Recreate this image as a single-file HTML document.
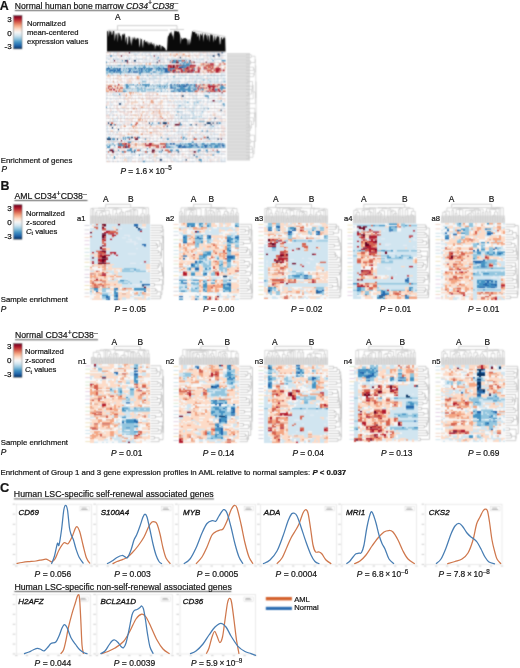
<!DOCTYPE html>
<html><head><meta charset="utf-8"><title>Figure</title>
<style>
html,body{margin:0;padding:0;background:#fff;}
body{width:520px;height:668px;overflow:hidden;}
svg{display:block;font-family:'Liberation Sans', Arial, Helvetica, sans-serif;}
text{fill:#141414;stroke:#141414;stroke-width:0.2px;}
</style></head><body><div>
<svg width="520" height="668" viewBox="0 0 520 668">
<defs><filter id="soft" x="0" y="0" width="520" height="668" filterUnits="userSpaceOnUse" color-interpolation-filters="sRGB"><feConvolveMatrix order="3" kernelMatrix="1 2 1 2 8 2 1 2 1" divisor="20" edgeMode="duplicate"/></filter></defs>
<g filter="url(#soft)"><rect width="520" height="668" fill="#fff"/>
<defs><linearGradient id="rdbu" x1="0" y1="0" x2="0" y2="1">
<stop offset="0" stop-color="#67001f"/><stop offset="0.1" stop-color="#b2182b"/><stop offset="0.2" stop-color="#d6604d"/>
<stop offset="0.3" stop-color="#f4a582"/><stop offset="0.4" stop-color="#fddbc7"/><stop offset="0.5" stop-color="#f7f7f7"/>
<stop offset="0.6" stop-color="#d1e5f0"/><stop offset="0.7" stop-color="#92c5de"/><stop offset="0.8" stop-color="#4393c3"/>
<stop offset="0.9" stop-color="#2166ac"/><stop offset="1" stop-color="#053061"/></linearGradient></defs>
<rect x="14.8" y="10.20" width="163.20" height="0.8" fill="#2a2a2a"/>
<rect x="13.7" y="15.6" width="8.30" height="33.30" fill="url(#rdbu)" stroke="#5a5a5a" stroke-width="0.45"/>
<rect x="106" y="52" width="119.60" height="110.30" fill="#ffffff"/>
<path fill="#fddbc7" d="M107.0 52.0h1.0v1.6h-1.0zM178.8 52.0h2.0v1.6h-2.0zM159.8 53.6h1.0v1.6h-1.0zM172.8 53.6h2.0v1.6h-2.0zM178.8 53.6h1.0v1.6h-1.0zM198.7 53.6h1.0v1.6h-1.0zM169.8 55.2h1.0v1.6h-1.0zM172.8 55.2h2.0v1.6h-2.0zM178.8 55.2h1.0v1.6h-1.0zM181.7 55.2h2.0v1.6h-2.0zM196.7 55.2h1.0v1.6h-1.0zM189.7 56.8h1.0v1.6h-1.0zM106.0 63.2h1.0v1.6h-1.0zM121.0 63.2h1.0v1.6h-1.0zM125.9 63.2h2.0v1.6h-2.0zM132.9 63.2h1.0v1.6h-1.0zM139.9 63.2h2.0v1.6h-2.0zM162.8 63.2h1.0v1.6h-1.0zM175.8 63.2h2.0v1.6h-2.0zM199.7 63.2h1.0v1.6h-1.0zM205.7 63.2h2.0v1.6h-2.0zM208.7 63.2h1.0v1.6h-1.0zM213.6 63.2h2.0v1.6h-2.0zM218.6 63.2h1.0v1.6h-1.0zM220.6 63.2h3.0v1.6h-3.0zM174.8 64.8h1.0v1.6h-1.0zM203.7 64.8h2.0v1.6h-2.0zM214.6 64.8h1.0v1.6h-1.0zM217.6 64.8h1.0v1.6h-1.0zM177.8 66.4h1.0v1.6h-1.0zM195.7 66.4h1.0v1.6h-1.0zM223.6 66.4h1.0v1.6h-1.0zM181.7 68.0h1.0v1.6h-1.0zM189.7 68.0h2.0v1.6h-2.0zM195.7 68.0h1.0v1.6h-1.0zM209.7 68.0h1.0v1.6h-1.0zM220.6 68.0h1.0v1.6h-1.0zM223.6 68.0h2.0v1.6h-2.0zM175.8 69.6h5.0v1.6h-5.0zM203.7 69.6h2.0v1.6h-2.0zM170.8 71.2h1.0v1.6h-1.0zM179.8 71.2h1.0v1.6h-1.0zM193.7 71.2h1.0v1.6h-1.0zM208.7 71.2h1.0v1.6h-1.0zM213.6 71.2h2.0v1.6h-2.0zM203.7 72.8h2.0v1.6h-2.0zM210.6 72.8h1.0v1.6h-1.0zM117.0 74.4h1.0v1.6h-1.0zM107.0 76.0h3.0v1.6h-3.0zM119.0 76.0h2.0v1.6h-2.0zM137.9 76.0h2.0v1.6h-2.0zM113.0 77.6h1.0v1.6h-1.0zM117.0 77.6h1.0v1.6h-1.0zM138.9 77.6h1.0v1.6h-1.0zM119.0 79.2h2.0v1.6h-2.0zM128.9 79.2h2.0v1.6h-2.0zM117.0 80.8h1.0v1.6h-1.0zM128.9 80.8h2.0v1.6h-2.0zM106.0 84.0h2.0v1.6h-2.0zM109.0 84.0h4.0v1.6h-4.0zM121.0 84.0h1.0v1.6h-1.0zM197.7 84.0h2.0v1.6h-2.0zM200.7 84.0h1.0v1.6h-1.0zM204.7 84.0h3.0v1.6h-3.0zM209.7 84.0h1.0v1.6h-1.0zM211.6 84.0h1.0v1.6h-1.0zM214.6 84.0h3.0v1.6h-3.0zM219.6 84.0h1.0v1.6h-1.0zM222.6 84.0h2.0v1.6h-2.0zM106.0 85.6h1.0v1.6h-1.0zM118.0 85.6h4.0v1.6h-4.0zM196.7 85.6h1.0v1.6h-1.0zM199.7 85.6h8.0v1.6h-8.0zM215.6 85.6h1.0v1.6h-1.0zM217.6 85.6h3.0v1.6h-3.0zM224.6 85.6h1.0v1.6h-1.0zM109.0 87.2h3.0v1.6h-3.0zM115.0 87.2h2.0v1.6h-2.0zM118.0 87.2h2.0v1.6h-2.0zM195.7 87.2h1.0v1.6h-1.0zM198.7 87.2h1.0v1.6h-1.0zM204.7 87.2h1.0v1.6h-1.0zM206.7 87.2h2.0v1.6h-2.0zM210.6 87.2h2.0v1.6h-2.0zM214.6 87.2h5.0v1.6h-5.0zM107.0 88.8h2.0v1.6h-2.0zM115.0 88.8h4.0v1.6h-4.0zM120.0 88.8h3.0v1.6h-3.0zM198.7 88.8h1.0v1.6h-1.0zM200.7 88.8h1.0v1.6h-1.0zM203.7 88.8h4.0v1.6h-4.0zM210.6 88.8h1.0v1.6h-1.0zM219.6 88.8h1.0v1.6h-1.0zM110.0 90.4h3.0v1.6h-3.0zM202.7 90.4h3.0v1.6h-3.0zM208.7 90.4h1.0v1.6h-1.0zM220.6 90.4h1.0v1.6h-1.0zM134.9 92.0h2.0v1.6h-2.0zM153.8 92.0h1.0v1.6h-1.0zM181.7 92.0h1.0v1.6h-1.0zM136.9 93.6h1.0v1.6h-1.0zM138.9 93.6h3.0v1.6h-3.0zM124.9 95.2h1.0v1.6h-1.0zM146.9 95.2h1.0v1.6h-1.0zM161.8 95.2h1.0v1.6h-1.0zM164.8 95.2h2.0v1.6h-2.0zM127.9 96.8h3.0v1.6h-3.0zM145.9 96.8h1.0v1.6h-1.0zM151.8 96.8h1.0v1.6h-1.0zM180.8 96.8h1.0v1.6h-1.0zM192.7 96.8h1.0v1.6h-1.0zM219.6 96.8h2.0v1.6h-2.0zM125.9 98.4h2.0v1.6h-2.0zM140.9 98.4h3.0v1.6h-3.0zM146.9 98.4h1.0v1.6h-1.0zM180.8 98.4h1.0v1.6h-1.0zM186.7 98.4h1.0v1.6h-1.0zM217.6 98.4h1.0v1.6h-1.0zM219.6 98.4h2.0v1.6h-2.0zM134.9 100.0h1.0v1.6h-1.0zM160.8 100.0h2.0v1.6h-2.0zM168.8 100.0h2.0v1.6h-2.0zM172.8 100.0h1.0v1.6h-1.0zM130.9 101.6h7.0v1.6h-7.0zM159.8 101.6h3.0v1.6h-3.0zM214.6 101.6h1.0v1.6h-1.0zM124.9 103.2h1.0v1.6h-1.0zM130.9 103.2h2.0v1.6h-2.0zM148.9 103.2h1.0v1.6h-1.0zM157.8 103.2h4.0v1.6h-4.0zM106.0 104.8h1.0v1.6h-1.0zM133.9 104.8h1.0v1.6h-1.0zM147.9 104.8h2.0v1.6h-2.0zM161.8 104.8h1.0v1.6h-1.0zM121.9 106.4h3.0v1.6h-3.0zM142.9 106.4h2.0v1.6h-2.0zM161.8 106.4h1.0v1.6h-1.0zM127.9 107.9h1.0v1.6h-1.0zM160.8 107.9h1.0v1.6h-1.0zM150.8 109.5h1.0v1.6h-1.0zM155.8 109.5h2.0v1.6h-2.0zM218.6 109.5h2.0v1.6h-2.0zM141.9 111.1h3.0v1.6h-3.0zM159.8 111.1h1.0v1.6h-1.0zM166.8 111.1h1.0v1.6h-1.0zM139.9 112.7h1.0v1.6h-1.0zM141.9 112.7h1.0v1.6h-1.0zM145.9 112.7h1.0v1.6h-1.0zM150.8 112.7h3.0v1.6h-3.0zM159.8 112.7h3.0v1.6h-3.0zM166.8 112.7h1.0v1.6h-1.0zM116.0 114.3h1.0v1.6h-1.0zM132.9 114.3h4.0v1.6h-4.0zM159.8 114.3h2.0v1.6h-2.0zM165.8 114.3h1.0v1.6h-1.0zM169.8 114.3h1.0v1.6h-1.0zM212.6 114.3h3.0v1.6h-3.0zM135.9 115.9h1.0v1.6h-1.0zM137.9 115.9h1.0v1.6h-1.0zM139.9 115.9h2.0v1.6h-2.0zM147.9 115.9h2.0v1.6h-2.0zM153.8 115.9h1.0v1.6h-1.0zM166.8 115.9h1.0v1.6h-1.0zM169.8 115.9h1.0v1.6h-1.0zM112.0 117.5h1.0v1.6h-1.0zM131.9 117.5h2.0v1.6h-2.0zM137.9 117.5h1.0v1.6h-1.0zM112.0 119.1h1.0v1.6h-1.0zM128.9 119.1h1.0v1.6h-1.0zM144.9 119.1h1.0v1.6h-1.0zM149.9 119.1h1.0v1.6h-1.0zM208.7 119.1h2.0v1.6h-2.0zM224.6 119.1h1.0v1.6h-1.0zM131.9 120.7h1.0v1.6h-1.0zM137.9 120.7h1.0v1.6h-1.0zM151.8 120.7h1.0v1.6h-1.0zM206.7 120.7h2.0v1.6h-2.0zM109.0 125.5h1.0v1.6h-1.0zM121.0 125.5h1.0v1.6h-1.0zM122.9 125.5h1.0v1.6h-1.0zM150.8 125.5h1.0v1.6h-1.0zM155.8 125.5h3.0v1.6h-3.0zM173.8 125.5h2.0v1.6h-2.0zM199.7 125.5h1.0v1.6h-1.0zM116.0 127.1h1.0v1.6h-1.0zM134.9 127.1h3.0v1.6h-3.0zM140.9 127.1h3.0v1.6h-3.0zM148.9 127.1h1.0v1.6h-1.0zM158.8 127.1h3.0v1.6h-3.0zM198.7 127.1h1.0v1.6h-1.0zM145.9 128.7h2.0v1.6h-2.0zM152.8 128.7h2.0v1.6h-2.0zM160.8 128.7h1.0v1.6h-1.0zM111.0 130.3h2.0v1.6h-2.0zM130.9 130.3h1.0v1.6h-1.0zM133.9 130.3h4.0v1.6h-4.0zM146.9 130.3h1.0v1.6h-1.0zM153.8 130.3h1.0v1.6h-1.0zM221.6 130.3h1.0v1.6h-1.0zM119.0 131.9h1.0v1.6h-1.0zM135.9 131.9h3.0v1.6h-3.0zM146.9 131.9h1.0v1.6h-1.0zM148.9 131.9h1.0v1.6h-1.0zM154.8 131.9h1.0v1.6h-1.0zM158.8 131.9h1.0v1.6h-1.0zM194.7 131.9h2.0v1.6h-2.0zM128.9 133.5h3.0v1.6h-3.0zM159.8 133.5h2.0v1.6h-2.0zM188.7 133.5h1.0v1.6h-1.0zM210.6 133.5h1.0v1.6h-1.0zM219.6 133.5h2.0v1.6h-2.0zM122.9 135.1h2.0v1.6h-2.0zM159.8 135.1h1.0v1.6h-1.0zM161.8 135.1h1.0v1.6h-1.0zM188.7 135.1h1.0v1.6h-1.0zM203.7 135.1h1.0v1.6h-1.0zM219.6 135.1h1.0v1.6h-1.0zM223.6 135.1h1.0v1.6h-1.0zM146.9 139.9h3.0v1.6h-3.0zM108.0 141.5h2.0v1.6h-2.0zM123.9 141.5h1.0v1.6h-1.0zM130.9 141.5h3.0v1.6h-3.0zM165.8 141.5h1.0v1.6h-1.0zM126.9 143.1h1.0v1.6h-1.0zM136.9 143.1h1.0v1.6h-1.0zM140.9 143.1h2.0v1.6h-2.0zM143.9 143.1h1.0v1.6h-1.0zM145.9 143.1h3.0v1.6h-3.0zM157.8 143.1h1.0v1.6h-1.0zM126.9 144.7h1.0v1.6h-1.0zM137.9 144.7h7.0v1.6h-7.0zM161.8 144.7h3.0v1.6h-3.0zM121.0 146.3h2.0v1.6h-2.0zM129.9 146.3h1.0v1.6h-1.0zM131.9 146.3h3.0v1.6h-3.0zM135.9 146.3h1.0v1.6h-1.0zM142.9 146.3h1.0v1.6h-1.0zM144.9 146.3h1.0v1.6h-1.0zM152.8 146.3h1.0v1.6h-1.0zM157.8 147.9h1.0v1.6h-1.0zM113.0 152.7h1.0v1.6h-1.0zM153.8 152.7h1.0v1.6h-1.0zM200.7 152.7h1.0v1.6h-1.0zM203.7 152.7h1.0v1.6h-1.0zM111.0 154.3h2.0v1.6h-2.0zM121.9 154.3h1.0v1.6h-1.0zM153.8 154.3h4.0v1.6h-4.0zM209.7 154.3h3.0v1.6h-3.0zM153.8 155.9h2.0v1.6h-2.0zM124.9 157.5h1.0v1.6h-1.0zM195.7 157.5h2.0v1.6h-2.0zM123.9 159.1h3.0v1.6h-3.0zM154.8 159.1h1.0v1.6h-1.0zM212.6 159.1h1.0v1.6h-1.0zM216.6 159.1h1.0v1.6h-1.0zM218.6 159.1h1.0v1.6h-1.0zM107.0 160.7h1.0v1.6h-1.0zM125.9 160.7h1.0v1.6h-1.0zM154.8 160.7h1.0v1.6h-1.0zM198.7 160.7h2.0v1.6h-2.0z"/>
<path fill="#f7e4e0" d="M108.0 52.0h1.0v1.6h-1.0zM110.0 52.0h1.0v1.6h-1.0zM117.0 52.0h3.0v1.6h-3.0zM124.9 52.0h2.0v1.6h-2.0zM172.8 52.0h1.0v1.6h-1.0zM186.7 52.0h3.0v1.6h-3.0zM198.7 52.0h2.0v1.6h-2.0zM201.7 52.0h5.0v1.6h-5.0zM208.7 52.0h1.0v1.6h-1.0zM218.6 52.0h2.0v1.6h-2.0zM109.0 53.6h2.0v1.6h-2.0zM113.0 53.6h1.0v1.6h-1.0zM117.0 53.6h2.0v1.6h-2.0zM121.9 53.6h2.0v1.6h-2.0zM124.9 53.6h3.0v1.6h-3.0zM132.9 53.6h1.0v1.6h-1.0zM139.9 53.6h1.0v1.6h-1.0zM147.9 53.6h2.0v1.6h-2.0zM162.8 53.6h1.0v1.6h-1.0zM167.8 53.6h1.0v1.6h-1.0zM170.8 53.6h2.0v1.6h-2.0zM174.8 53.6h1.0v1.6h-1.0zM179.8 53.6h3.0v1.6h-3.0zM188.7 53.6h2.0v1.6h-2.0zM193.7 53.6h2.0v1.6h-2.0zM197.7 53.6h1.0v1.6h-1.0zM205.7 53.6h1.0v1.6h-1.0zM208.7 53.6h1.0v1.6h-1.0zM211.6 53.6h2.0v1.6h-2.0zM215.6 53.6h2.0v1.6h-2.0zM219.6 53.6h1.0v1.6h-1.0zM221.6 53.6h1.0v1.6h-1.0zM118.0 55.2h3.0v1.6h-3.0zM126.9 55.2h2.0v1.6h-2.0zM134.9 55.2h1.0v1.6h-1.0zM157.8 55.2h1.0v1.6h-1.0zM162.8 55.2h1.0v1.6h-1.0zM165.8 55.2h1.0v1.6h-1.0zM183.7 55.2h2.0v1.6h-2.0zM189.7 55.2h1.0v1.6h-1.0zM191.7 55.2h1.0v1.6h-1.0zM194.7 55.2h2.0v1.6h-2.0zM197.7 55.2h1.0v1.6h-1.0zM203.7 55.2h1.0v1.6h-1.0zM205.7 55.2h1.0v1.6h-1.0zM110.0 56.8h2.0v1.6h-2.0zM119.0 56.8h1.0v1.6h-1.0zM142.9 56.8h3.0v1.6h-3.0zM149.9 56.8h1.0v1.6h-1.0zM153.8 56.8h1.0v1.6h-1.0zM158.8 56.8h1.0v1.6h-1.0zM164.8 56.8h1.0v1.6h-1.0zM166.8 56.8h1.0v1.6h-1.0zM176.8 56.8h3.0v1.6h-3.0zM180.8 56.8h2.0v1.6h-2.0zM192.7 56.8h1.0v1.6h-1.0zM196.7 56.8h2.0v1.6h-2.0zM204.7 56.8h1.0v1.6h-1.0zM206.7 56.8h2.0v1.6h-2.0zM213.6 56.8h2.0v1.6h-2.0zM218.6 56.8h1.0v1.6h-1.0zM220.6 56.8h3.0v1.6h-3.0zM121.0 58.4h2.0v1.6h-2.0zM153.8 58.4h2.0v1.6h-2.0zM123.9 60.0h1.0v1.6h-1.0zM170.8 60.0h1.0v1.6h-1.0zM190.7 60.0h1.0v1.6h-1.0zM206.7 60.0h1.0v1.6h-1.0zM110.0 61.6h1.0v1.6h-1.0zM113.0 61.6h1.0v1.6h-1.0zM115.0 61.6h2.0v1.6h-2.0zM123.9 61.6h1.0v1.6h-1.0zM128.9 61.6h1.0v1.6h-1.0zM131.9 61.6h2.0v1.6h-2.0zM149.9 61.6h2.0v1.6h-2.0zM157.8 61.6h2.0v1.6h-2.0zM185.7 61.6h1.0v1.6h-1.0zM212.6 61.6h2.0v1.6h-2.0zM217.6 61.6h1.0v1.6h-1.0zM109.0 63.2h1.0v1.6h-1.0zM115.0 63.2h1.0v1.6h-1.0zM120.0 63.2h1.0v1.6h-1.0zM121.9 63.2h1.0v1.6h-1.0zM127.9 63.2h2.0v1.6h-2.0zM133.9 63.2h2.0v1.6h-2.0zM137.9 63.2h2.0v1.6h-2.0zM144.9 63.2h1.0v1.6h-1.0zM147.9 63.2h1.0v1.6h-1.0zM154.8 63.2h4.0v1.6h-4.0zM159.8 63.2h1.0v1.6h-1.0zM164.8 63.2h1.0v1.6h-1.0zM174.8 63.2h1.0v1.6h-1.0zM197.7 63.2h1.0v1.6h-1.0zM197.7 64.8h1.0v1.6h-1.0zM201.7 64.8h1.0v1.6h-1.0zM213.6 64.8h1.0v1.6h-1.0zM194.7 66.4h1.0v1.6h-1.0zM201.7 66.4h2.0v1.6h-2.0zM210.6 66.4h1.0v1.6h-1.0zM213.6 66.4h1.0v1.6h-1.0zM218.6 66.4h3.0v1.6h-3.0zM194.7 68.0h1.0v1.6h-1.0zM196.7 68.0h1.0v1.6h-1.0zM213.6 68.0h1.0v1.6h-1.0zM195.7 69.6h1.0v1.6h-1.0zM199.7 69.6h4.0v1.6h-4.0zM205.7 69.6h1.0v1.6h-1.0zM212.6 69.6h1.0v1.6h-1.0zM224.6 69.6h1.0v1.6h-1.0zM200.7 71.2h2.0v1.6h-2.0zM203.7 71.2h4.0v1.6h-4.0zM221.6 71.2h3.0v1.6h-3.0zM172.8 72.8h4.0v1.6h-4.0zM177.8 72.8h1.0v1.6h-1.0zM181.7 72.8h1.0v1.6h-1.0zM184.7 72.8h1.0v1.6h-1.0zM190.7 72.8h1.0v1.6h-1.0zM199.7 72.8h2.0v1.6h-2.0zM209.7 72.8h1.0v1.6h-1.0zM214.6 72.8h1.0v1.6h-1.0zM110.0 74.4h1.0v1.6h-1.0zM112.0 74.4h2.0v1.6h-2.0zM118.0 74.4h2.0v1.6h-2.0zM121.0 74.4h1.0v1.6h-1.0zM125.9 74.4h5.0v1.6h-5.0zM132.9 74.4h1.0v1.6h-1.0zM138.9 74.4h1.0v1.6h-1.0zM148.9 74.4h2.0v1.6h-2.0zM161.8 74.4h1.0v1.6h-1.0zM110.0 76.0h1.0v1.6h-1.0zM117.0 76.0h2.0v1.6h-2.0zM124.9 76.0h3.0v1.6h-3.0zM130.9 76.0h1.0v1.6h-1.0zM135.9 76.0h1.0v1.6h-1.0zM150.8 76.0h1.0v1.6h-1.0zM211.6 76.0h1.0v1.6h-1.0zM115.0 77.6h2.0v1.6h-2.0zM118.0 77.6h1.0v1.6h-1.0zM121.0 77.6h1.0v1.6h-1.0zM128.9 77.6h4.0v1.6h-4.0zM135.9 77.6h1.0v1.6h-1.0zM157.8 77.6h1.0v1.6h-1.0zM191.7 77.6h1.0v1.6h-1.0zM205.7 77.6h3.0v1.6h-3.0zM110.0 79.2h1.0v1.6h-1.0zM118.0 79.2h1.0v1.6h-1.0zM121.0 79.2h1.0v1.6h-1.0zM125.9 79.2h3.0v1.6h-3.0zM131.9 79.2h2.0v1.6h-2.0zM135.9 79.2h4.0v1.6h-4.0zM148.9 79.2h1.0v1.6h-1.0zM157.8 79.2h1.0v1.6h-1.0zM168.8 79.2h1.0v1.6h-1.0zM191.7 79.2h1.0v1.6h-1.0zM205.7 79.2h1.0v1.6h-1.0zM210.6 79.2h1.0v1.6h-1.0zM106.0 80.8h2.0v1.6h-2.0zM112.0 80.8h1.0v1.6h-1.0zM121.0 80.8h2.0v1.6h-2.0zM126.9 80.8h2.0v1.6h-2.0zM130.9 80.8h1.0v1.6h-1.0zM187.7 80.8h1.0v1.6h-1.0zM189.7 80.8h1.0v1.6h-1.0zM200.7 80.8h3.0v1.6h-3.0zM210.6 80.8h1.0v1.6h-1.0zM114.0 82.4h1.0v1.6h-1.0zM118.0 82.4h1.0v1.6h-1.0zM125.9 82.4h6.0v1.6h-6.0zM137.9 82.4h1.0v1.6h-1.0zM176.8 82.4h2.0v1.6h-2.0zM187.7 82.4h1.0v1.6h-1.0zM201.7 82.4h1.0v1.6h-1.0zM219.6 82.4h1.0v1.6h-1.0zM114.0 84.0h2.0v1.6h-2.0zM121.9 84.0h1.0v1.6h-1.0zM196.7 84.0h1.0v1.6h-1.0zM107.0 85.6h1.0v1.6h-1.0zM121.9 85.6h1.0v1.6h-1.0zM223.6 85.6h1.0v1.6h-1.0zM107.0 87.2h1.0v1.6h-1.0zM167.8 88.8h2.0v1.6h-2.0zM196.7 88.8h1.0v1.6h-1.0zM207.7 88.8h1.0v1.6h-1.0zM222.6 88.8h3.0v1.6h-3.0zM114.0 90.4h1.0v1.6h-1.0zM197.7 90.4h4.0v1.6h-4.0zM217.6 90.4h1.0v1.6h-1.0zM221.6 90.4h1.0v1.6h-1.0zM108.0 92.0h1.0v1.6h-1.0zM110.0 92.0h4.0v1.6h-4.0zM122.9 92.0h2.0v1.6h-2.0zM131.9 92.0h1.0v1.6h-1.0zM136.9 92.0h2.0v1.6h-2.0zM146.9 92.0h7.0v1.6h-7.0zM154.8 92.0h2.0v1.6h-2.0zM172.8 92.0h3.0v1.6h-3.0zM180.8 92.0h1.0v1.6h-1.0zM184.7 92.0h3.0v1.6h-3.0zM193.7 92.0h4.0v1.6h-4.0zM200.7 92.0h3.0v1.6h-3.0zM107.0 93.6h1.0v1.6h-1.0zM116.0 93.6h1.0v1.6h-1.0zM121.9 93.6h3.0v1.6h-3.0zM131.9 93.6h2.0v1.6h-2.0zM144.9 93.6h5.0v1.6h-5.0zM151.8 93.6h2.0v1.6h-2.0zM155.8 93.6h1.0v1.6h-1.0zM157.8 93.6h1.0v1.6h-1.0zM180.8 93.6h3.0v1.6h-3.0zM187.7 93.6h1.0v1.6h-1.0zM194.7 93.6h3.0v1.6h-3.0zM217.6 93.6h2.0v1.6h-2.0zM118.0 95.2h2.0v1.6h-2.0zM122.9 95.2h1.0v1.6h-1.0zM129.9 95.2h2.0v1.6h-2.0zM144.9 95.2h1.0v1.6h-1.0zM148.9 95.2h4.0v1.6h-4.0zM158.8 95.2h1.0v1.6h-1.0zM162.8 95.2h2.0v1.6h-2.0zM173.8 95.2h2.0v1.6h-2.0zM179.8 95.2h2.0v1.6h-2.0zM189.7 95.2h1.0v1.6h-1.0zM217.6 95.2h2.0v1.6h-2.0zM220.6 95.2h2.0v1.6h-2.0zM119.0 96.8h1.0v1.6h-1.0zM124.9 96.8h1.0v1.6h-1.0zM131.9 96.8h1.0v1.6h-1.0zM137.9 96.8h3.0v1.6h-3.0zM141.9 96.8h1.0v1.6h-1.0zM146.9 96.8h4.0v1.6h-4.0zM153.8 96.8h6.0v1.6h-6.0zM165.8 96.8h1.0v1.6h-1.0zM172.8 96.8h1.0v1.6h-1.0zM175.8 96.8h1.0v1.6h-1.0zM184.7 96.8h1.0v1.6h-1.0zM205.7 96.8h1.0v1.6h-1.0zM212.6 96.8h1.0v1.6h-1.0zM218.6 96.8h1.0v1.6h-1.0zM122.9 98.4h3.0v1.6h-3.0zM127.9 98.4h1.0v1.6h-1.0zM130.9 98.4h1.0v1.6h-1.0zM132.9 98.4h1.0v1.6h-1.0zM134.9 98.4h1.0v1.6h-1.0zM145.9 98.4h1.0v1.6h-1.0zM147.9 98.4h9.0v1.6h-9.0zM162.8 98.4h2.0v1.6h-2.0zM165.8 98.4h2.0v1.6h-2.0zM176.8 98.4h1.0v1.6h-1.0zM181.7 98.4h2.0v1.6h-2.0zM197.7 98.4h1.0v1.6h-1.0zM221.6 98.4h4.0v1.6h-4.0zM114.0 100.0h1.0v1.6h-1.0zM116.0 100.0h1.0v1.6h-1.0zM118.0 100.0h1.0v1.6h-1.0zM126.9 100.0h3.0v1.6h-3.0zM145.9 100.0h1.0v1.6h-1.0zM152.8 100.0h1.0v1.6h-1.0zM159.8 100.0h1.0v1.6h-1.0zM166.8 100.0h1.0v1.6h-1.0zM223.6 100.0h2.0v1.6h-2.0zM107.0 101.6h2.0v1.6h-2.0zM111.0 101.6h2.0v1.6h-2.0zM116.0 101.6h1.0v1.6h-1.0zM126.9 101.6h3.0v1.6h-3.0zM149.9 101.6h1.0v1.6h-1.0zM157.8 101.6h2.0v1.6h-2.0zM170.8 101.6h1.0v1.6h-1.0zM192.7 101.6h1.0v1.6h-1.0zM199.7 101.6h1.0v1.6h-1.0zM216.6 101.6h1.0v1.6h-1.0zM106.0 103.2h3.0v1.6h-3.0zM118.0 103.2h1.0v1.6h-1.0zM125.9 103.2h3.0v1.6h-3.0zM132.9 103.2h1.0v1.6h-1.0zM138.9 103.2h1.0v1.6h-1.0zM142.9 103.2h5.0v1.6h-5.0zM149.9 103.2h1.0v1.6h-1.0zM151.8 103.2h4.0v1.6h-4.0zM168.8 103.2h1.0v1.6h-1.0zM172.8 103.2h1.0v1.6h-1.0zM204.7 103.2h2.0v1.6h-2.0zM221.6 103.2h1.0v1.6h-1.0zM114.0 104.8h1.0v1.6h-1.0zM116.0 104.8h2.0v1.6h-2.0zM124.9 104.8h2.0v1.6h-2.0zM134.9 104.8h1.0v1.6h-1.0zM136.9 104.8h4.0v1.6h-4.0zM142.9 104.8h2.0v1.6h-2.0zM146.9 104.8h1.0v1.6h-1.0zM154.8 104.8h4.0v1.6h-4.0zM159.8 104.8h1.0v1.6h-1.0zM167.8 104.8h2.0v1.6h-2.0zM171.8 104.8h3.0v1.6h-3.0zM175.8 104.8h1.0v1.6h-1.0zM219.6 104.8h1.0v1.6h-1.0zM222.6 104.8h1.0v1.6h-1.0zM114.0 106.4h1.0v1.6h-1.0zM116.0 106.4h2.0v1.6h-2.0zM121.0 106.4h1.0v1.6h-1.0zM124.9 106.4h2.0v1.6h-2.0zM130.9 106.4h5.0v1.6h-5.0zM138.9 106.4h2.0v1.6h-2.0zM145.9 106.4h4.0v1.6h-4.0zM151.8 106.4h5.0v1.6h-5.0zM159.8 106.4h2.0v1.6h-2.0zM172.8 106.4h2.0v1.6h-2.0zM214.6 106.4h1.0v1.6h-1.0zM106.0 107.9h1.0v1.6h-1.0zM110.0 107.9h1.0v1.6h-1.0zM116.0 107.9h3.0v1.6h-3.0zM122.9 107.9h1.0v1.6h-1.0zM125.9 107.9h2.0v1.6h-2.0zM131.9 107.9h1.0v1.6h-1.0zM139.9 107.9h1.0v1.6h-1.0zM147.9 107.9h1.0v1.6h-1.0zM149.9 107.9h1.0v1.6h-1.0zM153.8 107.9h6.0v1.6h-6.0zM162.8 107.9h1.0v1.6h-1.0zM182.7 107.9h3.0v1.6h-3.0zM191.7 107.9h1.0v1.6h-1.0zM211.6 107.9h1.0v1.6h-1.0zM215.6 107.9h1.0v1.6h-1.0zM110.0 109.5h2.0v1.6h-2.0zM117.0 109.5h3.0v1.6h-3.0zM124.9 109.5h1.0v1.6h-1.0zM135.9 109.5h2.0v1.6h-2.0zM138.9 109.5h2.0v1.6h-2.0zM147.9 109.5h3.0v1.6h-3.0zM151.8 109.5h1.0v1.6h-1.0zM153.8 109.5h2.0v1.6h-2.0zM159.8 109.5h1.0v1.6h-1.0zM161.8 109.5h1.0v1.6h-1.0zM171.8 109.5h1.0v1.6h-1.0zM191.7 109.5h1.0v1.6h-1.0zM217.6 109.5h1.0v1.6h-1.0zM223.6 109.5h2.0v1.6h-2.0zM110.0 111.1h1.0v1.6h-1.0zM119.0 111.1h6.0v1.6h-6.0zM126.9 111.1h4.0v1.6h-4.0zM134.9 111.1h3.0v1.6h-3.0zM138.9 111.1h1.0v1.6h-1.0zM145.9 111.1h3.0v1.6h-3.0zM153.8 111.1h5.0v1.6h-5.0zM161.8 111.1h3.0v1.6h-3.0zM165.8 111.1h1.0v1.6h-1.0zM167.8 111.1h2.0v1.6h-2.0zM173.8 111.1h1.0v1.6h-1.0zM207.7 111.1h2.0v1.6h-2.0zM212.6 111.1h1.0v1.6h-1.0zM223.6 111.1h2.0v1.6h-2.0zM112.0 112.7h1.0v1.6h-1.0zM122.9 112.7h6.0v1.6h-6.0zM129.9 112.7h1.0v1.6h-1.0zM136.9 112.7h1.0v1.6h-1.0zM138.9 112.7h1.0v1.6h-1.0zM140.9 112.7h1.0v1.6h-1.0zM146.9 112.7h2.0v1.6h-2.0zM153.8 112.7h5.0v1.6h-5.0zM162.8 112.7h3.0v1.6h-3.0zM167.8 112.7h2.0v1.6h-2.0zM176.8 112.7h2.0v1.6h-2.0zM212.6 112.7h4.0v1.6h-4.0zM222.6 112.7h1.0v1.6h-1.0zM224.6 112.7h1.0v1.6h-1.0zM106.0 114.3h3.0v1.6h-3.0zM114.0 114.3h1.0v1.6h-1.0zM120.0 114.3h1.0v1.6h-1.0zM124.9 114.3h3.0v1.6h-3.0zM129.9 114.3h3.0v1.6h-3.0zM136.9 114.3h2.0v1.6h-2.0zM143.9 114.3h4.0v1.6h-4.0zM152.8 114.3h4.0v1.6h-4.0zM158.8 114.3h1.0v1.6h-1.0zM171.8 114.3h2.0v1.6h-2.0zM224.6 114.3h1.0v1.6h-1.0zM106.0 115.9h4.0v1.6h-4.0zM118.0 115.9h1.0v1.6h-1.0zM128.9 115.9h1.0v1.6h-1.0zM141.9 115.9h1.0v1.6h-1.0zM143.9 115.9h2.0v1.6h-2.0zM152.8 115.9h1.0v1.6h-1.0zM155.8 115.9h4.0v1.6h-4.0zM170.8 115.9h3.0v1.6h-3.0zM204.7 115.9h1.0v1.6h-1.0zM214.6 115.9h7.0v1.6h-7.0zM108.0 117.5h1.0v1.6h-1.0zM118.0 117.5h1.0v1.6h-1.0zM120.0 117.5h2.0v1.6h-2.0zM125.9 117.5h2.0v1.6h-2.0zM129.9 117.5h1.0v1.6h-1.0zM138.9 117.5h1.0v1.6h-1.0zM140.9 117.5h1.0v1.6h-1.0zM143.9 117.5h2.0v1.6h-2.0zM146.9 117.5h2.0v1.6h-2.0zM151.8 117.5h3.0v1.6h-3.0zM157.8 117.5h4.0v1.6h-4.0zM162.8 117.5h1.0v1.6h-1.0zM167.8 117.5h6.0v1.6h-6.0zM208.7 117.5h3.0v1.6h-3.0zM212.6 117.5h1.0v1.6h-1.0zM219.6 117.5h1.0v1.6h-1.0zM120.0 119.1h1.0v1.6h-1.0zM124.9 119.1h4.0v1.6h-4.0zM129.9 119.1h3.0v1.6h-3.0zM143.9 119.1h1.0v1.6h-1.0zM146.9 119.1h1.0v1.6h-1.0zM151.8 119.1h2.0v1.6h-2.0zM156.8 119.1h5.0v1.6h-5.0zM162.8 119.1h2.0v1.6h-2.0zM165.8 119.1h1.0v1.6h-1.0zM167.8 119.1h2.0v1.6h-2.0zM170.8 119.1h2.0v1.6h-2.0zM194.7 119.1h1.0v1.6h-1.0zM199.7 119.1h5.0v1.6h-5.0zM210.6 119.1h1.0v1.6h-1.0zM218.6 119.1h5.0v1.6h-5.0zM109.0 120.7h1.0v1.6h-1.0zM120.0 120.7h3.0v1.6h-3.0zM130.9 120.7h1.0v1.6h-1.0zM133.9 120.7h1.0v1.6h-1.0zM136.9 120.7h1.0v1.6h-1.0zM138.9 120.7h4.0v1.6h-4.0zM143.9 120.7h2.0v1.6h-2.0zM149.9 120.7h2.0v1.6h-2.0zM155.8 120.7h2.0v1.6h-2.0zM162.8 120.7h2.0v1.6h-2.0zM215.6 120.7h2.0v1.6h-2.0zM220.6 120.7h2.0v1.6h-2.0zM224.6 120.7h1.0v1.6h-1.0zM106.0 122.3h2.0v1.6h-2.0zM109.0 122.3h1.0v1.6h-1.0zM113.0 122.3h2.0v1.6h-2.0zM124.9 122.3h6.0v1.6h-6.0zM134.9 122.3h1.0v1.6h-1.0zM141.9 122.3h4.0v1.6h-4.0zM146.9 122.3h1.0v1.6h-1.0zM193.7 122.3h5.0v1.6h-5.0zM199.7 122.3h3.0v1.6h-3.0zM203.7 122.3h1.0v1.6h-1.0zM210.6 122.3h2.0v1.6h-2.0zM213.6 122.3h2.0v1.6h-2.0zM106.0 123.9h2.0v1.6h-2.0zM122.9 123.9h2.0v1.6h-2.0zM126.9 123.9h2.0v1.6h-2.0zM144.9 123.9h2.0v1.6h-2.0zM147.9 123.9h2.0v1.6h-2.0zM182.7 123.9h1.0v1.6h-1.0zM193.7 123.9h1.0v1.6h-1.0zM197.7 123.9h3.0v1.6h-3.0zM110.0 125.5h3.0v1.6h-3.0zM120.0 125.5h1.0v1.6h-1.0zM134.9 125.5h2.0v1.6h-2.0zM139.9 125.5h1.0v1.6h-1.0zM142.9 125.5h1.0v1.6h-1.0zM144.9 125.5h3.0v1.6h-3.0zM158.8 125.5h1.0v1.6h-1.0zM172.8 125.5h1.0v1.6h-1.0zM180.8 125.5h5.0v1.6h-5.0zM190.7 125.5h1.0v1.6h-1.0zM196.7 125.5h1.0v1.6h-1.0zM198.7 125.5h1.0v1.6h-1.0zM200.7 125.5h3.0v1.6h-3.0zM220.6 125.5h4.0v1.6h-4.0zM120.0 127.1h2.0v1.6h-2.0zM128.9 127.1h2.0v1.6h-2.0zM138.9 127.1h2.0v1.6h-2.0zM144.9 127.1h1.0v1.6h-1.0zM149.9 127.1h9.0v1.6h-9.0zM162.8 127.1h3.0v1.6h-3.0zM172.8 127.1h1.0v1.6h-1.0zM180.8 127.1h1.0v1.6h-1.0zM188.7 127.1h5.0v1.6h-5.0zM199.7 127.1h1.0v1.6h-1.0zM204.7 127.1h1.0v1.6h-1.0zM220.6 127.1h5.0v1.6h-5.0zM123.9 128.7h1.0v1.6h-1.0zM128.9 128.7h1.0v1.6h-1.0zM133.9 128.7h1.0v1.6h-1.0zM142.9 128.7h3.0v1.6h-3.0zM154.8 128.7h2.0v1.6h-2.0zM161.8 128.7h3.0v1.6h-3.0zM165.8 128.7h2.0v1.6h-2.0zM168.8 128.7h1.0v1.6h-1.0zM172.8 128.7h2.0v1.6h-2.0zM189.7 128.7h2.0v1.6h-2.0zM195.7 128.7h1.0v1.6h-1.0zM204.7 128.7h1.0v1.6h-1.0zM208.7 128.7h2.0v1.6h-2.0zM218.6 128.7h1.0v1.6h-1.0zM222.6 128.7h3.0v1.6h-3.0zM110.0 130.3h1.0v1.6h-1.0zM129.9 130.3h1.0v1.6h-1.0zM131.9 130.3h2.0v1.6h-2.0zM140.9 130.3h1.0v1.6h-1.0zM142.9 130.3h1.0v1.6h-1.0zM145.9 130.3h1.0v1.6h-1.0zM152.8 130.3h1.0v1.6h-1.0zM154.8 130.3h4.0v1.6h-4.0zM166.8 130.3h2.0v1.6h-2.0zM169.8 130.3h1.0v1.6h-1.0zM172.8 130.3h3.0v1.6h-3.0zM188.7 130.3h2.0v1.6h-2.0zM193.7 130.3h1.0v1.6h-1.0zM204.7 130.3h2.0v1.6h-2.0zM208.7 130.3h1.0v1.6h-1.0zM211.6 130.3h2.0v1.6h-2.0zM222.6 130.3h2.0v1.6h-2.0zM113.0 131.9h1.0v1.6h-1.0zM121.0 131.9h1.0v1.6h-1.0zM125.9 131.9h1.0v1.6h-1.0zM127.9 131.9h1.0v1.6h-1.0zM132.9 131.9h2.0v1.6h-2.0zM141.9 131.9h3.0v1.6h-3.0zM151.8 131.9h3.0v1.6h-3.0zM155.8 131.9h2.0v1.6h-2.0zM160.8 131.9h2.0v1.6h-2.0zM165.8 131.9h1.0v1.6h-1.0zM182.7 131.9h1.0v1.6h-1.0zM186.7 131.9h2.0v1.6h-2.0zM189.7 131.9h1.0v1.6h-1.0zM200.7 131.9h2.0v1.6h-2.0zM208.7 131.9h1.0v1.6h-1.0zM211.6 131.9h1.0v1.6h-1.0zM215.6 131.9h1.0v1.6h-1.0zM222.6 131.9h2.0v1.6h-2.0zM109.0 133.5h1.0v1.6h-1.0zM115.0 133.5h7.0v1.6h-7.0zM126.9 133.5h1.0v1.6h-1.0zM131.9 133.5h2.0v1.6h-2.0zM139.9 133.5h1.0v1.6h-1.0zM143.9 133.5h5.0v1.6h-5.0zM149.9 133.5h2.0v1.6h-2.0zM155.8 133.5h3.0v1.6h-3.0zM180.8 133.5h1.0v1.6h-1.0zM187.7 133.5h1.0v1.6h-1.0zM189.7 133.5h1.0v1.6h-1.0zM198.7 133.5h2.0v1.6h-2.0zM201.7 133.5h1.0v1.6h-1.0zM222.6 133.5h3.0v1.6h-3.0zM120.0 135.1h3.0v1.6h-3.0zM131.9 135.1h1.0v1.6h-1.0zM136.9 135.1h1.0v1.6h-1.0zM149.9 135.1h3.0v1.6h-3.0zM157.8 135.1h1.0v1.6h-1.0zM164.8 135.1h1.0v1.6h-1.0zM167.8 135.1h3.0v1.6h-3.0zM171.8 135.1h1.0v1.6h-1.0zM173.8 135.1h1.0v1.6h-1.0zM176.8 135.1h1.0v1.6h-1.0zM180.8 135.1h1.0v1.6h-1.0zM186.7 135.1h2.0v1.6h-2.0zM191.7 135.1h2.0v1.6h-2.0zM194.7 135.1h1.0v1.6h-1.0zM202.7 135.1h1.0v1.6h-1.0zM206.7 135.1h1.0v1.6h-1.0zM220.6 135.1h3.0v1.6h-3.0zM111.0 136.7h1.0v1.6h-1.0zM118.0 136.7h3.0v1.6h-3.0zM129.9 136.7h1.0v1.6h-1.0zM142.9 136.7h4.0v1.6h-4.0zM156.8 136.7h1.0v1.6h-1.0zM165.8 136.7h1.0v1.6h-1.0zM191.7 136.7h2.0v1.6h-2.0zM219.6 136.7h2.0v1.6h-2.0zM115.0 138.3h1.0v1.6h-1.0zM145.9 138.3h2.0v1.6h-2.0zM151.8 138.3h1.0v1.6h-1.0zM156.8 138.3h1.0v1.6h-1.0zM162.8 138.3h2.0v1.6h-2.0zM186.7 138.3h1.0v1.6h-1.0zM188.7 138.3h2.0v1.6h-2.0zM108.0 139.9h1.0v1.6h-1.0zM132.9 139.9h1.0v1.6h-1.0zM144.9 139.9h1.0v1.6h-1.0zM155.8 139.9h2.0v1.6h-2.0zM170.8 139.9h2.0v1.6h-2.0zM177.8 139.9h4.0v1.6h-4.0zM188.7 139.9h1.0v1.6h-1.0zM205.7 139.9h6.0v1.6h-6.0zM215.6 139.9h1.0v1.6h-1.0zM106.0 141.5h1.0v1.6h-1.0zM113.0 141.5h3.0v1.6h-3.0zM118.0 141.5h4.0v1.6h-4.0zM146.9 141.5h1.0v1.6h-1.0zM168.8 141.5h1.0v1.6h-1.0zM171.8 141.5h3.0v1.6h-3.0zM175.8 141.5h2.0v1.6h-2.0zM178.8 141.5h1.0v1.6h-1.0zM194.7 141.5h1.0v1.6h-1.0zM196.7 141.5h1.0v1.6h-1.0zM129.9 143.1h5.0v1.6h-5.0zM137.9 143.1h3.0v1.6h-3.0zM153.8 143.1h2.0v1.6h-2.0zM132.9 144.7h2.0v1.6h-2.0zM159.8 144.7h2.0v1.6h-2.0zM130.9 146.3h1.0v1.6h-1.0zM143.9 146.3h1.0v1.6h-1.0zM145.9 146.3h1.0v1.6h-1.0zM153.8 146.3h2.0v1.6h-2.0zM158.8 146.3h1.0v1.6h-1.0zM106.0 147.9h1.0v1.6h-1.0zM111.0 147.9h3.0v1.6h-3.0zM119.0 147.9h5.0v1.6h-5.0zM128.9 147.9h1.0v1.6h-1.0zM131.9 147.9h1.0v1.6h-1.0zM139.9 147.9h1.0v1.6h-1.0zM150.8 147.9h1.0v1.6h-1.0zM154.8 147.9h1.0v1.6h-1.0zM156.8 147.9h1.0v1.6h-1.0zM160.8 147.9h2.0v1.6h-2.0zM179.8 147.9h2.0v1.6h-2.0zM188.7 147.9h1.0v1.6h-1.0zM206.7 147.9h8.0v1.6h-8.0zM114.0 149.5h4.0v1.6h-4.0zM121.0 149.5h4.0v1.6h-4.0zM131.9 149.5h2.0v1.6h-2.0zM155.8 149.5h1.0v1.6h-1.0zM180.8 149.5h1.0v1.6h-1.0zM188.7 149.5h5.0v1.6h-5.0zM200.7 149.5h1.0v1.6h-1.0zM202.7 149.5h2.0v1.6h-2.0zM109.0 151.1h3.0v1.6h-3.0zM155.8 151.1h1.0v1.6h-1.0zM189.7 151.1h2.0v1.6h-2.0zM195.7 151.1h1.0v1.6h-1.0zM207.7 151.1h3.0v1.6h-3.0zM222.6 151.1h1.0v1.6h-1.0zM224.6 151.1h1.0v1.6h-1.0zM120.0 152.7h3.0v1.6h-3.0zM130.9 152.7h1.0v1.6h-1.0zM145.9 152.7h2.0v1.6h-2.0zM150.8 152.7h2.0v1.6h-2.0zM162.8 152.7h1.0v1.6h-1.0zM167.8 152.7h1.0v1.6h-1.0zM171.8 152.7h1.0v1.6h-1.0zM173.8 152.7h2.0v1.6h-2.0zM181.7 152.7h3.0v1.6h-3.0zM187.7 152.7h1.0v1.6h-1.0zM190.7 152.7h6.0v1.6h-6.0zM207.7 152.7h1.0v1.6h-1.0zM210.6 152.7h2.0v1.6h-2.0zM106.0 154.3h1.0v1.6h-1.0zM122.9 154.3h1.0v1.6h-1.0zM170.8 154.3h4.0v1.6h-4.0zM181.7 154.3h2.0v1.6h-2.0zM188.7 154.3h1.0v1.6h-1.0zM192.7 154.3h1.0v1.6h-1.0zM196.7 154.3h1.0v1.6h-1.0zM204.7 154.3h4.0v1.6h-4.0zM106.0 155.9h1.0v1.6h-1.0zM118.0 155.9h1.0v1.6h-1.0zM148.9 155.9h1.0v1.6h-1.0zM152.8 155.9h1.0v1.6h-1.0zM171.8 155.9h1.0v1.6h-1.0zM181.7 155.9h1.0v1.6h-1.0zM183.7 155.9h3.0v1.6h-3.0zM188.7 155.9h1.0v1.6h-1.0zM191.7 155.9h1.0v1.6h-1.0zM194.7 155.9h1.0v1.6h-1.0zM198.7 155.9h2.0v1.6h-2.0zM214.6 155.9h2.0v1.6h-2.0zM218.6 155.9h1.0v1.6h-1.0zM106.0 157.5h1.0v1.6h-1.0zM115.0 157.5h2.0v1.6h-2.0zM141.9 157.5h2.0v1.6h-2.0zM148.9 157.5h1.0v1.6h-1.0zM159.8 157.5h1.0v1.6h-1.0zM186.7 157.5h3.0v1.6h-3.0zM198.7 157.5h2.0v1.6h-2.0zM202.7 157.5h1.0v1.6h-1.0zM218.6 157.5h1.0v1.6h-1.0zM141.9 159.1h2.0v1.6h-2.0zM152.8 159.1h2.0v1.6h-2.0zM169.8 159.1h1.0v1.6h-1.0zM197.7 159.1h1.0v1.6h-1.0zM203.7 159.1h1.0v1.6h-1.0zM208.7 159.1h3.0v1.6h-3.0zM108.0 160.7h2.0v1.6h-2.0zM115.0 160.7h1.0v1.6h-1.0zM122.9 160.7h1.0v1.6h-1.0zM131.9 160.7h4.0v1.6h-4.0zM137.9 160.7h3.0v1.6h-3.0zM157.8 160.7h3.0v1.6h-3.0zM162.8 160.7h1.0v1.6h-1.0zM165.8 160.7h2.0v1.6h-2.0zM170.8 160.7h3.0v1.6h-3.0zM182.7 160.7h1.0v1.6h-1.0zM184.7 160.7h4.0v1.6h-4.0zM197.7 160.7h1.0v1.6h-1.0zM206.7 160.7h1.0v1.6h-1.0zM209.7 160.7h2.0v1.6h-2.0zM218.6 160.7h1.0v1.6h-1.0z"/>
<path fill="#e2ebf3" d="M114.0 52.0h2.0v1.6h-2.0zM129.9 52.0h5.0v1.6h-5.0zM136.9 52.0h3.0v1.6h-3.0zM142.9 52.0h9.0v1.6h-9.0zM158.8 52.0h2.0v1.6h-2.0zM161.8 52.0h1.0v1.6h-1.0zM175.8 52.0h3.0v1.6h-3.0zM191.7 52.0h1.0v1.6h-1.0zM206.7 52.0h1.0v1.6h-1.0zM211.6 52.0h3.0v1.6h-3.0zM217.6 52.0h1.0v1.6h-1.0zM222.6 52.0h2.0v1.6h-2.0zM119.0 53.6h1.0v1.6h-1.0zM136.9 53.6h1.0v1.6h-1.0zM140.9 53.6h2.0v1.6h-2.0zM144.9 53.6h1.0v1.6h-1.0zM153.8 53.6h4.0v1.6h-4.0zM158.8 53.6h1.0v1.6h-1.0zM199.7 53.6h3.0v1.6h-3.0zM206.7 53.6h2.0v1.6h-2.0zM213.6 53.6h2.0v1.6h-2.0zM220.6 53.6h1.0v1.6h-1.0zM108.0 55.2h1.0v1.6h-1.0zM112.0 55.2h1.0v1.6h-1.0zM114.0 55.2h2.0v1.6h-2.0zM121.9 55.2h2.0v1.6h-2.0zM128.9 55.2h1.0v1.6h-1.0zM145.9 55.2h3.0v1.6h-3.0zM155.8 55.2h1.0v1.6h-1.0zM167.8 55.2h1.0v1.6h-1.0zM199.7 55.2h1.0v1.6h-1.0zM206.7 55.2h3.0v1.6h-3.0zM210.6 55.2h1.0v1.6h-1.0zM220.6 55.2h3.0v1.6h-3.0zM106.0 56.8h3.0v1.6h-3.0zM115.0 56.8h2.0v1.6h-2.0zM122.9 56.8h1.0v1.6h-1.0zM128.9 56.8h2.0v1.6h-2.0zM133.9 56.8h1.0v1.6h-1.0zM145.9 56.8h1.0v1.6h-1.0zM154.8 56.8h3.0v1.6h-3.0zM162.8 56.8h1.0v1.6h-1.0zM171.8 56.8h2.0v1.6h-2.0zM184.7 56.8h2.0v1.6h-2.0zM191.7 56.8h1.0v1.6h-1.0zM203.7 56.8h1.0v1.6h-1.0zM205.7 56.8h1.0v1.6h-1.0zM210.6 56.8h1.0v1.6h-1.0zM219.6 56.8h1.0v1.6h-1.0zM109.0 58.4h1.0v1.6h-1.0zM114.0 58.4h3.0v1.6h-3.0zM119.0 58.4h1.0v1.6h-1.0zM136.9 58.4h6.0v1.6h-6.0zM143.9 58.4h3.0v1.6h-3.0zM158.8 58.4h3.0v1.6h-3.0zM162.8 58.4h1.0v1.6h-1.0zM170.8 58.4h2.0v1.6h-2.0zM177.8 58.4h1.0v1.6h-1.0zM180.8 58.4h1.0v1.6h-1.0zM187.7 58.4h2.0v1.6h-2.0zM195.7 58.4h2.0v1.6h-2.0zM213.6 58.4h5.0v1.6h-5.0zM220.6 58.4h2.0v1.6h-2.0zM111.0 60.0h3.0v1.6h-3.0zM120.0 60.0h1.0v1.6h-1.0zM143.9 60.0h7.0v1.6h-7.0zM151.8 60.0h4.0v1.6h-4.0zM156.8 60.0h2.0v1.6h-2.0zM186.7 60.0h1.0v1.6h-1.0zM191.7 60.0h3.0v1.6h-3.0zM196.7 60.0h4.0v1.6h-4.0zM211.6 60.0h1.0v1.6h-1.0zM108.0 61.6h1.0v1.6h-1.0zM119.0 61.6h1.0v1.6h-1.0zM121.0 61.6h3.0v1.6h-3.0zM124.9 61.6h2.0v1.6h-2.0zM143.9 61.6h1.0v1.6h-1.0zM146.9 61.6h1.0v1.6h-1.0zM148.9 61.6h1.0v1.6h-1.0zM151.8 61.6h3.0v1.6h-3.0zM159.8 61.6h1.0v1.6h-1.0zM178.8 61.6h1.0v1.6h-1.0zM182.7 61.6h1.0v1.6h-1.0zM191.7 61.6h1.0v1.6h-1.0zM194.7 61.6h2.0v1.6h-2.0zM199.7 61.6h1.0v1.6h-1.0zM207.7 61.6h5.0v1.6h-5.0zM181.7 63.2h1.0v1.6h-1.0zM112.0 64.8h4.0v1.6h-4.0zM121.0 64.8h1.0v1.6h-1.0zM132.9 64.8h1.0v1.6h-1.0zM144.9 64.8h3.0v1.6h-3.0zM107.0 66.4h1.0v1.6h-1.0zM112.0 66.4h2.0v1.6h-2.0zM115.0 66.4h1.0v1.6h-1.0zM118.0 66.4h4.0v1.6h-4.0zM130.9 66.4h1.0v1.6h-1.0zM146.9 66.4h1.0v1.6h-1.0zM121.0 68.0h2.0v1.6h-2.0zM124.9 68.0h1.0v1.6h-1.0zM126.9 68.0h1.0v1.6h-1.0zM136.9 68.0h1.0v1.6h-1.0zM121.0 69.6h2.0v1.6h-2.0zM126.9 69.6h2.0v1.6h-2.0zM130.9 69.6h1.0v1.6h-1.0zM134.9 69.6h1.0v1.6h-1.0zM151.8 69.6h4.0v1.6h-4.0zM123.9 71.2h1.0v1.6h-1.0zM149.9 71.2h3.0v1.6h-3.0zM156.8 71.2h3.0v1.6h-3.0zM109.0 72.8h1.0v1.6h-1.0zM113.0 72.8h2.0v1.6h-2.0zM124.9 72.8h1.0v1.6h-1.0zM129.9 72.8h6.0v1.6h-6.0zM136.9 72.8h2.0v1.6h-2.0zM144.9 72.8h1.0v1.6h-1.0zM146.9 72.8h1.0v1.6h-1.0zM151.8 72.8h3.0v1.6h-3.0zM178.8 72.8h2.0v1.6h-2.0zM182.7 72.8h1.0v1.6h-1.0zM194.7 72.8h1.0v1.6h-1.0zM197.7 72.8h2.0v1.6h-2.0zM211.6 72.8h3.0v1.6h-3.0zM220.6 72.8h4.0v1.6h-4.0zM141.9 74.4h2.0v1.6h-2.0zM147.9 74.4h1.0v1.6h-1.0zM151.8 74.4h2.0v1.6h-2.0zM154.8 74.4h2.0v1.6h-2.0zM157.8 74.4h4.0v1.6h-4.0zM166.8 74.4h1.0v1.6h-1.0zM173.8 74.4h2.0v1.6h-2.0zM179.8 74.4h1.0v1.6h-1.0zM186.7 74.4h1.0v1.6h-1.0zM188.7 74.4h4.0v1.6h-4.0zM203.7 74.4h2.0v1.6h-2.0zM207.7 74.4h2.0v1.6h-2.0zM214.6 74.4h4.0v1.6h-4.0zM219.6 74.4h3.0v1.6h-3.0zM223.6 74.4h2.0v1.6h-2.0zM140.9 76.0h1.0v1.6h-1.0zM142.9 76.0h1.0v1.6h-1.0zM155.8 76.0h1.0v1.6h-1.0zM159.8 76.0h3.0v1.6h-3.0zM167.8 76.0h1.0v1.6h-1.0zM174.8 76.0h1.0v1.6h-1.0zM183.7 76.0h1.0v1.6h-1.0zM190.7 76.0h3.0v1.6h-3.0zM197.7 76.0h3.0v1.6h-3.0zM202.7 76.0h1.0v1.6h-1.0zM208.7 76.0h1.0v1.6h-1.0zM213.6 76.0h1.0v1.6h-1.0zM215.6 76.0h3.0v1.6h-3.0zM219.6 76.0h1.0v1.6h-1.0zM221.6 76.0h1.0v1.6h-1.0zM223.6 76.0h1.0v1.6h-1.0zM139.9 77.6h1.0v1.6h-1.0zM141.9 77.6h3.0v1.6h-3.0zM150.8 77.6h3.0v1.6h-3.0zM156.8 77.6h1.0v1.6h-1.0zM158.8 77.6h1.0v1.6h-1.0zM166.8 77.6h2.0v1.6h-2.0zM172.8 77.6h2.0v1.6h-2.0zM175.8 77.6h4.0v1.6h-4.0zM180.8 77.6h1.0v1.6h-1.0zM188.7 77.6h2.0v1.6h-2.0zM192.7 77.6h2.0v1.6h-2.0zM195.7 77.6h2.0v1.6h-2.0zM199.7 77.6h1.0v1.6h-1.0zM201.7 77.6h1.0v1.6h-1.0zM203.7 77.6h1.0v1.6h-1.0zM208.7 77.6h3.0v1.6h-3.0zM219.6 77.6h1.0v1.6h-1.0zM224.6 77.6h1.0v1.6h-1.0zM143.9 79.2h2.0v1.6h-2.0zM146.9 79.2h2.0v1.6h-2.0zM149.9 79.2h5.0v1.6h-5.0zM158.8 79.2h4.0v1.6h-4.0zM164.8 79.2h1.0v1.6h-1.0zM167.8 79.2h1.0v1.6h-1.0zM174.8 79.2h3.0v1.6h-3.0zM178.8 79.2h1.0v1.6h-1.0zM184.7 79.2h2.0v1.6h-2.0zM188.7 79.2h1.0v1.6h-1.0zM190.7 79.2h1.0v1.6h-1.0zM193.7 79.2h3.0v1.6h-3.0zM206.7 79.2h1.0v1.6h-1.0zM212.6 79.2h4.0v1.6h-4.0zM223.6 79.2h2.0v1.6h-2.0zM139.9 80.8h1.0v1.6h-1.0zM145.9 80.8h1.0v1.6h-1.0zM153.8 80.8h3.0v1.6h-3.0zM159.8 80.8h1.0v1.6h-1.0zM167.8 80.8h2.0v1.6h-2.0zM170.8 80.8h1.0v1.6h-1.0zM176.8 80.8h2.0v1.6h-2.0zM179.8 80.8h1.0v1.6h-1.0zM183.7 80.8h1.0v1.6h-1.0zM186.7 80.8h1.0v1.6h-1.0zM190.7 80.8h2.0v1.6h-2.0zM195.7 80.8h2.0v1.6h-2.0zM206.7 80.8h1.0v1.6h-1.0zM220.6 80.8h2.0v1.6h-2.0zM139.9 82.4h2.0v1.6h-2.0zM147.9 82.4h1.0v1.6h-1.0zM153.8 82.4h2.0v1.6h-2.0zM163.8 82.4h3.0v1.6h-3.0zM167.8 82.4h1.0v1.6h-1.0zM173.8 82.4h1.0v1.6h-1.0zM183.7 82.4h3.0v1.6h-3.0zM192.7 82.4h4.0v1.6h-4.0zM202.7 82.4h8.0v1.6h-8.0zM211.6 82.4h1.0v1.6h-1.0zM213.6 82.4h6.0v1.6h-6.0zM123.9 84.0h1.0v1.6h-1.0zM133.9 84.0h3.0v1.6h-3.0zM137.9 84.0h1.0v1.6h-1.0zM152.8 84.0h2.0v1.6h-2.0zM160.8 84.0h2.0v1.6h-2.0zM184.7 84.0h1.0v1.6h-1.0zM136.9 85.6h2.0v1.6h-2.0zM122.9 87.2h3.0v1.6h-3.0zM184.7 87.2h3.0v1.6h-3.0zM151.8 88.8h1.0v1.6h-1.0zM157.8 88.8h1.0v1.6h-1.0zM169.8 88.8h4.0v1.6h-4.0zM190.7 88.8h2.0v1.6h-2.0zM154.8 90.4h1.0v1.6h-1.0zM158.8 90.4h1.0v1.6h-1.0zM161.8 90.4h1.0v1.6h-1.0zM167.8 90.4h1.0v1.6h-1.0zM169.8 90.4h1.0v1.6h-1.0zM180.8 90.4h1.0v1.6h-1.0zM185.7 90.4h2.0v1.6h-2.0zM106.0 92.0h1.0v1.6h-1.0zM114.0 92.0h6.0v1.6h-6.0zM121.0 92.0h2.0v1.6h-2.0zM182.7 92.0h1.0v1.6h-1.0zM189.7 92.0h1.0v1.6h-1.0zM192.7 92.0h1.0v1.6h-1.0zM203.7 92.0h2.0v1.6h-2.0zM206.7 92.0h2.0v1.6h-2.0zM209.7 92.0h1.0v1.6h-1.0zM211.6 92.0h3.0v1.6h-3.0zM219.6 92.0h1.0v1.6h-1.0zM106.0 93.6h1.0v1.6h-1.0zM114.0 93.6h2.0v1.6h-2.0zM120.0 93.6h2.0v1.6h-2.0zM179.8 93.6h1.0v1.6h-1.0zM183.7 93.6h1.0v1.6h-1.0zM188.7 93.6h3.0v1.6h-3.0zM203.7 93.6h3.0v1.6h-3.0zM211.6 93.6h3.0v1.6h-3.0zM219.6 93.6h4.0v1.6h-4.0zM114.0 95.2h4.0v1.6h-4.0zM171.8 95.2h1.0v1.6h-1.0zM191.7 95.2h6.0v1.6h-6.0zM212.6 95.2h1.0v1.6h-1.0zM214.6 95.2h1.0v1.6h-1.0zM222.6 95.2h2.0v1.6h-2.0zM106.0 96.8h2.0v1.6h-2.0zM120.0 96.8h1.0v1.6h-1.0zM122.9 96.8h2.0v1.6h-2.0zM169.8 96.8h1.0v1.6h-1.0zM171.8 96.8h1.0v1.6h-1.0zM183.7 96.8h1.0v1.6h-1.0zM193.7 96.8h1.0v1.6h-1.0zM195.7 96.8h1.0v1.6h-1.0zM211.6 96.8h1.0v1.6h-1.0zM106.0 98.4h1.0v1.6h-1.0zM110.0 98.4h2.0v1.6h-2.0zM115.0 98.4h2.0v1.6h-2.0zM171.8 98.4h2.0v1.6h-2.0zM183.7 98.4h1.0v1.6h-1.0zM187.7 98.4h3.0v1.6h-3.0zM192.7 98.4h4.0v1.6h-4.0zM200.7 98.4h1.0v1.6h-1.0zM207.7 98.4h2.0v1.6h-2.0zM123.9 100.0h1.0v1.6h-1.0zM167.8 100.0h1.0v1.6h-1.0zM174.8 100.0h1.0v1.6h-1.0zM176.8 100.0h1.0v1.6h-1.0zM178.8 100.0h2.0v1.6h-2.0zM182.7 100.0h2.0v1.6h-2.0zM195.7 100.0h2.0v1.6h-2.0zM202.7 100.0h2.0v1.6h-2.0zM211.6 100.0h1.0v1.6h-1.0zM214.6 100.0h4.0v1.6h-4.0zM106.0 101.6h1.0v1.6h-1.0zM110.0 101.6h1.0v1.6h-1.0zM118.0 101.6h1.0v1.6h-1.0zM121.0 101.6h1.0v1.6h-1.0zM123.9 101.6h1.0v1.6h-1.0zM167.8 101.6h3.0v1.6h-3.0zM172.8 101.6h2.0v1.6h-2.0zM179.8 101.6h2.0v1.6h-2.0zM202.7 101.6h1.0v1.6h-1.0zM206.7 101.6h3.0v1.6h-3.0zM210.6 101.6h3.0v1.6h-3.0zM215.6 101.6h1.0v1.6h-1.0zM110.0 103.2h3.0v1.6h-3.0zM121.0 103.2h2.0v1.6h-2.0zM173.8 103.2h1.0v1.6h-1.0zM176.8 103.2h1.0v1.6h-1.0zM182.7 103.2h3.0v1.6h-3.0zM194.7 103.2h2.0v1.6h-2.0zM198.7 103.2h1.0v1.6h-1.0zM200.7 103.2h2.0v1.6h-2.0zM206.7 103.2h1.0v1.6h-1.0zM211.6 103.2h1.0v1.6h-1.0zM111.0 104.8h1.0v1.6h-1.0zM176.8 104.8h2.0v1.6h-2.0zM180.8 104.8h3.0v1.6h-3.0zM194.7 104.8h3.0v1.6h-3.0zM201.7 104.8h1.0v1.6h-1.0zM221.6 104.8h1.0v1.6h-1.0zM109.0 106.4h2.0v1.6h-2.0zM176.8 106.4h1.0v1.6h-1.0zM180.8 106.4h1.0v1.6h-1.0zM185.7 106.4h2.0v1.6h-2.0zM191.7 106.4h1.0v1.6h-1.0zM194.7 106.4h1.0v1.6h-1.0zM202.7 106.4h2.0v1.6h-2.0zM205.7 106.4h3.0v1.6h-3.0zM112.0 107.9h1.0v1.6h-1.0zM121.9 107.9h1.0v1.6h-1.0zM167.8 107.9h1.0v1.6h-1.0zM175.8 107.9h7.0v1.6h-7.0zM186.7 107.9h1.0v1.6h-1.0zM188.7 107.9h3.0v1.6h-3.0zM205.7 107.9h1.0v1.6h-1.0zM223.6 107.9h1.0v1.6h-1.0zM106.0 109.5h1.0v1.6h-1.0zM167.8 109.5h1.0v1.6h-1.0zM172.8 109.5h1.0v1.6h-1.0zM174.8 109.5h3.0v1.6h-3.0zM186.7 109.5h1.0v1.6h-1.0zM188.7 109.5h1.0v1.6h-1.0zM194.7 109.5h10.0v1.6h-10.0zM216.6 109.5h1.0v1.6h-1.0zM222.6 109.5h1.0v1.6h-1.0zM108.0 111.1h1.0v1.6h-1.0zM111.0 111.1h3.0v1.6h-3.0zM115.0 111.1h2.0v1.6h-2.0zM193.7 111.1h1.0v1.6h-1.0zM196.7 111.1h1.0v1.6h-1.0zM202.7 111.1h1.0v1.6h-1.0zM219.6 111.1h1.0v1.6h-1.0zM106.0 112.7h2.0v1.6h-2.0zM110.0 112.7h2.0v1.6h-2.0zM179.8 112.7h3.0v1.6h-3.0zM184.7 112.7h1.0v1.6h-1.0zM186.7 112.7h1.0v1.6h-1.0zM198.7 112.7h2.0v1.6h-2.0zM223.6 112.7h1.0v1.6h-1.0zM112.0 114.3h2.0v1.6h-2.0zM176.8 114.3h1.0v1.6h-1.0zM178.8 114.3h1.0v1.6h-1.0zM180.8 114.3h3.0v1.6h-3.0zM185.7 114.3h5.0v1.6h-5.0zM222.6 114.3h2.0v1.6h-2.0zM112.0 115.9h1.0v1.6h-1.0zM117.0 115.9h1.0v1.6h-1.0zM120.0 115.9h3.0v1.6h-3.0zM123.9 115.9h1.0v1.6h-1.0zM173.8 115.9h1.0v1.6h-1.0zM177.8 115.9h2.0v1.6h-2.0zM182.7 115.9h2.0v1.6h-2.0zM186.7 115.9h2.0v1.6h-2.0zM197.7 115.9h1.0v1.6h-1.0zM206.7 115.9h1.0v1.6h-1.0zM211.6 115.9h1.0v1.6h-1.0zM116.0 117.5h2.0v1.6h-2.0zM123.9 117.5h1.0v1.6h-1.0zM174.8 117.5h1.0v1.6h-1.0zM176.8 117.5h2.0v1.6h-2.0zM179.8 117.5h1.0v1.6h-1.0zM182.7 117.5h1.0v1.6h-1.0zM184.7 117.5h4.0v1.6h-4.0zM189.7 117.5h2.0v1.6h-2.0zM195.7 117.5h1.0v1.6h-1.0zM201.7 117.5h2.0v1.6h-2.0zM204.7 117.5h2.0v1.6h-2.0zM211.6 117.5h1.0v1.6h-1.0zM215.6 117.5h2.0v1.6h-2.0zM220.6 117.5h1.0v1.6h-1.0zM110.0 119.1h1.0v1.6h-1.0zM113.0 119.1h3.0v1.6h-3.0zM117.0 119.1h1.0v1.6h-1.0zM174.8 119.1h2.0v1.6h-2.0zM177.8 119.1h3.0v1.6h-3.0zM182.7 119.1h4.0v1.6h-4.0zM197.7 119.1h2.0v1.6h-2.0zM213.6 119.1h2.0v1.6h-2.0zM112.0 120.7h5.0v1.6h-5.0zM169.8 120.7h1.0v1.6h-1.0zM174.8 120.7h1.0v1.6h-1.0zM182.7 120.7h2.0v1.6h-2.0zM185.7 120.7h1.0v1.6h-1.0zM194.7 120.7h3.0v1.6h-3.0zM209.7 120.7h1.0v1.6h-1.0zM212.6 120.7h2.0v1.6h-2.0zM217.6 120.7h1.0v1.6h-1.0zM119.0 122.3h1.0v1.6h-1.0zM123.9 122.3h1.0v1.6h-1.0zM130.9 122.3h1.0v1.6h-1.0zM152.8 122.3h2.0v1.6h-2.0zM168.8 122.3h1.0v1.6h-1.0zM170.8 122.3h1.0v1.6h-1.0zM172.8 122.3h3.0v1.6h-3.0zM187.7 122.3h1.0v1.6h-1.0zM202.7 122.3h1.0v1.6h-1.0zM113.0 123.9h1.0v1.6h-1.0zM116.0 123.9h1.0v1.6h-1.0zM119.0 123.9h3.0v1.6h-3.0zM129.9 123.9h1.0v1.6h-1.0zM131.9 123.9h1.0v1.6h-1.0zM151.8 123.9h5.0v1.6h-5.0zM181.7 123.9h1.0v1.6h-1.0zM184.7 123.9h1.0v1.6h-1.0zM201.7 123.9h1.0v1.6h-1.0zM213.6 123.9h2.0v1.6h-2.0zM217.6 123.9h1.0v1.6h-1.0zM106.0 125.5h1.0v1.6h-1.0zM113.0 125.5h1.0v1.6h-1.0zM117.0 125.5h1.0v1.6h-1.0zM119.0 125.5h1.0v1.6h-1.0zM168.8 125.5h1.0v1.6h-1.0zM175.8 125.5h1.0v1.6h-1.0zM177.8 125.5h3.0v1.6h-3.0zM185.7 125.5h3.0v1.6h-3.0zM197.7 125.5h1.0v1.6h-1.0zM203.7 125.5h2.0v1.6h-2.0zM216.6 125.5h1.0v1.6h-1.0zM224.6 125.5h1.0v1.6h-1.0zM111.0 127.1h1.0v1.6h-1.0zM165.8 127.1h2.0v1.6h-2.0zM170.8 127.1h2.0v1.6h-2.0zM179.8 127.1h1.0v1.6h-1.0zM207.7 127.1h3.0v1.6h-3.0zM213.6 127.1h1.0v1.6h-1.0zM216.6 127.1h3.0v1.6h-3.0zM106.0 128.7h2.0v1.6h-2.0zM114.0 128.7h1.0v1.6h-1.0zM179.8 128.7h1.0v1.6h-1.0zM182.7 128.7h7.0v1.6h-7.0zM194.7 128.7h1.0v1.6h-1.0zM201.7 128.7h1.0v1.6h-1.0zM107.0 130.3h2.0v1.6h-2.0zM118.0 130.3h1.0v1.6h-1.0zM164.8 130.3h1.0v1.6h-1.0zM170.8 130.3h2.0v1.6h-2.0zM177.8 130.3h2.0v1.6h-2.0zM190.7 130.3h3.0v1.6h-3.0zM207.7 130.3h1.0v1.6h-1.0zM224.6 130.3h1.0v1.6h-1.0zM107.0 131.9h2.0v1.6h-2.0zM110.0 131.9h1.0v1.6h-1.0zM112.0 131.9h1.0v1.6h-1.0zM168.8 131.9h1.0v1.6h-1.0zM175.8 131.9h1.0v1.6h-1.0zM177.8 131.9h3.0v1.6h-3.0zM199.7 131.9h1.0v1.6h-1.0zM204.7 131.9h4.0v1.6h-4.0zM209.7 131.9h1.0v1.6h-1.0zM212.6 131.9h2.0v1.6h-2.0zM108.0 133.5h1.0v1.6h-1.0zM110.0 133.5h1.0v1.6h-1.0zM112.0 133.5h1.0v1.6h-1.0zM164.8 133.5h3.0v1.6h-3.0zM173.8 133.5h1.0v1.6h-1.0zM179.8 133.5h1.0v1.6h-1.0zM184.7 133.5h1.0v1.6h-1.0zM196.7 133.5h2.0v1.6h-2.0zM204.7 133.5h1.0v1.6h-1.0zM209.7 133.5h1.0v1.6h-1.0zM212.6 133.5h6.0v1.6h-6.0zM111.0 135.1h1.0v1.6h-1.0zM115.0 135.1h1.0v1.6h-1.0zM165.8 135.1h1.0v1.6h-1.0zM172.8 135.1h1.0v1.6h-1.0zM175.8 135.1h1.0v1.6h-1.0zM197.7 135.1h1.0v1.6h-1.0zM200.7 135.1h2.0v1.6h-2.0zM210.6 135.1h2.0v1.6h-2.0zM110.0 136.7h1.0v1.6h-1.0zM112.0 136.7h2.0v1.6h-2.0zM121.9 136.7h1.0v1.6h-1.0zM125.9 136.7h1.0v1.6h-1.0zM135.9 136.7h1.0v1.6h-1.0zM139.9 136.7h2.0v1.6h-2.0zM164.8 136.7h1.0v1.6h-1.0zM166.8 136.7h6.0v1.6h-6.0zM177.8 136.7h1.0v1.6h-1.0zM184.7 136.7h2.0v1.6h-2.0zM197.7 136.7h2.0v1.6h-2.0zM200.7 136.7h3.0v1.6h-3.0zM205.7 136.7h1.0v1.6h-1.0zM211.6 136.7h6.0v1.6h-6.0zM221.6 136.7h1.0v1.6h-1.0zM223.6 136.7h1.0v1.6h-1.0zM106.0 138.3h1.0v1.6h-1.0zM111.0 138.3h1.0v1.6h-1.0zM119.0 138.3h2.0v1.6h-2.0zM148.9 138.3h1.0v1.6h-1.0zM157.8 138.3h1.0v1.6h-1.0zM161.8 138.3h1.0v1.6h-1.0zM164.8 138.3h1.0v1.6h-1.0zM177.8 138.3h5.0v1.6h-5.0zM184.7 138.3h1.0v1.6h-1.0zM191.7 138.3h2.0v1.6h-2.0zM196.7 138.3h3.0v1.6h-3.0zM209.7 138.3h6.0v1.6h-6.0zM221.6 138.3h1.0v1.6h-1.0zM223.6 138.3h1.0v1.6h-1.0zM109.0 139.9h4.0v1.6h-4.0zM114.0 139.9h4.0v1.6h-4.0zM123.9 139.9h4.0v1.6h-4.0zM128.9 139.9h1.0v1.6h-1.0zM130.9 139.9h2.0v1.6h-2.0zM134.9 139.9h2.0v1.6h-2.0zM140.9 139.9h1.0v1.6h-1.0zM153.8 139.9h2.0v1.6h-2.0zM161.8 139.9h2.0v1.6h-2.0zM168.8 139.9h2.0v1.6h-2.0zM191.7 139.9h2.0v1.6h-2.0zM204.7 139.9h1.0v1.6h-1.0zM211.6 139.9h1.0v1.6h-1.0zM216.6 139.9h1.0v1.6h-1.0zM111.0 141.5h2.0v1.6h-2.0zM126.9 141.5h1.0v1.6h-1.0zM137.9 141.5h1.0v1.6h-1.0zM140.9 141.5h6.0v1.6h-6.0zM149.9 141.5h2.0v1.6h-2.0zM179.8 141.5h4.0v1.6h-4.0zM202.7 141.5h1.0v1.6h-1.0zM204.7 141.5h1.0v1.6h-1.0zM219.6 141.5h1.0v1.6h-1.0zM116.0 143.1h1.0v1.6h-1.0zM191.7 143.1h1.0v1.6h-1.0zM220.6 143.1h1.0v1.6h-1.0zM224.6 143.1h1.0v1.6h-1.0zM168.8 144.7h7.0v1.6h-7.0zM198.7 144.7h1.0v1.6h-1.0zM220.6 144.7h1.0v1.6h-1.0zM114.0 146.3h2.0v1.6h-2.0zM176.8 146.3h1.0v1.6h-1.0zM124.9 147.9h1.0v1.6h-1.0zM140.9 147.9h1.0v1.6h-1.0zM148.9 147.9h1.0v1.6h-1.0zM151.8 147.9h3.0v1.6h-3.0zM193.7 147.9h1.0v1.6h-1.0zM199.7 147.9h1.0v1.6h-1.0zM119.0 149.5h1.0v1.6h-1.0zM142.9 149.5h1.0v1.6h-1.0zM154.8 149.5h1.0v1.6h-1.0zM156.8 149.5h5.0v1.6h-5.0zM193.7 149.5h4.0v1.6h-4.0zM209.7 149.5h1.0v1.6h-1.0zM211.6 149.5h1.0v1.6h-1.0zM106.0 151.1h2.0v1.6h-2.0zM119.0 151.1h1.0v1.6h-1.0zM125.9 151.1h1.0v1.6h-1.0zM127.9 151.1h2.0v1.6h-2.0zM132.9 151.1h1.0v1.6h-1.0zM135.9 151.1h1.0v1.6h-1.0zM154.8 151.1h1.0v1.6h-1.0zM159.8 151.1h1.0v1.6h-1.0zM161.8 151.1h1.0v1.6h-1.0zM178.8 151.1h2.0v1.6h-2.0zM188.7 151.1h1.0v1.6h-1.0zM192.7 151.1h1.0v1.6h-1.0zM198.7 151.1h2.0v1.6h-2.0zM204.7 151.1h2.0v1.6h-2.0zM210.6 151.1h3.0v1.6h-3.0zM107.0 152.7h2.0v1.6h-2.0zM112.0 152.7h1.0v1.6h-1.0zM116.0 152.7h3.0v1.6h-3.0zM122.9 152.7h1.0v1.6h-1.0zM129.9 152.7h1.0v1.6h-1.0zM131.9 152.7h1.0v1.6h-1.0zM133.9 152.7h2.0v1.6h-2.0zM139.9 152.7h5.0v1.6h-5.0zM149.9 152.7h1.0v1.6h-1.0zM152.8 152.7h1.0v1.6h-1.0zM155.8 152.7h1.0v1.6h-1.0zM160.8 152.7h1.0v1.6h-1.0zM163.8 152.7h3.0v1.6h-3.0zM177.8 152.7h3.0v1.6h-3.0zM189.7 152.7h1.0v1.6h-1.0zM197.7 152.7h1.0v1.6h-1.0zM201.7 152.7h2.0v1.6h-2.0zM208.7 152.7h1.0v1.6h-1.0zM212.6 152.7h2.0v1.6h-2.0zM217.6 152.7h2.0v1.6h-2.0zM220.6 152.7h4.0v1.6h-4.0zM109.0 154.3h2.0v1.6h-2.0zM116.0 154.3h2.0v1.6h-2.0zM131.9 154.3h2.0v1.6h-2.0zM140.9 154.3h3.0v1.6h-3.0zM147.9 154.3h4.0v1.6h-4.0zM157.8 154.3h1.0v1.6h-1.0zM164.8 154.3h4.0v1.6h-4.0zM169.8 154.3h1.0v1.6h-1.0zM187.7 154.3h1.0v1.6h-1.0zM189.7 154.3h1.0v1.6h-1.0zM195.7 154.3h1.0v1.6h-1.0zM197.7 154.3h5.0v1.6h-5.0zM203.7 154.3h1.0v1.6h-1.0zM213.6 154.3h1.0v1.6h-1.0zM107.0 155.9h1.0v1.6h-1.0zM121.9 155.9h1.0v1.6h-1.0zM127.9 155.9h5.0v1.6h-5.0zM145.9 155.9h3.0v1.6h-3.0zM150.8 155.9h1.0v1.6h-1.0zM155.8 155.9h1.0v1.6h-1.0zM160.8 155.9h1.0v1.6h-1.0zM165.8 155.9h5.0v1.6h-5.0zM182.7 155.9h1.0v1.6h-1.0zM187.7 155.9h1.0v1.6h-1.0zM189.7 155.9h2.0v1.6h-2.0zM192.7 155.9h1.0v1.6h-1.0zM197.7 155.9h1.0v1.6h-1.0zM201.7 155.9h1.0v1.6h-1.0zM207.7 155.9h2.0v1.6h-2.0zM216.6 155.9h1.0v1.6h-1.0zM219.6 155.9h1.0v1.6h-1.0zM107.0 157.5h2.0v1.6h-2.0zM121.9 157.5h2.0v1.6h-2.0zM125.9 157.5h2.0v1.6h-2.0zM128.9 157.5h2.0v1.6h-2.0zM138.9 157.5h3.0v1.6h-3.0zM147.9 157.5h1.0v1.6h-1.0zM155.8 157.5h4.0v1.6h-4.0zM160.8 157.5h1.0v1.6h-1.0zM169.8 157.5h1.0v1.6h-1.0zM174.8 157.5h1.0v1.6h-1.0zM190.7 157.5h3.0v1.6h-3.0zM207.7 157.5h2.0v1.6h-2.0zM224.6 157.5h1.0v1.6h-1.0zM108.0 159.1h1.0v1.6h-1.0zM112.0 159.1h1.0v1.6h-1.0zM121.9 159.1h1.0v1.6h-1.0zM126.9 159.1h5.0v1.6h-5.0zM137.9 159.1h1.0v1.6h-1.0zM139.9 159.1h2.0v1.6h-2.0zM144.9 159.1h1.0v1.6h-1.0zM155.8 159.1h1.0v1.6h-1.0zM161.8 159.1h1.0v1.6h-1.0zM170.8 159.1h1.0v1.6h-1.0zM174.8 159.1h3.0v1.6h-3.0zM181.7 159.1h3.0v1.6h-3.0zM194.7 159.1h1.0v1.6h-1.0zM204.7 159.1h1.0v1.6h-1.0zM219.6 159.1h3.0v1.6h-3.0zM224.6 159.1h1.0v1.6h-1.0zM117.0 160.7h2.0v1.6h-2.0zM121.9 160.7h1.0v1.6h-1.0zM126.9 160.7h1.0v1.6h-1.0zM129.9 160.7h1.0v1.6h-1.0zM140.9 160.7h2.0v1.6h-2.0zM144.9 160.7h10.0v1.6h-10.0zM160.8 160.7h2.0v1.6h-2.0zM164.8 160.7h1.0v1.6h-1.0zM175.8 160.7h7.0v1.6h-7.0zM190.7 160.7h4.0v1.6h-4.0zM203.7 160.7h1.0v1.6h-1.0zM208.7 160.7h1.0v1.6h-1.0zM216.6 160.7h1.0v1.6h-1.0zM220.6 160.7h5.0v1.6h-5.0z"/>
<path fill="#d1e5f0" d="M116.0 52.0h1.0v1.6h-1.0zM171.8 52.0h1.0v1.6h-1.0zM133.9 53.6h3.0v1.6h-3.0zM149.9 53.6h1.0v1.6h-1.0zM165.8 53.6h1.0v1.6h-1.0zM149.9 55.2h2.0v1.6h-2.0zM209.7 55.2h1.0v1.6h-1.0zM125.9 56.8h1.0v1.6h-1.0zM135.9 56.8h1.0v1.6h-1.0zM150.8 56.8h2.0v1.6h-2.0zM209.7 56.8h1.0v1.6h-1.0zM108.0 58.4h1.0v1.6h-1.0zM117.0 58.4h2.0v1.6h-2.0zM126.9 58.4h1.0v1.6h-1.0zM135.9 58.4h1.0v1.6h-1.0zM155.8 58.4h1.0v1.6h-1.0zM161.8 58.4h1.0v1.6h-1.0zM166.8 58.4h3.0v1.6h-3.0zM172.8 58.4h5.0v1.6h-5.0zM181.7 58.4h6.0v1.6h-6.0zM193.7 58.4h1.0v1.6h-1.0zM198.7 58.4h1.0v1.6h-1.0zM200.7 58.4h3.0v1.6h-3.0zM207.7 58.4h1.0v1.6h-1.0zM218.6 58.4h2.0v1.6h-2.0zM177.8 63.2h2.0v1.6h-2.0zM106.0 64.8h6.0v1.6h-6.0zM116.0 64.8h2.0v1.6h-2.0zM121.9 64.8h2.0v1.6h-2.0zM124.9 64.8h8.0v1.6h-8.0zM133.9 64.8h3.0v1.6h-3.0zM137.9 64.8h1.0v1.6h-1.0zM139.9 64.8h1.0v1.6h-1.0zM142.9 64.8h1.0v1.6h-1.0zM147.9 64.8h5.0v1.6h-5.0zM154.8 64.8h1.0v1.6h-1.0zM156.8 64.8h3.0v1.6h-3.0zM162.8 64.8h2.0v1.6h-2.0zM106.0 66.4h1.0v1.6h-1.0zM109.0 66.4h2.0v1.6h-2.0zM116.0 66.4h2.0v1.6h-2.0zM121.9 66.4h9.0v1.6h-9.0zM131.9 66.4h2.0v1.6h-2.0zM135.9 66.4h3.0v1.6h-3.0zM140.9 66.4h2.0v1.6h-2.0zM145.9 66.4h1.0v1.6h-1.0zM149.9 66.4h4.0v1.6h-4.0zM159.8 66.4h1.0v1.6h-1.0zM163.8 66.4h4.0v1.6h-4.0zM152.8 68.0h1.0v1.6h-1.0zM123.9 69.6h1.0v1.6h-1.0zM156.8 69.6h1.0v1.6h-1.0zM131.9 71.2h1.0v1.6h-1.0zM159.8 71.2h1.0v1.6h-1.0zM108.0 72.8h1.0v1.6h-1.0zM110.0 72.8h1.0v1.6h-1.0zM115.0 72.8h5.0v1.6h-5.0zM121.0 72.8h4.0v1.6h-4.0zM125.9 72.8h4.0v1.6h-4.0zM135.9 72.8h1.0v1.6h-1.0zM140.9 72.8h4.0v1.6h-4.0zM145.9 72.8h1.0v1.6h-1.0zM147.9 72.8h3.0v1.6h-3.0zM154.8 72.8h4.0v1.6h-4.0zM162.8 72.8h5.0v1.6h-5.0zM156.8 74.4h1.0v1.6h-1.0zM178.8 74.4h1.0v1.6h-1.0zM180.8 74.4h6.0v1.6h-6.0zM197.7 74.4h1.0v1.6h-1.0zM206.7 74.4h1.0v1.6h-1.0zM212.6 74.4h2.0v1.6h-2.0zM222.6 74.4h1.0v1.6h-1.0zM146.9 76.0h2.0v1.6h-2.0zM151.8 76.0h4.0v1.6h-4.0zM158.8 76.0h1.0v1.6h-1.0zM165.8 76.0h2.0v1.6h-2.0zM169.8 76.0h1.0v1.6h-1.0zM179.8 76.0h1.0v1.6h-1.0zM182.7 76.0h1.0v1.6h-1.0zM189.7 76.0h1.0v1.6h-1.0zM193.7 76.0h2.0v1.6h-2.0zM196.7 76.0h1.0v1.6h-1.0zM200.7 76.0h2.0v1.6h-2.0zM206.7 76.0h2.0v1.6h-2.0zM212.6 76.0h1.0v1.6h-1.0zM220.6 76.0h1.0v1.6h-1.0zM140.9 77.6h1.0v1.6h-1.0zM144.9 77.6h1.0v1.6h-1.0zM148.9 77.6h2.0v1.6h-2.0zM153.8 77.6h3.0v1.6h-3.0zM159.8 77.6h1.0v1.6h-1.0zM163.8 77.6h2.0v1.6h-2.0zM179.8 77.6h1.0v1.6h-1.0zM184.7 77.6h2.0v1.6h-2.0zM190.7 77.6h1.0v1.6h-1.0zM197.7 77.6h2.0v1.6h-2.0zM200.7 77.6h1.0v1.6h-1.0zM213.6 77.6h1.0v1.6h-1.0zM216.6 77.6h2.0v1.6h-2.0zM222.6 77.6h2.0v1.6h-2.0zM139.9 79.2h3.0v1.6h-3.0zM145.9 79.2h1.0v1.6h-1.0zM169.8 79.2h1.0v1.6h-1.0zM172.8 79.2h1.0v1.6h-1.0zM196.7 79.2h1.0v1.6h-1.0zM200.7 79.2h2.0v1.6h-2.0zM204.7 79.2h1.0v1.6h-1.0zM208.7 79.2h2.0v1.6h-2.0zM211.6 79.2h1.0v1.6h-1.0zM216.6 79.2h2.0v1.6h-2.0zM222.6 79.2h1.0v1.6h-1.0zM157.8 80.8h2.0v1.6h-2.0zM171.8 80.8h5.0v1.6h-5.0zM188.7 80.8h1.0v1.6h-1.0zM193.7 80.8h1.0v1.6h-1.0zM198.7 80.8h2.0v1.6h-2.0zM208.7 80.8h1.0v1.6h-1.0zM211.6 80.8h1.0v1.6h-1.0zM213.6 80.8h1.0v1.6h-1.0zM215.6 80.8h3.0v1.6h-3.0zM222.6 80.8h1.0v1.6h-1.0zM141.9 82.4h1.0v1.6h-1.0zM144.9 82.4h1.0v1.6h-1.0zM148.9 82.4h1.0v1.6h-1.0zM158.8 82.4h1.0v1.6h-1.0zM170.8 82.4h3.0v1.6h-3.0zM174.8 82.4h1.0v1.6h-1.0zM199.7 82.4h2.0v1.6h-2.0zM220.6 82.4h1.0v1.6h-1.0zM127.9 84.0h1.0v1.6h-1.0zM138.9 84.0h1.0v1.6h-1.0zM154.8 84.0h2.0v1.6h-2.0zM157.8 84.0h1.0v1.6h-1.0zM162.8 84.0h3.0v1.6h-3.0zM171.8 84.0h2.0v1.6h-2.0zM179.8 84.0h1.0v1.6h-1.0zM123.9 85.6h2.0v1.6h-2.0zM128.9 85.6h2.0v1.6h-2.0zM138.9 85.6h6.0v1.6h-6.0zM146.9 85.6h1.0v1.6h-1.0zM148.9 85.6h2.0v1.6h-2.0zM154.8 85.6h2.0v1.6h-2.0zM160.8 85.6h1.0v1.6h-1.0zM162.8 85.6h1.0v1.6h-1.0zM165.8 85.6h1.0v1.6h-1.0zM191.7 85.6h1.0v1.6h-1.0zM131.9 87.2h2.0v1.6h-2.0zM134.9 87.2h2.0v1.6h-2.0zM138.9 87.2h2.0v1.6h-2.0zM141.9 87.2h2.0v1.6h-2.0zM149.9 87.2h5.0v1.6h-5.0zM156.8 87.2h2.0v1.6h-2.0zM161.8 87.2h2.0v1.6h-2.0zM175.8 87.2h4.0v1.6h-4.0zM124.9 88.8h7.0v1.6h-7.0zM132.9 88.8h4.0v1.6h-4.0zM145.9 88.8h1.0v1.6h-1.0zM154.8 88.8h1.0v1.6h-1.0zM158.8 88.8h2.0v1.6h-2.0zM161.8 88.8h1.0v1.6h-1.0zM126.9 90.4h1.0v1.6h-1.0zM129.9 90.4h7.0v1.6h-7.0zM138.9 90.4h1.0v1.6h-1.0zM146.9 90.4h8.0v1.6h-8.0zM155.8 90.4h1.0v1.6h-1.0zM162.8 90.4h3.0v1.6h-3.0zM112.0 93.6h2.0v1.6h-2.0zM223.6 93.6h1.0v1.6h-1.0zM175.8 95.2h2.0v1.6h-2.0zM215.6 95.2h2.0v1.6h-2.0zM196.7 98.4h1.0v1.6h-1.0zM184.7 100.0h1.0v1.6h-1.0zM197.7 100.0h4.0v1.6h-4.0zM207.7 100.0h1.0v1.6h-1.0zM218.6 100.0h1.0v1.6h-1.0zM175.8 101.6h2.0v1.6h-2.0zM178.8 101.6h1.0v1.6h-1.0zM183.7 101.6h2.0v1.6h-2.0zM194.7 101.6h2.0v1.6h-2.0zM218.6 101.6h2.0v1.6h-2.0zM181.7 103.2h1.0v1.6h-1.0zM189.7 103.2h1.0v1.6h-1.0zM197.7 103.2h1.0v1.6h-1.0zM183.7 104.8h1.0v1.6h-1.0zM187.7 104.8h1.0v1.6h-1.0zM193.7 104.8h1.0v1.6h-1.0zM200.7 104.8h1.0v1.6h-1.0zM177.8 106.4h2.0v1.6h-2.0zM187.7 106.4h1.0v1.6h-1.0zM192.7 106.4h2.0v1.6h-2.0zM200.7 106.4h1.0v1.6h-1.0zM204.7 106.4h1.0v1.6h-1.0zM192.7 107.9h2.0v1.6h-2.0zM200.7 107.9h1.0v1.6h-1.0zM123.9 109.5h1.0v1.6h-1.0zM184.7 109.5h1.0v1.6h-1.0zM187.7 109.5h1.0v1.6h-1.0zM189.7 109.5h2.0v1.6h-2.0zM192.7 109.5h2.0v1.6h-2.0zM204.7 109.5h1.0v1.6h-1.0zM178.8 111.1h4.0v1.6h-4.0zM190.7 111.1h3.0v1.6h-3.0zM190.7 112.7h1.0v1.6h-1.0zM196.7 112.7h1.0v1.6h-1.0zM200.7 112.7h2.0v1.6h-2.0zM109.0 114.3h1.0v1.6h-1.0zM177.8 114.3h1.0v1.6h-1.0zM183.7 114.3h2.0v1.6h-2.0zM192.7 114.3h2.0v1.6h-2.0zM200.7 114.3h1.0v1.6h-1.0zM184.7 115.9h2.0v1.6h-2.0zM188.7 115.9h1.0v1.6h-1.0zM192.7 115.9h5.0v1.6h-5.0zM181.7 117.5h1.0v1.6h-1.0zM183.7 117.5h1.0v1.6h-1.0zM188.7 117.5h1.0v1.6h-1.0zM192.7 117.5h3.0v1.6h-3.0zM203.7 117.5h1.0v1.6h-1.0zM186.7 119.1h1.0v1.6h-1.0zM193.7 119.1h1.0v1.6h-1.0zM175.8 120.7h1.0v1.6h-1.0zM186.7 120.7h1.0v1.6h-1.0zM210.6 120.7h2.0v1.6h-2.0zM107.0 125.5h1.0v1.6h-1.0zM191.7 125.5h1.0v1.6h-1.0zM208.7 125.5h4.0v1.6h-4.0zM107.0 127.1h1.0v1.6h-1.0zM178.8 127.1h1.0v1.6h-1.0zM210.6 127.1h2.0v1.6h-2.0zM178.8 128.7h1.0v1.6h-1.0zM210.6 128.7h1.0v1.6h-1.0zM213.6 128.7h1.0v1.6h-1.0zM181.7 130.3h1.0v1.6h-1.0zM116.0 131.9h2.0v1.6h-2.0zM176.8 131.9h1.0v1.6h-1.0zM181.7 131.9h1.0v1.6h-1.0zM210.6 131.9h1.0v1.6h-1.0zM181.7 133.5h2.0v1.6h-2.0zM185.7 133.5h2.0v1.6h-2.0zM194.7 133.5h1.0v1.6h-1.0zM181.7 135.1h2.0v1.6h-2.0zM207.7 135.1h1.0v1.6h-1.0zM113.0 139.9h1.0v1.6h-1.0zM107.0 143.1h5.0v1.6h-5.0zM117.0 143.1h1.0v1.6h-1.0zM168.8 143.1h1.0v1.6h-1.0zM174.8 143.1h5.0v1.6h-5.0zM180.8 143.1h1.0v1.6h-1.0zM183.7 143.1h1.0v1.6h-1.0zM192.7 143.1h1.0v1.6h-1.0zM196.7 143.1h4.0v1.6h-4.0zM204.7 143.1h2.0v1.6h-2.0zM208.7 143.1h2.0v1.6h-2.0zM111.0 144.7h2.0v1.6h-2.0zM115.0 144.7h1.0v1.6h-1.0zM181.7 144.7h2.0v1.6h-2.0zM187.7 144.7h1.0v1.6h-1.0zM197.7 144.7h1.0v1.6h-1.0zM199.7 144.7h1.0v1.6h-1.0zM202.7 144.7h1.0v1.6h-1.0zM173.8 146.3h3.0v1.6h-3.0zM199.7 146.3h1.0v1.6h-1.0zM212.6 146.3h1.0v1.6h-1.0zM220.6 146.3h2.0v1.6h-2.0zM135.9 147.9h1.0v1.6h-1.0zM172.8 147.9h1.0v1.6h-1.0zM194.7 147.9h1.0v1.6h-1.0zM202.7 147.9h3.0v1.6h-3.0zM144.9 152.7h1.0v1.6h-1.0zM166.8 152.7h1.0v1.6h-1.0zM199.7 152.7h1.0v1.6h-1.0zM133.9 154.3h1.0v1.6h-1.0zM125.9 155.9h1.0v1.6h-1.0zM151.8 155.9h1.0v1.6h-1.0zM112.0 157.5h1.0v1.6h-1.0zM127.9 157.5h1.0v1.6h-1.0zM151.8 159.1h1.0v1.6h-1.0zM172.8 159.1h2.0v1.6h-2.0zM206.7 159.1h1.0v1.6h-1.0zM217.6 159.1h1.0v1.6h-1.0zM223.6 159.1h1.0v1.6h-1.0zM163.8 160.7h1.0v1.6h-1.0z"/>
<path fill="#67001f" d="M128.9 52.0h1.0v1.6h-1.0zM121.0 55.2h1.0v1.6h-1.0zM153.8 55.2h1.0v1.6h-1.0zM114.0 60.0h1.0v1.6h-1.0zM126.9 60.0h1.0v1.6h-1.0zM158.8 60.0h1.0v1.6h-1.0zM183.7 60.0h1.0v1.6h-1.0zM189.7 60.0h1.0v1.6h-1.0zM126.9 61.6h1.0v1.6h-1.0zM175.8 61.6h3.0v1.6h-3.0zM193.7 61.6h1.0v1.6h-1.0zM205.7 61.6h1.0v1.6h-1.0zM172.8 64.8h2.0v1.6h-2.0zM182.7 64.8h1.0v1.6h-1.0zM172.8 66.4h2.0v1.6h-2.0zM169.8 69.6h1.0v1.6h-1.0zM188.7 69.6h1.0v1.6h-1.0zM193.7 69.6h1.0v1.6h-1.0zM172.8 71.2h2.0v1.6h-2.0zM186.7 71.2h3.0v1.6h-3.0zM190.7 71.2h1.0v1.6h-1.0zM221.6 92.0h1.0v1.6h-1.0zM212.6 100.0h2.0v1.6h-2.0zM174.8 123.9h5.0v1.6h-5.0zM136.9 136.7h1.0v1.6h-1.0zM128.9 138.3h1.0v1.6h-1.0zM134.9 138.3h3.0v1.6h-3.0zM220.6 138.3h1.0v1.6h-1.0zM121.0 139.9h1.0v1.6h-1.0zM124.9 146.3h2.0v1.6h-2.0zM110.0 149.5h3.0v1.6h-3.0zM151.8 149.5h3.0v1.6h-3.0zM216.6 149.5h1.0v1.6h-1.0zM112.0 151.1h2.0v1.6h-2.0zM151.8 151.1h2.0v1.6h-2.0zM193.7 151.1h2.0v1.6h-2.0z"/>
<path fill="#e9e9ee" d="M180.8 52.0h1.0v1.6h-1.0zM200.7 52.0h1.0v1.6h-1.0zM215.6 52.0h1.0v1.6h-1.0zM116.0 53.6h1.0v1.6h-1.0zM143.9 53.6h1.0v1.6h-1.0zM164.8 53.6h1.0v1.6h-1.0zM209.7 53.6h2.0v1.6h-2.0zM113.0 55.2h1.0v1.6h-1.0zM116.0 55.2h1.0v1.6h-1.0zM159.8 55.2h2.0v1.6h-2.0zM164.8 55.2h1.0v1.6h-1.0zM219.6 55.2h1.0v1.6h-1.0zM127.9 56.8h1.0v1.6h-1.0zM159.8 56.8h3.0v1.6h-3.0zM110.0 60.0h1.0v1.6h-1.0zM115.0 60.0h5.0v1.6h-5.0zM121.0 60.0h1.0v1.6h-1.0zM122.9 60.0h1.0v1.6h-1.0zM127.9 60.0h1.0v1.6h-1.0zM130.9 60.0h3.0v1.6h-3.0zM137.9 60.0h1.0v1.6h-1.0zM142.9 60.0h1.0v1.6h-1.0zM159.8 60.0h5.0v1.6h-5.0zM166.8 60.0h3.0v1.6h-3.0zM200.7 60.0h4.0v1.6h-4.0zM207.7 60.0h3.0v1.6h-3.0zM214.6 60.0h2.0v1.6h-2.0zM111.0 61.6h2.0v1.6h-2.0zM117.0 61.6h2.0v1.6h-2.0zM120.0 61.6h1.0v1.6h-1.0zM127.9 61.6h1.0v1.6h-1.0zM130.9 61.6h1.0v1.6h-1.0zM133.9 61.6h7.0v1.6h-7.0zM142.9 61.6h1.0v1.6h-1.0zM145.9 61.6h1.0v1.6h-1.0zM154.8 61.6h2.0v1.6h-2.0zM160.8 61.6h4.0v1.6h-4.0zM168.8 61.6h1.0v1.6h-1.0zM196.7 61.6h3.0v1.6h-3.0zM202.7 61.6h1.0v1.6h-1.0zM185.7 72.8h2.0v1.6h-2.0zM224.6 72.8h1.0v1.6h-1.0zM107.0 92.0h1.0v1.6h-1.0zM188.7 92.0h1.0v1.6h-1.0zM191.7 92.0h1.0v1.6h-1.0zM214.6 92.0h3.0v1.6h-3.0zM110.0 93.6h1.0v1.6h-1.0zM169.8 93.6h1.0v1.6h-1.0zM191.7 93.6h1.0v1.6h-1.0zM120.0 95.2h1.0v1.6h-1.0zM169.8 95.2h2.0v1.6h-2.0zM201.7 96.8h1.0v1.6h-1.0zM118.0 98.4h1.0v1.6h-1.0zM210.6 100.0h1.0v1.6h-1.0zM220.6 104.8h1.0v1.6h-1.0zM222.6 106.4h1.0v1.6h-1.0zM122.9 109.5h1.0v1.6h-1.0zM106.0 111.1h1.0v1.6h-1.0zM220.6 111.1h1.0v1.6h-1.0zM209.7 114.3h2.0v1.6h-2.0zM110.0 120.7h1.0v1.6h-1.0zM110.0 122.3h1.0v1.6h-1.0zM116.0 122.3h1.0v1.6h-1.0zM121.9 122.3h2.0v1.6h-2.0zM155.8 122.3h1.0v1.6h-1.0zM160.8 122.3h2.0v1.6h-2.0zM166.8 122.3h1.0v1.6h-1.0zM169.8 122.3h1.0v1.6h-1.0zM175.8 122.3h3.0v1.6h-3.0zM182.7 122.3h1.0v1.6h-1.0zM198.7 122.3h1.0v1.6h-1.0zM215.6 122.3h1.0v1.6h-1.0zM220.6 122.3h5.0v1.6h-5.0zM108.0 123.9h1.0v1.6h-1.0zM117.0 123.9h2.0v1.6h-2.0zM128.9 123.9h1.0v1.6h-1.0zM137.9 123.9h3.0v1.6h-3.0zM146.9 123.9h1.0v1.6h-1.0zM149.9 123.9h1.0v1.6h-1.0zM157.8 123.9h4.0v1.6h-4.0zM162.8 123.9h2.0v1.6h-2.0zM165.8 123.9h5.0v1.6h-5.0zM183.7 123.9h1.0v1.6h-1.0zM194.7 123.9h1.0v1.6h-1.0zM196.7 123.9h1.0v1.6h-1.0zM200.7 123.9h1.0v1.6h-1.0zM202.7 123.9h2.0v1.6h-2.0zM205.7 123.9h2.0v1.6h-2.0zM209.7 123.9h1.0v1.6h-1.0zM215.6 123.9h2.0v1.6h-2.0zM207.7 125.5h1.0v1.6h-1.0zM214.6 125.5h1.0v1.6h-1.0zM214.6 127.1h1.0v1.6h-1.0zM206.7 128.7h1.0v1.6h-1.0zM114.0 131.9h1.0v1.6h-1.0zM180.8 131.9h1.0v1.6h-1.0zM221.6 131.9h1.0v1.6h-1.0zM177.8 133.5h2.0v1.6h-2.0zM119.0 135.1h1.0v1.6h-1.0zM178.8 135.1h1.0v1.6h-1.0zM184.7 135.1h1.0v1.6h-1.0zM196.7 135.1h1.0v1.6h-1.0zM224.6 135.1h1.0v1.6h-1.0zM106.0 136.7h2.0v1.6h-2.0zM114.0 136.7h2.0v1.6h-2.0zM141.9 136.7h1.0v1.6h-1.0zM146.9 136.7h4.0v1.6h-4.0zM161.8 136.7h1.0v1.6h-1.0zM172.8 136.7h4.0v1.6h-4.0zM178.8 136.7h1.0v1.6h-1.0zM186.7 136.7h1.0v1.6h-1.0zM199.7 136.7h1.0v1.6h-1.0zM210.6 136.7h1.0v1.6h-1.0zM217.6 136.7h1.0v1.6h-1.0zM222.6 136.7h1.0v1.6h-1.0zM116.0 138.3h1.0v1.6h-1.0zM121.0 138.3h1.0v1.6h-1.0zM126.9 138.3h2.0v1.6h-2.0zM129.9 138.3h2.0v1.6h-2.0zM142.9 138.3h2.0v1.6h-2.0zM149.9 138.3h1.0v1.6h-1.0zM152.8 138.3h1.0v1.6h-1.0zM168.8 138.3h5.0v1.6h-5.0zM174.8 138.3h2.0v1.6h-2.0zM199.7 138.3h1.0v1.6h-1.0zM202.7 138.3h6.0v1.6h-6.0zM215.6 138.3h1.0v1.6h-1.0zM218.6 138.3h2.0v1.6h-2.0zM222.6 138.3h1.0v1.6h-1.0zM224.6 138.3h1.0v1.6h-1.0zM164.8 139.9h1.0v1.6h-1.0zM151.8 141.5h1.0v1.6h-1.0zM197.7 141.5h3.0v1.6h-3.0zM159.8 147.9h1.0v1.6h-1.0zM189.7 147.9h1.0v1.6h-1.0zM124.9 149.5h1.0v1.6h-1.0zM145.9 149.5h1.0v1.6h-1.0zM148.9 149.5h3.0v1.6h-3.0zM168.8 149.5h1.0v1.6h-1.0zM172.8 149.5h3.0v1.6h-3.0zM186.7 149.5h2.0v1.6h-2.0zM214.6 149.5h2.0v1.6h-2.0zM114.0 151.1h3.0v1.6h-3.0zM126.9 151.1h1.0v1.6h-1.0zM134.9 151.1h1.0v1.6h-1.0zM142.9 151.1h2.0v1.6h-2.0zM166.8 151.1h1.0v1.6h-1.0zM171.8 151.1h6.0v1.6h-6.0zM191.7 151.1h1.0v1.6h-1.0zM196.7 151.1h1.0v1.6h-1.0zM201.7 151.1h2.0v1.6h-2.0zM213.6 151.1h3.0v1.6h-3.0zM223.6 151.1h1.0v1.6h-1.0zM115.0 152.7h1.0v1.6h-1.0zM176.8 152.7h1.0v1.6h-1.0zM215.6 152.7h1.0v1.6h-1.0zM113.0 154.3h1.0v1.6h-1.0zM176.8 154.3h3.0v1.6h-3.0zM110.0 155.9h1.0v1.6h-1.0zM123.9 155.9h1.0v1.6h-1.0zM206.7 155.9h1.0v1.6h-1.0zM120.0 157.5h1.0v1.6h-1.0zM131.9 157.5h2.0v1.6h-2.0zM149.9 157.5h2.0v1.6h-2.0zM168.8 157.5h1.0v1.6h-1.0zM172.8 157.5h1.0v1.6h-1.0zM138.9 159.1h1.0v1.6h-1.0zM195.7 159.1h1.0v1.6h-1.0zM211.6 159.1h1.0v1.6h-1.0zM112.0 160.7h2.0v1.6h-2.0zM127.9 160.7h1.0v1.6h-1.0zM189.7 160.7h1.0v1.6h-1.0zM211.6 160.7h2.0v1.6h-2.0z"/>
<path fill="#053061" d="M221.6 52.0h1.0v1.6h-1.0zM217.6 53.6h2.0v1.6h-2.0zM212.6 55.2h2.0v1.6h-2.0zM218.6 55.2h1.0v1.6h-1.0zM179.8 56.8h1.0v1.6h-1.0zM124.9 60.0h2.0v1.6h-2.0zM133.9 60.0h2.0v1.6h-2.0zM172.8 60.0h1.0v1.6h-1.0zM175.8 60.0h1.0v1.6h-1.0zM156.8 61.6h1.0v1.6h-1.0zM171.8 61.6h1.0v1.6h-1.0zM181.7 95.2h2.0v1.6h-2.0zM119.0 103.2h2.0v1.6h-2.0zM220.6 109.5h1.0v1.6h-1.0zM214.6 117.5h1.0v1.6h-1.0zM108.0 122.3h1.0v1.6h-1.0zM148.9 122.3h1.0v1.6h-1.0zM162.8 122.3h4.0v1.6h-4.0zM206.7 122.3h4.0v1.6h-4.0zM212.6 122.3h1.0v1.6h-1.0zM216.6 122.3h1.0v1.6h-1.0zM110.0 123.9h2.0v1.6h-2.0zM190.7 123.9h1.0v1.6h-1.0zM195.7 123.9h1.0v1.6h-1.0zM204.7 123.9h1.0v1.6h-1.0zM210.6 123.9h1.0v1.6h-1.0zM166.8 125.5h1.0v1.6h-1.0zM112.0 127.1h1.0v1.6h-1.0zM118.0 128.7h1.0v1.6h-1.0zM130.9 136.7h2.0v1.6h-2.0zM206.7 136.7h2.0v1.6h-2.0zM107.0 138.3h4.0v1.6h-4.0zM117.0 138.3h1.0v1.6h-1.0zM217.6 138.3h1.0v1.6h-1.0zM161.8 149.5h1.0v1.6h-1.0zM133.9 151.1h1.0v1.6h-1.0zM177.8 151.1h1.0v1.6h-1.0zM193.7 154.3h1.0v1.6h-1.0zM159.8 159.1h2.0v1.6h-2.0zM185.7 159.1h1.0v1.6h-1.0z"/>
<path fill="#f4a582" d="M169.8 53.6h1.0v1.6h-1.0zM175.8 53.6h2.0v1.6h-2.0zM182.7 53.6h2.0v1.6h-2.0zM174.8 55.2h1.0v1.6h-1.0zM185.7 55.2h1.0v1.6h-1.0zM187.7 55.2h2.0v1.6h-2.0zM145.9 63.2h1.0v1.6h-1.0zM148.9 63.2h2.0v1.6h-2.0zM200.7 63.2h2.0v1.6h-2.0zM203.7 63.2h2.0v1.6h-2.0zM200.7 64.8h1.0v1.6h-1.0zM202.7 64.8h1.0v1.6h-1.0zM218.6 64.8h2.0v1.6h-2.0zM198.7 66.4h2.0v1.6h-2.0zM215.6 66.4h2.0v1.6h-2.0zM224.6 66.4h1.0v1.6h-1.0zM206.7 68.0h3.0v1.6h-3.0zM202.7 71.2h1.0v1.6h-1.0zM209.7 71.2h1.0v1.6h-1.0zM219.6 71.2h1.0v1.6h-1.0zM108.0 74.4h1.0v1.6h-1.0zM124.9 74.4h1.0v1.6h-1.0zM136.9 76.0h1.0v1.6h-1.0zM136.9 77.6h2.0v1.6h-2.0zM113.0 80.8h1.0v1.6h-1.0zM138.9 82.4h1.0v1.6h-1.0zM119.0 84.0h1.0v1.6h-1.0zM114.0 85.6h1.0v1.6h-1.0zM117.0 85.6h1.0v1.6h-1.0zM106.0 87.2h1.0v1.6h-1.0zM106.0 88.8h1.0v1.6h-1.0zM106.0 90.4h3.0v1.6h-3.0zM115.0 90.4h1.0v1.6h-1.0zM119.0 90.4h4.0v1.6h-4.0zM128.9 92.0h3.0v1.6h-3.0zM132.9 92.0h1.0v1.6h-1.0zM125.9 93.6h1.0v1.6h-1.0zM129.9 93.6h1.0v1.6h-1.0zM156.8 93.6h1.0v1.6h-1.0zM125.9 95.2h1.0v1.6h-1.0zM150.8 100.0h2.0v1.6h-2.0zM142.9 101.6h1.0v1.6h-1.0zM150.8 101.6h3.0v1.6h-3.0zM140.9 106.4h2.0v1.6h-2.0zM132.9 107.9h2.0v1.6h-2.0zM135.9 107.9h1.0v1.6h-1.0zM158.8 109.5h1.0v1.6h-1.0zM130.9 111.1h1.0v1.6h-1.0zM152.8 111.1h1.0v1.6h-1.0zM158.8 111.1h1.0v1.6h-1.0zM158.8 112.7h1.0v1.6h-1.0zM140.9 114.3h1.0v1.6h-1.0zM159.8 115.9h2.0v1.6h-2.0zM139.9 117.5h1.0v1.6h-1.0zM137.9 119.1h3.0v1.6h-3.0zM141.9 119.1h1.0v1.6h-1.0zM164.8 119.1h1.0v1.6h-1.0zM145.9 120.7h1.0v1.6h-1.0zM123.9 125.5h2.0v1.6h-2.0zM131.9 125.5h3.0v1.6h-3.0zM149.9 125.5h1.0v1.6h-1.0zM162.8 125.5h2.0v1.6h-2.0zM132.9 127.1h1.0v1.6h-1.0zM149.9 131.9h2.0v1.6h-2.0zM127.9 133.5h1.0v1.6h-1.0zM140.9 133.5h2.0v1.6h-2.0zM134.9 143.1h2.0v1.6h-2.0zM142.9 143.1h1.0v1.6h-1.0zM151.8 143.1h2.0v1.6h-2.0zM129.9 144.7h1.0v1.6h-1.0zM134.9 144.7h2.0v1.6h-2.0zM149.9 146.3h1.0v1.6h-1.0z"/>
<path fill="#4393c3" d="M110.0 55.2h2.0v1.6h-2.0zM157.8 56.8h1.0v1.6h-1.0zM121.9 60.0h1.0v1.6h-1.0zM169.8 60.0h1.0v1.6h-1.0zM173.8 60.0h2.0v1.6h-2.0zM177.8 60.0h4.0v1.6h-4.0zM185.7 60.0h1.0v1.6h-1.0zM188.7 60.0h1.0v1.6h-1.0zM212.6 60.0h1.0v1.6h-1.0zM221.6 60.0h4.0v1.6h-4.0zM106.0 61.6h1.0v1.6h-1.0zM172.8 61.6h3.0v1.6h-3.0zM181.7 61.6h1.0v1.6h-1.0zM183.7 61.6h2.0v1.6h-2.0zM188.7 61.6h2.0v1.6h-2.0zM182.7 63.2h2.0v1.6h-2.0zM185.7 63.2h4.0v1.6h-4.0zM190.7 63.2h1.0v1.6h-1.0zM123.9 64.8h1.0v1.6h-1.0zM143.9 64.8h1.0v1.6h-1.0zM165.8 64.8h1.0v1.6h-1.0zM183.7 64.8h6.0v1.6h-6.0zM108.0 66.4h1.0v1.6h-1.0zM111.0 66.4h1.0v1.6h-1.0zM133.9 66.4h2.0v1.6h-2.0zM142.9 66.4h3.0v1.6h-3.0zM157.8 66.4h2.0v1.6h-2.0zM162.8 66.4h1.0v1.6h-1.0zM183.7 66.4h2.0v1.6h-2.0zM106.0 68.0h1.0v1.6h-1.0zM113.0 68.0h4.0v1.6h-4.0zM125.9 68.0h1.0v1.6h-1.0zM127.9 68.0h4.0v1.6h-4.0zM135.9 68.0h1.0v1.6h-1.0zM137.9 68.0h3.0v1.6h-3.0zM145.9 68.0h5.0v1.6h-5.0zM155.8 68.0h3.0v1.6h-3.0zM160.8 68.0h1.0v1.6h-1.0zM170.8 68.0h4.0v1.6h-4.0zM182.7 68.0h1.0v1.6h-1.0zM106.0 69.6h2.0v1.6h-2.0zM109.0 69.6h1.0v1.6h-1.0zM113.0 69.6h1.0v1.6h-1.0zM120.0 69.6h1.0v1.6h-1.0zM122.9 69.6h1.0v1.6h-1.0zM141.9 69.6h1.0v1.6h-1.0zM144.9 69.6h2.0v1.6h-2.0zM147.9 69.6h4.0v1.6h-4.0zM155.8 69.6h1.0v1.6h-1.0zM157.8 69.6h2.0v1.6h-2.0zM160.8 69.6h2.0v1.6h-2.0zM182.7 69.6h1.0v1.6h-1.0zM109.0 71.2h2.0v1.6h-2.0zM113.0 71.2h1.0v1.6h-1.0zM117.0 71.2h5.0v1.6h-5.0zM130.9 71.2h1.0v1.6h-1.0zM138.9 71.2h2.0v1.6h-2.0zM141.9 71.2h1.0v1.6h-1.0zM145.9 71.2h4.0v1.6h-4.0zM152.8 71.2h3.0v1.6h-3.0zM160.8 71.2h1.0v1.6h-1.0zM163.8 71.2h1.0v1.6h-1.0zM174.8 71.2h1.0v1.6h-1.0zM120.0 72.8h1.0v1.6h-1.0zM138.9 72.8h2.0v1.6h-2.0zM150.8 72.8h1.0v1.6h-1.0zM125.9 84.0h2.0v1.6h-2.0zM132.9 84.0h1.0v1.6h-1.0zM136.9 84.0h1.0v1.6h-1.0zM139.9 84.0h1.0v1.6h-1.0zM141.9 84.0h8.0v1.6h-8.0zM169.8 84.0h1.0v1.6h-1.0zM180.8 84.0h3.0v1.6h-3.0zM189.7 84.0h1.0v1.6h-1.0zM193.7 84.0h2.0v1.6h-2.0zM201.7 84.0h1.0v1.6h-1.0zM210.6 84.0h1.0v1.6h-1.0zM220.6 84.0h1.0v1.6h-1.0zM125.9 85.6h3.0v1.6h-3.0zM144.9 85.6h2.0v1.6h-2.0zM147.9 85.6h1.0v1.6h-1.0zM158.8 85.6h2.0v1.6h-2.0zM161.8 85.6h1.0v1.6h-1.0zM163.8 85.6h2.0v1.6h-2.0zM166.8 85.6h1.0v1.6h-1.0zM169.8 85.6h1.0v1.6h-1.0zM176.8 85.6h2.0v1.6h-2.0zM180.8 85.6h2.0v1.6h-2.0zM188.7 85.6h2.0v1.6h-2.0zM193.7 85.6h2.0v1.6h-2.0zM197.7 85.6h1.0v1.6h-1.0zM220.6 85.6h3.0v1.6h-3.0zM125.9 87.2h2.0v1.6h-2.0zM136.9 87.2h1.0v1.6h-1.0zM140.9 87.2h1.0v1.6h-1.0zM163.8 87.2h1.0v1.6h-1.0zM169.8 87.2h1.0v1.6h-1.0zM172.8 87.2h2.0v1.6h-2.0zM179.8 87.2h5.0v1.6h-5.0zM187.7 87.2h3.0v1.6h-3.0zM191.7 87.2h1.0v1.6h-1.0zM194.7 87.2h1.0v1.6h-1.0zM196.7 87.2h1.0v1.6h-1.0zM201.7 87.2h1.0v1.6h-1.0zM219.6 87.2h6.0v1.6h-6.0zM152.8 88.8h1.0v1.6h-1.0zM173.8 88.8h1.0v1.6h-1.0zM177.8 88.8h13.0v1.6h-13.0zM192.7 88.8h1.0v1.6h-1.0zM194.7 88.8h2.0v1.6h-2.0zM199.7 88.8h1.0v1.6h-1.0zM201.7 88.8h2.0v1.6h-2.0zM214.6 88.8h3.0v1.6h-3.0zM220.6 88.8h2.0v1.6h-2.0zM122.9 90.4h3.0v1.6h-3.0zM160.8 90.4h1.0v1.6h-1.0zM170.8 90.4h2.0v1.6h-2.0zM173.8 90.4h1.0v1.6h-1.0zM177.8 90.4h1.0v1.6h-1.0zM181.7 90.4h1.0v1.6h-1.0zM187.7 90.4h4.0v1.6h-4.0zM193.7 90.4h1.0v1.6h-1.0zM205.7 90.4h1.0v1.6h-1.0zM215.6 90.4h1.0v1.6h-1.0zM208.7 92.0h1.0v1.6h-1.0zM119.0 93.6h1.0v1.6h-1.0zM204.7 95.2h4.0v1.6h-4.0zM207.7 96.8h1.0v1.6h-1.0zM220.6 100.0h1.0v1.6h-1.0zM222.6 103.2h2.0v1.6h-2.0zM223.6 104.8h1.0v1.6h-1.0zM106.0 106.4h1.0v1.6h-1.0zM207.7 107.9h1.0v1.6h-1.0zM151.8 122.3h1.0v1.6h-1.0zM157.8 122.3h2.0v1.6h-2.0zM179.8 122.3h1.0v1.6h-1.0zM218.6 122.3h2.0v1.6h-2.0zM114.0 123.9h1.0v1.6h-1.0zM130.9 123.9h1.0v1.6h-1.0zM150.8 123.9h1.0v1.6h-1.0zM179.8 123.9h2.0v1.6h-2.0zM189.7 123.9h1.0v1.6h-1.0zM212.6 125.5h1.0v1.6h-1.0zM201.7 130.3h1.0v1.6h-1.0zM206.7 130.3h1.0v1.6h-1.0zM108.0 136.7h2.0v1.6h-2.0zM122.9 136.7h1.0v1.6h-1.0zM124.9 136.7h1.0v1.6h-1.0zM126.9 136.7h3.0v1.6h-3.0zM137.9 136.7h2.0v1.6h-2.0zM160.8 136.7h1.0v1.6h-1.0zM182.7 136.7h2.0v1.6h-2.0zM193.7 136.7h1.0v1.6h-1.0zM112.0 138.3h3.0v1.6h-3.0zM122.9 138.3h1.0v1.6h-1.0zM124.9 138.3h1.0v1.6h-1.0zM144.9 138.3h1.0v1.6h-1.0zM166.8 138.3h2.0v1.6h-2.0zM182.7 138.3h1.0v1.6h-1.0zM185.7 138.3h1.0v1.6h-1.0zM208.7 138.3h1.0v1.6h-1.0zM127.9 141.5h3.0v1.6h-3.0zM191.7 141.5h2.0v1.6h-2.0zM118.0 143.1h1.0v1.6h-1.0zM120.0 143.1h2.0v1.6h-2.0zM179.8 143.1h1.0v1.6h-1.0zM184.7 143.1h1.0v1.6h-1.0zM187.7 143.1h4.0v1.6h-4.0zM193.7 143.1h1.0v1.6h-1.0zM201.7 143.1h3.0v1.6h-3.0zM210.6 143.1h5.0v1.6h-5.0zM217.6 143.1h2.0v1.6h-2.0zM222.6 143.1h1.0v1.6h-1.0zM109.0 144.7h1.0v1.6h-1.0zM114.0 144.7h1.0v1.6h-1.0zM118.0 144.7h6.0v1.6h-6.0zM165.8 144.7h1.0v1.6h-1.0zM175.8 144.7h3.0v1.6h-3.0zM188.7 144.7h2.0v1.6h-2.0zM194.7 144.7h1.0v1.6h-1.0zM201.7 144.7h1.0v1.6h-1.0zM208.7 144.7h2.0v1.6h-2.0zM214.6 144.7h4.0v1.6h-4.0zM219.6 144.7h1.0v1.6h-1.0zM107.0 146.3h3.0v1.6h-3.0zM165.8 146.3h3.0v1.6h-3.0zM169.8 146.3h1.0v1.6h-1.0zM180.8 146.3h1.0v1.6h-1.0zM186.7 146.3h6.0v1.6h-6.0zM196.7 146.3h1.0v1.6h-1.0zM198.7 146.3h1.0v1.6h-1.0zM200.7 146.3h3.0v1.6h-3.0zM206.7 146.3h1.0v1.6h-1.0zM210.6 146.3h2.0v1.6h-2.0zM213.6 146.3h5.0v1.6h-5.0zM129.9 147.9h2.0v1.6h-2.0zM146.9 147.9h1.0v1.6h-1.0zM109.0 149.5h1.0v1.6h-1.0zM113.0 149.5h1.0v1.6h-1.0zM118.0 149.5h1.0v1.6h-1.0zM126.9 149.5h5.0v1.6h-5.0zM133.9 149.5h2.0v1.6h-2.0zM139.9 149.5h1.0v1.6h-1.0zM169.8 149.5h3.0v1.6h-3.0zM175.8 149.5h3.0v1.6h-3.0zM197.7 149.5h3.0v1.6h-3.0zM205.7 149.5h2.0v1.6h-2.0zM121.9 151.1h2.0v1.6h-2.0zM130.9 151.1h2.0v1.6h-2.0zM146.9 151.1h1.0v1.6h-1.0zM158.8 151.1h1.0v1.6h-1.0zM160.8 151.1h1.0v1.6h-1.0zM170.8 151.1h1.0v1.6h-1.0zM197.7 151.1h1.0v1.6h-1.0zM206.7 151.1h1.0v1.6h-1.0zM216.6 151.1h3.0v1.6h-3.0zM138.9 154.3h1.0v1.6h-1.0zM212.6 154.3h1.0v1.6h-1.0zM114.0 155.9h1.0v1.6h-1.0zM195.7 155.9h2.0v1.6h-2.0zM114.0 157.5h1.0v1.6h-1.0zM198.7 159.1h3.0v1.6h-3.0zM142.9 160.7h2.0v1.6h-2.0zM200.7 160.7h1.0v1.6h-1.0z"/>
<path fill="#92c5de" d="M113.0 58.4h1.0v1.6h-1.0zM128.9 58.4h1.0v1.6h-1.0zM156.8 58.4h1.0v1.6h-1.0zM211.6 58.4h1.0v1.6h-1.0zM180.8 63.2h1.0v1.6h-1.0zM184.7 63.2h1.0v1.6h-1.0zM189.7 63.2h1.0v1.6h-1.0zM118.0 64.8h3.0v1.6h-3.0zM136.9 64.8h1.0v1.6h-1.0zM138.9 64.8h1.0v1.6h-1.0zM140.9 64.8h2.0v1.6h-2.0zM152.8 64.8h2.0v1.6h-2.0zM155.8 64.8h1.0v1.6h-1.0zM159.8 64.8h3.0v1.6h-3.0zM164.8 64.8h1.0v1.6h-1.0zM166.8 64.8h1.0v1.6h-1.0zM114.0 66.4h1.0v1.6h-1.0zM138.9 66.4h2.0v1.6h-2.0zM147.9 66.4h2.0v1.6h-2.0zM153.8 66.4h4.0v1.6h-4.0zM160.8 66.4h2.0v1.6h-2.0zM110.0 68.0h3.0v1.6h-3.0zM118.0 68.0h1.0v1.6h-1.0zM122.9 68.0h2.0v1.6h-2.0zM131.9 68.0h3.0v1.6h-3.0zM142.9 68.0h1.0v1.6h-1.0zM144.9 68.0h1.0v1.6h-1.0zM153.8 68.0h2.0v1.6h-2.0zM161.8 68.0h1.0v1.6h-1.0zM108.0 69.6h1.0v1.6h-1.0zM116.0 69.6h1.0v1.6h-1.0zM124.9 69.6h2.0v1.6h-2.0zM131.9 69.6h3.0v1.6h-3.0zM135.9 69.6h3.0v1.6h-3.0zM139.9 69.6h1.0v1.6h-1.0zM142.9 69.6h2.0v1.6h-2.0zM146.9 69.6h1.0v1.6h-1.0zM159.8 69.6h1.0v1.6h-1.0zM162.8 69.6h2.0v1.6h-2.0zM106.0 71.2h3.0v1.6h-3.0zM111.0 71.2h2.0v1.6h-2.0zM115.0 71.2h1.0v1.6h-1.0zM121.9 71.2h2.0v1.6h-2.0zM124.9 71.2h3.0v1.6h-3.0zM129.9 71.2h1.0v1.6h-1.0zM137.9 71.2h1.0v1.6h-1.0zM142.9 71.2h3.0v1.6h-3.0zM155.8 71.2h1.0v1.6h-1.0zM161.8 71.2h2.0v1.6h-2.0zM106.0 72.8h2.0v1.6h-2.0zM111.0 72.8h2.0v1.6h-2.0zM158.8 72.8h4.0v1.6h-4.0zM139.9 74.4h1.0v1.6h-1.0zM146.9 74.4h1.0v1.6h-1.0zM196.7 74.4h1.0v1.6h-1.0zM210.6 74.4h1.0v1.6h-1.0zM172.8 76.0h2.0v1.6h-2.0zM202.7 79.2h2.0v1.6h-2.0zM207.7 79.2h1.0v1.6h-1.0zM141.9 80.8h4.0v1.6h-4.0zM178.8 80.8h1.0v1.6h-1.0zM194.7 80.8h1.0v1.6h-1.0zM209.7 80.8h1.0v1.6h-1.0zM223.6 80.8h2.0v1.6h-2.0zM166.8 82.4h1.0v1.6h-1.0zM186.7 82.4h1.0v1.6h-1.0zM124.9 84.0h1.0v1.6h-1.0zM128.9 84.0h4.0v1.6h-4.0zM151.8 84.0h1.0v1.6h-1.0zM156.8 84.0h1.0v1.6h-1.0zM158.8 84.0h2.0v1.6h-2.0zM165.8 84.0h2.0v1.6h-2.0zM174.8 84.0h2.0v1.6h-2.0zM177.8 84.0h1.0v1.6h-1.0zM188.7 84.0h1.0v1.6h-1.0zM191.7 84.0h2.0v1.6h-2.0zM134.9 85.6h2.0v1.6h-2.0zM150.8 85.6h1.0v1.6h-1.0zM152.8 85.6h2.0v1.6h-2.0zM156.8 85.6h2.0v1.6h-2.0zM171.8 85.6h5.0v1.6h-5.0zM186.7 85.6h2.0v1.6h-2.0zM190.7 85.6h1.0v1.6h-1.0zM192.7 85.6h1.0v1.6h-1.0zM127.9 87.2h3.0v1.6h-3.0zM137.9 87.2h1.0v1.6h-1.0zM143.9 87.2h2.0v1.6h-2.0zM155.8 87.2h1.0v1.6h-1.0zM158.8 87.2h3.0v1.6h-3.0zM165.8 87.2h2.0v1.6h-2.0zM190.7 87.2h1.0v1.6h-1.0zM192.7 87.2h2.0v1.6h-2.0zM122.9 88.8h2.0v1.6h-2.0zM131.9 88.8h1.0v1.6h-1.0zM136.9 88.8h6.0v1.6h-6.0zM143.9 88.8h2.0v1.6h-2.0zM146.9 88.8h5.0v1.6h-5.0zM153.8 88.8h1.0v1.6h-1.0zM160.8 88.8h1.0v1.6h-1.0zM164.8 88.8h1.0v1.6h-1.0zM174.8 88.8h2.0v1.6h-2.0zM125.9 90.4h1.0v1.6h-1.0zM128.9 90.4h1.0v1.6h-1.0zM136.9 90.4h2.0v1.6h-2.0zM140.9 90.4h5.0v1.6h-5.0zM156.8 90.4h2.0v1.6h-2.0zM166.8 90.4h1.0v1.6h-1.0zM174.8 90.4h3.0v1.6h-3.0zM192.7 90.4h1.0v1.6h-1.0zM186.7 101.6h2.0v1.6h-2.0zM193.7 101.6h1.0v1.6h-1.0zM196.7 101.6h2.0v1.6h-2.0zM193.7 103.2h1.0v1.6h-1.0zM178.8 104.8h2.0v1.6h-2.0zM184.7 106.4h1.0v1.6h-1.0zM203.7 107.9h1.0v1.6h-1.0zM176.8 111.1h2.0v1.6h-2.0zM201.7 111.1h1.0v1.6h-1.0zM192.7 112.7h1.0v1.6h-1.0zM175.8 114.3h1.0v1.6h-1.0zM180.8 115.9h1.0v1.6h-1.0zM198.7 115.9h1.0v1.6h-1.0zM200.7 115.9h1.0v1.6h-1.0zM180.8 117.5h1.0v1.6h-1.0zM191.7 117.5h1.0v1.6h-1.0zM198.7 120.7h6.0v1.6h-6.0zM112.0 143.1h2.0v1.6h-2.0zM166.8 143.1h2.0v1.6h-2.0zM171.8 143.1h1.0v1.6h-1.0zM181.7 143.1h2.0v1.6h-2.0zM185.7 143.1h2.0v1.6h-2.0zM194.7 143.1h1.0v1.6h-1.0zM200.7 143.1h1.0v1.6h-1.0zM206.7 143.1h2.0v1.6h-2.0zM215.6 143.1h2.0v1.6h-2.0zM223.6 143.1h1.0v1.6h-1.0zM106.0 144.7h2.0v1.6h-2.0zM110.0 144.7h1.0v1.6h-1.0zM166.8 144.7h2.0v1.6h-2.0zM184.7 144.7h3.0v1.6h-3.0zM193.7 144.7h1.0v1.6h-1.0zM200.7 144.7h1.0v1.6h-1.0zM207.7 144.7h1.0v1.6h-1.0zM211.6 144.7h3.0v1.6h-3.0zM224.6 144.7h1.0v1.6h-1.0zM170.8 146.3h3.0v1.6h-3.0zM192.7 146.3h4.0v1.6h-4.0zM203.7 146.3h1.0v1.6h-1.0zM207.7 146.3h3.0v1.6h-3.0zM218.6 146.3h1.0v1.6h-1.0zM223.6 146.3h2.0v1.6h-2.0z"/>
<path fill="#d6604d" d="M171.8 60.0h1.0v1.6h-1.0zM176.8 60.0h1.0v1.6h-1.0zM181.7 60.0h2.0v1.6h-2.0zM169.8 61.6h1.0v1.6h-1.0zM186.7 61.6h1.0v1.6h-1.0zM190.7 61.6h1.0v1.6h-1.0zM192.7 61.6h1.0v1.6h-1.0zM222.6 61.6h1.0v1.6h-1.0zM207.7 63.2h1.0v1.6h-1.0zM223.6 63.2h2.0v1.6h-2.0zM171.8 64.8h1.0v1.6h-1.0zM178.8 64.8h3.0v1.6h-3.0zM205.7 64.8h7.0v1.6h-7.0zM168.8 66.4h1.0v1.6h-1.0zM174.8 66.4h2.0v1.6h-2.0zM188.7 66.4h1.0v1.6h-1.0zM190.7 66.4h4.0v1.6h-4.0zM204.7 66.4h2.0v1.6h-2.0zM207.7 66.4h2.0v1.6h-2.0zM211.6 66.4h2.0v1.6h-2.0zM167.8 68.0h2.0v1.6h-2.0zM174.8 68.0h3.0v1.6h-3.0zM183.7 68.0h2.0v1.6h-2.0zM188.7 68.0h1.0v1.6h-1.0zM192.7 68.0h1.0v1.6h-1.0zM198.7 68.0h2.0v1.6h-2.0zM204.7 68.0h1.0v1.6h-1.0zM211.6 68.0h2.0v1.6h-2.0zM214.6 68.0h1.0v1.6h-1.0zM167.8 69.6h2.0v1.6h-2.0zM171.8 69.6h1.0v1.6h-1.0zM184.7 69.6h3.0v1.6h-3.0zM189.7 69.6h1.0v1.6h-1.0zM206.7 69.6h5.0v1.6h-5.0zM213.6 69.6h2.0v1.6h-2.0zM219.6 69.6h2.0v1.6h-2.0zM169.8 71.2h1.0v1.6h-1.0zM171.8 71.2h1.0v1.6h-1.0zM175.8 71.2h2.0v1.6h-2.0zM182.7 71.2h4.0v1.6h-4.0zM194.7 71.2h3.0v1.6h-3.0zM210.6 71.2h3.0v1.6h-3.0zM218.6 71.2h1.0v1.6h-1.0zM199.7 84.0h1.0v1.6h-1.0zM202.7 84.0h2.0v1.6h-2.0zM207.7 84.0h1.0v1.6h-1.0zM212.6 84.0h2.0v1.6h-2.0zM217.6 84.0h1.0v1.6h-1.0zM224.6 84.0h1.0v1.6h-1.0zM108.0 85.6h4.0v1.6h-4.0zM115.0 85.6h1.0v1.6h-1.0zM112.0 87.2h1.0v1.6h-1.0zM120.0 87.2h3.0v1.6h-3.0zM199.7 87.2h1.0v1.6h-1.0zM202.7 87.2h2.0v1.6h-2.0zM109.0 88.8h2.0v1.6h-2.0zM119.0 88.8h1.0v1.6h-1.0zM208.7 88.8h2.0v1.6h-2.0zM118.0 90.4h1.0v1.6h-1.0zM194.7 90.4h3.0v1.6h-3.0zM201.7 90.4h1.0v1.6h-1.0zM206.7 90.4h1.0v1.6h-1.0zM210.6 90.4h3.0v1.6h-3.0zM216.6 90.4h1.0v1.6h-1.0zM222.6 90.4h3.0v1.6h-3.0zM161.8 117.5h1.0v1.6h-1.0zM111.0 122.3h2.0v1.6h-2.0zM135.9 122.3h2.0v1.6h-2.0zM159.8 122.3h1.0v1.6h-1.0zM167.8 122.3h1.0v1.6h-1.0zM178.8 122.3h1.0v1.6h-1.0zM115.0 123.9h1.0v1.6h-1.0zM134.9 123.9h2.0v1.6h-2.0zM164.8 123.9h1.0v1.6h-1.0zM133.9 136.7h2.0v1.6h-2.0zM180.8 136.7h1.0v1.6h-1.0zM203.7 136.7h2.0v1.6h-2.0zM193.7 138.3h3.0v1.6h-3.0zM200.7 138.3h1.0v1.6h-1.0zM119.0 143.1h1.0v1.6h-1.0zM121.9 143.1h3.0v1.6h-3.0zM127.9 143.1h2.0v1.6h-2.0zM159.8 143.1h6.0v1.6h-6.0zM123.9 144.7h2.0v1.6h-2.0zM144.9 144.7h1.0v1.6h-1.0zM150.8 144.7h7.0v1.6h-7.0zM119.0 146.3h1.0v1.6h-1.0zM123.9 146.3h1.0v1.6h-1.0zM128.9 146.3h1.0v1.6h-1.0zM148.9 146.3h1.0v1.6h-1.0zM155.8 146.3h2.0v1.6h-2.0zM160.8 146.3h1.0v1.6h-1.0zM164.8 146.3h1.0v1.6h-1.0zM136.9 149.5h3.0v1.6h-3.0zM164.8 149.5h4.0v1.6h-4.0zM212.6 149.5h1.0v1.6h-1.0zM108.0 151.1h1.0v1.6h-1.0zM123.9 151.1h2.0v1.6h-2.0zM144.9 151.1h2.0v1.6h-2.0zM153.8 151.1h1.0v1.6h-1.0zM167.8 151.1h3.0v1.6h-3.0z"/>
<path fill="#2166ac" d="M179.8 63.2h1.0v1.6h-1.0zM181.7 64.8h1.0v1.6h-1.0zM178.8 66.4h5.0v1.6h-5.0zM185.7 66.4h1.0v1.6h-1.0zM107.0 68.0h3.0v1.6h-3.0zM117.0 68.0h1.0v1.6h-1.0zM119.0 68.0h2.0v1.6h-2.0zM134.9 68.0h1.0v1.6h-1.0zM140.9 68.0h2.0v1.6h-2.0zM143.9 68.0h1.0v1.6h-1.0zM150.8 68.0h2.0v1.6h-2.0zM158.8 68.0h2.0v1.6h-2.0zM162.8 68.0h5.0v1.6h-5.0zM169.8 68.0h1.0v1.6h-1.0zM193.7 68.0h1.0v1.6h-1.0zM110.0 69.6h3.0v1.6h-3.0zM114.0 69.6h2.0v1.6h-2.0zM117.0 69.6h3.0v1.6h-3.0zM128.9 69.6h2.0v1.6h-2.0zM138.9 69.6h1.0v1.6h-1.0zM140.9 69.6h1.0v1.6h-1.0zM164.8 69.6h3.0v1.6h-3.0zM170.8 69.6h1.0v1.6h-1.0zM183.7 69.6h1.0v1.6h-1.0zM114.0 71.2h1.0v1.6h-1.0zM116.0 71.2h1.0v1.6h-1.0zM127.9 71.2h2.0v1.6h-2.0zM132.9 71.2h5.0v1.6h-5.0zM140.9 71.2h1.0v1.6h-1.0zM164.8 71.2h5.0v1.6h-5.0zM177.8 71.2h1.0v1.6h-1.0zM192.7 71.2h1.0v1.6h-1.0zM170.8 84.0h1.0v1.6h-1.0zM173.8 84.0h1.0v1.6h-1.0zM176.8 84.0h1.0v1.6h-1.0zM178.8 84.0h1.0v1.6h-1.0zM183.7 84.0h1.0v1.6h-1.0zM185.7 84.0h3.0v1.6h-3.0zM190.7 84.0h1.0v1.6h-1.0zM170.8 85.6h1.0v1.6h-1.0zM178.8 85.6h2.0v1.6h-2.0zM182.7 85.6h4.0v1.6h-4.0zM170.8 87.2h2.0v1.6h-2.0zM174.8 87.2h1.0v1.6h-1.0zM176.8 88.8h1.0v1.6h-1.0zM193.7 88.8h1.0v1.6h-1.0zM172.8 90.4h1.0v1.6h-1.0zM178.8 90.4h2.0v1.6h-2.0zM182.7 90.4h3.0v1.6h-3.0zM191.7 90.4h1.0v1.6h-1.0zM165.8 143.1h1.0v1.6h-1.0zM169.8 143.1h2.0v1.6h-2.0zM172.8 143.1h2.0v1.6h-2.0zM195.7 143.1h1.0v1.6h-1.0zM219.6 143.1h1.0v1.6h-1.0zM221.6 143.1h1.0v1.6h-1.0zM125.9 144.7h1.0v1.6h-1.0zM178.8 144.7h3.0v1.6h-3.0zM183.7 144.7h1.0v1.6h-1.0zM190.7 144.7h3.0v1.6h-3.0zM195.7 144.7h2.0v1.6h-2.0zM203.7 144.7h4.0v1.6h-4.0zM210.6 144.7h1.0v1.6h-1.0zM218.6 144.7h1.0v1.6h-1.0zM221.6 144.7h3.0v1.6h-3.0zM126.9 146.3h1.0v1.6h-1.0zM168.8 146.3h1.0v1.6h-1.0zM177.8 146.3h3.0v1.6h-3.0zM181.7 146.3h5.0v1.6h-5.0zM197.7 146.3h1.0v1.6h-1.0zM204.7 146.3h2.0v1.6h-2.0zM219.6 146.3h1.0v1.6h-1.0zM222.6 146.3h1.0v1.6h-1.0z"/>
<path fill="#b2182b" d="M202.7 63.2h1.0v1.6h-1.0zM209.7 63.2h4.0v1.6h-4.0zM219.6 63.2h1.0v1.6h-1.0zM167.8 64.8h4.0v1.6h-4.0zM175.8 64.8h3.0v1.6h-3.0zM189.7 64.8h6.0v1.6h-6.0zM212.6 64.8h1.0v1.6h-1.0zM167.8 66.4h1.0v1.6h-1.0zM169.8 66.4h3.0v1.6h-3.0zM176.8 66.4h1.0v1.6h-1.0zM186.7 66.4h2.0v1.6h-2.0zM189.7 66.4h1.0v1.6h-1.0zM197.7 66.4h1.0v1.6h-1.0zM203.7 66.4h1.0v1.6h-1.0zM209.7 66.4h1.0v1.6h-1.0zM217.6 66.4h1.0v1.6h-1.0zM177.8 68.0h4.0v1.6h-4.0zM185.7 68.0h3.0v1.6h-3.0zM191.7 68.0h1.0v1.6h-1.0zM197.7 68.0h1.0v1.6h-1.0zM203.7 68.0h1.0v1.6h-1.0zM205.7 68.0h1.0v1.6h-1.0zM210.6 68.0h1.0v1.6h-1.0zM215.6 68.0h5.0v1.6h-5.0zM172.8 69.6h3.0v1.6h-3.0zM180.8 69.6h2.0v1.6h-2.0zM187.7 69.6h1.0v1.6h-1.0zM190.7 69.6h3.0v1.6h-3.0zM197.7 69.6h2.0v1.6h-2.0zM215.6 69.6h4.0v1.6h-4.0zM222.6 69.6h2.0v1.6h-2.0zM178.8 71.2h1.0v1.6h-1.0zM180.8 71.2h2.0v1.6h-2.0zM189.7 71.2h1.0v1.6h-1.0zM191.7 71.2h1.0v1.6h-1.0zM197.7 71.2h2.0v1.6h-2.0zM207.7 71.2h1.0v1.6h-1.0zM215.6 71.2h3.0v1.6h-3.0zM118.0 84.0h1.0v1.6h-1.0zM195.7 84.0h1.0v1.6h-1.0zM208.7 84.0h1.0v1.6h-1.0zM218.6 84.0h1.0v1.6h-1.0zM221.6 84.0h1.0v1.6h-1.0zM195.7 85.6h1.0v1.6h-1.0zM198.7 85.6h1.0v1.6h-1.0zM207.7 85.6h8.0v1.6h-8.0zM216.6 85.6h1.0v1.6h-1.0zM108.0 87.2h1.0v1.6h-1.0zM117.0 87.2h1.0v1.6h-1.0zM197.7 87.2h1.0v1.6h-1.0zM200.7 87.2h1.0v1.6h-1.0zM205.7 87.2h1.0v1.6h-1.0zM208.7 87.2h2.0v1.6h-2.0zM212.6 87.2h2.0v1.6h-2.0zM111.0 88.8h1.0v1.6h-1.0zM113.0 88.8h2.0v1.6h-2.0zM197.7 88.8h1.0v1.6h-1.0zM211.6 88.8h3.0v1.6h-3.0zM217.6 88.8h2.0v1.6h-2.0zM116.0 90.4h1.0v1.6h-1.0zM207.7 90.4h1.0v1.6h-1.0zM209.7 90.4h1.0v1.6h-1.0zM213.6 90.4h2.0v1.6h-2.0zM218.6 90.4h2.0v1.6h-2.0zM124.9 143.1h2.0v1.6h-2.0zM144.9 143.1h1.0v1.6h-1.0zM148.9 143.1h3.0v1.6h-3.0zM127.9 144.7h2.0v1.6h-2.0zM145.9 144.7h5.0v1.6h-5.0zM157.8 144.7h1.0v1.6h-1.0zM164.8 144.7h1.0v1.6h-1.0zM118.0 146.3h1.0v1.6h-1.0zM120.0 146.3h1.0v1.6h-1.0zM122.9 146.3h1.0v1.6h-1.0zM127.9 146.3h1.0v1.6h-1.0zM157.8 146.3h1.0v1.6h-1.0zM162.8 146.3h2.0v1.6h-2.0z"/>
<defs><pattern id="hgrid" x="106" y="52" width="3.6" height="3.3" patternUnits="userSpaceOnUse"><rect width="3.6" height="0.75" fill="#6a6a78" fill-opacity="0.26"/><rect width="0.7" height="3.3" fill="#7a7a88" fill-opacity="0.16"/></pattern></defs>
<rect x="106" y="52" width="119.6" height="110.3" fill="url(#hgrid)"/>
<path d="M107 51.6 L107.0 30.9 L107.6 31.2 L108.2 31.2 L108.8 36.9 L109.4 31.0 L110.0 30.4 L110.6 32.1 L111.2 31.1 L111.8 35.2 L112.4 34.3 L113.0 30.9 L113.6 31.1 L114.2 31.2 L114.8 41.2 L115.4 36.1 L116.0 32.5 L116.6 35.5 L117.2 32.6 L117.8 42.5 L118.4 33.3 L119.0 32.6 L119.6 33.9 L120.2 36.1 L120.8 35.5 L121.4 41.3 L122.0 34.9 L122.6 33.7 L123.2 35.7 L123.8 33.5 L124.4 33.6 L125.0 34.8 L125.6 43.2 L126.2 36.8 L126.8 37.6 L127.4 45.0 L128.0 43.5 L128.6 35.8 L129.2 36.9 L129.8 35.9 L130.4 44.1 L131.0 36.3 L131.6 46.0 L132.2 41.3 L132.8 36.8 L133.4 39.6 L134.0 36.4 L134.6 37.7 L135.2 40.5 L135.8 37.6 L136.4 40.0 L137.0 37.4 L137.6 38.6 L138.2 38.0 L138.8 39.5 L139.4 47.7 L140.0 44.4 L140.6 37.9 L141.2 39.1 L141.8 39.1 L142.4 44.8 L143.0 48.3 L143.6 41.1 L144.2 40.0 L144.8 39.7 L145.4 42.6 L146.0 41.5 L146.6 41.2 L147.2 44.0 L147.8 41.0 L148.4 42.5 L149.0 45.8 L149.6 41.9 L150.2 44.4 L150.8 42.1 L151.4 42.3 L152.0 44.7 L152.6 44.2 L153.2 42.8 L153.8 46.0 L154.4 43.0 L155.0 49.9 L155.6 45.7 L156.2 46.3 L156.8 44.0 L157.4 46.2 L158.0 44.4 L158.6 47.1 L159.2 44.6 L159.8 45.1 L160.4 44.9 L161.0 50.5 L161.6 45.6 L162.2 46.3 L162.8 46.1 L163.4 47.0 L164.0 47.2 L164.6 48.0 L165.2 48.3 L165.8 50.5 L166.4 50.2 L167.0 50.5 L167.6 38.6 L168.2 34.9 L168.8 36.4 L169.4 32.9 L170.0 33.8 L170.6 32.6 L171.2 31.2 L171.8 34.2 L172.4 36.7 L173.0 32.7 L173.6 40.2 L174.2 31.6 L174.8 30.6 L175.4 30.9 L176.0 31.6 L176.6 31.0 L177.2 31.3 L177.8 31.9 L178.4 31.2 L179.0 31.7 L179.6 33.5 L180.2 35.7 L180.8 44.6 L181.4 37.3 L182.0 38.2 L182.6 39.5 L183.2 39.1 L183.8 37.8 L184.4 38.5 L185.0 37.7 L185.6 38.1 L186.2 39.5 L186.8 38.2 L187.4 40.1 L188.0 45.7 L188.6 39.7 L189.2 38.8 L189.8 45.1 L190.4 41.7 L191.0 38.3 L191.6 35.0 L192.2 31.0 L192.8 31.6 L193.4 32.2 L194.0 31.7 L194.6 32.0 L195.2 32.1 L195.8 34.3 L196.4 33.8 L197.0 32.5 L197.6 36.9 L198.2 35.7 L198.8 32.6 L199.4 41.2 L200.0 34.8 L200.6 32.9 L201.2 35.9 L201.8 34.4 L202.4 32.5 L203.0 35.8 L203.6 42.1 L204.2 32.9 L204.8 35.8 L205.4 32.8 L206.0 35.4 L206.6 34.9 L207.2 40.7 L207.8 33.3 L208.4 36.8 L209.0 34.3 L209.6 42.4 L210.2 35.0 L210.8 34.0 L211.4 34.4 L212.0 35.4 L212.6 34.6 L213.2 38.3 L213.8 42.6 L214.4 36.3 L215.0 35.1 L215.6 41.1 L216.2 38.7 L216.8 36.2 L217.4 35.6 L218.0 37.5 L218.6 36.3 L219.2 36.2 L219.8 44.5 L220.4 44.1 L221.0 37.2 L221.6 37.0 L222.2 39.0 L222.8 39.7 L223.4 36.8 L224.0 38.8 L224.6 37.0 L225.2 37.7 L225.6 51.6Z" fill="#0a0a0a"/>
<path d="M107.5 30.2H168M117.5 30V25.6H177V29.5M170 29.5H184M193 30.5L225.5 36.5" fill="none" stroke="#a0a0a0" stroke-width="0.5"/>
<rect x="227" y="53" width="23" height="107.5" fill="#d9d9d9"/>
<path d="M227 54.6H250M227 57.9H250M227 61.2H250M227 64.5H250M227 67.8H250M227 71.1H250M227 74.4H250M227 77.7H250M227 81.0H250M227 84.3H250M227 87.6H250M227 90.9H250M227 94.2H250M227 97.5H250M227 100.8H250M227 104.1H250M227 107.4H250M227 110.7H250M227 114.0H250M227 117.3H250M227 120.6H250M227 123.9H250M227 127.2H250M227 130.5H250M227 133.8H250M227 137.1H250M227 140.4H250M227 143.7H250M227 147.0H250M227 150.3H250M227 153.6H250M227 156.9H250M227 160.2H250" stroke="#e6e6e6" stroke-width="0.6"/>
<path d="M246.0 102.0H247.2V105.2H246.0M246.0 79.9H247.9V83.0H246.0M246.0 92.5H248.4V95.7H246.0M246.0 155.8H248.8V158.9H246.0M246.0 124.1H249.2V127.3H246.0M246.0 111.5H249.6V114.7H246.0M246.0 133.6H249.9V136.8H246.0M249.2 125.7H250.3V130.5H246.0M246.0 60.9H250.6V64.1H246.0M246.0 139.9H250.9V143.1H246.0M246.0 54.6H251.2V57.7H246.0M246.0 121.0H251.5V128.1H250.3M246.0 89.4H251.7V94.1H248.4M246.0 146.3H252.0V149.4H246.0M246.0 86.2H252.2V91.7H251.7M247.9 81.5H252.5V89.0H252.2M252.0 147.9H252.7V152.6H246.0M252.7 150.2H253.0V157.3H248.8M252.5 85.2H253.2V98.8H246.0M246.0 117.8H253.4V124.5H251.5M246.0 67.2H253.6V70.4H246.0M246.0 73.6H253.8V76.7H246.0M250.9 141.5H254.1V153.8H253.0M253.6 68.8H254.3V75.1H253.8M249.9 135.2H254.5V147.7H254.1M249.6 113.1H254.7V121.2H253.4M246.0 108.3H254.9V117.1H254.7M251.2 56.2H255.1V62.5H250.6M255.1 59.3H255.3V72.0H254.3M253.2 92.0H255.4V103.6H247.2M254.9 112.7H255.6V141.4H254.5M255.3 65.6H255.8V97.8H255.4M255.8 81.7H256.0V127.1H255.6" fill="none" stroke="#c4c4c4" stroke-width="0.6"/>
<rect x="14.4" y="200.20" width="73.10" height="0.8" fill="#2a2a2a"/>
<rect x="13.7" y="204.8" width="8.30" height="34.40" fill="url(#rdbu)" stroke="#5a5a5a" stroke-width="0.45"/>
<path d="M105.7 207.7V204.3H130.7V207.7" fill="none" stroke="#a8a8a8" stroke-width="0.55"/>
<rect x="90" y="215.5" width="60.0" height="8.5" fill="#e0e0e0"/>
<path d="M141.3 223.7V220.5H142.9V223.7M114.5 223.7V219.3H116.1V223.7M109.7 223.7V218.5H111.3V223.7M139.7 223.7V217.7H142.1V220.5M98.7 223.7V217.1H100.3V223.7M127.1 223.7V216.6H128.7V223.7M136.6 223.7V216.0H138.2V223.7M101.8 223.7V215.6H103.4V223.7M105.0 223.7V215.1H106.6V223.7M147.6 223.7V214.7H149.2V223.7M108.2 223.7V214.3H110.5V218.5M140.9 217.7V213.9H144.5V223.7M115.3 219.3V213.6H117.6V223.7M119.2 223.7V213.2H120.8V223.7M99.5 217.1V212.9H102.6V215.6M95.5 223.7V212.6H97.1V223.7M122.4 223.7V212.3H123.9V223.7M120.0 213.2V212.0H123.2V212.3M101.1 212.9V211.7H105.8V215.1M125.5 223.7V211.4H127.9V216.6M126.7 211.4V211.1H130.3V223.7M128.5 211.1V210.9H131.8V223.7M96.3 212.6V210.6H103.4V211.7M99.9 210.6V210.4H109.3V214.3M133.4 223.7V210.1H135.0V223.7M134.2 210.1V209.9H137.4V216.0M92.4 223.7V209.6H93.9V223.7M130.2 210.9V209.4H135.8V209.9M112.9 223.7V209.2H116.4V213.6M114.7 209.2V209.0H121.6V212.0M142.7 213.9V208.7H146.1V223.7M90.8 223.7V208.5H93.2V209.6M92.0 208.5V208.3H104.6V210.4M98.3 208.3V208.1H118.1V209.0M133.0 209.4V207.9H144.4V208.7M138.7 207.9V207.7H148.4V214.7M108.2 208.1V207.5H143.5V207.7" fill="none" stroke="#c8c8c8" stroke-width="0.7"/>
<path d="M150.5 283.5H154.5V286.1H150.5M150.5 288.6H155.6V291.1H150.5M150.5 243.0H156.4V245.5H150.5M155.6 289.9H157.0V293.7H150.5M156.4 244.3H157.5V248.1H150.5M150.5 265.8H158.0V268.3H150.5M150.5 250.6H158.4V253.1H150.5M150.5 263.3H158.8V267.1H158.0M150.5 270.9H159.1V273.4H150.5M150.5 278.5H159.5V281.0H150.5M150.5 240.5H159.8V246.2H157.5M150.5 260.7H160.0V265.2H158.8M158.4 251.9H160.3V255.7H150.5M150.5 296.2H160.6V298.7H150.5M157.0 291.8H160.8V297.5H160.6M150.5 230.3H161.1V232.9H150.5M160.3 253.8H161.3V258.2H150.5M159.8 243.3H161.5V256.0H161.3M160.0 262.9H161.7V272.1H159.1M154.5 284.8H161.9V294.6H160.8M150.5 235.4H162.1V237.9H150.5M150.5 225.3H162.3V227.8H150.5M161.7 267.5H162.5V275.9H150.5M159.5 279.7H162.7V289.7H161.9M162.3 226.5H162.8V231.6H161.1M162.1 236.7H163.0V249.6H161.5M162.8 229.1H163.2V243.2H163.0M162.5 271.7H163.3V284.7H162.7M163.2 236.1H163.5V278.2H163.3" fill="none" stroke="#bfbfbf" stroke-width="0.75"/>
<rect x="90" y="224" width="60.00" height="76.00" fill="#d1e5f0"/>
<path fill="#f7f7f7" d="M92.0 224.0h2.0v1.3h-2.0zM90.0 225.3h2.0v1.3h-2.0zM90.0 226.7h4.0v1.3h-4.0zM104.0 226.7h2.0v1.3h-2.0zM134.0 226.7h2.0v1.3h-2.0zM142.0 226.7h4.0v1.3h-4.0zM102.0 230.7h4.0v1.3h-4.0zM102.0 232.0h2.0v1.3h-2.0zM104.0 241.3h2.0v1.3h-2.0zM102.0 244.0h2.0v1.3h-2.0zM102.0 246.7h4.0v1.3h-4.0zM90.0 264.0h4.0v1.3h-4.0zM90.0 265.3h2.0v1.3h-2.0zM92.0 266.7h6.0v1.3h-6.0zM106.0 266.7h2.0v1.3h-2.0zM92.0 268.0h10.0v1.3h-10.0zM94.0 269.3h8.0v1.3h-8.0zM112.0 269.3h2.0v1.3h-2.0zM116.0 269.3h4.0v1.3h-4.0zM146.0 269.3h4.0v1.3h-4.0zM100.0 270.7h2.0v1.3h-2.0zM118.0 270.7h2.0v1.3h-2.0zM146.0 270.7h2.0v1.3h-2.0zM106.0 273.3h6.0v1.3h-6.0zM114.0 276.0h2.0v1.3h-2.0zM108.0 277.3h4.0v1.3h-4.0zM116.0 277.3h6.0v1.3h-6.0zM108.0 278.7h2.0v1.3h-2.0zM118.0 278.7h2.0v1.3h-2.0zM98.0 281.3h4.0v1.3h-4.0zM90.0 284.0h2.0v1.3h-2.0zM100.0 286.7h2.0v1.3h-2.0zM110.0 286.7h4.0v1.3h-4.0zM120.0 286.7h2.0v1.3h-2.0zM120.0 288.0h2.0v1.3h-2.0zM132.0 288.0h2.0v1.3h-2.0zM106.0 289.3h4.0v1.3h-4.0zM94.0 290.7h2.0v1.3h-2.0zM98.0 290.7h4.0v1.3h-4.0zM106.0 290.7h8.0v1.3h-8.0zM116.0 290.7h12.0v1.3h-12.0zM130.0 290.7h14.0v1.3h-14.0zM146.0 290.7h2.0v1.3h-2.0zM94.0 292.0h2.0v1.3h-2.0zM112.0 292.0h2.0v1.3h-2.0zM122.0 292.0h4.0v1.3h-4.0zM146.0 292.0h4.0v1.3h-4.0zM92.0 293.3h2.0v1.3h-2.0zM110.0 293.3h4.0v1.3h-4.0zM130.0 293.3h4.0v1.3h-4.0zM90.0 294.7h6.0v1.3h-6.0zM100.0 294.7h2.0v1.3h-2.0zM132.0 294.7h2.0v1.3h-2.0zM90.0 296.0h4.0v1.3h-4.0zM100.0 296.0h2.0v1.3h-2.0zM110.0 296.0h4.0v1.3h-4.0zM134.0 296.0h8.0v1.3h-8.0zM146.0 296.0h4.0v1.3h-4.0zM90.0 297.3h4.0v1.3h-4.0zM100.0 297.3h2.0v1.3h-2.0zM110.0 297.3h4.0v1.3h-4.0zM130.0 297.3h4.0v1.3h-4.0zM146.0 297.3h2.0v1.3h-2.0zM90.0 298.7h2.0v1.3h-2.0zM110.0 298.7h4.0v1.3h-4.0zM126.0 298.7h8.0v1.3h-8.0z"/>
<path fill="#d6604d" d="M96.0 224.0h2.0v1.3h-2.0zM102.0 225.3h2.0v1.3h-2.0zM94.0 226.7h4.0v1.3h-4.0zM96.0 228.0h2.0v1.3h-2.0zM104.0 228.0h2.0v1.3h-2.0zM102.0 229.3h4.0v1.3h-4.0zM116.0 229.3h2.0v1.3h-2.0zM110.0 230.7h6.0v1.3h-6.0zM108.0 232.0h10.0v1.3h-10.0zM108.0 233.3h2.0v1.3h-2.0zM116.0 233.3h2.0v1.3h-2.0zM90.0 236.0h2.0v1.3h-2.0zM104.0 236.0h2.0v1.3h-2.0zM112.0 236.0h2.0v1.3h-2.0zM104.0 238.7h2.0v1.3h-2.0zM102.0 240.0h2.0v1.3h-2.0zM102.0 241.3h2.0v1.3h-2.0zM102.0 242.7h4.0v1.3h-4.0zM104.0 244.0h2.0v1.3h-2.0zM102.0 248.0h4.0v1.3h-4.0zM104.0 249.3h2.0v1.3h-2.0zM96.0 250.7h4.0v1.3h-4.0zM98.0 252.0h6.0v1.3h-6.0zM98.0 253.3h2.0v1.3h-2.0zM102.0 253.3h4.0v1.3h-4.0zM110.0 253.3h2.0v1.3h-2.0zM98.0 254.7h2.0v1.3h-2.0zM102.0 254.7h2.0v1.3h-2.0zM98.0 256.0h2.0v1.3h-2.0zM98.0 257.3h4.0v1.3h-4.0zM98.0 261.3h2.0v1.3h-2.0zM106.0 262.7h4.0v1.3h-4.0zM104.0 265.3h2.0v1.3h-2.0zM96.0 270.7h2.0v1.3h-2.0zM102.0 272.0h2.0v1.3h-2.0zM90.0 273.3h4.0v1.3h-4.0zM100.0 274.7h2.0v1.3h-2.0zM94.0 280.0h4.0v1.3h-4.0zM100.0 280.0h2.0v1.3h-2.0zM92.0 281.3h2.0v1.3h-2.0zM102.0 281.3h4.0v1.3h-4.0zM92.0 282.7h2.0v1.3h-2.0zM94.0 284.0h2.0v1.3h-2.0zM98.0 284.0h4.0v1.3h-4.0zM94.0 285.3h4.0v1.3h-4.0zM94.0 286.7h4.0v1.3h-4.0zM124.0 288.0h2.0v1.3h-2.0z"/>
<path fill="#67001f" d="M102.0 224.0h4.0v1.3h-4.0zM118.0 224.0h2.0v1.3h-2.0zM104.0 225.3h2.0v1.3h-2.0zM102.0 226.7h2.0v1.3h-2.0zM90.0 232.0h2.0v1.3h-2.0zM102.0 233.3h4.0v1.3h-4.0zM102.0 234.7h4.0v1.3h-4.0zM102.0 236.0h2.0v1.3h-2.0zM102.0 237.3h2.0v1.3h-2.0zM102.0 245.3h2.0v1.3h-2.0zM100.0 246.7h2.0v1.3h-2.0zM100.0 248.0h2.0v1.3h-2.0zM102.0 250.7h4.0v1.3h-4.0zM102.0 256.0h4.0v1.3h-4.0zM92.0 257.3h2.0v1.3h-2.0zM102.0 257.3h4.0v1.3h-4.0zM102.0 258.7h4.0v1.3h-4.0zM102.0 260.0h2.0v1.3h-2.0zM102.0 261.3h2.0v1.3h-2.0zM98.0 262.7h8.0v1.3h-8.0zM144.0 286.7h2.0v1.3h-2.0z"/>
<path fill="#2166ac" d="M134.0 224.0h4.0v1.3h-4.0zM134.0 225.3h4.0v1.3h-4.0zM138.0 229.3h4.0v1.3h-4.0zM142.0 244.0h4.0v1.3h-4.0zM144.0 245.3h2.0v1.3h-2.0zM142.0 284.0h8.0v1.3h-8.0zM116.0 288.0h2.0v1.3h-2.0zM114.0 289.3h2.0v1.3h-2.0zM96.0 290.7h2.0v1.3h-2.0zM144.0 290.7h2.0v1.3h-2.0zM116.0 293.3h2.0v1.3h-2.0zM116.0 294.7h2.0v1.3h-2.0zM106.0 296.0h2.0v1.3h-2.0zM116.0 296.0h2.0v1.3h-2.0zM106.0 297.3h4.0v1.3h-4.0zM108.0 298.7h2.0v1.3h-2.0zM114.0 298.7h4.0v1.3h-4.0z"/>
<path fill="#fddbc7" d="M142.0 224.0h4.0v1.3h-4.0zM92.0 225.3h2.0v1.3h-2.0zM142.0 225.3h4.0v1.3h-4.0zM112.0 226.7h4.0v1.3h-4.0zM114.0 228.0h2.0v1.3h-2.0zM114.0 229.3h2.0v1.3h-2.0zM92.0 230.7h2.0v1.3h-2.0zM106.0 248.0h4.0v1.3h-4.0zM106.0 249.3h4.0v1.3h-4.0zM90.0 253.3h8.0v1.3h-8.0zM94.0 254.7h4.0v1.3h-4.0zM94.0 256.0h4.0v1.3h-4.0zM106.0 256.0h2.0v1.3h-2.0zM90.0 261.3h2.0v1.3h-2.0zM94.0 264.0h4.0v1.3h-4.0zM102.0 264.0h2.0v1.3h-2.0zM110.0 264.0h4.0v1.3h-4.0zM146.0 264.0h4.0v1.3h-4.0zM94.0 265.3h8.0v1.3h-8.0zM106.0 265.3h6.0v1.3h-6.0zM146.0 265.3h4.0v1.3h-4.0zM100.0 266.7h2.0v1.3h-2.0zM108.0 266.7h4.0v1.3h-4.0zM146.0 266.7h4.0v1.3h-4.0zM90.0 268.0h2.0v1.3h-2.0zM102.0 268.0h2.0v1.3h-2.0zM108.0 268.0h14.0v1.3h-14.0zM146.0 268.0h4.0v1.3h-4.0zM90.0 269.3h4.0v1.3h-4.0zM106.0 269.3h6.0v1.3h-6.0zM114.0 269.3h2.0v1.3h-2.0zM120.0 269.3h2.0v1.3h-2.0zM94.0 270.7h2.0v1.3h-2.0zM102.0 270.7h4.0v1.3h-4.0zM114.0 270.7h4.0v1.3h-4.0zM120.0 270.7h2.0v1.3h-2.0zM148.0 270.7h2.0v1.3h-2.0zM90.0 272.0h12.0v1.3h-12.0zM104.0 272.0h2.0v1.3h-2.0zM108.0 272.0h2.0v1.3h-2.0zM114.0 272.0h4.0v1.3h-4.0zM96.0 273.3h2.0v1.3h-2.0zM116.0 273.3h2.0v1.3h-2.0zM92.0 274.7h2.0v1.3h-2.0zM96.0 274.7h2.0v1.3h-2.0zM106.0 274.7h8.0v1.3h-8.0zM116.0 274.7h2.0v1.3h-2.0zM96.0 276.0h8.0v1.3h-8.0zM106.0 276.0h4.0v1.3h-4.0zM92.0 277.3h2.0v1.3h-2.0zM98.0 277.3h6.0v1.3h-6.0zM106.0 277.3h2.0v1.3h-2.0zM112.0 277.3h4.0v1.3h-4.0zM90.0 278.7h6.0v1.3h-6.0zM98.0 278.7h2.0v1.3h-2.0zM102.0 278.7h6.0v1.3h-6.0zM110.0 278.7h2.0v1.3h-2.0zM92.0 280.0h2.0v1.3h-2.0zM106.0 280.0h2.0v1.3h-2.0zM116.0 280.0h2.0v1.3h-2.0zM94.0 281.3h4.0v1.3h-4.0zM106.0 281.3h12.0v1.3h-12.0zM96.0 282.7h4.0v1.3h-4.0zM102.0 282.7h2.0v1.3h-2.0zM106.0 282.7h12.0v1.3h-12.0zM110.0 284.0h4.0v1.3h-4.0zM116.0 284.0h6.0v1.3h-6.0zM106.0 285.3h16.0v1.3h-16.0zM90.0 286.7h2.0v1.3h-2.0zM106.0 286.7h2.0v1.3h-2.0zM114.0 286.7h6.0v1.3h-6.0zM100.0 288.0h2.0v1.3h-2.0zM110.0 288.0h4.0v1.3h-4.0zM118.0 288.0h2.0v1.3h-2.0zM146.0 288.0h4.0v1.3h-4.0zM90.0 289.3h4.0v1.3h-4.0zM98.0 289.3h4.0v1.3h-4.0zM110.0 289.3h4.0v1.3h-4.0zM118.0 289.3h4.0v1.3h-4.0zM128.0 289.3h6.0v1.3h-6.0zM146.0 289.3h4.0v1.3h-4.0zM92.0 290.7h2.0v1.3h-2.0zM128.0 290.7h2.0v1.3h-2.0zM148.0 290.7h2.0v1.3h-2.0zM92.0 292.0h2.0v1.3h-2.0zM100.0 292.0h2.0v1.3h-2.0zM110.0 292.0h2.0v1.3h-2.0zM118.0 292.0h4.0v1.3h-4.0zM126.0 292.0h4.0v1.3h-4.0zM134.0 292.0h2.0v1.3h-2.0zM144.0 292.0h2.0v1.3h-2.0zM94.0 293.3h6.0v1.3h-6.0zM118.0 293.3h4.0v1.3h-4.0zM126.0 293.3h4.0v1.3h-4.0zM146.0 293.3h4.0v1.3h-4.0zM96.0 294.7h4.0v1.3h-4.0zM112.0 294.7h2.0v1.3h-2.0zM118.0 294.7h14.0v1.3h-14.0zM144.0 294.7h6.0v1.3h-6.0zM94.0 296.0h6.0v1.3h-6.0zM118.0 296.0h12.0v1.3h-12.0zM144.0 296.0h2.0v1.3h-2.0zM94.0 297.3h6.0v1.3h-6.0zM118.0 297.3h4.0v1.3h-4.0zM126.0 297.3h4.0v1.3h-4.0zM134.0 297.3h8.0v1.3h-8.0zM144.0 297.3h2.0v1.3h-2.0zM92.0 298.7h10.0v1.3h-10.0zM120.0 298.7h2.0v1.3h-2.0zM138.0 298.7h8.0v1.3h-8.0z"/>
<path fill="#053061" d="M136.0 226.7h2.0v1.3h-2.0zM138.0 228.0h2.0v1.3h-2.0zM142.0 285.3h2.0v1.3h-2.0z"/>
<path fill="#e2ebf3" d="M138.0 226.7h4.0v1.3h-4.0zM120.0 228.0h2.0v1.3h-2.0zM124.0 234.7h6.0v1.3h-6.0zM128.0 236.0h2.0v1.3h-2.0zM122.0 237.3h4.0v1.3h-4.0zM136.0 237.3h4.0v1.3h-4.0zM128.0 238.7h4.0v1.3h-4.0zM138.0 238.7h4.0v1.3h-4.0zM130.0 240.0h2.0v1.3h-2.0zM126.0 241.3h10.0v1.3h-10.0zM134.0 242.7h4.0v1.3h-4.0zM134.0 244.0h2.0v1.3h-2.0zM136.0 248.0h2.0v1.3h-2.0zM128.0 253.3h8.0v1.3h-8.0zM114.0 256.0h4.0v1.3h-4.0zM130.0 262.7h6.0v1.3h-6.0zM140.0 262.7h2.0v1.3h-2.0zM126.0 278.7h2.0v1.3h-2.0zM142.0 280.0h4.0v1.3h-4.0zM132.0 284.0h8.0v1.3h-8.0zM130.0 285.3h2.0v1.3h-2.0zM136.0 285.3h4.0v1.3h-4.0z"/>
<path fill="#b2182b" d="M102.0 228.0h2.0v1.3h-2.0zM106.0 230.7h4.0v1.3h-4.0zM140.0 230.7h2.0v1.3h-2.0zM104.0 232.0h4.0v1.3h-4.0zM110.0 233.3h4.0v1.3h-4.0zM112.0 234.7h4.0v1.3h-4.0zM104.0 237.3h2.0v1.3h-2.0zM102.0 238.7h2.0v1.3h-2.0zM110.0 238.7h2.0v1.3h-2.0zM104.0 240.0h2.0v1.3h-2.0zM104.0 245.3h2.0v1.3h-2.0zM102.0 249.3h2.0v1.3h-2.0zM100.0 250.7h2.0v1.3h-2.0zM92.0 252.0h2.0v1.3h-2.0zM104.0 252.0h2.0v1.3h-2.0zM110.0 252.0h6.0v1.3h-6.0zM100.0 253.3h2.0v1.3h-2.0zM114.0 253.3h2.0v1.3h-2.0zM100.0 254.7h2.0v1.3h-2.0zM104.0 254.7h6.0v1.3h-6.0zM116.0 254.7h2.0v1.3h-2.0zM100.0 256.0h2.0v1.3h-2.0zM106.0 257.3h2.0v1.3h-2.0zM98.0 258.7h4.0v1.3h-4.0zM106.0 258.7h2.0v1.3h-2.0zM98.0 260.0h4.0v1.3h-4.0zM104.0 260.0h2.0v1.3h-2.0zM92.0 261.3h2.0v1.3h-2.0zM100.0 261.3h2.0v1.3h-2.0zM104.0 261.3h2.0v1.3h-2.0zM144.0 261.3h2.0v1.3h-2.0zM92.0 262.7h2.0v1.3h-2.0zM102.0 273.3h4.0v1.3h-4.0zM102.0 274.7h4.0v1.3h-4.0zM96.0 278.7h2.0v1.3h-2.0zM102.0 285.3h2.0v1.3h-2.0z"/>
<path fill="#f4a582" d="M98.0 264.0h4.0v1.3h-4.0zM104.0 264.0h2.0v1.3h-2.0zM92.0 265.3h2.0v1.3h-2.0zM102.0 265.3h2.0v1.3h-2.0zM90.0 266.7h2.0v1.3h-2.0zM98.0 266.7h2.0v1.3h-2.0zM102.0 266.7h4.0v1.3h-4.0zM104.0 268.0h2.0v1.3h-2.0zM102.0 269.3h4.0v1.3h-4.0zM98.0 270.7h2.0v1.3h-2.0zM106.0 272.0h2.0v1.3h-2.0zM94.0 273.3h2.0v1.3h-2.0zM98.0 273.3h4.0v1.3h-4.0zM90.0 274.7h2.0v1.3h-2.0zM94.0 274.7h2.0v1.3h-2.0zM98.0 274.7h2.0v1.3h-2.0zM114.0 274.7h2.0v1.3h-2.0zM90.0 276.0h6.0v1.3h-6.0zM104.0 276.0h2.0v1.3h-2.0zM110.0 276.0h4.0v1.3h-4.0zM116.0 276.0h6.0v1.3h-6.0zM90.0 277.3h2.0v1.3h-2.0zM94.0 277.3h4.0v1.3h-4.0zM104.0 277.3h2.0v1.3h-2.0zM100.0 278.7h2.0v1.3h-2.0zM112.0 278.7h2.0v1.3h-2.0zM90.0 280.0h2.0v1.3h-2.0zM98.0 280.0h2.0v1.3h-2.0zM102.0 280.0h4.0v1.3h-4.0zM90.0 281.3h2.0v1.3h-2.0zM90.0 282.7h2.0v1.3h-2.0zM94.0 282.7h2.0v1.3h-2.0zM100.0 282.7h2.0v1.3h-2.0zM104.0 282.7h2.0v1.3h-2.0zM92.0 284.0h2.0v1.3h-2.0zM96.0 284.0h2.0v1.3h-2.0zM102.0 284.0h8.0v1.3h-8.0zM114.0 284.0h2.0v1.3h-2.0zM90.0 285.3h4.0v1.3h-4.0zM98.0 285.3h4.0v1.3h-4.0zM104.0 285.3h2.0v1.3h-2.0zM92.0 286.7h2.0v1.3h-2.0zM98.0 286.7h2.0v1.3h-2.0zM102.0 286.7h4.0v1.3h-4.0zM108.0 286.7h2.0v1.3h-2.0zM122.0 288.0h2.0v1.3h-2.0zM126.0 288.0h6.0v1.3h-6.0zM122.0 289.3h4.0v1.3h-4.0zM96.0 292.0h4.0v1.3h-4.0zM136.0 292.0h2.0v1.3h-2.0zM142.0 292.0h2.0v1.3h-2.0zM100.0 293.3h2.0v1.3h-2.0zM122.0 293.3h4.0v1.3h-4.0zM134.0 293.3h4.0v1.3h-4.0zM142.0 293.3h4.0v1.3h-4.0zM118.0 298.7h2.0v1.3h-2.0z"/>
<path fill="#92c5de" d="M124.0 268.0h12.0v1.3h-12.0zM122.0 269.3h8.0v1.3h-8.0zM136.0 269.3h4.0v1.3h-4.0zM122.0 270.7h12.0v1.3h-12.0zM136.0 270.7h10.0v1.3h-10.0zM124.0 280.0h4.0v1.3h-4.0zM118.0 281.3h6.0v1.3h-6.0zM128.0 281.3h2.0v1.3h-2.0zM122.0 282.7h6.0v1.3h-6.0zM130.0 282.7h2.0v1.3h-2.0zM90.0 288.0h4.0v1.3h-4.0zM102.0 288.0h8.0v1.3h-8.0zM102.0 289.3h4.0v1.3h-4.0zM90.0 290.7h2.0v1.3h-2.0zM102.0 290.7h4.0v1.3h-4.0zM140.0 292.0h2.0v1.3h-2.0zM102.0 293.3h6.0v1.3h-6.0zM138.0 294.7h2.0v1.3h-2.0zM102.0 296.0h4.0v1.3h-4.0zM102.0 297.3h4.0v1.3h-4.0zM114.0 297.3h2.0v1.3h-2.0z"/>
<path fill="#4393c3" d="M134.0 269.3h2.0v1.3h-2.0zM120.0 280.0h4.0v1.3h-4.0zM140.0 281.3h2.0v1.3h-2.0zM94.0 288.0h4.0v1.3h-4.0zM114.0 288.0h2.0v1.3h-2.0zM134.0 288.0h12.0v1.3h-12.0zM94.0 289.3h4.0v1.3h-4.0zM116.0 289.3h2.0v1.3h-2.0zM134.0 289.3h12.0v1.3h-12.0zM114.0 290.7h2.0v1.3h-2.0zM114.0 292.0h4.0v1.3h-4.0zM114.0 293.3h2.0v1.3h-2.0zM102.0 294.7h6.0v1.3h-6.0zM114.0 294.7h2.0v1.3h-2.0zM108.0 296.0h2.0v1.3h-2.0zM114.0 296.0h2.0v1.3h-2.0zM116.0 297.3h2.0v1.3h-2.0zM106.0 298.7h2.0v1.3h-2.0z"/>
<path fill="#ffffff" d="M130.0 292.0h2.0v1.3h-2.0z"/>
<path d="M84.5 225.5h5M84.5 229.9h5M84.5 259.1h5M84.5 269.9h5M84.5 277.5h5M84.5 293.1h5" stroke="#cfcfd8" stroke-width="0.9" fill="none"/>
<path d="M84.5 233.9h5M84.5 240.7h5M84.5 244.7h5M84.5 274.3h5M84.5 281.9h5" stroke="#e2cce2" stroke-width="0.9" fill="none"/>
<path d="M84.5 237.5h5M84.5 296.7h5" stroke="#f0d2c4" stroke-width="0.9" fill="none"/>
<path d="M84.5 248.7h5M84.5 255.9h5M84.5 266.7h5" stroke="#d2e6cc" stroke-width="0.9" fill="none"/>
<path d="M84.5 252.3h5" stroke="#c8e0e8" stroke-width="0.9" fill="none"/>
<path d="M84.5 262.3h5M84.5 285.5h5M84.5 289.5h5" stroke="#ece0b8" stroke-width="0.9" fill="none"/>
<path d="M193.6 207.7V204.3H211.3V207.7" fill="none" stroke="#a8a8a8" stroke-width="0.55"/>
<rect x="179" y="215.5" width="60.0" height="7.5" fill="#e0e0e0"/>
<path d="M187.7 222.7V219.7H189.3V222.7M201.9 222.7V218.6H203.5V222.7M222.4 222.7V217.8H224.0V222.7M198.7 222.7V217.1H200.3V222.7M199.5 217.1V216.5H202.7V218.6M219.3 222.7V216.0H220.8V222.7M195.6 222.7V215.5H197.2V222.7M188.5 219.7V215.1H190.8V222.7M235.1 222.7V214.7H236.6V222.7M223.2 217.8V214.3H225.6V222.7M209.8 222.7V213.9H211.4V222.7M181.4 222.7V213.5H182.9V222.7M230.3 222.7V213.2H231.9V222.7M235.8 214.7V212.9H238.2V222.7M227.2 222.7V212.6H228.7V222.7M212.9 222.7V212.3H214.5V222.7M189.7 215.1V212.0H192.4V222.7M179.8 222.7V211.7H182.2V213.5M224.4 214.3V211.4H227.9V212.6M217.7 222.7V211.2H220.1V216.0M210.6 213.9V210.9H213.7V212.3M231.1 213.2V210.7H233.5V222.7M208.2 222.7V210.4H212.2V210.9M191.0 212.0V210.2H194.0V222.7M186.1 222.7V210.0H192.5V210.2M205.1 222.7V209.7H206.6V222.7M189.3 210.0V209.5H196.4V215.5M216.1 222.7V209.3H218.9V211.2M184.5 222.7V209.1H192.8V209.5M217.5 209.3V208.9H226.2V211.4M188.7 209.1V208.7H201.1V216.5M232.3 210.7V208.5H237.0V212.9M210.2 210.4V208.3H221.8V208.9M216.0 208.3V208.1H234.7V208.5M181.0 211.7V207.9H194.9V208.7M205.8 209.7V207.7H225.3V208.1M187.9 207.9V207.5H215.6V207.7" fill="none" stroke="#c8c8c8" stroke-width="0.7"/>
<path d="M239.5 242.2H243.5V244.8H239.5M239.5 260.2H244.6V262.8H239.5M239.5 229.4H245.4V232.0H239.5M239.5 270.5H246.0V273.1H239.5M239.5 249.9H246.5V252.5H239.5M239.5 280.8H247.0V283.3H239.5M239.5 247.4H247.4V251.2H246.5M239.5 265.4H247.8V267.9H239.5M239.5 288.4H248.1V291.0H239.5M239.5 278.2H248.5V282.0H247.0M245.4 230.7H248.8V234.6H239.5M239.5 226.8H249.0V232.6H248.8M244.6 261.5H249.3V266.6H247.8M239.5 237.1H249.6V239.7H239.5M247.4 249.3H249.8V255.1H239.5M239.5 285.9H250.1V289.7H248.1M249.6 238.4H250.3V243.5H243.5M246.0 271.8H250.5V275.6H239.5M248.5 280.1H250.7V287.8H250.1M249.8 252.2H250.9V257.6H239.5M249.0 229.7H251.1V241.0H250.3M250.7 284.0H251.3V293.6H239.5M239.5 224.3H251.5V235.4H251.1M249.3 264.1H251.7V273.7H250.5M239.5 296.1H251.8V298.7H239.5M251.5 229.8H252.0V254.9H250.9M251.3 288.8H252.2V297.4H251.8M252.0 242.4H252.3V268.9H251.7M252.3 255.6H252.5V293.1H252.2" fill="none" stroke="#bfbfbf" stroke-width="0.75"/>
<rect x="179" y="223" width="60.00" height="77.00" fill="#d1e5f0"/>
<path fill="#f7f7f7" d="M179.0 223.0h2.0v1.4h-2.0zM231.0 223.0h4.0v1.4h-4.0zM179.0 224.4h2.0v1.4h-2.0zM217.0 224.4h2.0v1.4h-2.0zM223.0 224.4h4.0v1.4h-4.0zM231.0 224.4h4.0v1.4h-4.0zM179.0 225.7h6.0v1.4h-6.0zM195.0 225.7h4.0v1.4h-4.0zM217.0 225.7h2.0v1.4h-2.0zM223.0 225.7h2.0v1.4h-2.0zM229.0 225.7h6.0v1.4h-6.0zM213.0 227.1h4.0v1.4h-4.0zM233.0 227.1h2.0v1.4h-2.0zM187.0 228.4h2.0v1.4h-2.0zM187.0 229.8h16.0v1.4h-16.0zM209.0 229.8h2.0v1.4h-2.0zM179.0 231.1h4.0v1.4h-4.0zM187.0 231.1h4.0v1.4h-4.0zM221.0 231.1h14.0v1.4h-14.0zM237.0 231.1h2.0v1.4h-2.0zM187.0 232.5h4.0v1.4h-4.0zM201.0 232.5h4.0v1.4h-4.0zM223.0 232.5h6.0v1.4h-6.0zM179.0 233.8h2.0v1.4h-2.0zM209.0 233.8h2.0v1.4h-2.0zM219.0 233.8h6.0v1.4h-6.0zM235.0 233.8h2.0v1.4h-2.0zM179.0 235.2h4.0v1.4h-4.0zM223.0 235.2h4.0v1.4h-4.0zM179.0 236.5h4.0v1.4h-4.0zM203.0 236.5h4.0v1.4h-4.0zM179.0 237.9h4.0v1.4h-4.0zM211.0 237.9h2.0v1.4h-2.0zM219.0 237.9h2.0v1.4h-2.0zM223.0 237.9h2.0v1.4h-2.0zM203.0 239.2h4.0v1.4h-4.0zM219.0 239.2h8.0v1.4h-8.0zM179.0 240.6h2.0v1.4h-2.0zM187.0 240.6h4.0v1.4h-4.0zM221.0 240.6h2.0v1.4h-2.0zM179.0 241.9h4.0v1.4h-4.0zM205.0 241.9h2.0v1.4h-2.0zM211.0 241.9h6.0v1.4h-6.0zM219.0 241.9h2.0v1.4h-2.0zM181.0 243.3h2.0v1.4h-2.0zM205.0 243.3h2.0v1.4h-2.0zM219.0 243.3h4.0v1.4h-4.0zM181.0 244.6h2.0v1.4h-2.0zM185.0 244.6h2.0v1.4h-2.0zM231.0 244.6h4.0v1.4h-4.0zM191.0 246.0h4.0v1.4h-4.0zM217.0 246.0h4.0v1.4h-4.0zM187.0 247.3h8.0v1.4h-8.0zM197.0 247.3h2.0v1.4h-2.0zM219.0 247.3h4.0v1.4h-4.0zM231.0 247.3h4.0v1.4h-4.0zM231.0 248.7h6.0v1.4h-6.0zM181.0 250.0h2.0v1.4h-2.0zM197.0 250.0h4.0v1.4h-4.0zM231.0 250.0h6.0v1.4h-6.0zM189.0 251.4h2.0v1.4h-2.0zM191.0 252.7h4.0v1.4h-4.0zM181.0 254.1h2.0v1.4h-2.0zM207.0 255.4h4.0v1.4h-4.0zM213.0 255.4h2.0v1.4h-2.0zM185.0 256.8h4.0v1.4h-4.0zM209.0 256.8h2.0v1.4h-2.0zM225.0 256.8h2.0v1.4h-2.0zM235.0 256.8h2.0v1.4h-2.0zM187.0 258.1h2.0v1.4h-2.0zM207.0 258.1h2.0v1.4h-2.0zM211.0 258.1h4.0v1.4h-4.0zM179.0 259.5h2.0v1.4h-2.0zM183.0 259.5h16.0v1.4h-16.0zM201.0 259.5h2.0v1.4h-2.0zM211.0 259.5h2.0v1.4h-2.0zM215.0 259.5h4.0v1.4h-4.0zM223.0 259.5h2.0v1.4h-2.0zM231.0 259.5h8.0v1.4h-8.0zM231.0 260.8h2.0v1.4h-2.0zM185.0 262.2h2.0v1.4h-2.0zM231.0 262.2h2.0v1.4h-2.0zM183.0 263.5h2.0v1.4h-2.0zM199.0 263.5h2.0v1.4h-2.0zM231.0 263.5h6.0v1.4h-6.0zM183.0 264.9h4.0v1.4h-4.0zM187.0 266.2h4.0v1.4h-4.0zM211.0 266.2h2.0v1.4h-2.0zM225.0 266.2h2.0v1.4h-2.0zM233.0 266.2h2.0v1.4h-2.0zM181.0 267.6h2.0v1.4h-2.0zM211.0 267.6h2.0v1.4h-2.0zM211.0 268.9h4.0v1.4h-4.0zM217.0 268.9h2.0v1.4h-2.0zM181.0 270.3h6.0v1.4h-6.0zM191.0 270.3h4.0v1.4h-4.0zM215.0 270.3h2.0v1.4h-2.0zM201.0 271.6h2.0v1.4h-2.0zM219.0 271.6h2.0v1.4h-2.0zM179.0 273.0h4.0v1.4h-4.0zM201.0 273.0h2.0v1.4h-2.0zM207.0 273.0h2.0v1.4h-2.0zM237.0 273.0h2.0v1.4h-2.0zM179.0 274.3h2.0v1.4h-2.0zM207.0 274.3h4.0v1.4h-4.0zM229.0 274.3h4.0v1.4h-4.0zM183.0 275.7h12.0v1.4h-12.0zM211.0 275.7h10.0v1.4h-10.0zM233.0 275.7h6.0v1.4h-6.0zM183.0 277.0h8.0v1.4h-8.0zM193.0 277.0h12.0v1.4h-12.0zM207.0 277.0h2.0v1.4h-2.0zM221.0 277.0h2.0v1.4h-2.0zM237.0 277.0h2.0v1.4h-2.0zM185.0 278.4h4.0v1.4h-4.0zM197.0 278.4h12.0v1.4h-12.0zM217.0 278.4h6.0v1.4h-6.0zM237.0 278.4h2.0v1.4h-2.0zM231.0 279.7h6.0v1.4h-6.0zM179.0 281.1h2.0v1.4h-2.0zM183.0 281.1h16.0v1.4h-16.0zM201.0 281.1h2.0v1.4h-2.0zM207.0 281.1h8.0v1.4h-8.0zM217.0 281.1h2.0v1.4h-2.0zM227.0 281.1h10.0v1.4h-10.0zM189.0 282.4h2.0v1.4h-2.0zM237.0 282.4h2.0v1.4h-2.0zM187.0 286.5h4.0v1.4h-4.0zM189.0 287.8h2.0v1.4h-2.0zM219.0 287.8h4.0v1.4h-4.0zM211.0 289.2h4.0v1.4h-4.0zM231.0 289.2h2.0v1.4h-2.0zM219.0 290.5h4.0v1.4h-4.0zM181.0 291.9h16.0v1.4h-16.0zM199.0 291.9h8.0v1.4h-8.0zM219.0 291.9h10.0v1.4h-10.0zM183.0 293.2h16.0v1.4h-16.0zM201.0 293.2h8.0v1.4h-8.0zM213.0 293.2h4.0v1.4h-4.0zM221.0 293.2h18.0v1.4h-18.0zM179.0 294.6h16.0v1.4h-16.0zM197.0 294.6h2.0v1.4h-2.0zM201.0 294.6h16.0v1.4h-16.0zM221.0 294.6h6.0v1.4h-6.0zM229.0 294.6h4.0v1.4h-4.0zM237.0 294.6h2.0v1.4h-2.0zM183.0 295.9h6.0v1.4h-6.0zM199.0 295.9h4.0v1.4h-4.0zM235.0 295.9h4.0v1.4h-4.0zM179.0 297.3h14.0v1.4h-14.0zM195.0 297.3h8.0v1.4h-8.0zM207.0 297.3h2.0v1.4h-2.0zM213.0 297.3h2.0v1.4h-2.0zM217.0 297.3h8.0v1.4h-8.0zM229.0 297.3h10.0v1.4h-10.0zM183.0 298.6h8.0v1.4h-8.0zM213.0 298.6h2.0v1.4h-2.0zM219.0 298.6h4.0v1.4h-4.0zM229.0 298.6h2.0v1.4h-2.0z"/>
<path fill="#fddbc7" d="M181.0 223.0h2.0v1.4h-2.0zM185.0 223.0h2.0v1.4h-2.0zM211.0 223.0h4.0v1.4h-4.0zM219.0 223.0h4.0v1.4h-4.0zM225.0 223.0h6.0v1.4h-6.0zM181.0 224.4h6.0v1.4h-6.0zM197.0 224.4h2.0v1.4h-2.0zM203.0 224.4h4.0v1.4h-4.0zM211.0 224.4h6.0v1.4h-6.0zM221.0 224.4h2.0v1.4h-2.0zM227.0 224.4h4.0v1.4h-4.0zM185.0 225.7h2.0v1.4h-2.0zM211.0 225.7h6.0v1.4h-6.0zM219.0 225.7h4.0v1.4h-4.0zM225.0 225.7h4.0v1.4h-4.0zM187.0 227.1h2.0v1.4h-2.0zM191.0 227.1h2.0v1.4h-2.0zM197.0 227.1h2.0v1.4h-2.0zM235.0 227.1h4.0v1.4h-4.0zM183.0 228.4h4.0v1.4h-4.0zM203.0 228.4h4.0v1.4h-4.0zM209.0 228.4h2.0v1.4h-2.0zM219.0 228.4h2.0v1.4h-2.0zM229.0 228.4h2.0v1.4h-2.0zM237.0 228.4h2.0v1.4h-2.0zM179.0 229.8h8.0v1.4h-8.0zM203.0 229.8h2.0v1.4h-2.0zM219.0 229.8h6.0v1.4h-6.0zM227.0 229.8h6.0v1.4h-6.0zM235.0 229.8h4.0v1.4h-4.0zM183.0 231.1h2.0v1.4h-2.0zM191.0 231.1h2.0v1.4h-2.0zM201.0 231.1h4.0v1.4h-4.0zM219.0 231.1h2.0v1.4h-2.0zM183.0 232.5h4.0v1.4h-4.0zM191.0 232.5h4.0v1.4h-4.0zM237.0 232.5h2.0v1.4h-2.0zM193.0 233.8h2.0v1.4h-2.0zM225.0 233.8h6.0v1.4h-6.0zM237.0 233.8h2.0v1.4h-2.0zM191.0 235.2h4.0v1.4h-4.0zM203.0 235.2h4.0v1.4h-4.0zM211.0 235.2h12.0v1.4h-12.0zM193.0 236.5h2.0v1.4h-2.0zM211.0 236.5h14.0v1.4h-14.0zM187.0 237.9h2.0v1.4h-2.0zM191.0 237.9h2.0v1.4h-2.0zM203.0 237.9h2.0v1.4h-2.0zM215.0 237.9h2.0v1.4h-2.0zM221.0 237.9h2.0v1.4h-2.0zM179.0 239.2h4.0v1.4h-4.0zM187.0 239.2h8.0v1.4h-8.0zM213.0 239.2h6.0v1.4h-6.0zM181.0 240.6h2.0v1.4h-2.0zM191.0 240.6h2.0v1.4h-2.0zM203.0 240.6h4.0v1.4h-4.0zM213.0 240.6h8.0v1.4h-8.0zM223.0 240.6h4.0v1.4h-4.0zM187.0 241.9h6.0v1.4h-6.0zM203.0 241.9h2.0v1.4h-2.0zM217.0 241.9h2.0v1.4h-2.0zM221.0 241.9h2.0v1.4h-2.0zM183.0 243.3h4.0v1.4h-4.0zM199.0 243.3h6.0v1.4h-6.0zM207.0 243.3h4.0v1.4h-4.0zM215.0 243.3h4.0v1.4h-4.0zM225.0 243.3h2.0v1.4h-2.0zM231.0 243.3h4.0v1.4h-4.0zM189.0 244.6h6.0v1.4h-6.0zM199.0 244.6h2.0v1.4h-2.0zM203.0 244.6h10.0v1.4h-10.0zM217.0 244.6h10.0v1.4h-10.0zM181.0 246.0h10.0v1.4h-10.0zM199.0 246.0h8.0v1.4h-8.0zM211.0 246.0h4.0v1.4h-4.0zM223.0 246.0h2.0v1.4h-2.0zM231.0 246.0h4.0v1.4h-4.0zM179.0 247.3h2.0v1.4h-2.0zM199.0 247.3h4.0v1.4h-4.0zM205.0 247.3h4.0v1.4h-4.0zM211.0 247.3h4.0v1.4h-4.0zM223.0 247.3h2.0v1.4h-2.0zM179.0 248.7h6.0v1.4h-6.0zM187.0 248.7h6.0v1.4h-6.0zM195.0 248.7h8.0v1.4h-8.0zM205.0 248.7h20.0v1.4h-20.0zM179.0 250.0h2.0v1.4h-2.0zM183.0 250.0h2.0v1.4h-2.0zM187.0 250.0h4.0v1.4h-4.0zM193.0 250.0h4.0v1.4h-4.0zM203.0 250.0h6.0v1.4h-6.0zM215.0 250.0h8.0v1.4h-8.0zM225.0 250.0h2.0v1.4h-2.0zM183.0 251.4h4.0v1.4h-4.0zM193.0 251.4h2.0v1.4h-2.0zM197.0 251.4h6.0v1.4h-6.0zM217.0 251.4h2.0v1.4h-2.0zM225.0 251.4h2.0v1.4h-2.0zM231.0 251.4h8.0v1.4h-8.0zM179.0 252.7h4.0v1.4h-4.0zM185.0 252.7h6.0v1.4h-6.0zM197.0 252.7h6.0v1.4h-6.0zM211.0 252.7h4.0v1.4h-4.0zM217.0 252.7h2.0v1.4h-2.0zM231.0 252.7h8.0v1.4h-8.0zM179.0 254.1h2.0v1.4h-2.0zM185.0 254.1h8.0v1.4h-8.0zM195.0 254.1h4.0v1.4h-4.0zM211.0 254.1h8.0v1.4h-8.0zM221.0 254.1h2.0v1.4h-2.0zM225.0 254.1h2.0v1.4h-2.0zM231.0 254.1h4.0v1.4h-4.0zM179.0 255.4h2.0v1.4h-2.0zM187.0 255.4h4.0v1.4h-4.0zM193.0 255.4h6.0v1.4h-6.0zM235.0 255.4h4.0v1.4h-4.0zM179.0 256.8h6.0v1.4h-6.0zM189.0 256.8h4.0v1.4h-4.0zM195.0 256.8h4.0v1.4h-4.0zM207.0 256.8h2.0v1.4h-2.0zM219.0 256.8h4.0v1.4h-4.0zM237.0 256.8h2.0v1.4h-2.0zM181.0 258.1h2.0v1.4h-2.0zM185.0 258.1h2.0v1.4h-2.0zM189.0 258.1h4.0v1.4h-4.0zM195.0 258.1h2.0v1.4h-2.0zM219.0 258.1h4.0v1.4h-4.0zM235.0 258.1h4.0v1.4h-4.0zM181.0 259.5h2.0v1.4h-2.0zM213.0 259.5h2.0v1.4h-2.0zM179.0 260.8h16.0v1.4h-16.0zM211.0 260.8h2.0v1.4h-2.0zM223.0 260.8h4.0v1.4h-4.0zM235.0 260.8h4.0v1.4h-4.0zM179.0 262.2h6.0v1.4h-6.0zM187.0 262.2h8.0v1.4h-8.0zM211.0 262.2h6.0v1.4h-6.0zM233.0 262.2h6.0v1.4h-6.0zM185.0 263.5h6.0v1.4h-6.0zM211.0 263.5h4.0v1.4h-4.0zM223.0 263.5h4.0v1.4h-4.0zM237.0 263.5h2.0v1.4h-2.0zM179.0 264.9h4.0v1.4h-4.0zM199.0 264.9h2.0v1.4h-2.0zM211.0 264.9h8.0v1.4h-8.0zM223.0 264.9h4.0v1.4h-4.0zM237.0 264.9h2.0v1.4h-2.0zM199.0 266.2h4.0v1.4h-4.0zM215.0 266.2h4.0v1.4h-4.0zM223.0 266.2h2.0v1.4h-2.0zM231.0 266.2h2.0v1.4h-2.0zM235.0 266.2h4.0v1.4h-4.0zM185.0 267.6h2.0v1.4h-2.0zM191.0 267.6h4.0v1.4h-4.0zM199.0 267.6h4.0v1.4h-4.0zM215.0 267.6h4.0v1.4h-4.0zM227.0 267.6h10.0v1.4h-10.0zM179.0 268.9h2.0v1.4h-2.0zM183.0 268.9h4.0v1.4h-4.0zM191.0 268.9h2.0v1.4h-2.0zM199.0 268.9h4.0v1.4h-4.0zM229.0 268.9h10.0v1.4h-10.0zM179.0 270.3h2.0v1.4h-2.0zM199.0 270.3h4.0v1.4h-4.0zM211.0 270.3h2.0v1.4h-2.0zM217.0 270.3h2.0v1.4h-2.0zM227.0 270.3h8.0v1.4h-8.0zM187.0 271.6h4.0v1.4h-4.0zM195.0 271.6h6.0v1.4h-6.0zM209.0 271.6h2.0v1.4h-2.0zM227.0 271.6h10.0v1.4h-10.0zM189.0 273.0h2.0v1.4h-2.0zM195.0 273.0h6.0v1.4h-6.0zM209.0 273.0h2.0v1.4h-2.0zM219.0 273.0h6.0v1.4h-6.0zM227.0 273.0h2.0v1.4h-2.0zM231.0 273.0h4.0v1.4h-4.0zM181.0 274.3h2.0v1.4h-2.0zM187.0 274.3h4.0v1.4h-4.0zM195.0 274.3h8.0v1.4h-8.0zM219.0 274.3h10.0v1.4h-10.0zM235.0 274.3h4.0v1.4h-4.0zM203.0 275.7h2.0v1.4h-2.0zM207.0 275.7h4.0v1.4h-4.0zM205.0 277.0h2.0v1.4h-2.0zM209.0 277.0h2.0v1.4h-2.0zM233.0 277.0h4.0v1.4h-4.0zM209.0 278.4h4.0v1.4h-4.0zM229.0 278.4h2.0v1.4h-2.0zM187.0 279.7h4.0v1.4h-4.0zM217.0 279.7h4.0v1.4h-4.0zM237.0 279.7h2.0v1.4h-2.0zM219.0 281.1h4.0v1.4h-4.0zM237.0 281.1h2.0v1.4h-2.0zM187.0 282.4h2.0v1.4h-2.0zM199.0 282.4h4.0v1.4h-4.0zM207.0 282.4h4.0v1.4h-4.0zM215.0 282.4h8.0v1.4h-8.0zM231.0 282.4h6.0v1.4h-6.0zM187.0 283.8h4.0v1.4h-4.0zM199.0 283.8h4.0v1.4h-4.0zM207.0 283.8h10.0v1.4h-10.0zM219.0 283.8h2.0v1.4h-2.0zM231.0 283.8h8.0v1.4h-8.0zM187.0 285.1h4.0v1.4h-4.0zM201.0 285.1h2.0v1.4h-2.0zM231.0 285.1h8.0v1.4h-8.0zM199.0 286.5h2.0v1.4h-2.0zM213.0 286.5h2.0v1.4h-2.0zM231.0 286.5h8.0v1.4h-8.0zM199.0 287.8h4.0v1.4h-4.0zM213.0 287.8h2.0v1.4h-2.0zM217.0 287.8h2.0v1.4h-2.0zM231.0 287.8h6.0v1.4h-6.0zM199.0 289.2h4.0v1.4h-4.0zM219.0 289.2h4.0v1.4h-4.0zM235.0 289.2h2.0v1.4h-2.0zM189.0 290.5h2.0v1.4h-2.0zM201.0 290.5h2.0v1.4h-2.0zM213.0 290.5h2.0v1.4h-2.0zM231.0 290.5h8.0v1.4h-8.0zM207.0 291.9h2.0v1.4h-2.0zM215.0 291.9h2.0v1.4h-2.0zM229.0 291.9h10.0v1.4h-10.0zM179.0 293.2h4.0v1.4h-4.0zM199.0 293.2h2.0v1.4h-2.0zM191.0 295.9h4.0v1.4h-4.0zM211.0 295.9h2.0v1.4h-2.0zM223.0 295.9h4.0v1.4h-4.0zM231.0 295.9h2.0v1.4h-2.0zM193.0 297.3h2.0v1.4h-2.0zM191.0 298.6h4.0v1.4h-4.0zM199.0 298.6h4.0v1.4h-4.0zM211.0 298.6h2.0v1.4h-2.0zM223.0 298.6h6.0v1.4h-6.0zM231.0 298.6h4.0v1.4h-4.0z"/>
<path fill="#f4a582" d="M183.0 223.0h2.0v1.4h-2.0zM205.0 223.0h2.0v1.4h-2.0zM193.0 227.1h4.0v1.4h-4.0zM201.0 227.1h6.0v1.4h-6.0zM179.0 228.4h2.0v1.4h-2.0zM193.0 228.4h10.0v1.4h-10.0zM199.0 231.1h2.0v1.4h-2.0zM187.0 235.2h4.0v1.4h-4.0zM191.0 236.5h2.0v1.4h-2.0zM225.0 236.5h2.0v1.4h-2.0zM189.0 237.9h2.0v1.4h-2.0zM193.0 237.9h2.0v1.4h-2.0zM225.0 237.9h2.0v1.4h-2.0zM193.0 240.6h2.0v1.4h-2.0zM179.0 243.3h2.0v1.4h-2.0zM187.0 243.3h8.0v1.4h-8.0zM211.0 243.3h4.0v1.4h-4.0zM179.0 244.6h2.0v1.4h-2.0zM183.0 244.6h2.0v1.4h-2.0zM187.0 244.6h2.0v1.4h-2.0zM215.0 244.6h2.0v1.4h-2.0zM179.0 246.0h2.0v1.4h-2.0zM207.0 246.0h4.0v1.4h-4.0zM215.0 246.0h2.0v1.4h-2.0zM225.0 246.0h2.0v1.4h-2.0zM183.0 247.3h4.0v1.4h-4.0zM195.0 247.3h2.0v1.4h-2.0zM215.0 247.3h4.0v1.4h-4.0zM225.0 247.3h2.0v1.4h-2.0zM235.0 247.3h4.0v1.4h-4.0zM185.0 248.7h2.0v1.4h-2.0zM193.0 248.7h2.0v1.4h-2.0zM225.0 248.7h2.0v1.4h-2.0zM185.0 250.0h2.0v1.4h-2.0zM191.0 250.0h2.0v1.4h-2.0zM213.0 250.0h2.0v1.4h-2.0zM187.0 251.4h2.0v1.4h-2.0zM191.0 251.4h2.0v1.4h-2.0zM213.0 251.4h4.0v1.4h-4.0zM183.0 252.7h2.0v1.4h-2.0zM219.0 252.7h6.0v1.4h-6.0zM183.0 254.1h2.0v1.4h-2.0zM199.0 254.1h4.0v1.4h-4.0zM219.0 254.1h2.0v1.4h-2.0zM223.0 254.1h2.0v1.4h-2.0zM235.0 254.1h4.0v1.4h-4.0zM181.0 255.4h2.0v1.4h-2.0zM191.0 255.4h2.0v1.4h-2.0zM211.0 255.4h2.0v1.4h-2.0zM219.0 255.4h8.0v1.4h-8.0zM193.0 256.8h2.0v1.4h-2.0zM213.0 256.8h2.0v1.4h-2.0zM223.0 256.8h2.0v1.4h-2.0zM179.0 258.1h2.0v1.4h-2.0zM193.0 258.1h2.0v1.4h-2.0zM197.0 258.1h2.0v1.4h-2.0zM209.0 258.1h2.0v1.4h-2.0zM223.0 258.1h2.0v1.4h-2.0zM213.0 260.8h2.0v1.4h-2.0zM217.0 260.8h2.0v1.4h-2.0zM233.0 260.8h2.0v1.4h-2.0zM217.0 262.2h2.0v1.4h-2.0zM223.0 262.2h4.0v1.4h-4.0zM179.0 263.5h4.0v1.4h-4.0zM215.0 263.5h4.0v1.4h-4.0zM179.0 266.2h4.0v1.4h-4.0zM183.0 267.6h2.0v1.4h-2.0zM237.0 267.6h2.0v1.4h-2.0zM181.0 268.9h2.0v1.4h-2.0zM215.0 268.9h2.0v1.4h-2.0zM227.0 268.9h2.0v1.4h-2.0zM213.0 270.3h2.0v1.4h-2.0zM221.0 271.6h2.0v1.4h-2.0zM229.0 273.0h2.0v1.4h-2.0zM215.0 274.3h2.0v1.4h-2.0zM199.0 279.7h4.0v1.4h-4.0zM209.0 279.7h2.0v1.4h-2.0zM215.0 279.7h2.0v1.4h-2.0zM221.0 279.7h2.0v1.4h-2.0zM199.0 281.1h2.0v1.4h-2.0zM215.0 281.1h2.0v1.4h-2.0zM217.0 283.8h2.0v1.4h-2.0zM199.0 285.1h2.0v1.4h-2.0zM207.0 285.1h6.0v1.4h-6.0zM215.0 285.1h8.0v1.4h-8.0zM201.0 286.5h2.0v1.4h-2.0zM207.0 286.5h4.0v1.4h-4.0zM215.0 286.5h8.0v1.4h-8.0zM187.0 287.8h2.0v1.4h-2.0zM207.0 287.8h6.0v1.4h-6.0zM215.0 287.8h2.0v1.4h-2.0zM207.0 289.2h4.0v1.4h-4.0zM215.0 289.2h4.0v1.4h-4.0zM237.0 289.2h2.0v1.4h-2.0zM199.0 290.5h2.0v1.4h-2.0zM207.0 290.5h6.0v1.4h-6.0zM215.0 290.5h4.0v1.4h-4.0zM207.0 295.9h4.0v1.4h-4.0zM215.0 295.9h2.0v1.4h-2.0zM233.0 295.9h2.0v1.4h-2.0zM215.0 297.3h2.0v1.4h-2.0zM217.0 298.6h2.0v1.4h-2.0z"/>
<path fill="#4393c3" d="M187.0 223.0h8.0v1.4h-8.0zM199.0 223.0h4.0v1.4h-4.0zM187.0 224.4h8.0v1.4h-8.0zM199.0 224.4h2.0v1.4h-2.0zM207.0 224.4h2.0v1.4h-2.0zM235.0 224.4h2.0v1.4h-2.0zM193.0 225.7h2.0v1.4h-2.0zM201.0 225.7h2.0v1.4h-2.0zM207.0 225.7h2.0v1.4h-2.0zM235.0 225.7h4.0v1.4h-4.0zM183.0 235.2h4.0v1.4h-4.0zM201.0 235.2h2.0v1.4h-2.0zM237.0 235.2h2.0v1.4h-2.0zM185.0 236.5h2.0v1.4h-2.0zM207.0 236.5h2.0v1.4h-2.0zM227.0 236.5h4.0v1.4h-4.0zM183.0 237.9h4.0v1.4h-4.0zM195.0 237.9h4.0v1.4h-4.0zM201.0 237.9h2.0v1.4h-2.0zM207.0 237.9h4.0v1.4h-4.0zM227.0 237.9h6.0v1.4h-6.0zM235.0 237.9h4.0v1.4h-4.0zM183.0 239.2h4.0v1.4h-4.0zM229.0 239.2h4.0v1.4h-4.0zM237.0 239.2h2.0v1.4h-2.0zM183.0 240.6h4.0v1.4h-4.0zM201.0 240.6h2.0v1.4h-2.0zM229.0 240.6h2.0v1.4h-2.0zM235.0 240.6h2.0v1.4h-2.0zM201.0 241.9h2.0v1.4h-2.0zM229.0 241.9h4.0v1.4h-4.0zM197.0 243.3h2.0v1.4h-2.0zM227.0 244.6h4.0v1.4h-4.0zM227.0 247.3h4.0v1.4h-4.0zM227.0 248.7h2.0v1.4h-2.0zM227.0 250.0h2.0v1.4h-2.0zM205.0 251.4h6.0v1.4h-6.0zM207.0 252.7h4.0v1.4h-4.0zM203.0 254.1h8.0v1.4h-8.0zM199.0 255.4h8.0v1.4h-8.0zM203.0 256.8h2.0v1.4h-2.0zM233.0 256.8h2.0v1.4h-2.0zM199.0 258.1h4.0v1.4h-4.0zM217.0 258.1h2.0v1.4h-2.0zM227.0 258.1h8.0v1.4h-8.0zM227.0 259.5h4.0v1.4h-4.0zM199.0 260.8h4.0v1.4h-4.0zM227.0 260.8h4.0v1.4h-4.0zM199.0 262.2h2.0v1.4h-2.0zM193.0 263.5h2.0v1.4h-2.0zM221.0 263.5h2.0v1.4h-2.0zM193.0 264.9h2.0v1.4h-2.0zM219.0 264.9h2.0v1.4h-2.0zM191.0 266.2h4.0v1.4h-4.0zM227.0 266.2h2.0v1.4h-2.0zM189.0 267.6h2.0v1.4h-2.0zM205.0 267.6h2.0v1.4h-2.0zM209.0 267.6h2.0v1.4h-2.0zM189.0 268.9h2.0v1.4h-2.0zM205.0 268.9h2.0v1.4h-2.0zM191.0 273.0h4.0v1.4h-4.0zM203.0 273.0h2.0v1.4h-2.0zM191.0 274.3h4.0v1.4h-4.0zM203.0 274.3h4.0v1.4h-4.0zM179.0 279.7h8.0v1.4h-8.0zM193.0 279.7h6.0v1.4h-6.0zM213.0 279.7h2.0v1.4h-2.0zM181.0 281.1h2.0v1.4h-2.0zM203.0 281.1h2.0v1.4h-2.0zM181.0 282.4h2.0v1.4h-2.0zM191.0 282.4h4.0v1.4h-4.0zM197.0 282.4h2.0v1.4h-2.0zM205.0 282.4h2.0v1.4h-2.0zM211.0 282.4h4.0v1.4h-4.0zM227.0 282.4h4.0v1.4h-4.0zM203.0 283.8h4.0v1.4h-4.0zM223.0 283.8h4.0v1.4h-4.0zM203.0 285.1h4.0v1.4h-4.0zM223.0 285.1h2.0v1.4h-2.0zM185.0 286.5h2.0v1.4h-2.0zM203.0 286.5h4.0v1.4h-4.0zM223.0 286.5h8.0v1.4h-8.0zM195.0 287.8h2.0v1.4h-2.0zM223.0 287.8h8.0v1.4h-8.0zM225.0 289.2h6.0v1.4h-6.0zM181.0 290.5h4.0v1.4h-4.0zM205.0 290.5h2.0v1.4h-2.0zM223.0 290.5h2.0v1.4h-2.0zM229.0 290.5h2.0v1.4h-2.0zM197.0 295.9h2.0v1.4h-2.0zM203.0 295.9h4.0v1.4h-4.0zM205.0 297.3h2.0v1.4h-2.0zM179.0 298.6h4.0v1.4h-4.0z"/>
<path fill="#92c5de" d="M207.0 223.0h4.0v1.4h-4.0zM235.0 223.0h4.0v1.4h-4.0zM201.0 224.4h2.0v1.4h-2.0zM209.0 224.4h2.0v1.4h-2.0zM237.0 224.4h2.0v1.4h-2.0zM189.0 225.7h2.0v1.4h-2.0zM199.0 225.7h2.0v1.4h-2.0zM209.0 225.7h2.0v1.4h-2.0zM195.0 235.2h6.0v1.4h-6.0zM227.0 235.2h6.0v1.4h-6.0zM235.0 235.2h2.0v1.4h-2.0zM195.0 236.5h2.0v1.4h-2.0zM199.0 236.5h4.0v1.4h-4.0zM233.0 237.9h2.0v1.4h-2.0zM195.0 239.2h8.0v1.4h-8.0zM207.0 239.2h4.0v1.4h-4.0zM235.0 239.2h2.0v1.4h-2.0zM195.0 240.6h6.0v1.4h-6.0zM207.0 240.6h2.0v1.4h-2.0zM231.0 240.6h2.0v1.4h-2.0zM237.0 240.6h2.0v1.4h-2.0zM195.0 241.9h6.0v1.4h-6.0zM207.0 241.9h4.0v1.4h-4.0zM227.0 241.9h2.0v1.4h-2.0zM233.0 241.9h6.0v1.4h-6.0zM195.0 243.3h2.0v1.4h-2.0zM227.0 243.3h4.0v1.4h-4.0zM195.0 244.6h4.0v1.4h-4.0zM235.0 244.6h4.0v1.4h-4.0zM195.0 246.0h4.0v1.4h-4.0zM227.0 246.0h4.0v1.4h-4.0zM235.0 246.0h4.0v1.4h-4.0zM229.0 248.7h2.0v1.4h-2.0zM203.0 251.4h2.0v1.4h-2.0zM227.0 251.4h4.0v1.4h-4.0zM203.0 252.7h4.0v1.4h-4.0zM227.0 252.7h4.0v1.4h-4.0zM227.0 254.1h4.0v1.4h-4.0zM199.0 256.8h4.0v1.4h-4.0zM205.0 256.8h2.0v1.4h-2.0zM217.0 256.8h2.0v1.4h-2.0zM203.0 258.1h4.0v1.4h-4.0zM199.0 259.5h2.0v1.4h-2.0zM205.0 259.5h2.0v1.4h-2.0zM197.0 260.8h2.0v1.4h-2.0zM209.0 260.8h2.0v1.4h-2.0zM219.0 260.8h4.0v1.4h-4.0zM197.0 262.2h2.0v1.4h-2.0zM201.0 262.2h4.0v1.4h-4.0zM209.0 262.2h2.0v1.4h-2.0zM221.0 262.2h2.0v1.4h-2.0zM227.0 262.2h4.0v1.4h-4.0zM195.0 263.5h4.0v1.4h-4.0zM203.0 263.5h4.0v1.4h-4.0zM209.0 263.5h2.0v1.4h-2.0zM219.0 263.5h2.0v1.4h-2.0zM227.0 263.5h4.0v1.4h-4.0zM197.0 264.9h2.0v1.4h-2.0zM203.0 264.9h8.0v1.4h-8.0zM221.0 264.9h2.0v1.4h-2.0zM227.0 264.9h4.0v1.4h-4.0zM195.0 266.2h4.0v1.4h-4.0zM203.0 266.2h6.0v1.4h-6.0zM219.0 266.2h4.0v1.4h-4.0zM229.0 266.2h2.0v1.4h-2.0zM187.0 267.6h2.0v1.4h-2.0zM219.0 267.6h8.0v1.4h-8.0zM187.0 268.9h2.0v1.4h-2.0zM207.0 268.9h4.0v1.4h-4.0zM219.0 268.9h4.0v1.4h-4.0zM225.0 268.9h2.0v1.4h-2.0zM195.0 270.3h4.0v1.4h-4.0zM203.0 270.3h2.0v1.4h-2.0zM221.0 270.3h2.0v1.4h-2.0zM225.0 270.3h2.0v1.4h-2.0zM191.0 271.6h4.0v1.4h-4.0zM203.0 271.6h4.0v1.4h-4.0zM213.0 271.6h2.0v1.4h-2.0zM211.0 273.0h4.0v1.4h-4.0zM211.0 274.3h4.0v1.4h-4.0zM191.0 279.7h2.0v1.4h-2.0zM203.0 279.7h4.0v1.4h-4.0zM211.0 279.7h2.0v1.4h-2.0zM223.0 279.7h6.0v1.4h-6.0zM205.0 281.1h2.0v1.4h-2.0zM223.0 281.1h4.0v1.4h-4.0zM179.0 282.4h2.0v1.4h-2.0zM195.0 282.4h2.0v1.4h-2.0zM193.0 283.8h6.0v1.4h-6.0zM185.0 285.1h2.0v1.4h-2.0zM225.0 285.1h4.0v1.4h-4.0zM179.0 286.5h4.0v1.4h-4.0zM197.0 286.5h2.0v1.4h-2.0zM179.0 287.8h2.0v1.4h-2.0zM191.0 287.8h2.0v1.4h-2.0zM197.0 287.8h2.0v1.4h-2.0zM203.0 287.8h4.0v1.4h-4.0zM191.0 289.2h4.0v1.4h-4.0zM205.0 289.2h2.0v1.4h-2.0zM223.0 289.2h2.0v1.4h-2.0zM179.0 290.5h2.0v1.4h-2.0zM185.0 290.5h2.0v1.4h-2.0zM191.0 290.5h8.0v1.4h-8.0zM203.0 290.5h2.0v1.4h-2.0zM225.0 290.5h4.0v1.4h-4.0zM195.0 295.9h2.0v1.4h-2.0zM203.0 297.3h2.0v1.4h-2.0zM197.0 298.6h2.0v1.4h-2.0zM203.0 298.6h4.0v1.4h-4.0z"/>
<path fill="#ffffff" d="M215.0 223.0h4.0v1.4h-4.0zM195.0 224.4h2.0v1.4h-2.0zM189.0 264.9h2.0v1.4h-2.0zM205.0 275.7h2.0v1.4h-2.0zM221.0 275.7h2.0v1.4h-2.0zM227.0 277.0h2.0v1.4h-2.0zM179.0 291.9h2.0v1.4h-2.0zM209.0 293.2h4.0v1.4h-4.0zM213.0 295.9h2.0v1.4h-2.0z"/>
<path fill="#2166ac" d="M187.0 225.7h2.0v1.4h-2.0zM191.0 225.7h2.0v1.4h-2.0zM197.0 231.1h2.0v1.4h-2.0zM207.0 235.2h4.0v1.4h-4.0zM183.0 236.5h2.0v1.4h-2.0zM197.0 236.5h2.0v1.4h-2.0zM209.0 236.5h2.0v1.4h-2.0zM235.0 236.5h4.0v1.4h-4.0zM199.0 237.9h2.0v1.4h-2.0zM227.0 239.2h2.0v1.4h-2.0zM227.0 240.6h2.0v1.4h-2.0zM183.0 241.9h4.0v1.4h-4.0zM229.0 250.0h2.0v1.4h-2.0zM183.0 255.4h4.0v1.4h-4.0zM227.0 255.4h8.0v1.4h-8.0zM227.0 256.8h6.0v1.4h-6.0zM183.0 258.1h2.0v1.4h-2.0zM195.0 260.8h2.0v1.4h-2.0zM195.0 262.2h2.0v1.4h-2.0zM191.0 263.5h2.0v1.4h-2.0zM191.0 264.9h2.0v1.4h-2.0zM195.0 267.6h4.0v1.4h-4.0zM195.0 268.9h4.0v1.4h-4.0zM205.0 273.0h2.0v1.4h-2.0zM229.0 279.7h2.0v1.4h-2.0zM183.0 282.4h4.0v1.4h-4.0zM227.0 283.8h4.0v1.4h-4.0zM229.0 285.1h2.0v1.4h-2.0zM203.0 289.2h2.0v1.4h-2.0zM179.0 295.9h4.0v1.4h-4.0zM195.0 298.6h2.0v1.4h-2.0z"/>
<path fill="#67001f" d="M195.0 231.1h2.0v1.4h-2.0zM217.0 295.9h2.0v1.4h-2.0z"/>
<path fill="#d6604d" d="M193.0 241.9h2.0v1.4h-2.0zM213.0 244.6h2.0v1.4h-2.0zM223.0 250.0h2.0v1.4h-2.0zM223.0 251.4h2.0v1.4h-2.0zM215.0 252.7h2.0v1.4h-2.0zM225.0 252.7h2.0v1.4h-2.0zM193.0 254.1h2.0v1.4h-2.0zM211.0 256.8h2.0v1.4h-2.0zM225.0 258.1h2.0v1.4h-2.0zM215.0 260.8h2.0v1.4h-2.0zM213.0 266.2h2.0v1.4h-2.0zM213.0 267.6h2.0v1.4h-2.0zM235.0 270.3h4.0v1.4h-4.0zM185.0 271.6h2.0v1.4h-2.0zM215.0 271.6h4.0v1.4h-4.0zM215.0 273.0h2.0v1.4h-2.0zM207.0 279.7h2.0v1.4h-2.0zM221.0 283.8h2.0v1.4h-2.0zM213.0 285.1h2.0v1.4h-2.0zM211.0 286.5h2.0v1.4h-2.0zM207.0 298.6h4.0v1.4h-4.0z"/>
<path fill="#b2182b" d="M183.0 271.6h2.0v1.4h-2.0zM183.0 273.0h4.0v1.4h-4.0zM217.0 273.0h2.0v1.4h-2.0zM183.0 274.3h4.0v1.4h-4.0zM217.0 274.3h2.0v1.4h-2.0zM209.0 297.3h2.0v1.4h-2.0zM215.0 298.6h2.0v1.4h-2.0z"/>
<path fill="#053061" d="M223.0 275.7h4.0v1.4h-4.0z"/>
<path d="M173.5 224.5h5M173.5 260.9h5M173.5 287.3h5M173.5 295.3h5" stroke="#f0d2c4" stroke-width="0.9" fill="none"/>
<path d="M173.5 228.1h5M173.5 275.7h5" stroke="#ece0b8" stroke-width="0.9" fill="none"/>
<path d="M173.5 231.7h5M173.5 243.3h5M173.5 250.5h5M173.5 254.1h5M173.5 271.7h5M173.5 283.7h5" stroke="#c8e0e8" stroke-width="0.9" fill="none"/>
<path d="M173.5 235.3h5M173.5 268.1h5M173.5 279.3h5M173.5 291.3h5" stroke="#cfcfd8" stroke-width="0.9" fill="none"/>
<path d="M173.5 239.7h5M173.5 246.9h5M173.5 257.3h5M173.5 264.1h5" stroke="#d2e6cc" stroke-width="0.9" fill="none"/>
<path d="M275.8 207.7V204.3H311.5V207.7" fill="none" stroke="#a8a8a8" stroke-width="0.55"/>
<rect x="264" y="215.5" width="64.0" height="7.5" fill="#e0e0e0"/>
<path d="M318.7 222.7V219.7H320.4V222.7M286.7 222.7V218.6H288.4V222.7M298.5 222.7V217.8H300.2V222.7M271.6 222.7V217.1H273.3V222.7M308.6 222.7V216.5H310.3V222.7M291.8 222.7V216.0H293.5V222.7M292.6 216.0V215.5H295.2V222.7M319.6 219.7V215.1H322.1V222.7M309.5 216.5V214.7H312.0V222.7M315.4 222.7V214.3H317.1V222.7M303.6 222.7V213.9H305.3V222.7M274.9 222.7V213.5H276.6V222.7M269.9 222.7V213.2H272.4V217.1M285.1 222.7V212.9H287.6V218.6M301.9 222.7V212.6H304.4V213.9M281.7 222.7V212.3H283.4V222.7M316.2 214.3V212.0H320.8V215.1M299.4 217.8V211.7H303.2V212.6M301.3 211.7V211.4H306.9V222.7M275.8 213.5V211.2H278.3V222.7M296.8 222.7V210.9H304.1V211.4M290.1 222.7V210.7H293.9V215.5M318.5 212.0V210.4H323.8V222.7M321.2 210.4V210.2H325.5V222.7M286.3 212.9V210.0H292.0V210.7M266.5 222.7V209.7H268.2V222.7M289.2 210.0V209.5H300.5V210.9M267.4 209.7V209.3H271.2V213.2M323.3 210.2V209.1H327.2V222.7M313.7 222.7V208.9H325.2V209.1M282.5 212.3V208.7H294.8V209.5M264.8 222.7V208.5H269.3V209.3M310.7 214.7V208.3H319.5V208.9M288.7 208.7V208.1H315.1V208.3M277.1 211.2V207.9H280.0V222.7M278.5 207.9V207.7H301.9V208.1M267.1 208.5V207.5H290.2V207.7" fill="none" stroke="#c8c8c8" stroke-width="0.7"/>
<path d="M328.5 285.1H332.5V287.6H328.5M328.5 231.9H333.6V234.4H328.5M328.5 244.5H334.4V247.1H328.5M328.5 252.1H335.0V254.7H328.5M335.0 253.4H335.5V257.2H328.5M328.5 226.8H336.0V229.3H328.5M328.5 224.3H336.4V228.1H336.0M328.5 277.5H336.8V280.0H328.5M335.5 255.3H337.1V259.7H328.5M336.8 278.7H337.5V282.5H328.5M337.5 280.6H337.8V286.3H332.5M337.8 283.5H338.0V290.1H328.5M328.5 236.9H338.3V239.5H328.5M336.4 226.2H338.6V233.1H333.6M338.3 238.2H338.8V242.0H328.5M328.5 264.8H339.1V267.3H328.5M338.8 240.1H339.3V245.8H334.4M328.5 272.4H339.5V274.9H328.5M328.5 295.2H339.7V297.7H328.5M338.0 286.8H339.9V292.7H328.5M337.1 257.5H340.1V262.3H328.5M328.5 269.9H340.3V273.7H339.5M340.3 271.8H340.5V289.7H339.9M339.3 242.9H340.7V249.6H328.5M340.5 280.8H340.8V296.5H339.7M340.1 259.9H341.0V266.1H339.1M340.7 246.3H341.2V263.0H341.0M341.2 254.6H341.3V288.6H340.8M338.6 229.7H341.5V271.6H341.3" fill="none" stroke="#bfbfbf" stroke-width="0.75"/>
<rect x="264" y="223" width="64.00" height="76.00" fill="#d1e5f0"/>
<path fill="#f7f7f7" d="M264.0 223.0h4.0v1.3h-4.0zM288.0 223.0h2.0v1.3h-2.0zM296.0 223.0h2.0v1.3h-2.0zM302.0 223.0h4.0v1.3h-4.0zM308.0 223.0h2.0v1.3h-2.0zM314.0 223.0h6.0v1.3h-6.0zM264.0 224.3h4.0v1.3h-4.0zM292.0 224.3h2.0v1.3h-2.0zM296.0 224.3h4.0v1.3h-4.0zM302.0 224.3h4.0v1.3h-4.0zM308.0 224.3h2.0v1.3h-2.0zM312.0 224.3h10.0v1.3h-10.0zM264.0 225.7h2.0v1.3h-2.0zM274.0 225.7h2.0v1.3h-2.0zM284.0 225.7h2.0v1.3h-2.0zM304.0 225.7h2.0v1.3h-2.0zM308.0 225.7h4.0v1.3h-4.0zM272.0 227.0h4.0v1.3h-4.0zM286.0 227.0h2.0v1.3h-2.0zM296.0 227.0h4.0v1.3h-4.0zM304.0 227.0h8.0v1.3h-8.0zM272.0 228.3h2.0v1.3h-2.0zM286.0 228.3h2.0v1.3h-2.0zM272.0 229.7h2.0v1.3h-2.0zM286.0 229.7h2.0v1.3h-2.0zM304.0 229.7h2.0v1.3h-2.0zM272.0 231.0h2.0v1.3h-2.0zM278.0 231.0h4.0v1.3h-4.0zM292.0 231.0h6.0v1.3h-6.0zM264.0 232.3h4.0v1.3h-4.0zM294.0 232.3h4.0v1.3h-4.0zM314.0 232.3h2.0v1.3h-2.0zM280.0 233.7h4.0v1.3h-4.0zM294.0 233.7h2.0v1.3h-2.0zM300.0 233.7h2.0v1.3h-2.0zM314.0 233.7h2.0v1.3h-2.0zM266.0 235.0h2.0v1.3h-2.0zM270.0 235.0h4.0v1.3h-4.0zM276.0 235.0h2.0v1.3h-2.0zM282.0 235.0h4.0v1.3h-4.0zM292.0 235.0h4.0v1.3h-4.0zM298.0 235.0h20.0v1.3h-20.0zM320.0 235.0h4.0v1.3h-4.0zM264.0 236.3h8.0v1.3h-8.0zM274.0 236.3h14.0v1.3h-14.0zM292.0 236.3h4.0v1.3h-4.0zM300.0 236.3h6.0v1.3h-6.0zM308.0 236.3h2.0v1.3h-2.0zM312.0 236.3h12.0v1.3h-12.0zM264.0 237.7h4.0v1.3h-4.0zM304.0 237.7h2.0v1.3h-2.0zM320.0 237.7h4.0v1.3h-4.0zM264.0 239.0h4.0v1.3h-4.0zM264.0 240.3h4.0v1.3h-4.0zM264.0 241.7h2.0v1.3h-2.0zM268.0 241.7h2.0v1.3h-2.0zM272.0 241.7h2.0v1.3h-2.0zM280.0 241.7h2.0v1.3h-2.0zM288.0 241.7h4.0v1.3h-4.0zM264.0 243.0h2.0v1.3h-2.0zM266.0 245.7h2.0v1.3h-2.0zM284.0 248.3h4.0v1.3h-4.0zM304.0 248.3h2.0v1.3h-2.0zM278.0 263.0h2.0v1.3h-2.0zM282.0 263.0h4.0v1.3h-4.0zM316.0 263.0h2.0v1.3h-2.0zM284.0 264.3h2.0v1.3h-2.0zM316.0 264.3h4.0v1.3h-4.0zM270.0 268.3h4.0v1.3h-4.0zM286.0 268.3h2.0v1.3h-2.0zM286.0 269.7h2.0v1.3h-2.0zM318.0 269.7h4.0v1.3h-4.0zM268.0 271.0h10.0v1.3h-10.0zM280.0 271.0h2.0v1.3h-2.0zM284.0 271.0h4.0v1.3h-4.0zM296.0 271.0h4.0v1.3h-4.0zM304.0 271.0h18.0v1.3h-18.0zM324.0 271.0h2.0v1.3h-2.0zM304.0 272.3h4.0v1.3h-4.0zM310.0 272.3h2.0v1.3h-2.0zM284.0 273.7h2.0v1.3h-2.0zM288.0 273.7h4.0v1.3h-4.0zM286.0 275.0h2.0v1.3h-2.0zM312.0 275.0h4.0v1.3h-4.0zM320.0 275.0h4.0v1.3h-4.0zM268.0 276.3h4.0v1.3h-4.0zM280.0 276.3h2.0v1.3h-2.0zM286.0 276.3h2.0v1.3h-2.0zM312.0 276.3h4.0v1.3h-4.0zM278.0 277.7h2.0v1.3h-2.0zM286.0 277.7h2.0v1.3h-2.0zM320.0 277.7h2.0v1.3h-2.0zM268.0 279.0h2.0v1.3h-2.0zM296.0 279.0h8.0v1.3h-8.0zM322.0 279.0h2.0v1.3h-2.0zM326.0 279.0h2.0v1.3h-2.0zM316.0 280.3h2.0v1.3h-2.0zM284.0 281.7h2.0v1.3h-2.0zM304.0 281.7h4.0v1.3h-4.0zM268.0 283.0h4.0v1.3h-4.0zM280.0 284.3h4.0v1.3h-4.0zM280.0 285.7h2.0v1.3h-2.0zM266.0 287.0h2.0v1.3h-2.0zM280.0 287.0h2.0v1.3h-2.0zM292.0 287.0h10.0v1.3h-10.0zM280.0 288.3h2.0v1.3h-2.0zM294.0 288.3h4.0v1.3h-4.0zM304.0 288.3h8.0v1.3h-8.0zM324.0 288.3h2.0v1.3h-2.0zM276.0 289.7h2.0v1.3h-2.0zM280.0 289.7h2.0v1.3h-2.0zM304.0 289.7h2.0v1.3h-2.0zM308.0 289.7h2.0v1.3h-2.0zM280.0 291.0h2.0v1.3h-2.0zM324.0 291.0h4.0v1.3h-4.0zM264.0 292.3h2.0v1.3h-2.0zM288.0 292.3h2.0v1.3h-2.0zM300.0 292.3h2.0v1.3h-2.0zM324.0 292.3h2.0v1.3h-2.0zM264.0 293.7h2.0v1.3h-2.0zM268.0 293.7h2.0v1.3h-2.0zM272.0 293.7h4.0v1.3h-4.0zM282.0 293.7h20.0v1.3h-20.0zM304.0 293.7h8.0v1.3h-8.0zM314.0 293.7h8.0v1.3h-8.0zM326.0 293.7h2.0v1.3h-2.0zM264.0 295.0h22.0v1.3h-22.0zM288.0 295.0h2.0v1.3h-2.0zM292.0 295.0h28.0v1.3h-28.0zM322.0 295.0h4.0v1.3h-4.0zM264.0 296.3h8.0v1.3h-8.0zM276.0 296.3h4.0v1.3h-4.0zM290.0 296.3h2.0v1.3h-2.0zM296.0 296.3h2.0v1.3h-2.0zM306.0 296.3h2.0v1.3h-2.0zM320.0 296.3h8.0v1.3h-8.0zM268.0 297.7h4.0v1.3h-4.0zM278.0 297.7h4.0v1.3h-4.0zM290.0 297.7h2.0v1.3h-2.0zM296.0 297.7h2.0v1.3h-2.0zM304.0 297.7h2.0v1.3h-2.0zM308.0 297.7h2.0v1.3h-2.0zM320.0 297.7h4.0v1.3h-4.0zM326.0 297.7h2.0v1.3h-2.0z"/>
<path fill="#92c5de" d="M268.0 223.0h4.0v1.3h-4.0zM276.0 223.0h4.0v1.3h-4.0zM268.0 224.3h4.0v1.3h-4.0zM276.0 224.3h4.0v1.3h-4.0zM268.0 225.7h4.0v1.3h-4.0zM288.0 227.0h2.0v1.3h-2.0zM294.0 227.0h2.0v1.3h-2.0zM312.0 227.0h4.0v1.3h-4.0zM320.0 227.0h4.0v1.3h-4.0zM276.0 228.3h4.0v1.3h-4.0zM288.0 228.3h2.0v1.3h-2.0zM312.0 228.3h4.0v1.3h-4.0zM320.0 228.3h4.0v1.3h-4.0zM276.0 229.7h2.0v1.3h-2.0zM288.0 229.7h2.0v1.3h-2.0zM320.0 229.7h4.0v1.3h-4.0zM308.0 231.0h2.0v1.3h-2.0zM308.0 232.3h4.0v1.3h-4.0zM310.0 233.7h2.0v1.3h-2.0zM288.0 235.0h4.0v1.3h-4.0zM324.0 235.0h4.0v1.3h-4.0zM288.0 236.3h4.0v1.3h-4.0zM326.0 236.3h2.0v1.3h-2.0zM288.0 237.7h4.0v1.3h-4.0zM324.0 237.7h4.0v1.3h-4.0zM284.0 240.3h4.0v1.3h-4.0zM292.0 240.3h2.0v1.3h-2.0zM296.0 240.3h12.0v1.3h-12.0zM316.0 240.3h12.0v1.3h-12.0zM272.0 248.3h4.0v1.3h-4.0zM272.0 249.7h4.0v1.3h-4.0zM292.0 271.0h4.0v1.3h-4.0zM296.0 272.3h8.0v1.3h-8.0zM296.0 273.7h4.0v1.3h-4.0zM302.0 273.7h2.0v1.3h-2.0zM288.0 275.0h4.0v1.3h-4.0zM300.0 275.0h4.0v1.3h-4.0zM308.0 275.0h4.0v1.3h-4.0zM288.0 276.3h2.0v1.3h-2.0zM292.0 276.3h2.0v1.3h-2.0zM302.0 276.3h2.0v1.3h-2.0zM308.0 276.3h4.0v1.3h-4.0zM288.0 277.7h16.0v1.3h-16.0zM308.0 277.7h4.0v1.3h-4.0zM266.0 280.3h2.0v1.3h-2.0zM272.0 287.0h2.0v1.3h-2.0zM316.0 287.0h8.0v1.3h-8.0zM272.0 288.3h4.0v1.3h-4.0zM316.0 288.3h8.0v1.3h-8.0zM274.0 289.7h2.0v1.3h-2.0zM318.0 289.7h4.0v1.3h-4.0zM270.0 291.0h2.0v1.3h-2.0zM276.0 291.0h4.0v1.3h-4.0zM322.0 291.0h2.0v1.3h-2.0zM268.0 292.3h4.0v1.3h-4.0zM276.0 292.3h4.0v1.3h-4.0zM322.0 292.3h2.0v1.3h-2.0zM270.0 293.7h2.0v1.3h-2.0zM276.0 293.7h4.0v1.3h-4.0zM322.0 293.7h2.0v1.3h-2.0z"/>
<path fill="#f4a582" d="M272.0 223.0h4.0v1.3h-4.0zM298.0 223.0h2.0v1.3h-2.0zM306.0 224.3h2.0v1.3h-2.0zM296.0 225.7h4.0v1.3h-4.0zM302.0 225.7h2.0v1.3h-2.0zM326.0 227.0h2.0v1.3h-2.0zM300.0 228.3h4.0v1.3h-4.0zM300.0 231.0h6.0v1.3h-6.0zM284.0 232.3h4.0v1.3h-4.0zM320.0 232.3h4.0v1.3h-4.0zM268.0 233.7h6.0v1.3h-6.0zM320.0 233.7h2.0v1.3h-2.0zM268.0 235.0h2.0v1.3h-2.0zM274.0 235.0h2.0v1.3h-2.0zM278.0 235.0h4.0v1.3h-4.0zM278.0 237.7h2.0v1.3h-2.0zM292.0 237.7h4.0v1.3h-4.0zM308.0 237.7h6.0v1.3h-6.0zM280.0 239.0h2.0v1.3h-2.0zM288.0 239.0h4.0v1.3h-4.0zM290.0 240.3h2.0v1.3h-2.0zM280.0 245.7h4.0v1.3h-4.0zM286.0 247.0h2.0v1.3h-2.0zM306.0 248.3h2.0v1.3h-2.0zM304.0 249.7h4.0v1.3h-4.0zM286.0 252.3h2.0v1.3h-2.0zM276.0 257.7h2.0v1.3h-2.0zM276.0 259.0h2.0v1.3h-2.0zM272.0 263.0h6.0v1.3h-6.0zM280.0 263.0h2.0v1.3h-2.0zM286.0 263.0h2.0v1.3h-2.0zM272.0 264.3h2.0v1.3h-2.0zM276.0 264.3h4.0v1.3h-4.0zM286.0 264.3h2.0v1.3h-2.0zM272.0 265.7h8.0v1.3h-8.0zM286.0 265.7h2.0v1.3h-2.0zM284.0 267.0h4.0v1.3h-4.0zM268.0 268.3h2.0v1.3h-2.0zM276.0 268.3h2.0v1.3h-2.0zM284.0 268.3h2.0v1.3h-2.0zM268.0 269.7h2.0v1.3h-2.0zM274.0 269.7h6.0v1.3h-6.0zM282.0 269.7h2.0v1.3h-2.0zM322.0 269.7h2.0v1.3h-2.0zM278.0 271.0h2.0v1.3h-2.0zM268.0 272.3h2.0v1.3h-2.0zM274.0 272.3h4.0v1.3h-4.0zM308.0 272.3h2.0v1.3h-2.0zM316.0 272.3h2.0v1.3h-2.0zM272.0 273.7h6.0v1.3h-6.0zM316.0 273.7h2.0v1.3h-2.0zM284.0 277.7h2.0v1.3h-2.0zM316.0 277.7h4.0v1.3h-4.0zM270.0 279.0h2.0v1.3h-2.0zM288.0 279.0h4.0v1.3h-4.0zM308.0 279.0h4.0v1.3h-4.0zM314.0 279.0h2.0v1.3h-2.0zM284.0 280.3h2.0v1.3h-2.0zM290.0 280.3h4.0v1.3h-4.0zM272.0 281.7h8.0v1.3h-8.0zM308.0 281.7h4.0v1.3h-4.0zM276.0 283.0h4.0v1.3h-4.0zM274.0 284.3h2.0v1.3h-2.0zM268.0 285.7h2.0v1.3h-2.0zM274.0 285.7h4.0v1.3h-4.0zM314.0 287.0h2.0v1.3h-2.0zM278.0 289.7h2.0v1.3h-2.0zM288.0 291.0h4.0v1.3h-4.0zM296.0 291.0h4.0v1.3h-4.0zM310.0 291.0h2.0v1.3h-2.0zM286.0 292.3h2.0v1.3h-2.0zM296.0 292.3h4.0v1.3h-4.0zM302.0 292.3h2.0v1.3h-2.0zM302.0 293.7h2.0v1.3h-2.0zM286.0 295.0h2.0v1.3h-2.0zM290.0 295.0h2.0v1.3h-2.0zM298.0 296.3h4.0v1.3h-4.0zM264.0 297.7h4.0v1.3h-4.0z"/>
<path fill="#fddbc7" d="M280.0 223.0h4.0v1.3h-4.0zM286.0 223.0h2.0v1.3h-2.0zM292.0 223.0h4.0v1.3h-4.0zM300.0 223.0h2.0v1.3h-2.0zM306.0 223.0h2.0v1.3h-2.0zM310.0 223.0h4.0v1.3h-4.0zM320.0 223.0h6.0v1.3h-6.0zM272.0 224.3h4.0v1.3h-4.0zM280.0 224.3h8.0v1.3h-8.0zM290.0 224.3h2.0v1.3h-2.0zM294.0 224.3h2.0v1.3h-2.0zM300.0 224.3h2.0v1.3h-2.0zM310.0 224.3h2.0v1.3h-2.0zM322.0 224.3h6.0v1.3h-6.0zM272.0 225.7h2.0v1.3h-2.0zM280.0 225.7h4.0v1.3h-4.0zM286.0 225.7h10.0v1.3h-10.0zM300.0 225.7h2.0v1.3h-2.0zM306.0 225.7h2.0v1.3h-2.0zM312.0 225.7h6.0v1.3h-6.0zM322.0 225.7h6.0v1.3h-6.0zM264.0 227.0h2.0v1.3h-2.0zM280.0 227.0h4.0v1.3h-4.0zM324.0 227.0h2.0v1.3h-2.0zM264.0 228.3h4.0v1.3h-4.0zM274.0 228.3h2.0v1.3h-2.0zM280.0 228.3h6.0v1.3h-6.0zM296.0 228.3h4.0v1.3h-4.0zM310.0 228.3h2.0v1.3h-2.0zM316.0 228.3h2.0v1.3h-2.0zM324.0 228.3h4.0v1.3h-4.0zM264.0 229.7h4.0v1.3h-4.0zM274.0 229.7h2.0v1.3h-2.0zM280.0 229.7h6.0v1.3h-6.0zM296.0 229.7h4.0v1.3h-4.0zM306.0 229.7h2.0v1.3h-2.0zM318.0 229.7h2.0v1.3h-2.0zM324.0 229.7h4.0v1.3h-4.0zM264.0 231.0h8.0v1.3h-8.0zM274.0 231.0h4.0v1.3h-4.0zM282.0 231.0h2.0v1.3h-2.0zM298.0 231.0h2.0v1.3h-2.0zM306.0 231.0h2.0v1.3h-2.0zM312.0 231.0h4.0v1.3h-4.0zM320.0 231.0h8.0v1.3h-8.0zM268.0 232.3h16.0v1.3h-16.0zM298.0 232.3h10.0v1.3h-10.0zM312.0 232.3h2.0v1.3h-2.0zM324.0 232.3h4.0v1.3h-4.0zM264.0 233.7h4.0v1.3h-4.0zM274.0 233.7h2.0v1.3h-2.0zM284.0 233.7h2.0v1.3h-2.0zM296.0 233.7h2.0v1.3h-2.0zM302.0 233.7h6.0v1.3h-6.0zM312.0 233.7h2.0v1.3h-2.0zM322.0 233.7h6.0v1.3h-6.0zM286.0 235.0h2.0v1.3h-2.0zM296.0 235.0h2.0v1.3h-2.0zM318.0 235.0h2.0v1.3h-2.0zM272.0 236.3h2.0v1.3h-2.0zM296.0 236.3h4.0v1.3h-4.0zM306.0 236.3h2.0v1.3h-2.0zM310.0 236.3h2.0v1.3h-2.0zM268.0 237.7h10.0v1.3h-10.0zM280.0 237.7h8.0v1.3h-8.0zM296.0 237.7h8.0v1.3h-8.0zM316.0 237.7h4.0v1.3h-4.0zM282.0 239.0h4.0v1.3h-4.0zM282.0 240.3h2.0v1.3h-2.0zM288.0 240.3h2.0v1.3h-2.0zM280.0 244.3h4.0v1.3h-4.0zM318.0 247.0h2.0v1.3h-2.0zM318.0 248.3h2.0v1.3h-2.0zM286.0 249.7h2.0v1.3h-2.0zM284.0 260.3h2.0v1.3h-2.0zM284.0 261.7h4.0v1.3h-4.0zM318.0 263.0h2.0v1.3h-2.0zM274.0 264.3h2.0v1.3h-2.0zM280.0 264.3h4.0v1.3h-4.0zM280.0 265.7h4.0v1.3h-4.0zM316.0 265.7h4.0v1.3h-4.0zM268.0 267.0h12.0v1.3h-12.0zM316.0 267.0h8.0v1.3h-8.0zM274.0 268.3h2.0v1.3h-2.0zM278.0 268.3h2.0v1.3h-2.0zM288.0 268.3h4.0v1.3h-4.0zM316.0 268.3h8.0v1.3h-8.0zM270.0 269.7h4.0v1.3h-4.0zM280.0 269.7h2.0v1.3h-2.0zM284.0 269.7h2.0v1.3h-2.0zM290.0 269.7h2.0v1.3h-2.0zM316.0 269.7h2.0v1.3h-2.0zM282.0 271.0h2.0v1.3h-2.0zM326.0 271.0h2.0v1.3h-2.0zM270.0 272.3h4.0v1.3h-4.0zM284.0 272.3h6.0v1.3h-6.0zM312.0 272.3h4.0v1.3h-4.0zM318.0 272.3h10.0v1.3h-10.0zM268.0 273.7h4.0v1.3h-4.0zM278.0 273.7h4.0v1.3h-4.0zM286.0 273.7h2.0v1.3h-2.0zM308.0 273.7h8.0v1.3h-8.0zM318.0 273.7h10.0v1.3h-10.0zM268.0 275.0h18.0v1.3h-18.0zM316.0 275.0h4.0v1.3h-4.0zM324.0 275.0h4.0v1.3h-4.0zM272.0 276.3h8.0v1.3h-8.0zM316.0 276.3h12.0v1.3h-12.0zM268.0 277.7h8.0v1.3h-8.0zM280.0 277.7h4.0v1.3h-4.0zM312.0 277.7h4.0v1.3h-4.0zM322.0 277.7h6.0v1.3h-6.0zM284.0 279.0h4.0v1.3h-4.0zM292.0 279.0h2.0v1.3h-2.0zM304.0 279.0h4.0v1.3h-4.0zM316.0 279.0h6.0v1.3h-6.0zM324.0 279.0h2.0v1.3h-2.0zM268.0 280.3h4.0v1.3h-4.0zM286.0 280.3h2.0v1.3h-2.0zM296.0 280.3h4.0v1.3h-4.0zM304.0 280.3h8.0v1.3h-8.0zM318.0 280.3h10.0v1.3h-10.0zM268.0 281.7h4.0v1.3h-4.0zM286.0 281.7h2.0v1.3h-2.0zM296.0 281.7h2.0v1.3h-2.0zM300.0 281.7h4.0v1.3h-4.0zM316.0 281.7h12.0v1.3h-12.0zM280.0 283.0h4.0v1.3h-4.0zM268.0 284.3h4.0v1.3h-4.0zM276.0 284.3h4.0v1.3h-4.0zM270.0 285.7h4.0v1.3h-4.0zM278.0 285.7h2.0v1.3h-2.0zM282.0 285.7h2.0v1.3h-2.0zM264.0 287.0h2.0v1.3h-2.0zM276.0 287.0h4.0v1.3h-4.0zM284.0 287.0h4.0v1.3h-4.0zM290.0 287.0h2.0v1.3h-2.0zM302.0 287.0h12.0v1.3h-12.0zM324.0 287.0h4.0v1.3h-4.0zM264.0 288.3h4.0v1.3h-4.0zM278.0 288.3h2.0v1.3h-2.0zM282.0 288.3h6.0v1.3h-6.0zM292.0 288.3h2.0v1.3h-2.0zM298.0 288.3h2.0v1.3h-2.0zM312.0 288.3h2.0v1.3h-2.0zM326.0 288.3h2.0v1.3h-2.0zM264.0 289.7h4.0v1.3h-4.0zM284.0 289.7h4.0v1.3h-4.0zM292.0 289.7h12.0v1.3h-12.0zM306.0 289.7h2.0v1.3h-2.0zM310.0 289.7h6.0v1.3h-6.0zM324.0 289.7h4.0v1.3h-4.0zM264.0 291.0h4.0v1.3h-4.0zM272.0 291.0h2.0v1.3h-2.0zM282.0 291.0h6.0v1.3h-6.0zM292.0 291.0h4.0v1.3h-4.0zM302.0 291.0h2.0v1.3h-2.0zM306.0 291.0h4.0v1.3h-4.0zM312.0 291.0h4.0v1.3h-4.0zM266.0 292.3h2.0v1.3h-2.0zM272.0 292.3h4.0v1.3h-4.0zM280.0 292.3h6.0v1.3h-6.0zM290.0 292.3h6.0v1.3h-6.0zM308.0 292.3h8.0v1.3h-8.0zM326.0 292.3h2.0v1.3h-2.0zM266.0 293.7h2.0v1.3h-2.0zM280.0 293.7h2.0v1.3h-2.0zM312.0 293.7h2.0v1.3h-2.0zM324.0 293.7h2.0v1.3h-2.0zM320.0 295.0h2.0v1.3h-2.0zM326.0 295.0h2.0v1.3h-2.0zM280.0 296.3h4.0v1.3h-4.0zM288.0 296.3h2.0v1.3h-2.0zM292.0 296.3h4.0v1.3h-4.0zM302.0 296.3h2.0v1.3h-2.0zM308.0 296.3h12.0v1.3h-12.0zM282.0 297.7h2.0v1.3h-2.0zM288.0 297.7h2.0v1.3h-2.0zM294.0 297.7h2.0v1.3h-2.0zM298.0 297.7h2.0v1.3h-2.0zM310.0 297.7h6.0v1.3h-6.0zM324.0 297.7h2.0v1.3h-2.0z"/>
<path fill="#2166ac" d="M276.0 225.7h4.0v1.3h-4.0zM278.0 227.0h2.0v1.3h-2.0zM268.0 228.3h2.0v1.3h-2.0zM268.0 229.7h4.0v1.3h-4.0zM278.0 229.7h2.0v1.3h-2.0zM292.0 229.7h4.0v1.3h-4.0zM288.0 231.0h4.0v1.3h-4.0zM316.0 231.0h4.0v1.3h-4.0zM288.0 232.3h4.0v1.3h-4.0zM318.0 232.3h2.0v1.3h-2.0zM288.0 233.7h2.0v1.3h-2.0zM316.0 233.7h4.0v1.3h-4.0zM304.0 275.0h4.0v1.3h-4.0zM304.0 277.7h4.0v1.3h-4.0zM268.0 288.3h2.0v1.3h-2.0zM316.0 289.7h2.0v1.3h-2.0zM322.0 289.7h2.0v1.3h-2.0zM268.0 291.0h2.0v1.3h-2.0zM316.0 291.0h6.0v1.3h-6.0zM318.0 292.3h2.0v1.3h-2.0z"/>
<path fill="#4393c3" d="M268.0 227.0h4.0v1.3h-4.0zM276.0 227.0h2.0v1.3h-2.0zM290.0 227.0h4.0v1.3h-4.0zM270.0 228.3h2.0v1.3h-2.0zM290.0 228.3h4.0v1.3h-4.0zM312.0 229.7h2.0v1.3h-2.0zM316.0 232.3h2.0v1.3h-2.0zM290.0 233.7h2.0v1.3h-2.0zM324.0 236.3h2.0v1.3h-2.0zM276.0 240.3h2.0v1.3h-2.0zM294.0 240.3h2.0v1.3h-2.0zM308.0 240.3h4.0v1.3h-4.0zM272.0 247.0h4.0v1.3h-4.0zM300.0 273.7h2.0v1.3h-2.0zM292.0 275.0h8.0v1.3h-8.0zM294.0 276.3h6.0v1.3h-6.0zM304.0 276.3h4.0v1.3h-4.0zM264.0 280.3h2.0v1.3h-2.0zM268.0 287.0h4.0v1.3h-4.0zM274.0 287.0h2.0v1.3h-2.0zM270.0 288.3h2.0v1.3h-2.0zM270.0 289.7h2.0v1.3h-2.0zM320.0 292.3h2.0v1.3h-2.0z"/>
<path fill="#d6604d" d="M300.0 227.0h4.0v1.3h-4.0zM302.0 229.7h2.0v1.3h-2.0zM306.0 237.7h2.0v1.3h-2.0zM270.0 239.0h2.0v1.3h-2.0zM274.0 239.0h4.0v1.3h-4.0zM270.0 240.3h6.0v1.3h-6.0zM270.0 241.7h2.0v1.3h-2.0zM274.0 241.7h2.0v1.3h-2.0zM282.0 241.7h2.0v1.3h-2.0zM280.0 243.0h4.0v1.3h-4.0zM302.0 243.0h4.0v1.3h-4.0zM268.0 244.3h4.0v1.3h-4.0zM302.0 244.3h4.0v1.3h-4.0zM302.0 245.7h6.0v1.3h-6.0zM284.0 247.0h2.0v1.3h-2.0zM304.0 247.0h4.0v1.3h-4.0zM316.0 247.0h2.0v1.3h-2.0zM296.0 248.3h2.0v1.3h-2.0zM284.0 249.7h2.0v1.3h-2.0zM280.0 251.0h8.0v1.3h-8.0zM284.0 252.3h2.0v1.3h-2.0zM284.0 253.7h2.0v1.3h-2.0zM276.0 255.0h4.0v1.3h-4.0zM284.0 255.0h2.0v1.3h-2.0zM276.0 256.3h2.0v1.3h-2.0zM282.0 256.3h6.0v1.3h-6.0zM284.0 259.0h4.0v1.3h-4.0zM280.0 260.3h2.0v1.3h-2.0zM278.0 261.7h2.0v1.3h-2.0zM320.0 261.7h6.0v1.3h-6.0zM300.0 264.3h2.0v1.3h-2.0zM284.0 265.7h2.0v1.3h-2.0zM280.0 267.0h4.0v1.3h-4.0zM280.0 268.3h4.0v1.3h-4.0zM278.0 272.3h6.0v1.3h-6.0zM282.0 273.7h2.0v1.3h-2.0zM272.0 279.0h12.0v1.3h-12.0zM294.0 279.0h2.0v1.3h-2.0zM312.0 279.0h2.0v1.3h-2.0zM272.0 280.3h12.0v1.3h-12.0zM288.0 280.3h2.0v1.3h-2.0zM294.0 280.3h2.0v1.3h-2.0zM314.0 280.3h2.0v1.3h-2.0zM288.0 281.7h8.0v1.3h-8.0zM314.0 281.7h2.0v1.3h-2.0zM272.0 283.0h4.0v1.3h-4.0zM284.0 296.3h4.0v1.3h-4.0zM284.0 297.7h4.0v1.3h-4.0z"/>
<path fill="#053061" d="M294.0 228.3h2.0v1.3h-2.0zM268.0 289.7h2.0v1.3h-2.0zM316.0 292.3h2.0v1.3h-2.0z"/>
<path fill="#b2182b" d="M300.0 229.7h2.0v1.3h-2.0zM272.0 239.0h2.0v1.3h-2.0zM278.0 240.3h4.0v1.3h-4.0zM276.0 241.7h2.0v1.3h-2.0zM284.0 241.7h2.0v1.3h-2.0zM268.0 243.0h2.0v1.3h-2.0zM274.0 243.0h2.0v1.3h-2.0zM268.0 245.7h8.0v1.3h-8.0zM292.0 249.7h2.0v1.3h-2.0zM280.0 252.3h4.0v1.3h-4.0zM280.0 253.7h4.0v1.3h-4.0zM314.0 253.7h2.0v1.3h-2.0zM286.0 255.0h2.0v1.3h-2.0zM278.0 256.3h4.0v1.3h-4.0zM278.0 257.7h10.0v1.3h-10.0zM274.0 259.0h2.0v1.3h-2.0zM278.0 259.0h6.0v1.3h-6.0zM274.0 260.3h2.0v1.3h-2.0zM282.0 260.3h2.0v1.3h-2.0zM286.0 260.3h2.0v1.3h-2.0zM282.0 261.7h2.0v1.3h-2.0zM302.0 265.7h2.0v1.3h-2.0zM312.0 280.3h2.0v1.3h-2.0zM280.0 281.7h4.0v1.3h-4.0zM312.0 281.7h2.0v1.3h-2.0zM272.0 284.3h2.0v1.3h-2.0z"/>
<path fill="#ffffff" d="M264.0 235.0h2.0v1.3h-2.0zM266.0 243.0h2.0v1.3h-2.0z"/>
<path fill="#67001f" d="M268.0 239.0h2.0v1.3h-2.0zM268.0 240.3h2.0v1.3h-2.0zM270.0 243.0h4.0v1.3h-4.0zM272.0 244.3h4.0v1.3h-4.0zM298.0 248.3h2.0v1.3h-2.0zM266.0 253.7h2.0v1.3h-2.0zM286.0 253.7h2.0v1.3h-2.0zM312.0 253.7h2.0v1.3h-2.0zM280.0 255.0h4.0v1.3h-4.0zM276.0 260.3h4.0v1.3h-4.0zM276.0 261.7h2.0v1.3h-2.0zM280.0 261.7h2.0v1.3h-2.0zM292.0 263.0h4.0v1.3h-4.0zM286.0 283.0h2.0v1.3h-2.0z"/>
<path fill="#e2ebf3" d="M306.0 239.0h12.0v1.3h-12.0zM266.0 247.0h4.0v1.3h-4.0zM266.0 248.3h2.0v1.3h-2.0zM288.0 251.0h6.0v1.3h-6.0zM302.0 257.7h2.0v1.3h-2.0zM308.0 257.7h4.0v1.3h-4.0zM290.0 259.0h4.0v1.3h-4.0zM310.0 259.0h4.0v1.3h-4.0zM266.0 260.3h2.0v1.3h-2.0zM266.0 261.7h2.0v1.3h-2.0zM270.0 261.7h2.0v1.3h-2.0zM306.0 261.7h4.0v1.3h-4.0zM308.0 263.0h2.0v1.3h-2.0zM266.0 264.3h2.0v1.3h-2.0zM266.0 265.7h2.0v1.3h-2.0zM314.0 267.0h2.0v1.3h-2.0zM326.0 285.7h2.0v1.3h-2.0z"/>
<path d="M258.5 224.5h5M258.5 258.5h5M258.5 278.1h5M258.5 286.5h5M258.5 294.5h5" stroke="#ece0b8" stroke-width="0.9" fill="none"/>
<path d="M258.5 227.7h5M258.5 251.3h5M258.5 282.5h5" stroke="#e2cce2" stroke-width="0.9" fill="none"/>
<path d="M258.5 231.7h5M258.5 240.1h5M258.5 243.3h5" stroke="#f0d2c4" stroke-width="0.9" fill="none"/>
<path d="M258.5 235.7h5M258.5 254.5h5M258.5 266.5h5M258.5 274.5h5M258.5 290.1h5" stroke="#d2e6cc" stroke-width="0.9" fill="none"/>
<path d="M258.5 247.7h5M258.5 262.9h5" stroke="#cfcfd8" stroke-width="0.9" fill="none"/>
<path d="M258.5 270.1h5" stroke="#c8e0e8" stroke-width="0.9" fill="none"/>
<path d="M363.8 207.7V204.3H404.8V207.7" fill="none" stroke="#a8a8a8" stroke-width="0.55"/>
<rect x="353" y="215.5" width="63.0" height="8.1" fill="#e0e0e0"/>
<path d="M358.8 223.3V220.2H360.5V223.3M383.7 223.3V219.0H385.3V223.3M363.8 223.3V218.2H365.4V223.3M401.9 223.3V217.5H403.6V223.3M387.0 223.3V216.9H388.6V223.3M367.1 223.3V216.3H368.8V223.3M406.9 223.3V215.8H408.5V223.3M411.9 223.3V215.4H413.5V223.3M410.2 223.3V214.9H412.7V215.4M355.5 223.3V214.5H357.1V223.3M380.4 223.3V214.1H382.0V223.3M393.6 223.3V213.8H395.3V223.3M394.4 213.8V213.4H396.9V223.3M377.0 223.3V213.1H378.7V223.3M377.9 213.1V212.8H381.2V214.1M356.3 214.5V212.5H359.6V220.2M370.4 223.3V212.2H372.1V223.3M367.9 216.3V211.9H371.2V212.2M390.3 223.3V211.6H392.0V223.3M411.4 214.9V211.3H415.2V223.3M391.1 211.6V211.1H395.7V213.4M379.5 212.8V210.8H384.5V219.0M362.1 223.3V210.5H364.6V218.2M353.8 223.3V210.3H358.0V212.5M387.8 216.9V210.1H393.4V211.1M363.4 210.5V209.8H369.6V211.9M405.2 223.3V209.6H407.7V215.8M398.6 223.3V209.4H400.2V223.3M366.5 209.8V209.1H373.7V223.3M355.9 210.3V208.9H370.1V209.1M382.0 210.8V208.7H390.6V210.1M406.5 209.6V208.5H413.3V211.3M399.4 209.4V208.3H402.7V217.5M363.0 208.9V208.1H375.4V223.3M369.2 208.1V207.9H386.3V208.7M377.8 207.9V207.7H401.1V208.3M389.4 207.7V207.5H409.9V208.5" fill="none" stroke="#c8c8c8" stroke-width="0.7"/>
<path d="M416.5 250.0H420.5V252.5H416.5M416.5 255.0H421.6V257.5H416.5M416.5 265.1H422.4V267.6H416.5M416.5 239.9H423.0V242.4H416.5M416.5 262.6H423.5V266.3H422.4M416.5 280.1H424.0V282.7H416.5M416.5 290.2H424.4V292.7H416.5M416.5 277.6H424.8V281.4H424.0M416.5 232.4H425.1V234.9H416.5M416.5 287.7H425.5V291.5H424.4M416.5 224.9H425.8V227.4H416.5M423.5 264.4H426.0V270.1H416.5M425.8 226.1H426.3V229.9H416.5M423.0 241.2H426.6V245.0H416.5M425.1 233.7H426.8V237.4H416.5M421.6 256.3H427.1V260.0H416.5M425.5 289.6H427.3V295.2H416.5M427.1 258.2H427.5V267.3H426.0M420.5 251.2H427.7V262.7H427.5M416.5 275.1H427.9V279.5H424.8M416.5 272.6H428.1V277.3H427.9M426.8 235.5H428.3V243.1H426.6M427.3 292.4H428.5V297.7H416.5M416.5 285.2H428.7V295.1H428.5M428.3 239.3H428.8V247.5H416.5M428.1 275.0H429.0V290.1H428.7M428.8 243.4H429.2V257.0H427.7M426.3 228.0H429.3V250.2H429.2M429.3 239.1H429.5V282.5H429.0" fill="none" stroke="#bfbfbf" stroke-width="0.75"/>
<rect x="353" y="223.6" width="64.00" height="75.40" fill="#d1e5f0"/>
<path fill="#f7f7f7" d="M385.0 223.6h2.0v1.3h-2.0zM353.0 224.9h4.0v1.3h-4.0zM387.0 224.9h10.0v1.3h-10.0zM399.0 224.9h2.0v1.3h-2.0zM355.0 226.2h2.0v1.3h-2.0zM353.0 227.6h4.0v1.3h-4.0zM397.0 227.6h4.0v1.3h-4.0zM353.0 228.9h4.0v1.3h-4.0zM397.0 228.9h4.0v1.3h-4.0zM353.0 230.2h4.0v1.3h-4.0zM397.0 230.2h4.0v1.3h-4.0zM361.0 232.9h2.0v1.3h-2.0zM365.0 232.9h6.0v1.3h-6.0zM373.0 232.9h2.0v1.3h-2.0zM377.0 232.9h4.0v1.3h-4.0zM361.0 239.5h2.0v1.3h-2.0zM367.0 239.5h4.0v1.3h-4.0zM373.0 239.5h2.0v1.3h-2.0zM367.0 251.4h2.0v1.3h-2.0zM357.0 256.7h4.0v1.3h-4.0zM365.0 256.7h2.0v1.3h-2.0zM371.0 256.7h10.0v1.3h-10.0zM413.0 256.7h4.0v1.3h-4.0zM413.0 258.0h2.0v1.3h-2.0zM377.0 259.3h2.0v1.3h-2.0zM373.0 262.0h2.0v1.3h-2.0zM377.0 262.0h2.0v1.3h-2.0zM365.0 265.9h12.0v1.3h-12.0zM361.0 267.3h2.0v1.3h-2.0zM365.0 267.3h6.0v1.3h-6.0zM373.0 267.3h4.0v1.3h-4.0zM361.0 268.6h10.0v1.3h-10.0zM373.0 268.6h2.0v1.3h-2.0zM359.0 275.2h2.0v1.3h-2.0zM363.0 275.2h4.0v1.3h-4.0zM375.0 275.2h10.0v1.3h-10.0zM387.0 275.2h2.0v1.3h-2.0zM365.0 276.5h4.0v1.3h-4.0zM381.0 276.5h6.0v1.3h-6.0zM381.0 277.8h2.0v1.3h-2.0zM369.0 285.8h2.0v1.3h-2.0zM365.0 288.4h2.0v1.3h-2.0zM373.0 289.7h2.0v1.3h-2.0zM371.0 291.1h6.0v1.3h-6.0zM371.0 292.4h2.0v1.3h-2.0zM391.0 292.4h2.0v1.3h-2.0zM371.0 293.7h2.0v1.3h-2.0zM379.0 293.7h2.0v1.3h-2.0zM401.0 293.7h4.0v1.3h-4.0zM357.0 295.0h6.0v1.3h-6.0zM371.0 295.0h6.0v1.3h-6.0zM399.0 295.0h2.0v1.3h-2.0zM411.0 295.0h4.0v1.3h-4.0zM361.0 296.4h4.0v1.3h-4.0zM373.0 296.4h4.0v1.3h-4.0zM361.0 297.7h4.0v1.3h-4.0zM373.0 297.7h4.0v1.3h-4.0z"/>
<path fill="#4393c3" d="M389.0 223.6h8.0v1.3h-8.0zM373.0 224.9h2.0v1.3h-2.0zM379.0 224.9h6.0v1.3h-6.0zM405.0 224.9h2.0v1.3h-2.0zM389.0 226.2h6.0v1.3h-6.0zM389.0 227.6h2.0v1.3h-2.0zM389.0 228.9h4.0v1.3h-4.0zM359.0 250.1h2.0v1.3h-2.0zM381.0 250.1h4.0v1.3h-4.0zM391.0 250.1h2.0v1.3h-2.0zM387.0 255.3h2.0v1.3h-2.0zM401.0 255.3h2.0v1.3h-2.0zM387.0 256.7h4.0v1.3h-4.0zM399.0 256.7h2.0v1.3h-2.0zM409.0 256.7h2.0v1.3h-2.0zM407.0 281.8h2.0v1.3h-2.0zM353.0 283.1h4.0v1.3h-4.0zM411.0 283.1h2.0v1.3h-2.0zM357.0 287.1h4.0v1.3h-4.0zM409.0 287.1h4.0v1.3h-4.0zM357.0 288.4h4.0v1.3h-4.0zM409.0 288.4h2.0v1.3h-2.0zM359.0 289.7h2.0v1.3h-2.0zM381.0 289.7h2.0v1.3h-2.0zM381.0 291.1h2.0v1.3h-2.0zM381.0 292.4h2.0v1.3h-2.0zM385.0 292.4h4.0v1.3h-4.0zM365.0 293.7h2.0v1.3h-2.0zM387.0 293.7h2.0v1.3h-2.0zM377.0 296.4h2.0v1.3h-2.0zM377.0 297.7h4.0v1.3h-4.0zM383.0 297.7h2.0v1.3h-2.0zM405.0 297.7h4.0v1.3h-4.0z"/>
<path fill="#f4a582" d="M397.0 223.6h2.0v1.3h-2.0zM397.0 224.9h2.0v1.3h-2.0zM397.0 226.2h2.0v1.3h-2.0zM361.0 231.5h2.0v1.3h-2.0zM365.0 231.5h2.0v1.3h-2.0zM369.0 231.5h2.0v1.3h-2.0zM379.0 231.5h2.0v1.3h-2.0zM371.0 232.9h2.0v1.3h-2.0zM365.0 234.2h8.0v1.3h-8.0zM375.0 234.2h2.0v1.3h-2.0zM363.0 240.8h4.0v1.3h-4.0zM363.0 242.1h2.0v1.3h-2.0zM361.0 243.4h4.0v1.3h-4.0zM361.0 244.8h2.0v1.3h-2.0zM375.0 244.8h2.0v1.3h-2.0zM361.0 246.1h4.0v1.3h-4.0zM373.0 246.1h4.0v1.3h-4.0zM371.0 250.1h2.0v1.3h-2.0zM365.0 251.4h2.0v1.3h-2.0zM357.0 252.7h4.0v1.3h-4.0zM361.0 254.0h4.0v1.3h-4.0zM361.0 255.3h8.0v1.3h-8.0zM377.0 255.3h4.0v1.3h-4.0zM363.0 256.7h2.0v1.3h-2.0zM367.0 256.7h2.0v1.3h-2.0zM357.0 258.0h6.0v1.3h-6.0zM377.0 258.0h4.0v1.3h-4.0zM373.0 259.3h2.0v1.3h-2.0zM415.0 259.3h2.0v1.3h-2.0zM363.0 260.6h6.0v1.3h-6.0zM415.0 260.6h2.0v1.3h-2.0zM367.0 262.0h2.0v1.3h-2.0zM415.0 262.0h2.0v1.3h-2.0zM365.0 263.3h2.0v1.3h-2.0zM365.0 264.6h2.0v1.3h-2.0zM363.0 265.9h2.0v1.3h-2.0zM371.0 269.9h2.0v1.3h-2.0zM371.0 271.2h2.0v1.3h-2.0zM371.0 272.5h2.0v1.3h-2.0zM361.0 276.5h4.0v1.3h-4.0zM373.0 276.5h2.0v1.3h-2.0zM361.0 277.8h4.0v1.3h-4.0zM373.0 277.8h4.0v1.3h-4.0zM369.0 283.1h8.0v1.3h-8.0zM365.0 284.4h4.0v1.3h-4.0zM365.0 285.8h2.0v1.3h-2.0zM373.0 287.1h4.0v1.3h-4.0zM367.0 288.4h2.0v1.3h-2.0zM407.0 289.7h2.0v1.3h-2.0zM361.0 291.1h2.0v1.3h-2.0zM393.0 291.1h4.0v1.3h-4.0zM407.0 291.1h2.0v1.3h-2.0zM411.0 291.1h2.0v1.3h-2.0zM409.0 292.4h2.0v1.3h-2.0zM393.0 293.7h2.0v1.3h-2.0zM405.0 293.7h2.0v1.3h-2.0zM365.0 295.0h2.0v1.3h-2.0zM385.0 295.0h2.0v1.3h-2.0zM389.0 295.0h2.0v1.3h-2.0zM397.0 295.0h2.0v1.3h-2.0zM401.0 295.0h4.0v1.3h-4.0zM397.0 296.4h4.0v1.3h-4.0zM409.0 296.4h8.0v1.3h-8.0zM385.0 297.7h2.0v1.3h-2.0zM397.0 297.7h4.0v1.3h-4.0zM409.0 297.7h8.0v1.3h-8.0z"/>
<path fill="#fddbc7" d="M399.0 223.6h2.0v1.3h-2.0zM385.0 226.2h4.0v1.3h-4.0zM361.0 228.9h2.0v1.3h-2.0zM379.0 230.2h2.0v1.3h-2.0zM371.0 231.5h2.0v1.3h-2.0zM365.0 235.5h4.0v1.3h-4.0zM365.0 236.8h4.0v1.3h-4.0zM409.0 240.8h2.0v1.3h-2.0zM363.0 244.8h2.0v1.3h-2.0zM405.0 247.4h2.0v1.3h-2.0zM379.0 248.7h2.0v1.3h-2.0zM357.0 251.4h4.0v1.3h-4.0zM377.0 251.4h4.0v1.3h-4.0zM365.0 252.7h4.0v1.3h-4.0zM379.0 252.7h2.0v1.3h-2.0zM357.0 254.0h4.0v1.3h-4.0zM365.0 254.0h4.0v1.3h-4.0zM375.0 254.0h2.0v1.3h-2.0zM357.0 255.3h4.0v1.3h-4.0zM369.0 255.3h4.0v1.3h-4.0zM369.0 256.7h2.0v1.3h-2.0zM363.0 258.0h10.0v1.3h-10.0zM375.0 258.0h2.0v1.3h-2.0zM415.0 258.0h2.0v1.3h-2.0zM361.0 259.3h8.0v1.3h-8.0zM375.0 259.3h2.0v1.3h-2.0zM379.0 259.3h2.0v1.3h-2.0zM413.0 259.3h2.0v1.3h-2.0zM361.0 260.6h2.0v1.3h-2.0zM373.0 260.6h8.0v1.3h-8.0zM413.0 260.6h2.0v1.3h-2.0zM361.0 262.0h2.0v1.3h-2.0zM375.0 262.0h2.0v1.3h-2.0zM379.0 262.0h2.0v1.3h-2.0zM413.0 262.0h2.0v1.3h-2.0zM361.0 263.3h4.0v1.3h-4.0zM367.0 263.3h10.0v1.3h-10.0zM361.0 264.6h4.0v1.3h-4.0zM367.0 264.6h2.0v1.3h-2.0zM373.0 264.6h4.0v1.3h-4.0zM361.0 265.9h2.0v1.3h-2.0zM401.0 265.9h4.0v1.3h-4.0zM375.0 268.6h2.0v1.3h-2.0zM373.0 269.9h4.0v1.3h-4.0zM373.0 271.2h4.0v1.3h-4.0zM375.0 272.5h2.0v1.3h-2.0zM375.0 273.9h2.0v1.3h-2.0zM367.0 275.2h8.0v1.3h-8.0zM385.0 275.2h2.0v1.3h-2.0zM409.0 275.2h4.0v1.3h-4.0zM369.0 276.5h4.0v1.3h-4.0zM377.0 276.5h4.0v1.3h-4.0zM387.0 276.5h2.0v1.3h-2.0zM357.0 277.8h4.0v1.3h-4.0zM365.0 277.8h8.0v1.3h-8.0zM377.0 277.8h4.0v1.3h-4.0zM383.0 277.8h4.0v1.3h-4.0zM359.0 283.1h6.0v1.3h-6.0zM363.0 284.4h2.0v1.3h-2.0zM369.0 284.4h4.0v1.3h-4.0zM371.0 285.8h2.0v1.3h-2.0zM379.0 285.8h2.0v1.3h-2.0zM365.0 287.1h4.0v1.3h-4.0zM405.0 287.1h4.0v1.3h-4.0zM373.0 288.4h4.0v1.3h-4.0zM381.0 288.4h4.0v1.3h-4.0zM405.0 288.4h2.0v1.3h-2.0zM365.0 289.7h4.0v1.3h-4.0zM375.0 289.7h2.0v1.3h-2.0zM405.0 289.7h2.0v1.3h-2.0zM363.0 291.1h2.0v1.3h-2.0zM369.0 291.1h2.0v1.3h-2.0zM377.0 291.1h4.0v1.3h-4.0zM389.0 291.1h4.0v1.3h-4.0zM397.0 291.1h2.0v1.3h-2.0zM401.0 291.1h6.0v1.3h-6.0zM409.0 291.1h2.0v1.3h-2.0zM361.0 292.4h4.0v1.3h-4.0zM369.0 292.4h2.0v1.3h-2.0zM373.0 292.4h8.0v1.3h-8.0zM389.0 292.4h2.0v1.3h-2.0zM399.0 292.4h10.0v1.3h-10.0zM411.0 292.4h6.0v1.3h-6.0zM361.0 293.7h2.0v1.3h-2.0zM373.0 293.7h4.0v1.3h-4.0zM389.0 293.7h4.0v1.3h-4.0zM407.0 293.7h10.0v1.3h-10.0zM363.0 295.0h2.0v1.3h-2.0zM367.0 295.0h4.0v1.3h-4.0zM387.0 295.0h2.0v1.3h-2.0zM391.0 295.0h6.0v1.3h-6.0zM415.0 295.0h2.0v1.3h-2.0zM365.0 296.4h6.0v1.3h-6.0zM385.0 296.4h12.0v1.3h-12.0zM401.0 296.4h4.0v1.3h-4.0zM365.0 297.7h8.0v1.3h-8.0zM387.0 297.7h10.0v1.3h-10.0zM401.0 297.7h4.0v1.3h-4.0z"/>
<path fill="#92c5de" d="M401.0 223.6h4.0v1.3h-4.0zM357.0 224.9h14.0v1.3h-14.0zM375.0 224.9h4.0v1.3h-4.0zM401.0 224.9h4.0v1.3h-4.0zM407.0 224.9h2.0v1.3h-2.0zM411.0 224.9h6.0v1.3h-6.0zM403.0 226.2h2.0v1.3h-2.0zM391.0 227.6h6.0v1.3h-6.0zM393.0 228.9h4.0v1.3h-4.0zM393.0 230.2h4.0v1.3h-4.0zM353.0 250.1h2.0v1.3h-2.0zM357.0 250.1h2.0v1.3h-2.0zM361.0 250.1h4.0v1.3h-4.0zM377.0 250.1h4.0v1.3h-4.0zM385.0 250.1h6.0v1.3h-6.0zM397.0 250.1h12.0v1.3h-12.0zM411.0 250.1h6.0v1.3h-6.0zM353.0 255.3h4.0v1.3h-4.0zM381.0 255.3h6.0v1.3h-6.0zM395.0 255.3h2.0v1.3h-2.0zM403.0 255.3h8.0v1.3h-8.0zM395.0 256.7h4.0v1.3h-4.0zM401.0 256.7h2.0v1.3h-2.0zM411.0 256.7h2.0v1.3h-2.0zM381.0 258.0h4.0v1.3h-4.0zM387.0 258.0h16.0v1.3h-16.0zM407.0 258.0h6.0v1.3h-6.0zM381.0 260.6h4.0v1.3h-4.0zM389.0 260.6h4.0v1.3h-4.0zM381.0 262.0h12.0v1.3h-12.0zM405.0 281.8h2.0v1.3h-2.0zM377.0 283.1h32.0v1.3h-32.0zM413.0 283.1h4.0v1.3h-4.0zM361.0 287.1h4.0v1.3h-4.0zM377.0 287.1h2.0v1.3h-2.0zM361.0 288.4h4.0v1.3h-4.0zM411.0 288.4h2.0v1.3h-2.0zM353.0 289.7h4.0v1.3h-4.0zM361.0 289.7h4.0v1.3h-4.0zM369.0 289.7h4.0v1.3h-4.0zM377.0 289.7h4.0v1.3h-4.0zM383.0 289.7h4.0v1.3h-4.0zM391.0 289.7h14.0v1.3h-14.0zM411.0 289.7h2.0v1.3h-2.0zM415.0 289.7h2.0v1.3h-2.0zM357.0 291.1h4.0v1.3h-4.0zM365.0 291.1h4.0v1.3h-4.0zM385.0 291.1h4.0v1.3h-4.0zM365.0 292.4h4.0v1.3h-4.0zM357.0 293.7h2.0v1.3h-2.0zM367.0 293.7h2.0v1.3h-2.0zM377.0 295.0h2.0v1.3h-2.0zM407.0 295.0h2.0v1.3h-2.0zM383.0 296.4h2.0v1.3h-2.0zM381.0 297.7h2.0v1.3h-2.0z"/>
<path fill="#d6604d" d="M371.0 224.9h2.0v1.3h-2.0zM409.0 224.9h2.0v1.3h-2.0zM399.0 226.2h2.0v1.3h-2.0zM369.0 230.2h4.0v1.3h-4.0zM363.0 231.5h2.0v1.3h-2.0zM367.0 231.5h2.0v1.3h-2.0zM359.0 232.9h2.0v1.3h-2.0zM363.0 232.9h2.0v1.3h-2.0zM375.0 232.9h2.0v1.3h-2.0zM359.0 234.2h2.0v1.3h-2.0zM373.0 234.2h2.0v1.3h-2.0zM379.0 234.2h2.0v1.3h-2.0zM361.0 235.5h2.0v1.3h-2.0zM359.0 236.8h2.0v1.3h-2.0zM409.0 236.8h2.0v1.3h-2.0zM361.0 238.2h4.0v1.3h-4.0zM375.0 238.2h2.0v1.3h-2.0zM365.0 239.5h2.0v1.3h-2.0zM361.0 240.8h2.0v1.3h-2.0zM367.0 240.8h2.0v1.3h-2.0zM361.0 242.1h2.0v1.3h-2.0zM367.0 242.1h6.0v1.3h-6.0zM369.0 243.4h8.0v1.3h-8.0zM379.0 243.4h2.0v1.3h-2.0zM371.0 244.8h4.0v1.3h-4.0zM371.0 246.1h2.0v1.3h-2.0zM365.0 248.7h4.0v1.3h-4.0zM365.0 250.1h4.0v1.3h-4.0zM373.0 250.1h2.0v1.3h-2.0zM361.0 251.4h4.0v1.3h-4.0zM361.0 252.7h4.0v1.3h-4.0zM369.0 252.7h8.0v1.3h-8.0zM371.0 254.0h4.0v1.3h-4.0zM373.0 255.3h4.0v1.3h-4.0zM361.0 256.7h2.0v1.3h-2.0zM373.0 258.0h2.0v1.3h-2.0zM357.0 259.3h4.0v1.3h-4.0zM369.0 259.3h4.0v1.3h-4.0zM357.0 260.6h4.0v1.3h-4.0zM369.0 260.6h4.0v1.3h-4.0zM357.0 262.0h4.0v1.3h-4.0zM363.0 262.0h4.0v1.3h-4.0zM369.0 262.0h4.0v1.3h-4.0zM369.0 264.6h2.0v1.3h-2.0zM363.0 267.3h2.0v1.3h-2.0zM371.0 267.3h2.0v1.3h-2.0zM371.0 268.6h2.0v1.3h-2.0zM369.0 269.9h2.0v1.3h-2.0zM363.0 271.2h6.0v1.3h-6.0zM357.0 272.5h2.0v1.3h-2.0zM361.0 272.5h6.0v1.3h-6.0zM361.0 273.9h4.0v1.3h-4.0zM367.0 273.9h6.0v1.3h-6.0zM361.0 275.2h2.0v1.3h-2.0zM391.0 276.5h2.0v1.3h-2.0zM359.0 279.2h2.0v1.3h-2.0zM375.0 281.8h2.0v1.3h-2.0zM365.0 283.1h4.0v1.3h-4.0zM409.0 283.1h2.0v1.3h-2.0zM357.0 284.4h4.0v1.3h-4.0zM373.0 284.4h4.0v1.3h-4.0zM373.0 285.8h4.0v1.3h-4.0zM369.0 287.1h4.0v1.3h-4.0zM369.0 288.4h4.0v1.3h-4.0zM399.0 291.1h2.0v1.3h-2.0zM393.0 292.4h6.0v1.3h-6.0zM395.0 293.7h6.0v1.3h-6.0z"/>
<path fill="#67001f" d="M357.0 226.2h4.0v1.3h-4.0zM363.0 226.2h4.0v1.3h-4.0zM359.0 227.6h6.0v1.3h-6.0zM363.0 228.9h2.0v1.3h-2.0zM357.0 231.5h2.0v1.3h-2.0zM361.0 234.2h4.0v1.3h-4.0zM363.0 235.5h2.0v1.3h-2.0zM369.0 235.5h2.0v1.3h-2.0zM375.0 240.8h2.0v1.3h-2.0zM365.0 242.1h2.0v1.3h-2.0zM365.0 243.4h4.0v1.3h-4.0zM365.0 244.8h4.0v1.3h-4.0zM363.0 247.4h4.0v1.3h-4.0zM375.0 248.7h2.0v1.3h-2.0zM385.0 251.4h2.0v1.3h-2.0zM385.0 252.7h2.0v1.3h-2.0zM361.0 269.9h2.0v1.3h-2.0zM357.0 279.2h2.0v1.3h-2.0zM361.0 279.2h2.0v1.3h-2.0z"/>
<path fill="#2166ac" d="M395.0 226.2h2.0v1.3h-2.0zM389.0 230.2h4.0v1.3h-4.0zM407.0 277.8h2.0v1.3h-2.0zM405.0 279.2h4.0v1.3h-4.0zM405.0 280.5h4.0v1.3h-4.0zM357.0 289.7h2.0v1.3h-2.0zM409.0 289.7h2.0v1.3h-2.0zM383.0 291.1h2.0v1.3h-2.0zM383.0 292.4h2.0v1.3h-2.0zM381.0 293.7h6.0v1.3h-6.0zM379.0 295.0h6.0v1.3h-6.0zM405.0 295.0h2.0v1.3h-2.0zM405.0 296.4h4.0v1.3h-4.0z"/>
<path fill="#b2182b" d="M369.0 228.9h2.0v1.3h-2.0zM413.0 230.2h2.0v1.3h-2.0zM373.0 231.5h6.0v1.3h-6.0zM357.0 232.9h2.0v1.3h-2.0zM357.0 234.2h2.0v1.3h-2.0zM377.0 234.2h2.0v1.3h-2.0zM371.0 235.5h6.0v1.3h-6.0zM409.0 235.5h4.0v1.3h-4.0zM361.0 236.8h4.0v1.3h-4.0zM369.0 236.8h8.0v1.3h-8.0zM369.0 238.2h6.0v1.3h-6.0zM363.0 239.5h2.0v1.3h-2.0zM371.0 239.5h2.0v1.3h-2.0zM375.0 239.5h2.0v1.3h-2.0zM357.0 240.8h2.0v1.3h-2.0zM369.0 240.8h6.0v1.3h-6.0zM373.0 242.1h4.0v1.3h-4.0zM369.0 244.8h2.0v1.3h-2.0zM357.0 246.1h2.0v1.3h-2.0zM365.0 246.1h6.0v1.3h-6.0zM367.0 247.4h10.0v1.3h-10.0zM361.0 248.7h4.0v1.3h-4.0zM369.0 248.7h6.0v1.3h-6.0zM369.0 250.1h2.0v1.3h-2.0zM375.0 250.1h2.0v1.3h-2.0zM369.0 251.4h8.0v1.3h-8.0zM369.0 254.0h2.0v1.3h-2.0zM371.0 264.6h2.0v1.3h-2.0zM409.0 265.9h4.0v1.3h-4.0zM363.0 269.9h6.0v1.3h-6.0zM361.0 271.2h2.0v1.3h-2.0zM369.0 271.2h2.0v1.3h-2.0zM367.0 272.5h4.0v1.3h-4.0zM359.0 273.9h2.0v1.3h-2.0zM365.0 273.9h2.0v1.3h-2.0zM407.0 275.2h2.0v1.3h-2.0zM375.0 276.5h2.0v1.3h-2.0zM391.0 277.8h2.0v1.3h-2.0zM357.0 283.1h2.0v1.3h-2.0zM361.0 284.4h2.0v1.3h-2.0zM357.0 285.8h8.0v1.3h-8.0zM367.0 285.8h2.0v1.3h-2.0zM387.0 289.7h2.0v1.3h-2.0z"/>
<path fill="#e2ebf3" d="M383.0 230.2h2.0v1.3h-2.0zM353.0 231.5h2.0v1.3h-2.0zM391.0 231.5h2.0v1.3h-2.0zM413.0 235.5h4.0v1.3h-4.0zM381.0 238.2h4.0v1.3h-4.0zM413.0 238.2h2.0v1.3h-2.0zM413.0 239.5h4.0v1.3h-4.0zM385.0 243.4h6.0v1.3h-6.0zM385.0 244.8h4.0v1.3h-4.0zM403.0 244.8h4.0v1.3h-4.0zM413.0 246.1h2.0v1.3h-2.0zM387.0 248.7h4.0v1.3h-4.0zM415.0 248.7h2.0v1.3h-2.0zM393.0 250.1h2.0v1.3h-2.0zM381.0 251.4h2.0v1.3h-2.0zM389.0 252.7h6.0v1.3h-6.0zM353.0 263.3h2.0v1.3h-2.0zM413.0 264.6h2.0v1.3h-2.0zM377.0 265.9h2.0v1.3h-2.0zM385.0 267.3h6.0v1.3h-6.0zM387.0 268.6h4.0v1.3h-4.0zM353.0 269.9h2.0v1.3h-2.0zM395.0 273.9h2.0v1.3h-2.0zM393.0 277.8h2.0v1.3h-2.0zM409.0 279.2h4.0v1.3h-4.0z"/>
<path fill="#053061" d="M379.0 296.4h4.0v1.3h-4.0z"/>
<path d="M347.5 225.1h5M347.5 229.1h5M347.5 232.3h5M347.5 266.7h5M347.5 287.5h5" stroke="#ece0b8" stroke-width="0.9" fill="none"/>
<path d="M347.5 235.9h5M347.5 291.9h5M347.5 295.5h5" stroke="#e2cce2" stroke-width="0.9" fill="none"/>
<path d="M347.5 239.1h5M347.5 269.9h5M347.5 277.1h5" stroke="#d2e6cc" stroke-width="0.9" fill="none"/>
<path d="M347.5 243.5h5M347.5 262.7h5M347.5 280.3h5M347.5 284.3h5" stroke="#cfcfd8" stroke-width="0.9" fill="none"/>
<path d="M347.5 247.1h5M347.5 251.5h5M347.5 255.1h5" stroke="#f0d2c4" stroke-width="0.9" fill="none"/>
<path d="M347.5 258.3h5M347.5 273.1h5" stroke="#c8e0e8" stroke-width="0.9" fill="none"/>
<path d="M451.6 207.7V204.3H491.6V207.7" fill="none" stroke="#a8a8a8" stroke-width="0.55"/>
<rect x="441" y="215.5" width="64.0" height="7.5" fill="#e0e0e0"/>
<path d="M470.5 222.7V219.7H472.2V222.7M502.5 222.7V218.6H504.2V222.7M441.8 222.7V217.8H443.5V222.7M462.1 222.7V217.1H463.7V222.7M448.6 222.7V216.5H450.3V222.7M492.4 222.7V216.0H494.1V222.7M458.7 222.7V215.5H460.4V222.7M493.2 216.0V215.1H495.7V222.7M467.1 222.7V214.7H468.8V222.7M445.2 222.7V214.3H446.9V222.7M467.9 214.7V213.9H471.3V219.7M455.3 222.7V213.5H457.0V222.7M477.2 222.7V213.2H478.9V222.7M469.6 213.9V212.9H473.8V222.7M482.3 222.7V212.6H483.9V222.7M442.7 217.8V212.3H446.1V214.3M494.5 215.1V212.0H497.4V222.7M489.0 222.7V211.7H490.7V222.7M485.6 222.7V211.4H487.3V222.7M444.4 212.3V211.2H449.4V216.5M471.7 212.9V210.9H475.5V222.7M465.4 222.7V210.7H473.6V210.9M451.9 222.7V210.4H453.6V222.7M478.1 213.2V210.2H480.6V222.7M469.5 210.7V210.0H479.3V210.2M459.5 215.5V209.7H462.9V217.1M456.2 213.5V209.5H461.2V209.7M489.8 211.7V209.3H495.9V212.0M474.4 210.0V209.1H483.1V212.6M492.9 209.3V208.9H499.1V222.7M486.5 211.4V208.7H496.0V208.9M458.7 209.5V208.5H478.8V209.1M491.2 208.7V208.3H500.8V222.7M452.8 210.4V208.1H468.7V208.5M446.9 211.2V207.9H460.8V208.1M496.0 208.3V207.7H503.3V218.6M453.8 207.9V207.5H499.7V207.7" fill="none" stroke="#c8c8c8" stroke-width="0.7"/>
<path d="M505.5 229.4H509.5V232.0H505.5M505.5 296.1H510.6V298.7H505.5M505.5 242.2H511.4V244.8H505.5M505.5 265.4H512.0V267.9H505.5M509.5 230.7H512.5V234.6H505.5M505.5 278.2H513.0V280.8H505.5M505.5 249.9H513.4V252.5H505.5M505.5 237.1H513.8V239.7H505.5M505.5 273.1H514.1V275.6H505.5M505.5 285.9H514.5V288.4H505.5M511.4 243.5H514.8V247.4H505.5M505.5 224.3H515.0V226.8H505.5M505.5 270.5H515.3V274.3H514.1M505.5 262.8H515.6V266.6H512.0M515.6 264.7H515.8V272.4H515.3M514.8 245.5H516.1V251.2H513.4M512.5 232.6H516.3V238.4H513.8M516.1 248.3H516.5V255.1H505.5M513.0 279.5H516.7V283.3H505.5M515.8 268.6H516.9V281.4H516.7M505.5 257.6H517.1V260.2H505.5M505.5 291.0H517.3V293.6H505.5M517.3 292.3H517.5V297.4H510.6M516.5 251.7H517.7V258.9H517.1M516.9 275.0H517.8V287.2H514.5M517.8 281.1H518.0V294.9H517.5M516.3 235.5H518.2V255.3H517.7M515.0 225.6H518.3V245.4H518.2M518.3 235.5H518.5V288.0H518.0" fill="none" stroke="#bfbfbf" stroke-width="0.75"/>
<rect x="441" y="223" width="64.00" height="77.00" fill="#d1e5f0"/>
<path fill="#f7f7f7" d="M441.0 223.0h4.0v1.4h-4.0zM449.0 223.0h4.0v1.4h-4.0zM465.0 223.0h4.0v1.4h-4.0zM473.0 223.0h2.0v1.4h-2.0zM477.0 223.0h4.0v1.4h-4.0zM485.0 223.0h2.0v1.4h-2.0zM495.0 223.0h2.0v1.4h-2.0zM501.0 223.0h2.0v1.4h-2.0zM441.0 224.4h16.0v1.4h-16.0zM465.0 224.4h4.0v1.4h-4.0zM473.0 224.4h8.0v1.4h-8.0zM483.0 224.4h22.0v1.4h-22.0zM441.0 225.7h2.0v1.4h-2.0zM453.0 225.7h4.0v1.4h-4.0zM477.0 225.7h4.0v1.4h-4.0zM485.0 225.7h8.0v1.4h-8.0zM495.0 225.7h2.0v1.4h-2.0zM501.0 225.7h4.0v1.4h-4.0zM441.0 227.1h4.0v1.4h-4.0zM461.0 227.1h4.0v1.4h-4.0zM469.0 227.1h2.0v1.4h-2.0zM441.0 228.4h2.0v1.4h-2.0zM445.0 228.4h2.0v1.4h-2.0zM449.0 228.4h4.0v1.4h-4.0zM457.0 228.4h4.0v1.4h-4.0zM495.0 228.4h2.0v1.4h-2.0zM501.0 228.4h2.0v1.4h-2.0zM443.0 229.8h4.0v1.4h-4.0zM449.0 229.8h4.0v1.4h-4.0zM441.0 231.1h4.0v1.4h-4.0zM463.0 231.1h2.0v1.4h-2.0zM471.0 231.1h2.0v1.4h-2.0zM493.0 231.1h2.0v1.4h-2.0zM499.0 231.1h2.0v1.4h-2.0zM447.0 232.5h2.0v1.4h-2.0zM471.0 232.5h2.0v1.4h-2.0zM495.0 232.5h6.0v1.4h-6.0zM441.0 233.8h2.0v1.4h-2.0zM451.0 233.8h2.0v1.4h-2.0zM457.0 233.8h8.0v1.4h-8.0zM493.0 233.8h12.0v1.4h-12.0zM441.0 235.2h4.0v1.4h-4.0zM451.0 235.2h2.0v1.4h-2.0zM457.0 235.2h2.0v1.4h-2.0zM489.0 235.2h2.0v1.4h-2.0zM501.0 235.2h4.0v1.4h-4.0zM441.0 236.5h4.0v1.4h-4.0zM451.0 236.5h2.0v1.4h-2.0zM469.0 236.5h4.0v1.4h-4.0zM485.0 236.5h4.0v1.4h-4.0zM497.0 236.5h2.0v1.4h-2.0zM441.0 237.9h2.0v1.4h-2.0zM449.0 237.9h2.0v1.4h-2.0zM471.0 237.9h2.0v1.4h-2.0zM477.0 237.9h2.0v1.4h-2.0zM485.0 237.9h2.0v1.4h-2.0zM479.0 239.2h8.0v1.4h-8.0zM443.0 240.6h6.0v1.4h-6.0zM461.0 240.6h2.0v1.4h-2.0zM479.0 240.6h6.0v1.4h-6.0zM489.0 240.6h4.0v1.4h-4.0zM441.0 241.9h4.0v1.4h-4.0zM475.0 241.9h2.0v1.4h-2.0zM503.0 241.9h2.0v1.4h-2.0zM485.0 243.3h6.0v1.4h-6.0zM441.0 244.6h4.0v1.4h-4.0zM447.0 244.6h6.0v1.4h-6.0zM455.0 244.6h6.0v1.4h-6.0zM463.0 244.6h10.0v1.4h-10.0zM477.0 244.6h2.0v1.4h-2.0zM485.0 244.6h6.0v1.4h-6.0zM493.0 244.6h8.0v1.4h-8.0zM503.0 244.6h2.0v1.4h-2.0zM441.0 246.0h6.0v1.4h-6.0zM449.0 246.0h2.0v1.4h-2.0zM453.0 246.0h18.0v1.4h-18.0zM477.0 246.0h4.0v1.4h-4.0zM485.0 246.0h4.0v1.4h-4.0zM493.0 246.0h8.0v1.4h-8.0zM503.0 246.0h2.0v1.4h-2.0zM453.0 247.3h2.0v1.4h-2.0zM479.0 247.3h2.0v1.4h-2.0zM503.0 247.3h2.0v1.4h-2.0zM441.0 248.7h4.0v1.4h-4.0zM473.0 248.7h4.0v1.4h-4.0zM479.0 248.7h2.0v1.4h-2.0zM441.0 250.0h2.0v1.4h-2.0zM445.0 250.0h10.0v1.4h-10.0zM459.0 250.0h14.0v1.4h-14.0zM475.0 250.0h2.0v1.4h-2.0zM485.0 250.0h4.0v1.4h-4.0zM493.0 250.0h4.0v1.4h-4.0zM501.0 250.0h4.0v1.4h-4.0zM443.0 251.4h2.0v1.4h-2.0zM443.0 252.7h2.0v1.4h-2.0zM459.0 252.7h2.0v1.4h-2.0zM441.0 254.1h2.0v1.4h-2.0zM453.0 254.1h2.0v1.4h-2.0zM445.0 255.4h2.0v1.4h-2.0zM503.0 255.4h2.0v1.4h-2.0zM499.0 256.8h2.0v1.4h-2.0zM441.0 258.1h2.0v1.4h-2.0zM491.0 258.1h2.0v1.4h-2.0zM441.0 259.5h8.0v1.4h-8.0zM453.0 259.5h8.0v1.4h-8.0zM463.0 259.5h4.0v1.4h-4.0zM471.0 259.5h12.0v1.4h-12.0zM497.0 259.5h4.0v1.4h-4.0zM503.0 259.5h2.0v1.4h-2.0zM441.0 260.8h4.0v1.4h-4.0zM441.0 262.2h4.0v1.4h-4.0zM461.0 262.2h2.0v1.4h-2.0zM467.0 262.2h2.0v1.4h-2.0zM441.0 263.5h2.0v1.4h-2.0zM441.0 264.9h4.0v1.4h-4.0zM497.0 264.9h2.0v1.4h-2.0zM443.0 266.2h2.0v1.4h-2.0zM465.0 266.2h2.0v1.4h-2.0zM497.0 266.2h4.0v1.4h-4.0zM441.0 267.6h8.0v1.4h-8.0zM453.0 267.6h2.0v1.4h-2.0zM445.0 268.9h4.0v1.4h-4.0zM467.0 268.9h2.0v1.4h-2.0zM443.0 270.3h24.0v1.4h-24.0zM469.0 270.3h4.0v1.4h-4.0zM441.0 271.6h4.0v1.4h-4.0zM453.0 271.6h2.0v1.4h-2.0zM453.0 273.0h2.0v1.4h-2.0zM441.0 274.3h2.0v1.4h-2.0zM443.0 275.7h2.0v1.4h-2.0zM457.0 275.7h2.0v1.4h-2.0zM503.0 275.7h2.0v1.4h-2.0zM443.0 277.0h2.0v1.4h-2.0zM469.0 277.0h2.0v1.4h-2.0zM501.0 277.0h4.0v1.4h-4.0zM441.0 278.4h4.0v1.4h-4.0zM459.0 278.4h2.0v1.4h-2.0zM469.0 278.4h2.0v1.4h-2.0zM441.0 279.7h4.0v1.4h-4.0zM441.0 281.1h6.0v1.4h-6.0zM461.0 281.1h4.0v1.4h-4.0zM441.0 282.4h4.0v1.4h-4.0zM461.0 282.4h4.0v1.4h-4.0zM467.0 282.4h2.0v1.4h-2.0zM457.0 283.8h2.0v1.4h-2.0zM465.0 283.8h2.0v1.4h-2.0zM441.0 285.1h2.0v1.4h-2.0zM443.0 286.5h2.0v1.4h-2.0zM447.0 286.5h4.0v1.4h-4.0zM453.0 286.5h2.0v1.4h-2.0zM443.0 287.8h2.0v1.4h-2.0zM449.0 287.8h4.0v1.4h-4.0zM461.0 289.2h2.0v1.4h-2.0zM441.0 290.5h6.0v1.4h-6.0zM449.0 290.5h2.0v1.4h-2.0zM461.0 290.5h4.0v1.4h-4.0zM467.0 290.5h4.0v1.4h-4.0zM503.0 290.5h2.0v1.4h-2.0zM465.0 291.9h8.0v1.4h-8.0zM441.0 293.2h6.0v1.4h-6.0zM465.0 293.2h2.0v1.4h-2.0zM441.0 294.6h4.0v1.4h-4.0zM447.0 294.6h16.0v1.4h-16.0zM467.0 294.6h4.0v1.4h-4.0zM477.0 294.6h12.0v1.4h-12.0zM491.0 294.6h14.0v1.4h-14.0zM443.0 295.9h2.0v1.4h-2.0zM449.0 295.9h2.0v1.4h-2.0zM455.0 295.9h6.0v1.4h-6.0zM443.0 297.3h2.0v1.4h-2.0zM459.0 297.3h4.0v1.4h-4.0zM465.0 297.3h4.0v1.4h-4.0zM477.0 297.3h4.0v1.4h-4.0zM485.0 297.3h2.0v1.4h-2.0zM441.0 298.6h8.0v1.4h-8.0zM457.0 298.6h4.0v1.4h-4.0zM465.0 298.6h4.0v1.4h-4.0zM489.0 298.6h2.0v1.4h-2.0z"/>
<path fill="#fddbc7" d="M445.0 223.0h4.0v1.4h-4.0zM453.0 223.0h2.0v1.4h-2.0zM475.0 223.0h2.0v1.4h-2.0zM481.0 223.0h4.0v1.4h-4.0zM461.0 224.4h4.0v1.4h-4.0zM449.0 225.7h4.0v1.4h-4.0zM463.0 225.7h2.0v1.4h-2.0zM475.0 225.7h2.0v1.4h-2.0zM481.0 225.7h4.0v1.4h-4.0zM447.0 227.1h6.0v1.4h-6.0zM455.0 227.1h6.0v1.4h-6.0zM473.0 227.1h4.0v1.4h-4.0zM481.0 227.1h10.0v1.4h-10.0zM493.0 227.1h4.0v1.4h-4.0zM455.0 228.4h2.0v1.4h-2.0zM475.0 228.4h2.0v1.4h-2.0zM481.0 228.4h2.0v1.4h-2.0zM493.0 228.4h2.0v1.4h-2.0zM497.0 228.4h2.0v1.4h-2.0zM503.0 228.4h2.0v1.4h-2.0zM461.0 229.8h2.0v1.4h-2.0zM473.0 229.8h4.0v1.4h-4.0zM479.0 229.8h6.0v1.4h-6.0zM487.0 229.8h4.0v1.4h-4.0zM499.0 229.8h6.0v1.4h-6.0zM449.0 231.1h4.0v1.4h-4.0zM459.0 231.1h4.0v1.4h-4.0zM469.0 231.1h2.0v1.4h-2.0zM473.0 231.1h2.0v1.4h-2.0zM477.0 231.1h2.0v1.4h-2.0zM481.0 231.1h4.0v1.4h-4.0zM491.0 231.1h2.0v1.4h-2.0zM497.0 231.1h2.0v1.4h-2.0zM501.0 231.1h2.0v1.4h-2.0zM469.0 232.5h2.0v1.4h-2.0zM473.0 232.5h2.0v1.4h-2.0zM477.0 232.5h10.0v1.4h-10.0zM501.0 232.5h2.0v1.4h-2.0zM449.0 233.8h2.0v1.4h-2.0zM469.0 233.8h4.0v1.4h-4.0zM479.0 233.8h6.0v1.4h-6.0zM449.0 235.2h2.0v1.4h-2.0zM453.0 235.2h4.0v1.4h-4.0zM459.0 235.2h2.0v1.4h-2.0zM465.0 235.2h20.0v1.4h-20.0zM491.0 235.2h8.0v1.4h-8.0zM449.0 236.5h2.0v1.4h-2.0zM455.0 236.5h6.0v1.4h-6.0zM465.0 236.5h4.0v1.4h-4.0zM473.0 236.5h2.0v1.4h-2.0zM477.0 236.5h8.0v1.4h-8.0zM489.0 236.5h8.0v1.4h-8.0zM501.0 236.5h4.0v1.4h-4.0zM451.0 237.9h2.0v1.4h-2.0zM455.0 237.9h6.0v1.4h-6.0zM473.0 237.9h4.0v1.4h-4.0zM479.0 237.9h6.0v1.4h-6.0zM487.0 237.9h6.0v1.4h-6.0zM501.0 237.9h4.0v1.4h-4.0zM441.0 239.2h4.0v1.4h-4.0zM449.0 239.2h8.0v1.4h-8.0zM475.0 239.2h4.0v1.4h-4.0zM487.0 239.2h2.0v1.4h-2.0zM491.0 239.2h2.0v1.4h-2.0zM501.0 239.2h4.0v1.4h-4.0zM449.0 240.6h8.0v1.4h-8.0zM465.0 240.6h2.0v1.4h-2.0zM469.0 240.6h2.0v1.4h-2.0zM473.0 240.6h6.0v1.4h-6.0zM485.0 240.6h4.0v1.4h-4.0zM501.0 240.6h4.0v1.4h-4.0zM445.0 241.9h12.0v1.4h-12.0zM465.0 241.9h10.0v1.4h-10.0zM477.0 241.9h2.0v1.4h-2.0zM485.0 241.9h2.0v1.4h-2.0zM489.0 241.9h2.0v1.4h-2.0zM447.0 243.3h6.0v1.4h-6.0zM455.0 243.3h2.0v1.4h-2.0zM461.0 243.3h2.0v1.4h-2.0zM465.0 243.3h6.0v1.4h-6.0zM479.0 243.3h2.0v1.4h-2.0zM491.0 243.3h2.0v1.4h-2.0zM499.0 243.3h2.0v1.4h-2.0zM461.0 244.6h2.0v1.4h-2.0zM491.0 244.6h2.0v1.4h-2.0zM501.0 244.6h2.0v1.4h-2.0zM447.0 246.0h2.0v1.4h-2.0zM451.0 246.0h2.0v1.4h-2.0zM471.0 246.0h2.0v1.4h-2.0zM489.0 246.0h4.0v1.4h-4.0zM447.0 247.3h6.0v1.4h-6.0zM455.0 247.3h2.0v1.4h-2.0zM461.0 247.3h8.0v1.4h-8.0zM473.0 247.3h6.0v1.4h-6.0zM485.0 247.3h4.0v1.4h-4.0zM493.0 247.3h2.0v1.4h-2.0zM451.0 248.7h8.0v1.4h-8.0zM461.0 248.7h8.0v1.4h-8.0zM485.0 248.7h4.0v1.4h-4.0zM495.0 248.7h2.0v1.4h-2.0zM443.0 250.0h2.0v1.4h-2.0zM455.0 250.0h2.0v1.4h-2.0zM479.0 250.0h2.0v1.4h-2.0zM445.0 251.4h4.0v1.4h-4.0zM463.0 251.4h2.0v1.4h-2.0zM467.0 251.4h2.0v1.4h-2.0zM445.0 252.7h4.0v1.4h-4.0zM453.0 252.7h4.0v1.4h-4.0zM443.0 254.1h4.0v1.4h-4.0zM455.0 254.1h4.0v1.4h-4.0zM465.0 254.1h6.0v1.4h-6.0zM483.0 254.1h2.0v1.4h-2.0zM443.0 255.4h2.0v1.4h-2.0zM463.0 255.4h4.0v1.4h-4.0zM469.0 255.4h4.0v1.4h-4.0zM477.0 255.4h4.0v1.4h-4.0zM489.0 255.4h4.0v1.4h-4.0zM441.0 256.8h2.0v1.4h-2.0zM455.0 256.8h2.0v1.4h-2.0zM463.0 256.8h10.0v1.4h-10.0zM479.0 256.8h2.0v1.4h-2.0zM489.0 256.8h10.0v1.4h-10.0zM445.0 258.1h4.0v1.4h-4.0zM465.0 258.1h8.0v1.4h-8.0zM477.0 258.1h8.0v1.4h-8.0zM489.0 258.1h2.0v1.4h-2.0zM493.0 258.1h10.0v1.4h-10.0zM449.0 259.5h4.0v1.4h-4.0zM467.0 259.5h4.0v1.4h-4.0zM501.0 259.5h2.0v1.4h-2.0zM445.0 260.8h10.0v1.4h-10.0zM461.0 260.8h12.0v1.4h-12.0zM449.0 262.2h10.0v1.4h-10.0zM463.0 262.2h4.0v1.4h-4.0zM469.0 262.2h4.0v1.4h-4.0zM497.0 262.2h2.0v1.4h-2.0zM443.0 263.5h4.0v1.4h-4.0zM449.0 263.5h4.0v1.4h-4.0zM463.0 263.5h6.0v1.4h-6.0zM497.0 263.5h4.0v1.4h-4.0zM445.0 264.9h8.0v1.4h-8.0zM457.0 264.9h4.0v1.4h-4.0zM463.0 264.9h2.0v1.4h-2.0zM469.0 264.9h4.0v1.4h-4.0zM499.0 264.9h2.0v1.4h-2.0zM445.0 266.2h4.0v1.4h-4.0zM461.0 266.2h4.0v1.4h-4.0zM467.0 266.2h2.0v1.4h-2.0zM471.0 266.2h2.0v1.4h-2.0zM503.0 266.2h2.0v1.4h-2.0zM459.0 267.6h2.0v1.4h-2.0zM469.0 267.6h4.0v1.4h-4.0zM461.0 268.9h2.0v1.4h-2.0zM469.0 268.9h4.0v1.4h-4.0zM457.0 271.6h2.0v1.4h-2.0zM467.0 271.6h6.0v1.4h-6.0zM443.0 273.0h2.0v1.4h-2.0zM449.0 273.0h2.0v1.4h-2.0zM465.0 273.0h6.0v1.4h-6.0zM443.0 274.3h18.0v1.4h-18.0zM463.0 274.3h10.0v1.4h-10.0zM445.0 275.7h2.0v1.4h-2.0zM449.0 275.7h4.0v1.4h-4.0zM459.0 275.7h6.0v1.4h-6.0zM469.0 275.7h4.0v1.4h-4.0zM501.0 275.7h2.0v1.4h-2.0zM445.0 277.0h8.0v1.4h-8.0zM463.0 277.0h2.0v1.4h-2.0zM447.0 278.4h2.0v1.4h-2.0zM461.0 278.4h8.0v1.4h-8.0zM503.0 278.4h2.0v1.4h-2.0zM445.0 279.7h4.0v1.4h-4.0zM461.0 279.7h8.0v1.4h-8.0zM503.0 279.7h2.0v1.4h-2.0zM447.0 281.1h4.0v1.4h-4.0zM457.0 281.1h4.0v1.4h-4.0zM465.0 281.1h8.0v1.4h-8.0zM503.0 281.1h2.0v1.4h-2.0zM445.0 282.4h2.0v1.4h-2.0zM449.0 282.4h2.0v1.4h-2.0zM455.0 282.4h6.0v1.4h-6.0zM465.0 282.4h2.0v1.4h-2.0zM469.0 282.4h4.0v1.4h-4.0zM503.0 282.4h2.0v1.4h-2.0zM443.0 283.8h14.0v1.4h-14.0zM467.0 283.8h6.0v1.4h-6.0zM447.0 285.1h2.0v1.4h-2.0zM451.0 285.1h6.0v1.4h-6.0zM459.0 285.1h2.0v1.4h-2.0zM465.0 285.1h8.0v1.4h-8.0zM451.0 286.5h2.0v1.4h-2.0zM457.0 286.5h8.0v1.4h-8.0zM467.0 286.5h6.0v1.4h-6.0zM441.0 287.8h2.0v1.4h-2.0zM461.0 287.8h4.0v1.4h-4.0zM469.0 287.8h2.0v1.4h-2.0zM441.0 289.2h4.0v1.4h-4.0zM455.0 289.2h2.0v1.4h-2.0zM463.0 289.2h2.0v1.4h-2.0zM469.0 289.2h4.0v1.4h-4.0zM501.0 289.2h4.0v1.4h-4.0zM451.0 290.5h2.0v1.4h-2.0zM471.0 290.5h2.0v1.4h-2.0zM501.0 290.5h2.0v1.4h-2.0zM441.0 291.9h8.0v1.4h-8.0zM453.0 291.9h6.0v1.4h-6.0zM483.0 291.9h2.0v1.4h-2.0zM497.0 291.9h2.0v1.4h-2.0zM501.0 291.9h4.0v1.4h-4.0zM447.0 293.2h2.0v1.4h-2.0zM467.0 293.2h6.0v1.4h-6.0zM481.0 293.2h2.0v1.4h-2.0zM497.0 293.2h4.0v1.4h-4.0zM445.0 294.6h2.0v1.4h-2.0zM465.0 294.6h2.0v1.4h-2.0zM471.0 294.6h2.0v1.4h-2.0zM445.0 295.9h2.0v1.4h-2.0zM451.0 295.9h4.0v1.4h-4.0zM461.0 295.9h4.0v1.4h-4.0zM469.0 295.9h4.0v1.4h-4.0zM477.0 295.9h8.0v1.4h-8.0zM489.0 295.9h6.0v1.4h-6.0zM501.0 295.9h4.0v1.4h-4.0zM441.0 297.3h2.0v1.4h-2.0zM445.0 297.3h8.0v1.4h-8.0zM463.0 297.3h2.0v1.4h-2.0zM469.0 297.3h4.0v1.4h-4.0zM487.0 297.3h4.0v1.4h-4.0zM503.0 297.3h2.0v1.4h-2.0zM449.0 298.6h4.0v1.4h-4.0zM461.0 298.6h4.0v1.4h-4.0zM469.0 298.6h2.0v1.4h-2.0zM477.0 298.6h4.0v1.4h-4.0zM485.0 298.6h2.0v1.4h-2.0zM499.0 298.6h2.0v1.4h-2.0z"/>
<path fill="#92c5de" d="M457.0 223.0h2.0v1.4h-2.0zM469.0 223.0h4.0v1.4h-4.0zM457.0 224.4h4.0v1.4h-4.0zM469.0 224.4h4.0v1.4h-4.0zM459.0 225.7h2.0v1.4h-2.0zM469.0 225.7h4.0v1.4h-4.0zM465.0 227.1h4.0v1.4h-4.0zM465.0 228.4h4.0v1.4h-4.0zM465.0 229.8h4.0v1.4h-4.0zM465.0 231.1h4.0v1.4h-4.0zM465.0 232.5h4.0v1.4h-4.0zM465.0 233.8h4.0v1.4h-4.0zM461.0 236.5h4.0v1.4h-4.0zM461.0 237.9h2.0v1.4h-2.0zM459.0 239.2h2.0v1.4h-2.0zM457.0 240.6h4.0v1.4h-4.0zM457.0 241.9h4.0v1.4h-4.0zM473.0 243.3h4.0v1.4h-4.0zM473.0 244.6h4.0v1.4h-4.0zM481.0 244.6h4.0v1.4h-4.0zM473.0 246.0h4.0v1.4h-4.0zM481.0 246.0h2.0v1.4h-2.0zM481.0 247.3h4.0v1.4h-4.0zM489.0 247.3h4.0v1.4h-4.0zM497.0 247.3h4.0v1.4h-4.0zM489.0 248.7h4.0v1.4h-4.0zM497.0 248.7h2.0v1.4h-2.0zM481.0 250.0h4.0v1.4h-4.0zM489.0 250.0h4.0v1.4h-4.0zM473.0 251.4h4.0v1.4h-4.0zM485.0 251.4h2.0v1.4h-2.0zM489.0 251.4h4.0v1.4h-4.0zM485.0 252.7h2.0v1.4h-2.0zM489.0 252.7h4.0v1.4h-4.0zM473.0 254.1h8.0v1.4h-8.0zM485.0 254.1h4.0v1.4h-4.0zM493.0 254.1h4.0v1.4h-4.0zM501.0 254.1h4.0v1.4h-4.0zM473.0 255.4h4.0v1.4h-4.0zM473.0 256.8h4.0v1.4h-4.0zM475.0 258.1h2.0v1.4h-2.0zM487.0 259.5h10.0v1.4h-10.0zM485.0 260.8h12.0v1.4h-12.0zM473.0 262.2h2.0v1.4h-2.0zM487.0 262.2h8.0v1.4h-8.0zM473.0 263.5h4.0v1.4h-4.0zM485.0 263.5h4.0v1.4h-4.0zM493.0 263.5h4.0v1.4h-4.0zM479.0 264.9h2.0v1.4h-2.0zM485.0 264.9h4.0v1.4h-4.0zM473.0 266.2h4.0v1.4h-4.0zM479.0 266.2h2.0v1.4h-2.0zM487.0 266.2h2.0v1.4h-2.0zM473.0 267.6h18.0v1.4h-18.0zM493.0 267.6h12.0v1.4h-12.0zM477.0 271.6h2.0v1.4h-2.0zM481.0 271.6h24.0v1.4h-24.0zM475.0 273.0h4.0v1.4h-4.0zM489.0 273.0h6.0v1.4h-6.0zM497.0 273.0h8.0v1.4h-8.0zM473.0 274.3h8.0v1.4h-8.0zM483.0 274.3h22.0v1.4h-22.0zM493.0 279.7h4.0v1.4h-4.0zM479.0 281.1h2.0v1.4h-2.0zM485.0 281.1h2.0v1.4h-2.0zM489.0 281.1h2.0v1.4h-2.0zM493.0 281.1h2.0v1.4h-2.0zM493.0 282.4h2.0v1.4h-2.0zM477.0 283.8h2.0v1.4h-2.0zM485.0 286.5h2.0v1.4h-2.0zM473.0 289.2h2.0v1.4h-2.0zM477.0 289.2h6.0v1.4h-6.0zM485.0 289.2h16.0v1.4h-16.0z"/>
<path fill="#4393c3" d="M459.0 223.0h2.0v1.4h-2.0zM487.0 223.0h2.0v1.4h-2.0zM445.0 227.1h2.0v1.4h-2.0zM447.0 228.4h2.0v1.4h-2.0zM461.0 228.4h4.0v1.4h-4.0zM487.0 228.4h4.0v1.4h-4.0zM459.0 229.8h2.0v1.4h-2.0zM463.0 229.8h2.0v1.4h-2.0zM487.0 231.1h4.0v1.4h-4.0zM461.0 232.5h4.0v1.4h-4.0zM445.0 235.2h2.0v1.4h-2.0zM445.0 236.5h4.0v1.4h-4.0zM481.0 241.9h4.0v1.4h-4.0zM487.0 241.9h2.0v1.4h-2.0zM477.0 243.3h2.0v1.4h-2.0zM477.0 248.7h2.0v1.4h-2.0zM481.0 248.7h4.0v1.4h-4.0zM477.0 251.4h4.0v1.4h-4.0zM487.0 251.4h2.0v1.4h-2.0zM493.0 251.4h2.0v1.4h-2.0zM497.0 251.4h8.0v1.4h-8.0zM477.0 252.7h4.0v1.4h-4.0zM487.0 252.7h2.0v1.4h-2.0zM493.0 252.7h2.0v1.4h-2.0zM497.0 252.7h2.0v1.4h-2.0zM501.0 252.7h2.0v1.4h-2.0zM489.0 254.1h4.0v1.4h-4.0zM497.0 254.1h4.0v1.4h-4.0zM473.0 258.1h2.0v1.4h-2.0zM483.0 260.8h2.0v1.4h-2.0zM481.0 262.2h6.0v1.4h-6.0zM481.0 263.5h4.0v1.4h-4.0zM481.0 264.9h4.0v1.4h-4.0zM477.0 266.2h2.0v1.4h-2.0zM485.0 266.2h2.0v1.4h-2.0zM491.0 267.6h2.0v1.4h-2.0zM473.0 273.0h2.0v1.4h-2.0zM483.0 273.0h6.0v1.4h-6.0zM477.0 279.7h8.0v1.4h-8.0zM491.0 279.7h2.0v1.4h-2.0zM477.0 281.1h2.0v1.4h-2.0zM481.0 281.1h4.0v1.4h-4.0zM477.0 282.4h8.0v1.4h-8.0zM489.0 282.4h4.0v1.4h-4.0zM495.0 282.4h2.0v1.4h-2.0zM479.0 283.8h4.0v1.4h-4.0zM487.0 283.8h4.0v1.4h-4.0zM477.0 285.1h8.0v1.4h-8.0zM489.0 285.1h6.0v1.4h-6.0zM477.0 286.5h2.0v1.4h-2.0zM487.0 286.5h4.0v1.4h-4.0zM495.0 286.5h2.0v1.4h-2.0zM483.0 289.2h2.0v1.4h-2.0z"/>
<path fill="#f4a582" d="M463.0 223.0h2.0v1.4h-2.0zM489.0 223.0h4.0v1.4h-4.0zM497.0 223.0h4.0v1.4h-4.0zM481.0 224.4h2.0v1.4h-2.0zM465.0 225.7h4.0v1.4h-4.0zM497.0 225.7h4.0v1.4h-4.0zM477.0 227.1h4.0v1.4h-4.0zM497.0 227.1h4.0v1.4h-4.0zM471.0 228.4h2.0v1.4h-2.0zM477.0 228.4h4.0v1.4h-4.0zM499.0 228.4h2.0v1.4h-2.0zM455.0 229.8h2.0v1.4h-2.0zM477.0 229.8h2.0v1.4h-2.0zM457.0 231.1h2.0v1.4h-2.0zM503.0 231.1h2.0v1.4h-2.0zM457.0 232.5h4.0v1.4h-4.0zM493.0 232.5h2.0v1.4h-2.0zM503.0 232.5h2.0v1.4h-2.0zM473.0 233.8h4.0v1.4h-4.0zM499.0 235.2h2.0v1.4h-2.0zM499.0 236.5h2.0v1.4h-2.0zM465.0 237.9h6.0v1.4h-6.0zM493.0 237.9h8.0v1.4h-8.0zM461.0 239.2h8.0v1.4h-8.0zM473.0 239.2h2.0v1.4h-2.0zM489.0 239.2h2.0v1.4h-2.0zM493.0 239.2h8.0v1.4h-8.0zM463.0 240.6h2.0v1.4h-2.0zM467.0 240.6h2.0v1.4h-2.0zM471.0 240.6h2.0v1.4h-2.0zM495.0 240.6h2.0v1.4h-2.0zM461.0 241.9h4.0v1.4h-4.0zM491.0 241.9h12.0v1.4h-12.0zM453.0 243.3h2.0v1.4h-2.0zM457.0 243.3h4.0v1.4h-4.0zM497.0 243.3h2.0v1.4h-2.0zM501.0 243.3h4.0v1.4h-4.0zM453.0 244.6h2.0v1.4h-2.0zM457.0 247.3h4.0v1.4h-4.0zM469.0 247.3h4.0v1.4h-4.0zM445.0 248.7h6.0v1.4h-6.0zM459.0 248.7h2.0v1.4h-2.0zM457.0 250.0h2.0v1.4h-2.0zM453.0 251.4h8.0v1.4h-8.0zM465.0 251.4h2.0v1.4h-2.0zM469.0 251.4h4.0v1.4h-4.0zM457.0 252.7h2.0v1.4h-2.0zM465.0 252.7h8.0v1.4h-8.0zM459.0 254.1h2.0v1.4h-2.0zM447.0 255.4h2.0v1.4h-2.0zM457.0 255.4h2.0v1.4h-2.0zM461.0 255.4h2.0v1.4h-2.0zM487.0 255.4h2.0v1.4h-2.0zM445.0 256.8h2.0v1.4h-2.0zM453.0 256.8h2.0v1.4h-2.0zM461.0 256.8h2.0v1.4h-2.0zM477.0 256.8h2.0v1.4h-2.0zM453.0 258.1h12.0v1.4h-12.0zM485.0 258.1h2.0v1.4h-2.0zM455.0 260.8h6.0v1.4h-6.0zM459.0 262.2h2.0v1.4h-2.0zM457.0 263.5h6.0v1.4h-6.0zM469.0 263.5h4.0v1.4h-4.0zM491.0 263.5h2.0v1.4h-2.0zM453.0 264.9h4.0v1.4h-4.0zM461.0 264.9h2.0v1.4h-2.0zM449.0 266.2h2.0v1.4h-2.0zM455.0 266.2h6.0v1.4h-6.0zM489.0 266.2h4.0v1.4h-4.0zM449.0 267.6h4.0v1.4h-4.0zM455.0 267.6h2.0v1.4h-2.0zM461.0 267.6h8.0v1.4h-8.0zM453.0 268.9h4.0v1.4h-4.0zM463.0 268.9h4.0v1.4h-4.0zM467.0 270.3h2.0v1.4h-2.0zM447.0 271.6h6.0v1.4h-6.0zM463.0 271.6h2.0v1.4h-2.0zM445.0 273.0h4.0v1.4h-4.0zM451.0 273.0h2.0v1.4h-2.0zM455.0 273.0h10.0v1.4h-10.0zM471.0 273.0h2.0v1.4h-2.0zM461.0 274.3h2.0v1.4h-2.0zM465.0 275.7h4.0v1.4h-4.0zM457.0 277.0h2.0v1.4h-2.0zM465.0 277.0h4.0v1.4h-4.0zM471.0 277.0h2.0v1.4h-2.0zM445.0 278.4h2.0v1.4h-2.0zM453.0 278.4h2.0v1.4h-2.0zM457.0 278.4h2.0v1.4h-2.0zM471.0 278.4h2.0v1.4h-2.0zM501.0 278.4h2.0v1.4h-2.0zM449.0 279.7h12.0v1.4h-12.0zM469.0 279.7h2.0v1.4h-2.0zM501.0 279.7h2.0v1.4h-2.0zM451.0 281.1h6.0v1.4h-6.0zM451.0 282.4h4.0v1.4h-4.0zM501.0 282.4h2.0v1.4h-2.0zM461.0 283.8h4.0v1.4h-4.0zM445.0 285.1h2.0v1.4h-2.0zM449.0 285.1h2.0v1.4h-2.0zM457.0 285.1h2.0v1.4h-2.0zM461.0 285.1h4.0v1.4h-4.0zM445.0 286.5h2.0v1.4h-2.0zM465.0 286.5h2.0v1.4h-2.0zM503.0 286.5h2.0v1.4h-2.0zM445.0 287.8h4.0v1.4h-4.0zM453.0 287.8h4.0v1.4h-4.0zM465.0 287.8h4.0v1.4h-4.0zM471.0 287.8h2.0v1.4h-2.0zM501.0 287.8h4.0v1.4h-4.0zM447.0 289.2h2.0v1.4h-2.0zM453.0 289.2h2.0v1.4h-2.0zM457.0 289.2h4.0v1.4h-4.0zM465.0 289.2h4.0v1.4h-4.0zM447.0 290.5h2.0v1.4h-2.0zM453.0 290.5h4.0v1.4h-4.0zM459.0 290.5h2.0v1.4h-2.0zM465.0 290.5h2.0v1.4h-2.0zM451.0 291.9h2.0v1.4h-2.0zM477.0 291.9h4.0v1.4h-4.0zM489.0 291.9h2.0v1.4h-2.0zM493.0 291.9h4.0v1.4h-4.0zM499.0 291.9h2.0v1.4h-2.0zM449.0 293.2h2.0v1.4h-2.0zM453.0 293.2h8.0v1.4h-8.0zM477.0 293.2h2.0v1.4h-2.0zM483.0 293.2h8.0v1.4h-8.0zM493.0 293.2h4.0v1.4h-4.0zM501.0 293.2h2.0v1.4h-2.0zM495.0 295.9h2.0v1.4h-2.0zM491.0 297.3h2.0v1.4h-2.0zM471.0 298.6h2.0v1.4h-2.0zM481.0 298.6h4.0v1.4h-4.0zM487.0 298.6h2.0v1.4h-2.0zM493.0 298.6h2.0v1.4h-2.0z"/>
<path fill="#2166ac" d="M485.0 228.4h2.0v1.4h-2.0zM447.0 229.8h2.0v1.4h-2.0zM457.0 229.8h2.0v1.4h-2.0zM445.0 232.5h2.0v1.4h-2.0zM487.0 232.5h6.0v1.4h-6.0zM453.0 233.8h4.0v1.4h-4.0zM487.0 233.8h4.0v1.4h-4.0zM447.0 235.2h2.0v1.4h-2.0zM445.0 237.9h4.0v1.4h-4.0zM495.0 247.3h2.0v1.4h-2.0zM493.0 248.7h2.0v1.4h-2.0zM473.0 250.0h2.0v1.4h-2.0zM477.0 250.0h2.0v1.4h-2.0zM499.0 252.7h2.0v1.4h-2.0zM483.0 259.5h2.0v1.4h-2.0zM473.0 260.8h10.0v1.4h-10.0zM475.0 262.2h6.0v1.4h-6.0zM481.0 266.2h4.0v1.4h-4.0zM485.0 279.7h6.0v1.4h-6.0zM487.0 281.1h2.0v1.4h-2.0zM491.0 281.1h2.0v1.4h-2.0zM495.0 281.1h2.0v1.4h-2.0zM485.0 282.4h4.0v1.4h-4.0zM483.0 283.8h4.0v1.4h-4.0zM491.0 283.8h6.0v1.4h-6.0zM485.0 285.1h4.0v1.4h-4.0zM495.0 285.1h2.0v1.4h-2.0zM479.0 286.5h6.0v1.4h-6.0zM491.0 286.5h4.0v1.4h-4.0z"/>
<path fill="#d6604d" d="M497.0 229.8h2.0v1.4h-2.0zM475.0 231.1h2.0v1.4h-2.0zM475.0 232.5h2.0v1.4h-2.0zM469.0 239.2h4.0v1.4h-4.0zM445.0 247.3h2.0v1.4h-2.0zM469.0 248.7h4.0v1.4h-4.0zM449.0 251.4h4.0v1.4h-4.0zM461.0 251.4h2.0v1.4h-2.0zM449.0 252.7h2.0v1.4h-2.0zM461.0 252.7h4.0v1.4h-4.0zM449.0 254.1h4.0v1.4h-4.0zM461.0 254.1h4.0v1.4h-4.0zM449.0 255.4h2.0v1.4h-2.0zM453.0 255.4h4.0v1.4h-4.0zM459.0 255.4h2.0v1.4h-2.0zM467.0 255.4h2.0v1.4h-2.0zM485.0 255.4h2.0v1.4h-2.0zM447.0 256.8h4.0v1.4h-4.0zM457.0 256.8h4.0v1.4h-4.0zM487.0 256.8h2.0v1.4h-2.0zM487.0 258.1h2.0v1.4h-2.0zM461.0 259.5h2.0v1.4h-2.0zM447.0 263.5h2.0v1.4h-2.0zM453.0 263.5h4.0v1.4h-4.0zM489.0 263.5h2.0v1.4h-2.0zM453.0 266.2h2.0v1.4h-2.0zM469.0 266.2h2.0v1.4h-2.0zM457.0 267.6h2.0v1.4h-2.0zM449.0 268.9h4.0v1.4h-4.0zM457.0 268.9h2.0v1.4h-2.0zM445.0 271.6h2.0v1.4h-2.0zM455.0 271.6h2.0v1.4h-2.0zM459.0 271.6h2.0v1.4h-2.0zM465.0 271.6h2.0v1.4h-2.0zM453.0 275.7h4.0v1.4h-4.0zM453.0 277.0h4.0v1.4h-4.0zM459.0 277.0h4.0v1.4h-4.0zM449.0 278.4h4.0v1.4h-4.0zM455.0 278.4h2.0v1.4h-2.0zM459.0 283.8h2.0v1.4h-2.0zM501.0 283.8h4.0v1.4h-4.0zM501.0 286.5h2.0v1.4h-2.0zM457.0 287.8h4.0v1.4h-4.0zM445.0 289.2h2.0v1.4h-2.0zM449.0 291.9h2.0v1.4h-2.0zM459.0 291.9h6.0v1.4h-6.0zM481.0 291.9h2.0v1.4h-2.0zM485.0 291.9h4.0v1.4h-4.0zM491.0 291.9h2.0v1.4h-2.0zM461.0 293.2h4.0v1.4h-4.0zM479.0 293.2h2.0v1.4h-2.0zM491.0 293.2h2.0v1.4h-2.0zM489.0 294.6h2.0v1.4h-2.0zM485.0 295.9h4.0v1.4h-4.0zM481.0 297.3h4.0v1.4h-4.0zM493.0 297.3h2.0v1.4h-2.0zM491.0 298.6h2.0v1.4h-2.0z"/>
<path fill="#ffffff" d="M443.0 237.9h2.0v1.4h-2.0zM441.0 255.4h2.0v1.4h-2.0zM441.0 266.2h2.0v1.4h-2.0zM441.0 268.9h4.0v1.4h-4.0z"/>
<path fill="#b2182b" d="M451.0 252.7h2.0v1.4h-2.0zM485.0 256.8h2.0v1.4h-2.0zM449.0 258.1h4.0v1.4h-4.0zM489.0 264.9h4.0v1.4h-4.0zM459.0 268.9h2.0v1.4h-2.0zM461.0 271.6h2.0v1.4h-2.0zM501.0 285.1h4.0v1.4h-4.0zM457.0 290.5h2.0v1.4h-2.0zM451.0 293.2h2.0v1.4h-2.0zM463.0 294.6h2.0v1.4h-2.0zM495.0 297.3h2.0v1.4h-2.0zM495.0 298.6h2.0v1.4h-2.0z"/>
<path fill="#67001f" d="M451.0 255.4h2.0v1.4h-2.0zM451.0 256.8h2.0v1.4h-2.0z"/>
<path fill="#e2ebf3" d="M475.0 270.3h2.0v1.4h-2.0zM485.0 270.3h2.0v1.4h-2.0zM501.0 270.3h2.0v1.4h-2.0zM493.0 275.7h2.0v1.4h-2.0zM499.0 275.7h2.0v1.4h-2.0zM491.0 277.0h6.0v1.4h-6.0zM499.0 277.0h2.0v1.4h-2.0zM495.0 287.8h6.0v1.4h-6.0z"/>
<path d="M435.5 224.5h5M435.5 228.9h5M435.5 268.9h5M435.5 294.5h5" stroke="#f0d2c4" stroke-width="0.9" fill="none"/>
<path d="M435.5 233.3h5M435.5 236.5h5M435.5 246.9h5M435.5 253.3h5M435.5 265.7h5M435.5 276.1h5M435.5 287.7h5" stroke="#c8e0e8" stroke-width="0.9" fill="none"/>
<path d="M435.5 239.7h5M435.5 256.9h5M435.5 261.3h5" stroke="#ece0b8" stroke-width="0.9" fill="none"/>
<path d="M435.5 243.3h5M435.5 250.1h5" stroke="#cfcfd8" stroke-width="0.9" fill="none"/>
<path d="M435.5 272.1h5M435.5 291.3h5" stroke="#d2e6cc" stroke-width="0.9" fill="none"/>
<path d="M435.5 279.7h5M435.5 284.1h5M435.5 298.1h5" stroke="#e2cce2" stroke-width="0.9" fill="none"/>
<rect x="15" y="339.40" width="83.00" height="0.8" fill="#2a2a2a"/>
<rect x="13.7" y="343.6" width="8.30" height="33.60" fill="url(#rdbu)" stroke="#5a5a5a" stroke-width="0.45"/>
<path d="M114.3 349.7V346.3H140.3V349.7" fill="none" stroke="#a8a8a8" stroke-width="0.55"/>
<rect x="90.8" y="357.5" width="59.2" height="7.0" fill="#e0e0e0"/>
<path d="M100.9 364.2V361.3H102.5V364.2M93.1 364.2V360.2H94.7V364.2M121.2 364.2V359.5H122.7V364.2M93.9 360.2V358.8H96.3V364.2M99.4 364.2V358.2H101.7V361.3M119.6 364.2V357.7H122.0V359.5M91.6 364.2V357.3H95.1V358.8M127.4 364.2V356.8H129.0V364.2M108.7 364.2V356.4H110.3V364.2M139.9 364.2V356.0H141.4V364.2M120.8 357.7V355.7H124.3V364.2M138.3 364.2V355.3H140.7V356.0M122.5 355.7V355.0H125.9V364.2M114.9 364.2V354.7H116.5V364.2M97.8 364.2V354.4H100.5V358.2M109.5 356.4V354.1H111.8V364.2M115.7 354.7V353.8H118.1V364.2M147.7 364.2V353.6H149.2V364.2M113.4 364.2V353.3H116.9V353.8M136.8 364.2V353.1H139.5V355.3M143.0 364.2V352.8H144.5V364.2M130.5 364.2V352.6H132.1V364.2M93.3 357.3V352.3H99.2V354.4M131.3 352.6V352.1H133.6V364.2M132.5 352.1V351.9H135.2V364.2M124.2 355.0V351.7H128.2V356.8M126.2 351.7V351.4H133.8V351.9M107.2 364.2V351.2H110.7V354.1M143.8 352.8V351.0H146.1V364.2M96.3 352.3V350.8H104.0V364.2M138.1 353.1V350.6H144.9V351.0M115.1 353.3V350.4H130.0V351.4M141.5 350.6V350.2H148.4V353.6M105.6 364.2V350.0H108.9V351.2M100.1 350.8V349.9H107.3V350.0M103.7 349.9V349.7H122.6V350.4M113.1 349.7V349.5H145.0V350.2" fill="none" stroke="#c8c8c8" stroke-width="0.7"/>
<path d="M150.5 436.5H154.5V439.1H150.5M150.5 415.5H155.6V418.1H150.5M150.5 368.4H156.4V371.0H150.5M156.4 369.7H157.0V373.7H150.5M150.5 397.2H157.5V399.8H150.5M150.5 381.5H158.0V384.1H150.5M150.5 428.6H158.4V431.2H150.5M150.5 420.8H158.8V423.4H150.5M154.5 437.8H159.1V441.7H150.5M150.5 402.4H159.5V405.1H150.5M157.0 371.7H159.8V376.3H150.5M150.5 410.3H160.0V412.9H150.5M158.0 382.8H160.3V386.7H150.5M157.5 398.5H160.6V403.8H159.5M150.5 365.8H160.8V374.0H159.8M158.4 429.9H161.1V433.8H150.5M150.5 394.6H161.3V401.1H160.6M160.0 411.6H161.5V416.8H155.6M150.5 392.0H161.7V397.9H161.3M150.5 426.0H161.9V431.9H161.1M160.3 384.8H162.1V389.4H150.5M161.7 394.9H162.3V407.7H150.5M150.5 378.9H162.5V387.1H162.1M158.8 422.1H162.7V428.9H161.9M160.8 369.9H162.8V383.0H162.5M162.7 425.5H163.0V439.7H159.1M161.5 414.2H163.2V432.6H163.0M162.3 401.3H163.3V423.4H163.2M162.8 376.4H163.5V412.4H163.3" fill="none" stroke="#bfbfbf" stroke-width="0.75"/>
<rect x="90" y="364" width="60.00" height="79.00" fill="#d1e5f0"/>
<path fill="#f7f7f7" d="M90.0 364.0h4.0v1.3h-4.0zM102.0 364.0h6.0v1.3h-6.0zM120.0 364.0h2.0v1.3h-2.0zM142.0 364.0h4.0v1.3h-4.0zM90.0 365.3h4.0v1.3h-4.0zM98.0 365.3h12.0v1.3h-12.0zM114.0 365.3h4.0v1.3h-4.0zM122.0 365.3h2.0v1.3h-2.0zM126.0 365.3h2.0v1.3h-2.0zM130.0 365.3h4.0v1.3h-4.0zM138.0 365.3h4.0v1.3h-4.0zM144.0 365.3h6.0v1.3h-6.0zM90.0 366.6h4.0v1.3h-4.0zM122.0 366.6h2.0v1.3h-2.0zM144.0 366.6h2.0v1.3h-2.0zM90.0 367.9h2.0v1.3h-2.0zM96.0 367.9h2.0v1.3h-2.0zM112.0 367.9h2.0v1.3h-2.0zM140.0 367.9h6.0v1.3h-6.0zM90.0 369.3h8.0v1.3h-8.0zM102.0 369.3h12.0v1.3h-12.0zM116.0 369.3h8.0v1.3h-8.0zM126.0 369.3h12.0v1.3h-12.0zM142.0 369.3h8.0v1.3h-8.0zM110.0 370.6h4.0v1.3h-4.0zM126.0 370.6h8.0v1.3h-8.0zM146.0 370.6h4.0v1.3h-4.0zM90.0 371.9h12.0v1.3h-12.0zM106.0 371.9h2.0v1.3h-2.0zM112.0 371.9h2.0v1.3h-2.0zM118.0 371.9h8.0v1.3h-8.0zM128.0 371.9h2.0v1.3h-2.0zM136.0 371.9h4.0v1.3h-4.0zM146.0 371.9h4.0v1.3h-4.0zM126.0 374.5h4.0v1.3h-4.0zM138.0 374.5h4.0v1.3h-4.0zM118.0 375.9h4.0v1.3h-4.0zM128.0 375.9h6.0v1.3h-6.0zM92.0 377.2h2.0v1.3h-2.0zM118.0 377.2h2.0v1.3h-2.0zM124.0 377.2h4.0v1.3h-4.0zM130.0 377.2h4.0v1.3h-4.0zM144.0 377.2h6.0v1.3h-6.0zM92.0 378.5h10.0v1.3h-10.0zM106.0 378.5h8.0v1.3h-8.0zM116.0 378.5h4.0v1.3h-4.0zM124.0 378.5h10.0v1.3h-10.0zM136.0 378.5h14.0v1.3h-14.0zM94.0 379.8h2.0v1.3h-2.0zM106.0 379.8h2.0v1.3h-2.0zM112.0 379.8h2.0v1.3h-2.0zM118.0 379.8h4.0v1.3h-4.0zM144.0 379.8h6.0v1.3h-6.0zM96.0 381.1h2.0v1.3h-2.0zM100.0 381.1h2.0v1.3h-2.0zM106.0 381.1h2.0v1.3h-2.0zM138.0 381.1h2.0v1.3h-2.0zM142.0 381.1h6.0v1.3h-6.0zM90.0 382.4h4.0v1.3h-4.0zM98.0 382.4h4.0v1.3h-4.0zM106.0 382.4h4.0v1.3h-4.0zM114.0 382.4h4.0v1.3h-4.0zM122.0 382.4h2.0v1.3h-2.0zM146.0 382.4h2.0v1.3h-2.0zM108.0 383.8h2.0v1.3h-2.0zM122.0 383.8h12.0v1.3h-12.0zM108.0 385.1h2.0v1.3h-2.0zM120.0 385.1h2.0v1.3h-2.0zM128.0 385.1h6.0v1.3h-6.0zM140.0 385.1h2.0v1.3h-2.0zM104.0 386.4h2.0v1.3h-2.0zM116.0 386.4h4.0v1.3h-4.0zM132.0 386.4h2.0v1.3h-2.0zM126.0 387.7h2.0v1.3h-2.0zM136.0 387.7h2.0v1.3h-2.0zM92.0 389.0h4.0v1.3h-4.0zM98.0 389.0h12.0v1.3h-12.0zM116.0 389.0h2.0v1.3h-2.0zM122.0 389.0h8.0v1.3h-8.0zM134.0 389.0h2.0v1.3h-2.0zM140.0 389.0h10.0v1.3h-10.0zM144.0 390.3h2.0v1.3h-2.0zM104.0 391.6h6.0v1.3h-6.0zM104.0 393.0h2.0v1.3h-2.0zM126.0 393.0h2.0v1.3h-2.0zM146.0 393.0h2.0v1.3h-2.0zM92.0 395.6h2.0v1.3h-2.0zM106.0 395.6h2.0v1.3h-2.0zM144.0 395.6h2.0v1.3h-2.0zM148.0 395.6h2.0v1.3h-2.0zM102.0 396.9h2.0v1.3h-2.0zM106.0 396.9h4.0v1.3h-4.0zM116.0 396.9h2.0v1.3h-2.0zM148.0 396.9h2.0v1.3h-2.0zM110.0 398.2h2.0v1.3h-2.0zM100.0 399.6h4.0v1.3h-4.0zM110.0 400.9h2.0v1.3h-2.0zM144.0 400.9h2.0v1.3h-2.0zM92.0 402.2h2.0v1.3h-2.0zM120.0 402.2h2.0v1.3h-2.0zM140.0 402.2h2.0v1.3h-2.0zM92.0 403.5h2.0v1.3h-2.0zM110.0 403.5h4.0v1.3h-4.0zM122.0 403.5h8.0v1.3h-8.0zM132.0 403.5h2.0v1.3h-2.0zM140.0 403.5h6.0v1.3h-6.0zM112.0 404.8h2.0v1.3h-2.0zM128.0 404.8h6.0v1.3h-6.0zM142.0 404.8h8.0v1.3h-8.0zM98.0 406.1h2.0v1.3h-2.0zM142.0 406.1h2.0v1.3h-2.0zM104.0 407.4h2.0v1.3h-2.0zM120.0 407.4h2.0v1.3h-2.0zM96.0 408.8h2.0v1.3h-2.0zM118.0 410.1h2.0v1.3h-2.0zM130.0 411.4h2.0v1.3h-2.0zM136.0 412.7h6.0v1.3h-6.0zM142.0 414.0h2.0v1.3h-2.0zM110.0 415.4h2.0v1.3h-2.0zM118.0 416.7h2.0v1.3h-2.0zM140.0 416.7h2.0v1.3h-2.0zM90.0 418.0h6.0v1.3h-6.0zM98.0 418.0h14.0v1.3h-14.0zM114.0 418.0h8.0v1.3h-8.0zM126.0 418.0h6.0v1.3h-6.0zM138.0 418.0h12.0v1.3h-12.0zM102.0 419.3h4.0v1.3h-4.0zM114.0 419.3h2.0v1.3h-2.0zM120.0 419.3h2.0v1.3h-2.0zM138.0 419.3h2.0v1.3h-2.0zM142.0 419.3h4.0v1.3h-4.0zM90.0 420.6h2.0v1.3h-2.0zM114.0 420.6h2.0v1.3h-2.0zM118.0 420.6h4.0v1.3h-4.0zM138.0 420.6h4.0v1.3h-4.0zM148.0 420.6h2.0v1.3h-2.0zM100.0 421.9h2.0v1.3h-2.0zM120.0 421.9h2.0v1.3h-2.0zM138.0 423.2h4.0v1.3h-4.0zM98.0 424.6h2.0v1.3h-2.0zM110.0 424.6h2.0v1.3h-2.0zM140.0 424.6h6.0v1.3h-6.0zM98.0 425.9h2.0v1.3h-2.0zM110.0 425.9h4.0v1.3h-4.0zM120.0 425.9h2.0v1.3h-2.0zM140.0 425.9h6.0v1.3h-6.0zM114.0 427.2h4.0v1.3h-4.0zM120.0 427.2h2.0v1.3h-2.0zM138.0 427.2h4.0v1.3h-4.0zM98.0 428.5h2.0v1.3h-2.0zM114.0 428.5h4.0v1.3h-4.0zM138.0 428.5h4.0v1.3h-4.0zM90.0 429.8h26.0v1.3h-26.0zM120.0 429.8h2.0v1.3h-2.0zM126.0 429.8h4.0v1.3h-4.0zM134.0 429.8h4.0v1.3h-4.0zM140.0 429.8h10.0v1.3h-10.0zM102.0 431.1h2.0v1.3h-2.0zM90.0 432.5h4.0v1.3h-4.0zM104.0 432.5h2.0v1.3h-2.0zM120.0 432.5h2.0v1.3h-2.0zM90.0 433.8h2.0v1.3h-2.0zM146.0 433.8h4.0v1.3h-4.0zM114.0 435.1h2.0v1.3h-2.0zM122.0 435.1h8.0v1.3h-8.0zM142.0 435.1h6.0v1.3h-6.0zM108.0 436.4h2.0v1.3h-2.0zM114.0 436.4h2.0v1.3h-2.0zM130.0 436.4h4.0v1.3h-4.0zM106.0 437.7h4.0v1.3h-4.0zM128.0 437.7h2.0v1.3h-2.0zM94.0 439.1h4.0v1.3h-4.0zM108.0 439.1h2.0v1.3h-2.0zM112.0 439.1h2.0v1.3h-2.0zM122.0 439.1h4.0v1.3h-4.0zM134.0 439.1h10.0v1.3h-10.0zM146.0 439.1h4.0v1.3h-4.0zM94.0 440.4h24.0v1.3h-24.0zM136.0 440.4h4.0v1.3h-4.0zM142.0 440.4h8.0v1.3h-8.0zM98.0 441.7h4.0v1.3h-4.0zM104.0 441.7h2.0v1.3h-2.0zM108.0 441.7h4.0v1.3h-4.0zM114.0 441.7h4.0v1.3h-4.0zM146.0 441.7h4.0v1.3h-4.0z"/>
<path fill="#b2182b" d="M94.0 364.0h2.0v1.3h-2.0zM90.0 383.8h2.0v1.3h-2.0zM136.0 386.4h2.0v1.3h-2.0zM138.0 390.3h4.0v1.3h-4.0zM98.0 398.2h2.0v1.3h-2.0zM102.0 403.5h4.0v1.3h-4.0zM102.0 404.8h4.0v1.3h-4.0zM100.0 411.4h2.0v1.3h-2.0zM138.0 433.8h2.0v1.3h-2.0zM136.0 435.1h2.0v1.3h-2.0z"/>
<path fill="#fddbc7" d="M98.0 364.0h4.0v1.3h-4.0zM108.0 364.0h6.0v1.3h-6.0zM118.0 364.0h2.0v1.3h-2.0zM122.0 364.0h2.0v1.3h-2.0zM128.0 364.0h6.0v1.3h-6.0zM140.0 364.0h2.0v1.3h-2.0zM146.0 364.0h4.0v1.3h-4.0zM110.0 365.3h4.0v1.3h-4.0zM128.0 365.3h2.0v1.3h-2.0zM100.0 366.6h14.0v1.3h-14.0zM124.0 366.6h6.0v1.3h-6.0zM138.0 366.6h2.0v1.3h-2.0zM148.0 366.6h2.0v1.3h-2.0zM92.0 367.9h2.0v1.3h-2.0zM102.0 367.9h10.0v1.3h-10.0zM114.0 367.9h4.0v1.3h-4.0zM124.0 367.9h10.0v1.3h-10.0zM138.0 367.9h2.0v1.3h-2.0zM138.0 369.3h4.0v1.3h-4.0zM90.0 370.6h8.0v1.3h-8.0zM108.0 370.6h2.0v1.3h-2.0zM114.0 370.6h10.0v1.3h-10.0zM138.0 370.6h4.0v1.3h-4.0zM108.0 371.9h4.0v1.3h-4.0zM126.0 371.9h2.0v1.3h-2.0zM140.0 371.9h2.0v1.3h-2.0zM90.0 373.2h12.0v1.3h-12.0zM104.0 373.2h10.0v1.3h-10.0zM118.0 373.2h4.0v1.3h-4.0zM128.0 373.2h2.0v1.3h-2.0zM146.0 373.2h4.0v1.3h-4.0zM90.0 374.5h24.0v1.3h-24.0zM118.0 374.5h6.0v1.3h-6.0zM146.0 374.5h4.0v1.3h-4.0zM94.0 375.9h6.0v1.3h-6.0zM106.0 375.9h12.0v1.3h-12.0zM122.0 375.9h2.0v1.3h-2.0zM126.0 375.9h2.0v1.3h-2.0zM142.0 375.9h8.0v1.3h-8.0zM94.0 377.2h8.0v1.3h-8.0zM106.0 377.2h12.0v1.3h-12.0zM120.0 377.2h2.0v1.3h-2.0zM128.0 377.2h2.0v1.3h-2.0zM138.0 377.2h6.0v1.3h-6.0zM114.0 378.5h2.0v1.3h-2.0zM96.0 379.8h2.0v1.3h-2.0zM102.0 379.8h4.0v1.3h-4.0zM110.0 379.8h2.0v1.3h-2.0zM114.0 379.8h2.0v1.3h-2.0zM122.0 379.8h4.0v1.3h-4.0zM130.0 379.8h4.0v1.3h-4.0zM140.0 379.8h4.0v1.3h-4.0zM90.0 381.1h6.0v1.3h-6.0zM102.0 381.1h4.0v1.3h-4.0zM108.0 381.1h8.0v1.3h-8.0zM122.0 381.1h4.0v1.3h-4.0zM130.0 381.1h4.0v1.3h-4.0zM140.0 381.1h2.0v1.3h-2.0zM148.0 381.1h2.0v1.3h-2.0zM94.0 382.4h4.0v1.3h-4.0zM102.0 382.4h4.0v1.3h-4.0zM110.0 382.4h4.0v1.3h-4.0zM124.0 382.4h2.0v1.3h-2.0zM130.0 382.4h4.0v1.3h-4.0zM138.0 382.4h2.0v1.3h-2.0zM142.0 382.4h4.0v1.3h-4.0zM148.0 382.4h2.0v1.3h-2.0zM94.0 383.8h2.0v1.3h-2.0zM98.0 383.8h10.0v1.3h-10.0zM110.0 383.8h10.0v1.3h-10.0zM138.0 383.8h4.0v1.3h-4.0zM146.0 383.8h4.0v1.3h-4.0zM92.0 385.1h2.0v1.3h-2.0zM98.0 385.1h10.0v1.3h-10.0zM110.0 385.1h8.0v1.3h-8.0zM122.0 385.1h6.0v1.3h-6.0zM134.0 385.1h2.0v1.3h-2.0zM138.0 385.1h2.0v1.3h-2.0zM146.0 385.1h2.0v1.3h-2.0zM98.0 386.4h6.0v1.3h-6.0zM106.0 386.4h10.0v1.3h-10.0zM120.0 386.4h6.0v1.3h-6.0zM130.0 386.4h2.0v1.3h-2.0zM138.0 386.4h4.0v1.3h-4.0zM146.0 386.4h4.0v1.3h-4.0zM90.0 387.7h4.0v1.3h-4.0zM102.0 387.7h4.0v1.3h-4.0zM122.0 387.7h4.0v1.3h-4.0zM140.0 387.7h2.0v1.3h-2.0zM148.0 387.7h2.0v1.3h-2.0zM92.0 390.3h2.0v1.3h-2.0zM102.0 390.3h4.0v1.3h-4.0zM116.0 390.3h2.0v1.3h-2.0zM122.0 390.3h8.0v1.3h-8.0zM134.0 390.3h2.0v1.3h-2.0zM142.0 390.3h2.0v1.3h-2.0zM98.0 391.6h6.0v1.3h-6.0zM110.0 391.6h2.0v1.3h-2.0zM116.0 391.6h2.0v1.3h-2.0zM124.0 391.6h4.0v1.3h-4.0zM134.0 391.6h8.0v1.3h-8.0zM146.0 391.6h4.0v1.3h-4.0zM98.0 393.0h6.0v1.3h-6.0zM106.0 393.0h4.0v1.3h-4.0zM128.0 393.0h2.0v1.3h-2.0zM134.0 393.0h8.0v1.3h-8.0zM92.0 394.3h2.0v1.3h-2.0zM102.0 394.3h6.0v1.3h-6.0zM110.0 394.3h6.0v1.3h-6.0zM122.0 394.3h4.0v1.3h-4.0zM134.0 394.3h6.0v1.3h-6.0zM144.0 394.3h6.0v1.3h-6.0zM94.0 395.6h4.0v1.3h-4.0zM108.0 395.6h2.0v1.3h-2.0zM114.0 395.6h4.0v1.3h-4.0zM122.0 395.6h4.0v1.3h-4.0zM134.0 395.6h4.0v1.3h-4.0zM142.0 395.6h2.0v1.3h-2.0zM146.0 395.6h2.0v1.3h-2.0zM90.0 396.9h8.0v1.3h-8.0zM110.0 396.9h6.0v1.3h-6.0zM122.0 396.9h2.0v1.3h-2.0zM134.0 396.9h4.0v1.3h-4.0zM146.0 396.9h2.0v1.3h-2.0zM90.0 398.2h4.0v1.3h-4.0zM102.0 398.2h8.0v1.3h-8.0zM114.0 398.2h4.0v1.3h-4.0zM130.0 398.2h4.0v1.3h-4.0zM136.0 398.2h2.0v1.3h-2.0zM146.0 398.2h4.0v1.3h-4.0zM94.0 399.6h4.0v1.3h-4.0zM104.0 399.6h18.0v1.3h-18.0zM130.0 399.6h4.0v1.3h-4.0zM136.0 399.6h6.0v1.3h-6.0zM146.0 399.6h2.0v1.3h-2.0zM90.0 400.9h8.0v1.3h-8.0zM104.0 400.9h6.0v1.3h-6.0zM112.0 400.9h10.0v1.3h-10.0zM134.0 400.9h6.0v1.3h-6.0zM146.0 400.9h4.0v1.3h-4.0zM94.0 402.2h8.0v1.3h-8.0zM106.0 402.2h8.0v1.3h-8.0zM116.0 402.2h4.0v1.3h-4.0zM134.0 402.2h6.0v1.3h-6.0zM146.0 402.2h4.0v1.3h-4.0zM98.0 403.5h4.0v1.3h-4.0zM106.0 403.5h2.0v1.3h-2.0zM114.0 403.5h8.0v1.3h-8.0zM130.0 403.5h2.0v1.3h-2.0zM134.0 403.5h6.0v1.3h-6.0zM146.0 403.5h4.0v1.3h-4.0zM90.0 404.8h10.0v1.3h-10.0zM106.0 404.8h6.0v1.3h-6.0zM116.0 404.8h6.0v1.3h-6.0zM134.0 404.8h4.0v1.3h-4.0zM92.0 406.1h6.0v1.3h-6.0zM100.0 406.1h2.0v1.3h-2.0zM106.0 406.1h8.0v1.3h-8.0zM116.0 406.1h2.0v1.3h-2.0zM120.0 406.1h2.0v1.3h-2.0zM130.0 406.1h10.0v1.3h-10.0zM144.0 406.1h6.0v1.3h-6.0zM94.0 407.4h10.0v1.3h-10.0zM112.0 407.4h2.0v1.3h-2.0zM116.0 407.4h2.0v1.3h-2.0zM90.0 408.8h6.0v1.3h-6.0zM102.0 408.8h4.0v1.3h-4.0zM118.0 408.8h4.0v1.3h-4.0zM90.0 410.1h4.0v1.3h-4.0zM96.0 410.1h8.0v1.3h-8.0zM106.0 410.1h8.0v1.3h-8.0zM120.0 410.1h2.0v1.3h-2.0zM102.0 411.4h8.0v1.3h-8.0zM114.0 411.4h8.0v1.3h-8.0zM132.0 411.4h2.0v1.3h-2.0zM138.0 411.4h12.0v1.3h-12.0zM96.0 412.7h2.0v1.3h-2.0zM102.0 412.7h4.0v1.3h-4.0zM110.0 412.7h2.0v1.3h-2.0zM118.0 412.7h6.0v1.3h-6.0zM130.0 412.7h4.0v1.3h-4.0zM142.0 412.7h8.0v1.3h-8.0zM90.0 414.0h4.0v1.3h-4.0zM102.0 414.0h8.0v1.3h-8.0zM112.0 414.0h2.0v1.3h-2.0zM118.0 414.0h8.0v1.3h-8.0zM130.0 414.0h6.0v1.3h-6.0zM140.0 414.0h2.0v1.3h-2.0zM144.0 414.0h4.0v1.3h-4.0zM90.0 415.4h4.0v1.3h-4.0zM96.0 415.4h4.0v1.3h-4.0zM108.0 415.4h2.0v1.3h-2.0zM132.0 415.4h2.0v1.3h-2.0zM136.0 415.4h6.0v1.3h-6.0zM146.0 415.4h2.0v1.3h-2.0zM94.0 416.7h2.0v1.3h-2.0zM98.0 416.7h8.0v1.3h-8.0zM108.0 416.7h4.0v1.3h-4.0zM130.0 416.7h10.0v1.3h-10.0zM142.0 416.7h2.0v1.3h-2.0zM146.0 416.7h2.0v1.3h-2.0zM136.0 418.0h2.0v1.3h-2.0zM90.0 419.3h8.0v1.3h-8.0zM116.0 419.3h2.0v1.3h-2.0zM140.0 419.3h2.0v1.3h-2.0zM146.0 419.3h4.0v1.3h-4.0zM92.0 420.6h6.0v1.3h-6.0zM102.0 420.6h8.0v1.3h-8.0zM90.0 421.9h8.0v1.3h-8.0zM112.0 421.9h2.0v1.3h-2.0zM142.0 421.9h8.0v1.3h-8.0zM92.0 423.2h2.0v1.3h-2.0zM98.0 423.2h4.0v1.3h-4.0zM114.0 423.2h4.0v1.3h-4.0zM142.0 423.2h4.0v1.3h-4.0zM90.0 424.6h4.0v1.3h-4.0zM100.0 424.6h2.0v1.3h-2.0zM112.0 424.6h2.0v1.3h-2.0zM138.0 424.6h2.0v1.3h-2.0zM148.0 424.6h2.0v1.3h-2.0zM90.0 425.9h4.0v1.3h-4.0zM100.0 425.9h2.0v1.3h-2.0zM104.0 425.9h4.0v1.3h-4.0zM116.0 425.9h2.0v1.3h-2.0zM146.0 425.9h2.0v1.3h-2.0zM98.0 427.2h8.0v1.3h-8.0zM110.0 427.2h4.0v1.3h-4.0zM136.0 427.2h2.0v1.3h-2.0zM142.0 427.2h8.0v1.3h-8.0zM90.0 428.5h2.0v1.3h-2.0zM100.0 428.5h10.0v1.3h-10.0zM112.0 428.5h2.0v1.3h-2.0zM118.0 428.5h4.0v1.3h-4.0zM142.0 428.5h6.0v1.3h-6.0zM116.0 429.8h2.0v1.3h-2.0zM90.0 431.1h4.0v1.3h-4.0zM100.0 431.1h2.0v1.3h-2.0zM104.0 431.1h6.0v1.3h-6.0zM114.0 431.1h4.0v1.3h-4.0zM142.0 431.1h8.0v1.3h-8.0zM98.0 432.5h6.0v1.3h-6.0zM106.0 432.5h4.0v1.3h-4.0zM114.0 432.5h4.0v1.3h-4.0zM142.0 432.5h4.0v1.3h-4.0zM148.0 432.5h2.0v1.3h-2.0zM94.0 433.8h2.0v1.3h-2.0zM102.0 433.8h8.0v1.3h-8.0zM116.0 433.8h6.0v1.3h-6.0zM98.0 435.1h2.0v1.3h-2.0zM102.0 435.1h8.0v1.3h-8.0zM130.0 435.1h2.0v1.3h-2.0zM148.0 435.1h2.0v1.3h-2.0zM90.0 436.4h2.0v1.3h-2.0zM96.0 436.4h6.0v1.3h-6.0zM106.0 436.4h2.0v1.3h-2.0zM142.0 436.4h8.0v1.3h-8.0zM94.0 437.7h12.0v1.3h-12.0zM120.0 437.7h2.0v1.3h-2.0zM130.0 437.7h4.0v1.3h-4.0zM138.0 437.7h12.0v1.3h-12.0zM90.0 439.1h4.0v1.3h-4.0zM98.0 439.1h6.0v1.3h-6.0zM110.0 439.1h2.0v1.3h-2.0zM130.0 439.1h2.0v1.3h-2.0zM144.0 439.1h2.0v1.3h-2.0zM90.0 440.4h4.0v1.3h-4.0zM134.0 440.4h2.0v1.3h-2.0zM140.0 440.4h2.0v1.3h-2.0zM90.0 441.7h4.0v1.3h-4.0zM136.0 441.7h6.0v1.3h-6.0z"/>
<path fill="#ffffff" d="M114.0 364.0h4.0v1.3h-4.0zM114.0 366.6h4.0v1.3h-4.0zM90.0 379.8h4.0v1.3h-4.0zM98.0 379.8h2.0v1.3h-2.0zM98.0 381.1h2.0v1.3h-2.0zM126.0 404.8h2.0v1.3h-2.0zM142.0 441.7h4.0v1.3h-4.0z"/>
<path fill="#f4a582" d="M124.0 364.0h4.0v1.3h-4.0zM124.0 365.3h2.0v1.3h-2.0zM140.0 366.6h2.0v1.3h-2.0zM146.0 366.6h2.0v1.3h-2.0zM94.0 367.9h2.0v1.3h-2.0zM118.0 367.9h6.0v1.3h-6.0zM124.0 369.3h2.0v1.3h-2.0zM102.0 370.6h6.0v1.3h-6.0zM124.0 370.6h2.0v1.3h-2.0zM142.0 370.6h4.0v1.3h-4.0zM126.0 373.2h2.0v1.3h-2.0zM124.0 374.5h2.0v1.3h-2.0zM100.0 375.9h2.0v1.3h-2.0zM124.0 375.9h2.0v1.3h-2.0zM138.0 375.9h4.0v1.3h-4.0zM122.0 377.2h2.0v1.3h-2.0zM120.0 378.5h4.0v1.3h-4.0zM118.0 381.1h4.0v1.3h-4.0zM96.0 383.8h2.0v1.3h-2.0zM142.0 383.8h4.0v1.3h-4.0zM118.0 385.1h2.0v1.3h-2.0zM136.0 385.1h2.0v1.3h-2.0zM90.0 386.4h4.0v1.3h-4.0zM134.0 386.4h2.0v1.3h-2.0zM98.0 387.7h4.0v1.3h-4.0zM106.0 387.7h4.0v1.3h-4.0zM138.0 387.7h2.0v1.3h-2.0zM146.0 387.7h2.0v1.3h-2.0zM90.0 389.0h2.0v1.3h-2.0zM136.0 389.0h4.0v1.3h-4.0zM90.0 390.3h2.0v1.3h-2.0zM94.0 390.3h8.0v1.3h-8.0zM106.0 390.3h4.0v1.3h-4.0zM114.0 390.3h2.0v1.3h-2.0zM136.0 390.3h2.0v1.3h-2.0zM146.0 390.3h4.0v1.3h-4.0zM90.0 391.6h6.0v1.3h-6.0zM114.0 391.6h2.0v1.3h-2.0zM142.0 391.6h4.0v1.3h-4.0zM90.0 393.0h6.0v1.3h-6.0zM148.0 393.0h2.0v1.3h-2.0zM90.0 394.3h2.0v1.3h-2.0zM94.0 394.3h2.0v1.3h-2.0zM108.0 394.3h2.0v1.3h-2.0zM116.0 394.3h2.0v1.3h-2.0zM142.0 394.3h2.0v1.3h-2.0zM98.0 395.6h8.0v1.3h-8.0zM118.0 395.6h2.0v1.3h-2.0zM138.0 395.6h4.0v1.3h-4.0zM98.0 396.9h4.0v1.3h-4.0zM118.0 396.9h4.0v1.3h-4.0zM138.0 396.9h4.0v1.3h-4.0zM94.0 398.2h4.0v1.3h-4.0zM112.0 398.2h2.0v1.3h-2.0zM118.0 398.2h8.0v1.3h-8.0zM138.0 398.2h4.0v1.3h-4.0zM90.0 399.6h2.0v1.3h-2.0zM142.0 399.6h2.0v1.3h-2.0zM98.0 400.9h6.0v1.3h-6.0zM142.0 400.9h2.0v1.3h-2.0zM90.0 402.2h2.0v1.3h-2.0zM102.0 402.2h4.0v1.3h-4.0zM142.0 402.2h4.0v1.3h-4.0zM90.0 403.5h2.0v1.3h-2.0zM94.0 403.5h4.0v1.3h-4.0zM108.0 403.5h2.0v1.3h-2.0zM114.0 404.8h2.0v1.3h-2.0zM122.0 404.8h2.0v1.3h-2.0zM138.0 404.8h4.0v1.3h-4.0zM90.0 406.1h2.0v1.3h-2.0zM104.0 406.1h2.0v1.3h-2.0zM114.0 406.1h2.0v1.3h-2.0zM118.0 406.1h2.0v1.3h-2.0zM140.0 406.1h2.0v1.3h-2.0zM90.0 407.4h4.0v1.3h-4.0zM106.0 407.4h4.0v1.3h-4.0zM114.0 407.4h2.0v1.3h-2.0zM98.0 408.8h4.0v1.3h-4.0zM106.0 408.8h4.0v1.3h-4.0zM112.0 408.8h6.0v1.3h-6.0zM94.0 410.1h2.0v1.3h-2.0zM114.0 410.1h4.0v1.3h-4.0zM90.0 411.4h6.0v1.3h-6.0zM110.0 411.4h4.0v1.3h-4.0zM90.0 412.7h2.0v1.3h-2.0zM98.0 412.7h4.0v1.3h-4.0zM112.0 412.7h6.0v1.3h-6.0zM110.0 414.0h2.0v1.3h-2.0zM138.0 414.0h2.0v1.3h-2.0zM94.0 415.4h2.0v1.3h-2.0zM100.0 415.4h6.0v1.3h-6.0zM114.0 415.4h4.0v1.3h-4.0zM142.0 415.4h2.0v1.3h-2.0zM96.0 416.7h2.0v1.3h-2.0zM114.0 416.7h4.0v1.3h-4.0zM144.0 416.7h2.0v1.3h-2.0zM96.0 418.0h2.0v1.3h-2.0zM112.0 418.0h2.0v1.3h-2.0zM98.0 419.3h4.0v1.3h-4.0zM106.0 419.3h8.0v1.3h-8.0zM98.0 420.6h4.0v1.3h-4.0zM110.0 420.6h4.0v1.3h-4.0zM98.0 421.9h2.0v1.3h-2.0zM102.0 421.9h10.0v1.3h-10.0zM138.0 421.9h4.0v1.3h-4.0zM110.0 423.2h4.0v1.3h-4.0zM118.0 423.2h2.0v1.3h-2.0zM146.0 423.2h4.0v1.3h-4.0zM94.0 424.6h4.0v1.3h-4.0zM102.0 424.6h8.0v1.3h-8.0zM114.0 424.6h4.0v1.3h-4.0zM146.0 424.6h2.0v1.3h-2.0zM94.0 425.9h4.0v1.3h-4.0zM102.0 425.9h2.0v1.3h-2.0zM108.0 425.9h2.0v1.3h-2.0zM114.0 425.9h2.0v1.3h-2.0zM148.0 425.9h2.0v1.3h-2.0zM96.0 427.2h2.0v1.3h-2.0zM106.0 427.2h4.0v1.3h-4.0zM110.0 428.5h2.0v1.3h-2.0zM136.0 428.5h2.0v1.3h-2.0zM148.0 428.5h2.0v1.3h-2.0zM94.0 431.1h6.0v1.3h-6.0zM110.0 431.1h4.0v1.3h-4.0zM94.0 432.5h4.0v1.3h-4.0zM110.0 432.5h4.0v1.3h-4.0zM138.0 432.5h2.0v1.3h-2.0zM92.0 433.8h2.0v1.3h-2.0zM96.0 433.8h4.0v1.3h-4.0zM110.0 433.8h4.0v1.3h-4.0zM140.0 433.8h2.0v1.3h-2.0zM90.0 435.1h8.0v1.3h-8.0zM110.0 435.1h4.0v1.3h-4.0zM118.0 435.1h4.0v1.3h-4.0zM138.0 435.1h2.0v1.3h-2.0zM92.0 436.4h4.0v1.3h-4.0zM102.0 436.4h4.0v1.3h-4.0zM122.0 436.4h2.0v1.3h-2.0zM134.0 436.4h8.0v1.3h-8.0zM90.0 437.7h4.0v1.3h-4.0zM110.0 437.7h2.0v1.3h-2.0zM124.0 437.7h4.0v1.3h-4.0zM136.0 437.7h2.0v1.3h-2.0zM122.0 440.4h4.0v1.3h-4.0z"/>
<path fill="#92c5de" d="M134.0 364.0h4.0v1.3h-4.0zM134.0 365.3h2.0v1.3h-2.0zM134.0 366.6h4.0v1.3h-4.0zM98.0 367.9h4.0v1.3h-4.0zM98.0 369.3h4.0v1.3h-4.0zM134.0 371.9h2.0v1.3h-2.0zM102.0 375.9h4.0v1.3h-4.0zM126.0 382.4h4.0v1.3h-4.0zM134.0 382.4h2.0v1.3h-2.0zM110.0 387.7h2.0v1.3h-2.0zM118.0 387.7h4.0v1.3h-4.0zM130.0 387.7h4.0v1.3h-4.0zM118.0 389.0h4.0v1.3h-4.0zM110.0 390.3h4.0v1.3h-4.0zM118.0 390.3h2.0v1.3h-2.0zM130.0 390.3h4.0v1.3h-4.0zM118.0 391.6h2.0v1.3h-2.0zM130.0 391.6h4.0v1.3h-4.0zM120.0 393.0h2.0v1.3h-2.0zM130.0 393.0h4.0v1.3h-4.0zM118.0 394.3h4.0v1.3h-4.0zM130.0 394.3h4.0v1.3h-4.0zM128.0 398.2h2.0v1.3h-2.0zM126.0 399.6h4.0v1.3h-4.0zM128.0 407.4h2.0v1.3h-2.0zM136.0 407.4h14.0v1.3h-14.0zM124.0 408.8h6.0v1.3h-6.0zM134.0 408.8h4.0v1.3h-4.0zM140.0 408.8h4.0v1.3h-4.0zM146.0 408.8h4.0v1.3h-4.0zM128.0 410.1h22.0v1.3h-22.0zM124.0 415.4h2.0v1.3h-2.0zM136.0 419.3h2.0v1.3h-2.0zM124.0 420.6h2.0v1.3h-2.0zM122.0 423.2h12.0v1.3h-12.0zM122.0 424.6h16.0v1.3h-16.0zM122.0 425.9h12.0v1.3h-12.0zM122.0 427.2h4.0v1.3h-4.0zM130.0 427.2h4.0v1.3h-4.0zM122.0 428.5h12.0v1.3h-12.0zM122.0 429.8h2.0v1.3h-2.0zM130.0 429.8h4.0v1.3h-4.0zM122.0 431.1h12.0v1.3h-12.0zM130.0 432.5h6.0v1.3h-6.0zM122.0 433.8h2.0v1.3h-2.0zM126.0 433.8h10.0v1.3h-10.0z"/>
<path fill="#67001f" d="M94.0 365.3h2.0v1.3h-2.0zM102.0 377.2h4.0v1.3h-4.0zM128.0 441.7h2.0v1.3h-2.0z"/>
<path fill="#4393c3" d="M136.0 365.3h2.0v1.3h-2.0zM136.0 367.9h2.0v1.3h-2.0zM134.0 375.9h4.0v1.3h-4.0zM134.0 377.2h4.0v1.3h-4.0zM134.0 378.5h2.0v1.3h-2.0zM134.0 379.8h4.0v1.3h-4.0zM134.0 381.1h4.0v1.3h-4.0zM136.0 382.4h2.0v1.3h-2.0zM110.0 389.0h2.0v1.3h-2.0zM130.0 389.0h4.0v1.3h-4.0zM120.0 390.3h2.0v1.3h-2.0zM120.0 391.6h2.0v1.3h-2.0zM126.0 396.9h2.0v1.3h-2.0zM122.0 407.4h6.0v1.3h-6.0zM134.0 407.4h2.0v1.3h-2.0zM122.0 408.8h2.0v1.3h-2.0zM122.0 410.1h4.0v1.3h-4.0zM122.0 416.7h4.0v1.3h-4.0zM126.0 419.3h8.0v1.3h-8.0zM122.0 420.6h2.0v1.3h-2.0zM126.0 420.6h8.0v1.3h-8.0zM126.0 421.9h10.0v1.3h-10.0zM134.0 425.9h4.0v1.3h-4.0zM126.0 427.2h4.0v1.3h-4.0zM134.0 431.1h4.0v1.3h-4.0z"/>
<path fill="#053061" d="M134.0 367.9h2.0v1.3h-2.0z"/>
<path fill="#2166ac" d="M134.0 370.6h4.0v1.3h-4.0zM114.0 371.9h4.0v1.3h-4.0zM116.0 373.2h2.0v1.3h-2.0zM134.0 373.2h4.0v1.3h-4.0zM134.0 374.5h4.0v1.3h-4.0zM126.0 402.2h4.0v1.3h-4.0zM134.0 419.3h2.0v1.3h-2.0zM134.0 420.6h4.0v1.3h-4.0zM122.0 421.9h2.0v1.3h-2.0zM136.0 421.9h2.0v1.3h-2.0z"/>
<path fill="#d6604d" d="M122.0 373.2h4.0v1.3h-4.0zM92.0 383.8h2.0v1.3h-2.0zM134.0 383.8h4.0v1.3h-4.0zM90.0 385.1h2.0v1.3h-2.0zM94.0 385.1h4.0v1.3h-4.0zM142.0 385.1h4.0v1.3h-4.0zM94.0 386.4h4.0v1.3h-4.0zM142.0 386.4h4.0v1.3h-4.0zM94.0 387.7h4.0v1.3h-4.0zM96.0 389.0h2.0v1.3h-2.0zM96.0 391.6h2.0v1.3h-2.0zM96.0 393.0h2.0v1.3h-2.0zM142.0 393.0h4.0v1.3h-4.0zM96.0 394.3h2.0v1.3h-2.0zM140.0 394.3h2.0v1.3h-2.0zM110.0 395.6h4.0v1.3h-4.0zM120.0 395.6h2.0v1.3h-2.0zM104.0 396.9h2.0v1.3h-2.0zM100.0 398.2h2.0v1.3h-2.0zM92.0 399.6h2.0v1.3h-2.0zM98.0 399.6h2.0v1.3h-2.0zM144.0 399.6h2.0v1.3h-2.0zM102.0 406.1h2.0v1.3h-2.0zM110.0 407.4h2.0v1.3h-2.0zM110.0 408.8h2.0v1.3h-2.0zM96.0 411.4h4.0v1.3h-4.0zM92.0 412.7h4.0v1.3h-4.0zM94.0 414.0h8.0v1.3h-8.0zM114.0 414.0h4.0v1.3h-4.0zM106.0 415.4h2.0v1.3h-2.0zM144.0 415.4h2.0v1.3h-2.0zM106.0 416.7h2.0v1.3h-2.0zM94.0 423.2h4.0v1.3h-4.0zM102.0 423.2h8.0v1.3h-8.0zM90.0 427.2h6.0v1.3h-6.0zM92.0 428.5h6.0v1.3h-6.0zM138.0 431.1h4.0v1.3h-4.0zM140.0 432.5h2.0v1.3h-2.0zM100.0 433.8h2.0v1.3h-2.0zM100.0 435.1h2.0v1.3h-2.0zM134.0 435.1h2.0v1.3h-2.0zM134.0 437.7h2.0v1.3h-2.0z"/>
<path d="M85.3 366.0h5M85.3 377.6h5M85.3 391.6h5M85.3 399.2h5" stroke="#e2cce2" stroke-width="0.9" fill="none"/>
<path d="M85.3 369.2h5M85.3 382.0h5M85.3 385.2h5M85.3 411.2h5" stroke="#d2e6cc" stroke-width="0.9" fill="none"/>
<path d="M85.3 373.6h5M85.3 407.2h5M85.3 422.8h5M85.3 426.8h5M85.3 441.6h5" stroke="#ece0b8" stroke-width="0.9" fill="none"/>
<path d="M85.3 388.4h5M85.3 414.8h5M85.3 437.6h5" stroke="#f0d2c4" stroke-width="0.9" fill="none"/>
<path d="M85.3 396.0h5M85.3 418.8h5" stroke="#cfcfd8" stroke-width="0.9" fill="none"/>
<path d="M85.3 403.6h5M85.3 430.4h5M85.3 433.6h5" stroke="#c8e0e8" stroke-width="0.9" fill="none"/>
<path d="M200.8 349.7V346.3H227.2V349.7" fill="none" stroke="#a8a8a8" stroke-width="0.55"/>
<rect x="179" y="357.5" width="60.0" height="7.5" fill="#e0e0e0"/>
<path d="M231.9 364.7V361.7H233.5V364.7M181.4 364.7V360.6H182.9V364.7M228.7 364.7V359.8H230.3V364.7M198.7 364.7V359.1H200.3V364.7M229.5 359.8V358.5H232.7V361.7M179.8 364.7V358.0H182.2V360.6M235.1 364.7V357.5H236.6V364.7M195.6 364.7V357.1H197.2V364.7M217.7 364.7V356.7H219.3V364.7M212.9 364.7V356.3H214.5V364.7M181.0 358.0V355.9H184.5V364.7M224.0 364.7V355.5H225.6V364.7M203.5 364.7V355.2H205.1V364.7M209.8 364.7V354.9H211.4V364.7M196.4 357.1V354.6H199.5V359.1M201.9 364.7V354.3H204.3V355.2M222.4 364.7V354.0H224.8V355.5M210.6 354.9V353.7H213.7V356.3M223.6 354.0V353.4H227.2V364.7M235.8 357.5V353.2H238.2V364.7M192.4 364.7V352.9H194.0V364.7M193.2 352.9V352.7H197.9V354.6M218.5 356.7V352.4H220.8V364.7M195.6 352.7V352.2H203.1V354.3M199.3 352.2V352.0H206.6V364.7M219.7 352.4V351.7H225.4V353.4M189.3 364.7V351.5H190.8V364.7M231.1 358.5V351.3H237.0V353.2M222.5 351.7V351.1H234.1V351.3M203.0 352.0V350.9H208.2V364.7M190.1 351.5V350.7H205.6V350.9M212.2 353.7V350.5H216.1V364.7M197.8 350.7V350.3H214.1V350.5M187.7 364.7V350.1H206.0V350.3M186.1 364.7V349.9H196.8V350.1M191.5 349.9V349.7H228.3V351.1M182.8 355.9V349.5H209.9V349.7" fill="none" stroke="#c8c8c8" stroke-width="0.7"/>
<path d="M239.5 423.5H243.5V426.1H239.5M239.5 410.5H244.6V413.1H239.5M239.5 433.9H245.4V436.5H239.5M239.5 374.1H246.0V376.7H239.5M239.5 397.5H246.5V400.1H239.5M245.4 435.2H247.0V439.1H239.5M247.0 437.1H247.4V441.7H239.5M239.5 371.5H247.8V375.4H246.0M239.5 389.7H248.1V392.3H239.5M239.5 431.3H248.5V439.4H247.4M243.5 424.8H248.8V428.7H239.5M239.5 384.5H249.0V387.1H239.5M246.5 398.8H249.3V402.7H239.5M249.3 400.8H249.6V405.3H239.5M239.5 415.7H249.8V418.3H239.5M249.0 385.8H250.1V391.0H248.1M239.5 420.9H250.3V426.8H248.8M247.8 373.4H250.5V379.3H239.5M250.3 423.8H250.7V435.4H248.5M239.5 366.3H250.9V368.9H239.5M239.5 381.9H251.1V388.4H250.1M239.5 394.9H251.3V403.0H249.6M239.5 407.9H251.5V411.8H244.6M251.5 409.9H251.7V417.0H249.8M251.7 413.4H251.8V429.6H250.7M250.5 376.4H252.0V385.1H251.1M251.3 399.0H252.2V421.5H251.8M252.0 380.8H252.3V410.2H252.2M250.9 367.6H252.5V395.5H252.3" fill="none" stroke="#bfbfbf" stroke-width="0.75"/>
<rect x="179" y="365" width="60.00" height="78.00" fill="#d1e5f0"/>
<path fill="#f7f7f7" d="M179.0 365.0h2.0v1.3h-2.0zM187.0 365.0h4.0v1.3h-4.0zM193.0 365.0h2.0v1.3h-2.0zM199.0 365.0h8.0v1.3h-8.0zM235.0 365.0h4.0v1.3h-4.0zM179.0 366.3h2.0v1.3h-2.0zM187.0 366.3h4.0v1.3h-4.0zM193.0 366.3h2.0v1.3h-2.0zM201.0 366.3h4.0v1.3h-4.0zM207.0 366.3h2.0v1.3h-2.0zM231.0 366.3h2.0v1.3h-2.0zM237.0 366.3h2.0v1.3h-2.0zM179.0 367.6h2.0v1.3h-2.0zM187.0 367.6h2.0v1.3h-2.0zM201.0 367.6h2.0v1.3h-2.0zM179.0 368.9h2.0v1.3h-2.0zM223.0 368.9h4.0v1.3h-4.0zM183.0 370.2h4.0v1.3h-4.0zM197.0 370.2h2.0v1.3h-2.0zM205.0 370.2h2.0v1.3h-2.0zM219.0 370.2h8.0v1.3h-8.0zM183.0 371.5h2.0v1.3h-2.0zM209.0 371.5h2.0v1.3h-2.0zM219.0 374.1h4.0v1.3h-4.0zM191.0 375.4h2.0v1.3h-2.0zM219.0 375.4h4.0v1.3h-4.0zM189.0 376.7h2.0v1.3h-2.0zM199.0 376.7h2.0v1.3h-2.0zM205.0 376.7h2.0v1.3h-2.0zM213.0 376.7h2.0v1.3h-2.0zM193.0 378.0h2.0v1.3h-2.0zM199.0 378.0h4.0v1.3h-4.0zM211.0 378.0h4.0v1.3h-4.0zM235.0 378.0h2.0v1.3h-2.0zM193.0 379.3h2.0v1.3h-2.0zM205.0 379.3h4.0v1.3h-4.0zM211.0 379.3h4.0v1.3h-4.0zM219.0 380.6h4.0v1.3h-4.0zM199.0 381.9h4.0v1.3h-4.0zM179.0 383.2h12.0v1.3h-12.0zM193.0 383.2h22.0v1.3h-22.0zM221.0 383.2h6.0v1.3h-6.0zM233.0 383.2h6.0v1.3h-6.0zM187.0 384.5h2.0v1.3h-2.0zM191.0 384.5h10.0v1.3h-10.0zM227.0 384.5h4.0v1.3h-4.0zM181.0 385.8h4.0v1.3h-4.0zM191.0 385.8h12.0v1.3h-12.0zM183.0 387.1h2.0v1.3h-2.0zM203.0 387.1h2.0v1.3h-2.0zM221.0 387.1h2.0v1.3h-2.0zM227.0 387.1h2.0v1.3h-2.0zM181.0 388.4h2.0v1.3h-2.0zM185.0 388.4h2.0v1.3h-2.0zM189.0 388.4h8.0v1.3h-8.0zM199.0 388.4h4.0v1.3h-4.0zM205.0 388.4h2.0v1.3h-2.0zM227.0 388.4h4.0v1.3h-4.0zM235.0 388.4h4.0v1.3h-4.0zM235.0 389.7h2.0v1.3h-2.0zM209.0 392.3h2.0v1.3h-2.0zM185.0 394.9h2.0v1.3h-2.0zM199.0 394.9h2.0v1.3h-2.0zM235.0 394.9h4.0v1.3h-4.0zM221.0 396.2h4.0v1.3h-4.0zM227.0 396.2h6.0v1.3h-6.0zM235.0 396.2h2.0v1.3h-2.0zM197.0 397.5h2.0v1.3h-2.0zM221.0 397.5h2.0v1.3h-2.0zM193.0 398.8h2.0v1.3h-2.0zM199.0 398.8h4.0v1.3h-4.0zM207.0 398.8h2.0v1.3h-2.0zM211.0 398.8h2.0v1.3h-2.0zM231.0 398.8h8.0v1.3h-8.0zM181.0 400.1h4.0v1.3h-4.0zM203.0 400.1h2.0v1.3h-2.0zM231.0 400.1h2.0v1.3h-2.0zM183.0 401.4h4.0v1.3h-4.0zM197.0 401.4h2.0v1.3h-2.0zM231.0 401.4h2.0v1.3h-2.0zM179.0 402.7h2.0v1.3h-2.0zM183.0 404.0h2.0v1.3h-2.0zM191.0 404.0h2.0v1.3h-2.0zM195.0 404.0h10.0v1.3h-10.0zM207.0 404.0h8.0v1.3h-8.0zM217.0 404.0h2.0v1.3h-2.0zM221.0 404.0h6.0v1.3h-6.0zM231.0 404.0h2.0v1.3h-2.0zM235.0 404.0h4.0v1.3h-4.0zM179.0 405.3h4.0v1.3h-4.0zM185.0 405.3h2.0v1.3h-2.0zM193.0 405.3h2.0v1.3h-2.0zM197.0 405.3h12.0v1.3h-12.0zM211.0 405.3h8.0v1.3h-8.0zM221.0 405.3h6.0v1.3h-6.0zM231.0 405.3h6.0v1.3h-6.0zM181.0 406.6h6.0v1.3h-6.0zM191.0 406.6h4.0v1.3h-4.0zM191.0 407.9h2.0v1.3h-2.0zM199.0 407.9h12.0v1.3h-12.0zM227.0 407.9h4.0v1.3h-4.0zM183.0 409.2h4.0v1.3h-4.0zM199.0 409.2h2.0v1.3h-2.0zM207.0 409.2h2.0v1.3h-2.0zM197.0 410.5h8.0v1.3h-8.0zM209.0 410.5h2.0v1.3h-2.0zM227.0 410.5h2.0v1.3h-2.0zM203.0 411.8h2.0v1.3h-2.0zM205.0 413.1h2.0v1.3h-2.0zM179.0 414.4h6.0v1.3h-6.0zM189.0 415.7h2.0v1.3h-2.0zM231.0 415.7h2.0v1.3h-2.0zM199.0 417.0h6.0v1.3h-6.0zM231.0 417.0h4.0v1.3h-4.0zM209.0 418.3h4.0v1.3h-4.0zM199.0 419.6h4.0v1.3h-4.0zM209.0 419.6h4.0v1.3h-4.0zM215.0 419.6h2.0v1.3h-2.0zM227.0 419.6h2.0v1.3h-2.0zM231.0 419.6h2.0v1.3h-2.0zM237.0 419.6h2.0v1.3h-2.0zM183.0 420.9h2.0v1.3h-2.0zM187.0 420.9h4.0v1.3h-4.0zM215.0 420.9h4.0v1.3h-4.0zM237.0 420.9h2.0v1.3h-2.0zM185.0 422.2h2.0v1.3h-2.0zM193.0 422.2h2.0v1.3h-2.0zM213.0 422.2h2.0v1.3h-2.0zM227.0 422.2h2.0v1.3h-2.0zM181.0 423.5h2.0v1.3h-2.0zM195.0 423.5h2.0v1.3h-2.0zM199.0 423.5h2.0v1.3h-2.0zM229.0 423.5h4.0v1.3h-4.0zM199.0 424.8h2.0v1.3h-2.0zM231.0 424.8h2.0v1.3h-2.0zM223.0 426.1h10.0v1.3h-10.0zM179.0 427.4h4.0v1.3h-4.0zM207.0 427.4h4.0v1.3h-4.0zM227.0 427.4h2.0v1.3h-2.0zM233.0 427.4h6.0v1.3h-6.0zM187.0 428.7h6.0v1.3h-6.0zM209.0 430.0h2.0v1.3h-2.0zM231.0 430.0h2.0v1.3h-2.0zM193.0 431.3h6.0v1.3h-6.0zM235.0 433.9h2.0v1.3h-2.0zM191.0 435.2h2.0v1.3h-2.0zM191.0 436.5h4.0v1.3h-4.0zM229.0 436.5h4.0v1.3h-4.0zM189.0 437.8h2.0v1.3h-2.0zM197.0 437.8h2.0v1.3h-2.0zM225.0 437.8h2.0v1.3h-2.0zM229.0 437.8h4.0v1.3h-4.0zM187.0 439.1h4.0v1.3h-4.0zM197.0 439.1h2.0v1.3h-2.0zM203.0 439.1h2.0v1.3h-2.0zM235.0 439.1h4.0v1.3h-4.0zM183.0 440.4h8.0v1.3h-8.0zM195.0 440.4h4.0v1.3h-4.0zM203.0 440.4h4.0v1.3h-4.0zM215.0 440.4h2.0v1.3h-2.0zM223.0 440.4h2.0v1.3h-2.0zM237.0 440.4h2.0v1.3h-2.0zM195.0 441.7h4.0v1.3h-4.0zM203.0 441.7h4.0v1.3h-4.0zM237.0 441.7h2.0v1.3h-2.0z"/>
<path fill="#fddbc7" d="M181.0 365.0h2.0v1.3h-2.0zM191.0 365.0h2.0v1.3h-2.0zM207.0 365.0h2.0v1.3h-2.0zM213.0 365.0h6.0v1.3h-6.0zM223.0 365.0h4.0v1.3h-4.0zM233.0 365.0h2.0v1.3h-2.0zM181.0 366.3h2.0v1.3h-2.0zM191.0 366.3h2.0v1.3h-2.0zM199.0 366.3h2.0v1.3h-2.0zM205.0 366.3h2.0v1.3h-2.0zM215.0 366.3h4.0v1.3h-4.0zM223.0 366.3h4.0v1.3h-4.0zM233.0 366.3h4.0v1.3h-4.0zM181.0 367.6h2.0v1.3h-2.0zM189.0 367.6h2.0v1.3h-2.0zM199.0 367.6h2.0v1.3h-2.0zM203.0 367.6h6.0v1.3h-6.0zM213.0 367.6h6.0v1.3h-6.0zM223.0 367.6h4.0v1.3h-4.0zM231.0 367.6h8.0v1.3h-8.0zM181.0 368.9h8.0v1.3h-8.0zM193.0 368.9h6.0v1.3h-6.0zM201.0 368.9h10.0v1.3h-10.0zM235.0 368.9h4.0v1.3h-4.0zM179.0 370.2h4.0v1.3h-4.0zM187.0 370.2h10.0v1.3h-10.0zM203.0 370.2h2.0v1.3h-2.0zM207.0 370.2h4.0v1.3h-4.0zM235.0 370.2h4.0v1.3h-4.0zM179.0 371.5h4.0v1.3h-4.0zM185.0 371.5h14.0v1.3h-14.0zM203.0 371.5h6.0v1.3h-6.0zM219.0 371.5h4.0v1.3h-4.0zM235.0 371.5h2.0v1.3h-2.0zM193.0 372.8h6.0v1.3h-6.0zM203.0 372.8h8.0v1.3h-8.0zM213.0 372.8h2.0v1.3h-2.0zM219.0 372.8h4.0v1.3h-4.0zM235.0 372.8h4.0v1.3h-4.0zM193.0 374.1h6.0v1.3h-6.0zM203.0 374.1h8.0v1.3h-8.0zM195.0 375.4h2.0v1.3h-2.0zM199.0 375.4h2.0v1.3h-2.0zM203.0 375.4h6.0v1.3h-6.0zM213.0 375.4h2.0v1.3h-2.0zM237.0 375.4h2.0v1.3h-2.0zM181.0 376.7h2.0v1.3h-2.0zM193.0 376.7h4.0v1.3h-4.0zM201.0 376.7h4.0v1.3h-4.0zM207.0 376.7h6.0v1.3h-6.0zM219.0 376.7h4.0v1.3h-4.0zM235.0 376.7h4.0v1.3h-4.0zM181.0 378.0h2.0v1.3h-2.0zM187.0 378.0h6.0v1.3h-6.0zM195.0 378.0h2.0v1.3h-2.0zM203.0 378.0h8.0v1.3h-8.0zM219.0 378.0h8.0v1.3h-8.0zM237.0 378.0h2.0v1.3h-2.0zM179.0 379.3h4.0v1.3h-4.0zM187.0 379.3h4.0v1.3h-4.0zM195.0 379.3h10.0v1.3h-10.0zM221.0 379.3h6.0v1.3h-6.0zM235.0 379.3h4.0v1.3h-4.0zM185.0 380.6h10.0v1.3h-10.0zM205.0 380.6h10.0v1.3h-10.0zM223.0 380.6h4.0v1.3h-4.0zM179.0 381.9h6.0v1.3h-6.0zM189.0 381.9h2.0v1.3h-2.0zM207.0 381.9h8.0v1.3h-8.0zM219.0 381.9h4.0v1.3h-4.0zM191.0 383.2h2.0v1.3h-2.0zM219.0 383.2h2.0v1.3h-2.0zM179.0 384.5h8.0v1.3h-8.0zM189.0 384.5h2.0v1.3h-2.0zM201.0 384.5h10.0v1.3h-10.0zM219.0 384.5h8.0v1.3h-8.0zM235.0 384.5h2.0v1.3h-2.0zM179.0 385.8h2.0v1.3h-2.0zM187.0 385.8h4.0v1.3h-4.0zM203.0 385.8h8.0v1.3h-8.0zM223.0 385.8h2.0v1.3h-2.0zM235.0 385.8h2.0v1.3h-2.0zM179.0 387.1h4.0v1.3h-4.0zM191.0 387.1h6.0v1.3h-6.0zM205.0 387.1h6.0v1.3h-6.0zM235.0 387.1h4.0v1.3h-4.0zM187.0 388.4h2.0v1.3h-2.0zM197.0 388.4h2.0v1.3h-2.0zM233.0 388.4h2.0v1.3h-2.0zM195.0 389.7h8.0v1.3h-8.0zM233.0 389.7h2.0v1.3h-2.0zM237.0 389.7h2.0v1.3h-2.0zM187.0 391.0h2.0v1.3h-2.0zM193.0 391.0h10.0v1.3h-10.0zM227.0 391.0h8.0v1.3h-8.0zM185.0 392.3h2.0v1.3h-2.0zM191.0 392.3h10.0v1.3h-10.0zM207.0 392.3h2.0v1.3h-2.0zM229.0 392.3h10.0v1.3h-10.0zM183.0 393.6h2.0v1.3h-2.0zM195.0 393.6h6.0v1.3h-6.0zM207.0 393.6h2.0v1.3h-2.0zM229.0 393.6h6.0v1.3h-6.0zM237.0 393.6h2.0v1.3h-2.0zM179.0 394.9h6.0v1.3h-6.0zM187.0 394.9h2.0v1.3h-2.0zM195.0 394.9h4.0v1.3h-4.0zM229.0 394.9h6.0v1.3h-6.0zM179.0 396.2h10.0v1.3h-10.0zM193.0 396.2h12.0v1.3h-12.0zM215.0 396.2h2.0v1.3h-2.0zM225.0 396.2h2.0v1.3h-2.0zM233.0 396.2h2.0v1.3h-2.0zM237.0 396.2h2.0v1.3h-2.0zM179.0 397.5h4.0v1.3h-4.0zM187.0 397.5h2.0v1.3h-2.0zM191.0 397.5h6.0v1.3h-6.0zM199.0 397.5h6.0v1.3h-6.0zM207.0 397.5h4.0v1.3h-4.0zM213.0 397.5h6.0v1.3h-6.0zM227.0 397.5h12.0v1.3h-12.0zM181.0 398.8h2.0v1.3h-2.0zM189.0 398.8h4.0v1.3h-4.0zM195.0 398.8h4.0v1.3h-4.0zM203.0 398.8h4.0v1.3h-4.0zM209.0 398.8h2.0v1.3h-2.0zM213.0 398.8h6.0v1.3h-6.0zM179.0 400.1h2.0v1.3h-2.0zM185.0 400.1h18.0v1.3h-18.0zM205.0 400.1h4.0v1.3h-4.0zM227.0 400.1h4.0v1.3h-4.0zM233.0 400.1h6.0v1.3h-6.0zM179.0 401.4h4.0v1.3h-4.0zM187.0 401.4h8.0v1.3h-8.0zM199.0 401.4h12.0v1.3h-12.0zM227.0 401.4h4.0v1.3h-4.0zM233.0 401.4h6.0v1.3h-6.0zM181.0 402.7h14.0v1.3h-14.0zM201.0 402.7h10.0v1.3h-10.0zM227.0 402.7h12.0v1.3h-12.0zM179.0 404.0h4.0v1.3h-4.0zM185.0 404.0h2.0v1.3h-2.0zM205.0 404.0h2.0v1.3h-2.0zM183.0 405.3h2.0v1.3h-2.0zM191.0 405.3h2.0v1.3h-2.0zM209.0 405.3h2.0v1.3h-2.0zM179.0 406.6h2.0v1.3h-2.0zM199.0 406.6h12.0v1.3h-12.0zM179.0 407.9h6.0v1.3h-6.0zM189.0 407.9h2.0v1.3h-2.0zM195.0 407.9h4.0v1.3h-4.0zM235.0 407.9h4.0v1.3h-4.0zM179.0 409.2h4.0v1.3h-4.0zM191.0 409.2h8.0v1.3h-8.0zM201.0 409.2h4.0v1.3h-4.0zM209.0 409.2h2.0v1.3h-2.0zM235.0 409.2h4.0v1.3h-4.0zM181.0 410.5h12.0v1.3h-12.0zM195.0 410.5h2.0v1.3h-2.0zM207.0 410.5h2.0v1.3h-2.0zM235.0 410.5h4.0v1.3h-4.0zM179.0 411.8h8.0v1.3h-8.0zM191.0 411.8h4.0v1.3h-4.0zM197.0 411.8h6.0v1.3h-6.0zM207.0 411.8h4.0v1.3h-4.0zM235.0 411.8h4.0v1.3h-4.0zM179.0 413.1h8.0v1.3h-8.0zM191.0 413.1h4.0v1.3h-4.0zM197.0 413.1h4.0v1.3h-4.0zM207.0 413.1h4.0v1.3h-4.0zM237.0 413.1h2.0v1.3h-2.0zM191.0 414.4h4.0v1.3h-4.0zM199.0 414.4h12.0v1.3h-12.0zM235.0 414.4h4.0v1.3h-4.0zM183.0 415.7h6.0v1.3h-6.0zM191.0 415.7h24.0v1.3h-24.0zM233.0 415.7h2.0v1.3h-2.0zM183.0 417.0h16.0v1.3h-16.0zM205.0 417.0h10.0v1.3h-10.0zM183.0 418.3h8.0v1.3h-8.0zM193.0 418.3h16.0v1.3h-16.0zM233.0 418.3h2.0v1.3h-2.0zM179.0 419.6h12.0v1.3h-12.0zM195.0 419.6h4.0v1.3h-4.0zM203.0 419.6h6.0v1.3h-6.0zM217.0 419.6h2.0v1.3h-2.0zM229.0 419.6h2.0v1.3h-2.0zM233.0 419.6h4.0v1.3h-4.0zM181.0 420.9h2.0v1.3h-2.0zM185.0 420.9h2.0v1.3h-2.0zM191.0 420.9h4.0v1.3h-4.0zM197.0 420.9h10.0v1.3h-10.0zM209.0 420.9h4.0v1.3h-4.0zM227.0 420.9h8.0v1.3h-8.0zM179.0 422.2h6.0v1.3h-6.0zM187.0 422.2h6.0v1.3h-6.0zM195.0 422.2h2.0v1.3h-2.0zM199.0 422.2h14.0v1.3h-14.0zM215.0 422.2h4.0v1.3h-4.0zM229.0 422.2h8.0v1.3h-8.0zM179.0 423.5h2.0v1.3h-2.0zM183.0 423.5h12.0v1.3h-12.0zM201.0 423.5h8.0v1.3h-8.0zM223.0 423.5h6.0v1.3h-6.0zM237.0 423.5h2.0v1.3h-2.0zM179.0 424.8h8.0v1.3h-8.0zM191.0 424.8h8.0v1.3h-8.0zM201.0 424.8h14.0v1.3h-14.0zM223.0 424.8h8.0v1.3h-8.0zM237.0 424.8h2.0v1.3h-2.0zM179.0 426.1h2.0v1.3h-2.0zM183.0 426.1h32.0v1.3h-32.0zM235.0 426.1h4.0v1.3h-4.0zM183.0 427.4h24.0v1.3h-24.0zM223.0 427.4h2.0v1.3h-2.0zM229.0 427.4h4.0v1.3h-4.0zM179.0 428.7h8.0v1.3h-8.0zM193.0 428.7h2.0v1.3h-2.0zM205.0 428.7h6.0v1.3h-6.0zM223.0 428.7h2.0v1.3h-2.0zM229.0 428.7h6.0v1.3h-6.0zM179.0 430.0h4.0v1.3h-4.0zM185.0 430.0h2.0v1.3h-2.0zM191.0 430.0h8.0v1.3h-8.0zM201.0 430.0h4.0v1.3h-4.0zM207.0 430.0h2.0v1.3h-2.0zM223.0 430.0h6.0v1.3h-6.0zM233.0 430.0h6.0v1.3h-6.0zM181.0 431.3h2.0v1.3h-2.0zM185.0 431.3h8.0v1.3h-8.0zM199.0 431.3h4.0v1.3h-4.0zM213.0 431.3h2.0v1.3h-2.0zM227.0 431.3h4.0v1.3h-4.0zM235.0 431.3h2.0v1.3h-2.0zM179.0 432.6h16.0v1.3h-16.0zM201.0 432.6h2.0v1.3h-2.0zM213.0 432.6h2.0v1.3h-2.0zM227.0 432.6h4.0v1.3h-4.0zM235.0 432.6h4.0v1.3h-4.0zM181.0 433.9h6.0v1.3h-6.0zM191.0 433.9h6.0v1.3h-6.0zM201.0 433.9h2.0v1.3h-2.0zM227.0 433.9h2.0v1.3h-2.0zM231.0 433.9h2.0v1.3h-2.0zM237.0 433.9h2.0v1.3h-2.0zM185.0 435.2h2.0v1.3h-2.0zM193.0 435.2h14.0v1.3h-14.0zM223.0 435.2h4.0v1.3h-4.0zM229.0 435.2h4.0v1.3h-4.0zM237.0 435.2h2.0v1.3h-2.0zM181.0 436.5h6.0v1.3h-6.0zM195.0 436.5h2.0v1.3h-2.0zM201.0 436.5h6.0v1.3h-6.0zM223.0 436.5h6.0v1.3h-6.0zM235.0 436.5h4.0v1.3h-4.0zM183.0 437.8h6.0v1.3h-6.0zM193.0 437.8h4.0v1.3h-4.0zM203.0 437.8h4.0v1.3h-4.0zM227.0 437.8h2.0v1.3h-2.0zM233.0 437.8h6.0v1.3h-6.0zM183.0 439.1h4.0v1.3h-4.0zM193.0 439.1h2.0v1.3h-2.0zM217.0 439.1h4.0v1.3h-4.0zM233.0 439.1h2.0v1.3h-2.0zM207.0 440.4h2.0v1.3h-2.0zM225.0 440.4h2.0v1.3h-2.0zM183.0 441.7h12.0v1.3h-12.0zM199.0 441.7h4.0v1.3h-4.0zM207.0 441.7h8.0v1.3h-8.0zM221.0 441.7h4.0v1.3h-4.0zM231.0 441.7h6.0v1.3h-6.0z"/>
<path fill="#f4a582" d="M209.0 365.0h4.0v1.3h-4.0zM231.0 365.0h2.0v1.3h-2.0zM211.0 366.3h4.0v1.3h-4.0zM209.0 367.6h4.0v1.3h-4.0zM189.0 368.9h4.0v1.3h-4.0zM211.0 368.9h12.0v1.3h-12.0zM211.0 370.2h8.0v1.3h-8.0zM211.0 371.5h4.0v1.3h-4.0zM199.0 372.8h4.0v1.3h-4.0zM191.0 374.1h2.0v1.3h-2.0zM199.0 374.1h4.0v1.3h-4.0zM193.0 375.4h2.0v1.3h-2.0zM201.0 375.4h2.0v1.3h-2.0zM235.0 375.4h2.0v1.3h-2.0zM179.0 376.7h2.0v1.3h-2.0zM187.0 376.7h2.0v1.3h-2.0zM191.0 376.7h2.0v1.3h-2.0zM215.0 376.7h4.0v1.3h-4.0zM179.0 378.0h2.0v1.3h-2.0zM215.0 378.0h4.0v1.3h-4.0zM191.0 379.3h2.0v1.3h-2.0zM215.0 379.3h2.0v1.3h-2.0zM179.0 380.6h6.0v1.3h-6.0zM195.0 380.6h4.0v1.3h-4.0zM191.0 381.9h8.0v1.3h-8.0zM223.0 381.9h2.0v1.3h-2.0zM185.0 385.8h2.0v1.3h-2.0zM219.0 385.8h4.0v1.3h-4.0zM225.0 385.8h2.0v1.3h-2.0zM187.0 387.1h4.0v1.3h-4.0zM197.0 387.1h6.0v1.3h-6.0zM219.0 387.1h2.0v1.3h-2.0zM223.0 387.1h2.0v1.3h-2.0zM231.0 388.4h2.0v1.3h-2.0zM181.0 389.7h4.0v1.3h-4.0zM191.0 389.7h4.0v1.3h-4.0zM203.0 389.7h2.0v1.3h-2.0zM227.0 389.7h6.0v1.3h-6.0zM203.0 391.0h4.0v1.3h-4.0zM179.0 392.3h6.0v1.3h-6.0zM179.0 393.6h4.0v1.3h-4.0zM185.0 393.6h2.0v1.3h-2.0zM191.0 393.6h4.0v1.3h-4.0zM227.0 393.6h2.0v1.3h-2.0zM203.0 394.9h4.0v1.3h-4.0zM227.0 394.9h2.0v1.3h-2.0zM189.0 396.2h2.0v1.3h-2.0zM205.0 396.2h2.0v1.3h-2.0zM183.0 397.5h4.0v1.3h-4.0zM189.0 397.5h2.0v1.3h-2.0zM205.0 397.5h2.0v1.3h-2.0zM219.0 397.5h2.0v1.3h-2.0zM183.0 398.8h2.0v1.3h-2.0zM187.0 398.8h2.0v1.3h-2.0zM219.0 398.8h12.0v1.3h-12.0zM195.0 401.4h2.0v1.3h-2.0zM195.0 402.7h6.0v1.3h-6.0zM193.0 404.0h2.0v1.3h-2.0zM195.0 405.3h2.0v1.3h-2.0zM195.0 406.6h4.0v1.3h-4.0zM237.0 406.6h2.0v1.3h-2.0zM193.0 407.9h2.0v1.3h-2.0zM205.0 409.2h2.0v1.3h-2.0zM179.0 410.5h2.0v1.3h-2.0zM193.0 410.5h2.0v1.3h-2.0zM205.0 410.5h2.0v1.3h-2.0zM195.0 411.8h2.0v1.3h-2.0zM205.0 411.8h2.0v1.3h-2.0zM195.0 413.1h2.0v1.3h-2.0zM201.0 413.1h4.0v1.3h-4.0zM195.0 414.4h4.0v1.3h-4.0zM191.0 418.3h2.0v1.3h-2.0zM231.0 418.3h2.0v1.3h-2.0zM207.0 420.9h2.0v1.3h-2.0zM237.0 422.2h2.0v1.3h-2.0zM209.0 423.5h6.0v1.3h-6.0zM187.0 424.8h4.0v1.3h-4.0zM181.0 426.1h2.0v1.3h-2.0zM211.0 427.4h4.0v1.3h-4.0zM195.0 428.7h2.0v1.3h-2.0zM225.0 428.7h4.0v1.3h-4.0zM205.0 430.0h2.0v1.3h-2.0zM211.0 430.0h2.0v1.3h-2.0zM229.0 430.0h2.0v1.3h-2.0zM179.0 431.3h2.0v1.3h-2.0zM203.0 431.3h2.0v1.3h-2.0zM211.0 431.3h2.0v1.3h-2.0zM231.0 431.3h4.0v1.3h-4.0zM237.0 431.3h2.0v1.3h-2.0zM203.0 432.6h2.0v1.3h-2.0zM211.0 432.6h2.0v1.3h-2.0zM231.0 432.6h4.0v1.3h-4.0zM179.0 433.9h2.0v1.3h-2.0zM187.0 433.9h4.0v1.3h-4.0zM203.0 433.9h2.0v1.3h-2.0zM211.0 433.9h4.0v1.3h-4.0zM229.0 433.9h2.0v1.3h-2.0zM181.0 435.2h2.0v1.3h-2.0zM187.0 435.2h4.0v1.3h-4.0zM179.0 436.5h2.0v1.3h-2.0zM187.0 436.5h2.0v1.3h-2.0zM197.0 436.5h4.0v1.3h-4.0zM191.0 437.8h2.0v1.3h-2.0zM199.0 437.8h4.0v1.3h-4.0zM191.0 439.1h2.0v1.3h-2.0zM191.0 440.4h4.0v1.3h-4.0zM227.0 440.4h8.0v1.3h-8.0zM225.0 441.7h2.0v1.3h-2.0z"/>
<path fill="#053061" d="M219.0 365.0h2.0v1.3h-2.0zM211.0 385.8h2.0v1.3h-2.0zM219.0 415.7h6.0v1.3h-6.0z"/>
<path fill="#b2182b" d="M221.0 365.0h2.0v1.3h-2.0zM215.0 371.5h2.0v1.3h-2.0zM211.0 372.8h2.0v1.3h-2.0zM211.0 374.1h2.0v1.3h-2.0zM215.0 374.1h2.0v1.3h-2.0zM211.0 375.4h2.0v1.3h-2.0zM187.0 392.3h4.0v1.3h-4.0zM203.0 392.3h2.0v1.3h-2.0zM189.0 393.6h2.0v1.3h-2.0zM189.0 394.9h2.0v1.3h-2.0zM179.0 439.1h2.0v1.3h-2.0zM179.0 440.4h4.0v1.3h-4.0zM179.0 441.7h4.0v1.3h-4.0z"/>
<path fill="#4393c3" d="M227.0 365.0h2.0v1.3h-2.0zM227.0 366.3h4.0v1.3h-4.0zM227.0 367.6h4.0v1.3h-4.0zM227.0 371.5h4.0v1.3h-4.0zM227.0 372.8h4.0v1.3h-4.0zM227.0 374.1h6.0v1.3h-6.0zM225.0 375.4h6.0v1.3h-6.0zM233.0 376.7h2.0v1.3h-2.0zM227.0 378.0h8.0v1.3h-8.0zM227.0 379.3h4.0v1.3h-4.0zM231.0 381.9h2.0v1.3h-2.0zM229.0 383.2h4.0v1.3h-4.0zM215.0 384.5h2.0v1.3h-2.0zM211.0 400.1h4.0v1.3h-4.0zM219.0 400.1h6.0v1.3h-6.0zM213.0 401.4h4.0v1.3h-4.0zM225.0 401.4h2.0v1.3h-2.0zM211.0 402.7h8.0v1.3h-8.0zM225.0 402.7h2.0v1.3h-2.0zM213.0 406.6h6.0v1.3h-6.0zM225.0 406.6h2.0v1.3h-2.0zM231.0 406.6h4.0v1.3h-4.0zM215.0 407.9h4.0v1.3h-4.0zM215.0 409.2h4.0v1.3h-4.0zM225.0 409.2h2.0v1.3h-2.0zM231.0 409.2h2.0v1.3h-2.0zM211.0 410.5h4.0v1.3h-4.0zM219.0 410.5h6.0v1.3h-6.0zM231.0 410.5h2.0v1.3h-2.0zM211.0 411.8h4.0v1.3h-4.0zM219.0 411.8h6.0v1.3h-6.0zM211.0 413.1h2.0v1.3h-2.0zM221.0 413.1h2.0v1.3h-2.0zM231.0 413.1h4.0v1.3h-4.0zM213.0 414.4h2.0v1.3h-2.0zM219.0 414.4h4.0v1.3h-4.0zM225.0 414.4h2.0v1.3h-2.0zM215.0 415.7h2.0v1.3h-2.0zM225.0 415.7h2.0v1.3h-2.0zM221.0 417.0h4.0v1.3h-4.0zM221.0 418.3h6.0v1.3h-6.0zM221.0 419.6h6.0v1.3h-6.0zM221.0 420.9h4.0v1.3h-4.0zM219.0 422.2h2.0v1.3h-2.0zM225.0 422.2h2.0v1.3h-2.0zM215.0 423.5h2.0v1.3h-2.0zM215.0 424.8h4.0v1.3h-4.0zM215.0 427.4h4.0v1.3h-4.0zM215.0 428.7h6.0v1.3h-6.0zM215.0 430.0h6.0v1.3h-6.0zM219.0 431.3h2.0v1.3h-2.0zM207.0 432.6h2.0v1.3h-2.0zM219.0 432.6h2.0v1.3h-2.0zM215.0 433.9h4.0v1.3h-4.0zM215.0 435.2h2.0v1.3h-2.0zM215.0 436.5h8.0v1.3h-8.0zM211.0 437.8h2.0v1.3h-2.0zM221.0 437.8h2.0v1.3h-2.0z"/>
<path fill="#2166ac" d="M229.0 365.0h2.0v1.3h-2.0zM195.0 366.3h4.0v1.3h-4.0zM197.0 367.6h2.0v1.3h-2.0zM229.0 368.9h2.0v1.3h-2.0zM229.0 376.7h2.0v1.3h-2.0zM231.0 379.3h2.0v1.3h-2.0zM217.0 384.5h2.0v1.3h-2.0zM213.0 385.8h6.0v1.3h-6.0zM211.0 387.1h6.0v1.3h-6.0zM215.0 400.1h2.0v1.3h-2.0zM219.0 402.7h4.0v1.3h-4.0zM215.0 404.0h2.0v1.3h-2.0zM219.0 404.0h2.0v1.3h-2.0zM233.0 404.0h2.0v1.3h-2.0zM219.0 405.3h2.0v1.3h-2.0zM223.0 407.9h2.0v1.3h-2.0zM231.0 407.9h4.0v1.3h-4.0zM219.0 409.2h2.0v1.3h-2.0zM233.0 409.2h2.0v1.3h-2.0zM233.0 410.5h2.0v1.3h-2.0zM231.0 411.8h4.0v1.3h-4.0zM215.0 414.4h2.0v1.3h-2.0zM231.0 414.4h4.0v1.3h-4.0zM225.0 417.0h2.0v1.3h-2.0zM219.0 418.3h2.0v1.3h-2.0zM219.0 419.6h2.0v1.3h-2.0zM219.0 420.9h2.0v1.3h-2.0zM225.0 420.9h2.0v1.3h-2.0zM217.0 423.5h2.0v1.3h-2.0zM217.0 426.1h2.0v1.3h-2.0zM219.0 427.4h4.0v1.3h-4.0zM221.0 428.7h2.0v1.3h-2.0zM221.0 430.0h2.0v1.3h-2.0zM221.0 431.3h2.0v1.3h-2.0zM221.0 432.6h2.0v1.3h-2.0zM221.0 433.9h2.0v1.3h-2.0z"/>
<path fill="#d6604d" d="M199.0 368.9h2.0v1.3h-2.0zM199.0 370.2h4.0v1.3h-4.0zM199.0 371.5h4.0v1.3h-4.0zM217.0 371.5h2.0v1.3h-2.0zM215.0 372.8h4.0v1.3h-4.0zM213.0 374.1h2.0v1.3h-2.0zM217.0 374.1h2.0v1.3h-2.0zM209.0 375.4h2.0v1.3h-2.0zM215.0 375.4h4.0v1.3h-4.0zM209.0 379.3h2.0v1.3h-2.0zM217.0 379.3h2.0v1.3h-2.0zM179.0 388.4h2.0v1.3h-2.0zM183.0 388.4h2.0v1.3h-2.0zM203.0 388.4h2.0v1.3h-2.0zM179.0 389.7h2.0v1.3h-2.0zM185.0 389.7h6.0v1.3h-6.0zM205.0 389.7h2.0v1.3h-2.0zM179.0 391.0h8.0v1.3h-8.0zM189.0 391.0h2.0v1.3h-2.0zM205.0 392.3h2.0v1.3h-2.0zM187.0 393.6h2.0v1.3h-2.0zM203.0 393.6h4.0v1.3h-4.0zM185.0 398.8h2.0v1.3h-2.0zM211.0 428.7h4.0v1.3h-4.0zM213.0 430.0h2.0v1.3h-2.0zM205.0 431.3h2.0v1.3h-2.0zM205.0 432.6h2.0v1.3h-2.0zM205.0 433.9h2.0v1.3h-2.0zM233.0 433.9h2.0v1.3h-2.0zM179.0 435.2h2.0v1.3h-2.0zM189.0 436.5h2.0v1.3h-2.0zM179.0 437.8h4.0v1.3h-4.0zM181.0 439.1h2.0v1.3h-2.0zM227.0 439.1h4.0v1.3h-4.0zM227.0 441.7h4.0v1.3h-4.0z"/>
<path fill="#92c5de" d="M227.0 368.9h2.0v1.3h-2.0zM233.0 368.9h2.0v1.3h-2.0zM227.0 370.2h8.0v1.3h-8.0zM231.0 371.5h4.0v1.3h-4.0zM183.0 372.8h8.0v1.3h-8.0zM185.0 374.1h6.0v1.3h-6.0zM225.0 374.1h2.0v1.3h-2.0zM233.0 374.1h2.0v1.3h-2.0zM183.0 375.4h8.0v1.3h-8.0zM231.0 375.4h4.0v1.3h-4.0zM227.0 376.7h2.0v1.3h-2.0zM231.0 376.7h2.0v1.3h-2.0zM183.0 378.0h2.0v1.3h-2.0zM233.0 379.3h2.0v1.3h-2.0zM227.0 380.6h8.0v1.3h-8.0zM227.0 381.9h4.0v1.3h-4.0zM233.0 381.9h2.0v1.3h-2.0zM227.0 383.2h2.0v1.3h-2.0zM211.0 384.5h4.0v1.3h-4.0zM233.0 385.8h2.0v1.3h-2.0zM217.0 387.1h2.0v1.3h-2.0zM231.0 387.1h4.0v1.3h-4.0zM207.0 388.4h8.0v1.3h-8.0zM217.0 388.4h10.0v1.3h-10.0zM207.0 389.7h2.0v1.3h-2.0zM221.0 389.7h4.0v1.3h-4.0zM207.0 391.0h6.0v1.3h-6.0zM215.0 391.0h10.0v1.3h-10.0zM215.0 392.3h10.0v1.3h-10.0zM211.0 393.6h16.0v1.3h-16.0zM211.0 394.9h8.0v1.3h-8.0zM221.0 394.9h6.0v1.3h-6.0zM217.0 400.1h2.0v1.3h-2.0zM225.0 400.1h2.0v1.3h-2.0zM211.0 401.4h2.0v1.3h-2.0zM217.0 401.4h8.0v1.3h-8.0zM223.0 402.7h2.0v1.3h-2.0zM227.0 405.3h2.0v1.3h-2.0zM211.0 406.6h2.0v1.3h-2.0zM219.0 406.6h6.0v1.3h-6.0zM211.0 407.9h4.0v1.3h-4.0zM219.0 407.9h4.0v1.3h-4.0zM225.0 407.9h2.0v1.3h-2.0zM211.0 409.2h4.0v1.3h-4.0zM221.0 409.2h4.0v1.3h-4.0zM215.0 410.5h4.0v1.3h-4.0zM225.0 410.5h2.0v1.3h-2.0zM215.0 411.8h4.0v1.3h-4.0zM225.0 411.8h6.0v1.3h-6.0zM213.0 413.1h8.0v1.3h-8.0zM223.0 413.1h8.0v1.3h-8.0zM211.0 414.4h2.0v1.3h-2.0zM217.0 414.4h2.0v1.3h-2.0zM223.0 414.4h2.0v1.3h-2.0zM227.0 414.4h4.0v1.3h-4.0zM217.0 415.7h2.0v1.3h-2.0zM215.0 417.0h2.0v1.3h-2.0zM219.0 417.0h2.0v1.3h-2.0zM221.0 422.2h4.0v1.3h-4.0zM219.0 424.8h2.0v1.3h-2.0zM215.0 426.1h2.0v1.3h-2.0zM221.0 426.1h2.0v1.3h-2.0zM207.0 431.3h4.0v1.3h-4.0zM215.0 431.3h4.0v1.3h-4.0zM223.0 431.3h4.0v1.3h-4.0zM209.0 432.6h2.0v1.3h-2.0zM215.0 432.6h2.0v1.3h-2.0zM223.0 432.6h4.0v1.3h-4.0zM207.0 433.9h4.0v1.3h-4.0zM219.0 433.9h2.0v1.3h-2.0zM223.0 433.9h4.0v1.3h-4.0zM211.0 435.2h4.0v1.3h-4.0zM217.0 435.2h6.0v1.3h-6.0zM211.0 436.5h4.0v1.3h-4.0zM207.0 437.8h4.0v1.3h-4.0zM213.0 437.8h8.0v1.3h-8.0z"/>
<path fill="#67001f" d="M187.0 411.8h4.0v1.3h-4.0zM179.0 415.7h4.0v1.3h-4.0z"/>
<path fill="#ffffff" d="M195.0 439.1h2.0v1.3h-2.0zM235.0 440.4h2.0v1.3h-2.0z"/>
<path d="M173.5 366.5h5M173.5 374.5h5M173.5 436.5h5" stroke="#ece0b8" stroke-width="0.9" fill="none"/>
<path d="M173.5 370.5h5M173.5 382.5h5M173.5 392.9h5M173.5 406.5h5M173.5 414.5h5" stroke="#c8e0e8" stroke-width="0.9" fill="none"/>
<path d="M173.5 378.1h5M173.5 386.1h5M173.5 410.9h5M173.5 417.7h5M173.5 433.3h5M173.5 440.5h5" stroke="#cfcfd8" stroke-width="0.9" fill="none"/>
<path d="M173.5 389.3h5M173.5 396.5h5M173.5 403.3h5" stroke="#d2e6cc" stroke-width="0.9" fill="none"/>
<path d="M173.5 400.1h5M173.5 425.7h5" stroke="#f0d2c4" stroke-width="0.9" fill="none"/>
<path d="M173.5 421.7h5M173.5 429.3h5" stroke="#e2cce2" stroke-width="0.9" fill="none"/>
<path d="M274.8 349.7V346.3H311.5V349.7" fill="none" stroke="#a8a8a8" stroke-width="0.55"/>
<rect x="264" y="357.5" width="64.0" height="7.5" fill="#e0e0e0"/>
<path d="M317.1 364.7V361.7H318.7V364.7M281.7 364.7V360.6H283.4V364.7M320.4 364.7V359.8H322.1V364.7M296.8 364.7V359.1H298.5V364.7M305.3 364.7V358.5H306.9V364.7M306.1 358.5V358.0H308.6V364.7M315.4 364.7V357.5H317.9V361.7M313.7 364.7V357.1H316.6V357.5M278.3 364.7V356.7H280.0V364.7M266.5 364.7V356.3H268.2V364.7M271.6 364.7V355.9H273.3V364.7M286.7 364.7V355.5H288.4V364.7M276.6 364.7V355.2H279.2V356.7M310.3 364.7V354.9H312.0V364.7M307.4 358.0V354.6H311.2V354.9M282.5 360.6V354.3H285.1V364.7M323.8 364.7V354.0H325.5V364.7M315.2 357.1V353.7H321.3V359.8M267.4 356.3V353.4H269.9V364.7M309.3 354.6V353.2H318.2V353.7M290.1 364.7V352.9H291.8V364.7M274.9 364.7V352.7H277.9V355.2M301.9 364.7V352.4H303.6V364.7M287.6 355.5V352.2H290.9V352.9M297.7 359.1V352.0H300.2V364.7M289.3 352.2V351.7H293.5V364.7M268.6 353.4V351.5H272.4V355.9M270.5 351.5V351.3H276.4V352.7M313.7 353.2V351.1H324.6V354.0M273.5 351.3V350.9H283.8V354.3M291.4 351.7V350.7H295.2V364.7M278.6 350.9V350.5H293.3V350.7M264.8 364.7V350.3H285.9V350.5M319.2 351.1V350.1H327.2V364.7M298.9 352.0V349.9H302.7V352.4M275.4 350.3V349.7H300.8V349.9M288.1 349.7V349.5H323.2V350.1" fill="none" stroke="#c8c8c8" stroke-width="0.7"/>
<path d="M328.5 392.1H332.5V394.7H328.5M328.5 366.3H333.6V368.9H328.5M328.5 410.2H334.4V412.8H328.5M328.5 415.4H335.0V418.0H328.5M328.5 425.7H335.5V428.3H328.5M334.4 411.5H336.0V416.7H335.0M328.5 420.5H336.4V423.1H328.5M328.5 381.8H336.8V384.4H328.5M333.6 367.6H337.1V371.5H328.5M328.5 389.5H337.5V393.4H332.5M328.5 399.9H337.8V402.5H328.5M328.5 438.6H338.0V441.2H328.5M337.5 391.5H338.3V397.3H328.5M338.3 394.4H338.6V401.2H337.8M336.0 414.1H338.8V421.8H336.4M328.5 430.9H339.1V433.5H328.5M338.6 397.8H339.3V405.0H328.5M337.1 369.5H339.5V374.0H328.5M339.1 432.2H339.7V436.0H328.5M339.3 401.4H339.9V407.6H328.5M338.8 418.0H340.1V427.0H335.5M339.9 404.5H340.3V422.5H340.1M328.5 376.6H340.5V379.2H328.5M339.5 371.8H340.7V377.9H340.5M340.7 374.8H340.8V383.1H336.8M339.7 434.1H341.0V439.9H338.0M328.5 387.0H341.2V413.5H340.3M341.2 400.2H341.3V437.0H341.0M340.8 379.0H341.5V418.6H341.3" fill="none" stroke="#bfbfbf" stroke-width="0.75"/>
<rect x="264" y="365" width="64.00" height="78.00" fill="#d1e5f0"/>
<path fill="#f7f7f7" d="M264.0 365.0h4.0v1.3h-4.0zM286.0 365.0h2.0v1.3h-2.0zM292.0 365.0h4.0v1.3h-4.0zM304.0 365.0h4.0v1.3h-4.0zM324.0 365.0h4.0v1.3h-4.0zM276.0 366.3h2.0v1.3h-2.0zM284.0 366.3h2.0v1.3h-2.0zM288.0 366.3h2.0v1.3h-2.0zM304.0 366.3h4.0v1.3h-4.0zM314.0 366.3h2.0v1.3h-2.0zM318.0 366.3h4.0v1.3h-4.0zM324.0 366.3h4.0v1.3h-4.0zM284.0 367.6h4.0v1.3h-4.0zM292.0 367.6h4.0v1.3h-4.0zM322.0 367.6h6.0v1.3h-6.0zM264.0 368.9h4.0v1.3h-4.0zM278.0 368.9h2.0v1.3h-2.0zM308.0 368.9h4.0v1.3h-4.0zM264.0 370.2h2.0v1.3h-2.0zM276.0 370.2h2.0v1.3h-2.0zM304.0 370.2h2.0v1.3h-2.0zM310.0 370.2h2.0v1.3h-2.0zM320.0 370.2h2.0v1.3h-2.0zM310.0 371.5h2.0v1.3h-2.0zM318.0 371.5h10.0v1.3h-10.0zM264.0 372.8h2.0v1.3h-2.0zM324.0 372.8h2.0v1.3h-2.0zM264.0 374.1h12.0v1.3h-12.0zM278.0 374.1h18.0v1.3h-18.0zM298.0 374.1h2.0v1.3h-2.0zM302.0 374.1h26.0v1.3h-26.0zM288.0 375.4h2.0v1.3h-2.0zM304.0 375.4h2.0v1.3h-2.0zM308.0 375.4h2.0v1.3h-2.0zM322.0 375.4h4.0v1.3h-4.0zM276.0 376.7h2.0v1.3h-2.0zM280.0 376.7h2.0v1.3h-2.0zM296.0 376.7h4.0v1.3h-4.0zM304.0 376.7h4.0v1.3h-4.0zM322.0 376.7h2.0v1.3h-2.0zM266.0 378.0h2.0v1.3h-2.0zM264.0 379.3h4.0v1.3h-4.0zM278.0 379.3h4.0v1.3h-4.0zM266.0 380.6h2.0v1.3h-2.0zM272.0 380.6h2.0v1.3h-2.0zM278.0 380.6h2.0v1.3h-2.0zM282.0 380.6h2.0v1.3h-2.0zM264.0 381.9h4.0v1.3h-4.0zM272.0 381.9h4.0v1.3h-4.0zM278.0 381.9h2.0v1.3h-2.0zM296.0 381.9h2.0v1.3h-2.0zM302.0 381.9h4.0v1.3h-4.0zM324.0 381.9h4.0v1.3h-4.0zM266.0 383.2h2.0v1.3h-2.0zM294.0 383.2h6.0v1.3h-6.0zM304.0 383.2h4.0v1.3h-4.0zM324.0 383.2h4.0v1.3h-4.0zM266.0 384.5h2.0v1.3h-2.0zM280.0 384.5h8.0v1.3h-8.0zM266.0 385.8h2.0v1.3h-2.0zM284.0 385.8h4.0v1.3h-4.0zM298.0 385.8h6.0v1.3h-6.0zM264.0 387.1h4.0v1.3h-4.0zM272.0 387.1h4.0v1.3h-4.0zM286.0 387.1h2.0v1.3h-2.0zM298.0 387.1h2.0v1.3h-2.0zM302.0 387.1h4.0v1.3h-4.0zM324.0 387.1h4.0v1.3h-4.0zM264.0 388.4h14.0v1.3h-14.0zM280.0 388.4h30.0v1.3h-30.0zM312.0 388.4h4.0v1.3h-4.0zM318.0 388.4h2.0v1.3h-2.0zM322.0 388.4h2.0v1.3h-2.0zM326.0 388.4h2.0v1.3h-2.0zM290.0 389.7h2.0v1.3h-2.0zM300.0 389.7h8.0v1.3h-8.0zM264.0 391.0h2.0v1.3h-2.0zM300.0 391.0h2.0v1.3h-2.0zM308.0 391.0h4.0v1.3h-4.0zM284.0 392.3h4.0v1.3h-4.0zM304.0 392.3h8.0v1.3h-8.0zM264.0 393.6h2.0v1.3h-2.0zM268.0 393.6h2.0v1.3h-2.0zM286.0 393.6h2.0v1.3h-2.0zM274.0 394.9h2.0v1.3h-2.0zM286.0 394.9h2.0v1.3h-2.0zM296.0 394.9h4.0v1.3h-4.0zM268.0 396.2h2.0v1.3h-2.0zM274.0 396.2h2.0v1.3h-2.0zM284.0 397.5h2.0v1.3h-2.0zM324.0 397.5h2.0v1.3h-2.0zM290.0 398.8h2.0v1.3h-2.0zM324.0 398.8h4.0v1.3h-4.0zM288.0 400.1h10.0v1.3h-10.0zM300.0 400.1h2.0v1.3h-2.0zM268.0 401.4h4.0v1.3h-4.0zM294.0 401.4h2.0v1.3h-2.0zM320.0 401.4h4.0v1.3h-4.0zM268.0 402.7h2.0v1.3h-2.0zM316.0 402.7h4.0v1.3h-4.0zM322.0 402.7h2.0v1.3h-2.0zM288.0 404.0h2.0v1.3h-2.0zM294.0 404.0h2.0v1.3h-2.0zM318.0 404.0h2.0v1.3h-2.0zM294.0 405.3h2.0v1.3h-2.0zM290.0 406.6h4.0v1.3h-4.0zM316.0 406.6h2.0v1.3h-2.0zM268.0 407.9h2.0v1.3h-2.0zM284.0 407.9h2.0v1.3h-2.0zM290.0 407.9h2.0v1.3h-2.0zM268.0 411.8h2.0v1.3h-2.0zM272.0 411.8h6.0v1.3h-6.0zM280.0 411.8h6.0v1.3h-6.0zM288.0 411.8h2.0v1.3h-2.0zM268.0 413.1h2.0v1.3h-2.0zM268.0 415.7h2.0v1.3h-2.0zM274.0 415.7h14.0v1.3h-14.0zM282.0 419.6h2.0v1.3h-2.0zM276.0 423.5h2.0v1.3h-2.0zM284.0 424.8h2.0v1.3h-2.0zM274.0 427.4h2.0v1.3h-2.0zM276.0 430.0h2.0v1.3h-2.0zM284.0 431.3h2.0v1.3h-2.0zM308.0 431.3h4.0v1.3h-4.0zM268.0 432.6h2.0v1.3h-2.0zM280.0 433.9h2.0v1.3h-2.0zM324.0 433.9h2.0v1.3h-2.0zM268.0 435.2h2.0v1.3h-2.0zM282.0 435.2h2.0v1.3h-2.0zM320.0 435.2h2.0v1.3h-2.0zM270.0 436.5h2.0v1.3h-2.0zM290.0 436.5h2.0v1.3h-2.0zM280.0 437.8h2.0v1.3h-2.0zM288.0 437.8h4.0v1.3h-4.0zM308.0 437.8h4.0v1.3h-4.0zM270.0 439.1h2.0v1.3h-2.0zM294.0 439.1h2.0v1.3h-2.0zM304.0 439.1h4.0v1.3h-4.0zM280.0 440.4h2.0v1.3h-2.0zM294.0 440.4h2.0v1.3h-2.0zM306.0 440.4h2.0v1.3h-2.0zM300.0 441.7h4.0v1.3h-4.0zM306.0 441.7h2.0v1.3h-2.0z"/>
<path fill="#4393c3" d="M268.0 365.0h2.0v1.3h-2.0zM270.0 366.3h2.0v1.3h-2.0zM270.0 367.6h2.0v1.3h-2.0zM296.0 367.6h2.0v1.3h-2.0zM270.0 368.9h2.0v1.3h-2.0zM298.0 368.9h4.0v1.3h-4.0zM300.0 370.2h2.0v1.3h-2.0zM312.0 370.2h2.0v1.3h-2.0zM300.0 371.5h4.0v1.3h-4.0zM268.0 372.8h4.0v1.3h-4.0zM296.0 372.8h2.0v1.3h-2.0zM302.0 372.8h2.0v1.3h-2.0zM268.0 375.4h4.0v1.3h-4.0zM298.0 375.4h2.0v1.3h-2.0zM302.0 375.4h2.0v1.3h-2.0zM268.0 376.7h2.0v1.3h-2.0zM314.0 376.7h2.0v1.3h-2.0zM268.0 378.0h4.0v1.3h-4.0zM270.0 379.3h2.0v1.3h-2.0zM308.0 379.3h4.0v1.3h-4.0zM268.0 381.9h4.0v1.3h-4.0zM314.0 381.9h2.0v1.3h-2.0zM286.0 383.2h2.0v1.3h-2.0zM312.0 383.2h4.0v1.3h-4.0zM270.0 384.5h2.0v1.3h-2.0zM312.0 384.5h4.0v1.3h-4.0zM270.0 385.8h2.0v1.3h-2.0zM312.0 385.8h4.0v1.3h-4.0zM268.0 387.1h4.0v1.3h-4.0zM312.0 387.1h4.0v1.3h-4.0zM304.0 401.4h4.0v1.3h-4.0zM300.0 407.9h2.0v1.3h-2.0zM316.0 407.9h2.0v1.3h-2.0zM326.0 407.9h2.0v1.3h-2.0z"/>
<path fill="#92c5de" d="M270.0 365.0h2.0v1.3h-2.0zM296.0 366.3h4.0v1.3h-4.0zM268.0 368.9h2.0v1.3h-2.0zM272.0 368.9h2.0v1.3h-2.0zM296.0 368.9h2.0v1.3h-2.0zM302.0 368.9h2.0v1.3h-2.0zM268.0 370.2h4.0v1.3h-4.0zM296.0 370.2h4.0v1.3h-4.0zM302.0 370.2h2.0v1.3h-2.0zM314.0 370.2h2.0v1.3h-2.0zM268.0 371.5h4.0v1.3h-4.0zM274.0 371.5h2.0v1.3h-2.0zM300.0 372.8h2.0v1.3h-2.0zM296.0 374.1h2.0v1.3h-2.0zM300.0 374.1h2.0v1.3h-2.0zM300.0 375.4h2.0v1.3h-2.0zM270.0 376.7h6.0v1.3h-6.0zM286.0 376.7h2.0v1.3h-2.0zM308.0 376.7h4.0v1.3h-4.0zM316.0 376.7h4.0v1.3h-4.0zM272.0 378.0h4.0v1.3h-4.0zM284.0 378.0h4.0v1.3h-4.0zM308.0 378.0h4.0v1.3h-4.0zM316.0 378.0h2.0v1.3h-2.0zM326.0 378.0h2.0v1.3h-2.0zM272.0 379.3h4.0v1.3h-4.0zM284.0 379.3h4.0v1.3h-4.0zM314.0 379.3h6.0v1.3h-6.0zM268.0 380.6h4.0v1.3h-4.0zM286.0 380.6h6.0v1.3h-6.0zM312.0 380.6h4.0v1.3h-4.0zM312.0 381.9h2.0v1.3h-2.0zM284.0 383.2h2.0v1.3h-2.0zM296.0 396.2h4.0v1.3h-4.0zM304.0 396.2h12.0v1.3h-12.0zM296.0 397.5h4.0v1.3h-4.0zM304.0 397.5h2.0v1.3h-2.0zM310.0 397.5h6.0v1.3h-6.0zM300.0 398.8h16.0v1.3h-16.0zM304.0 400.1h4.0v1.3h-4.0zM304.0 402.7h4.0v1.3h-4.0zM264.0 407.9h4.0v1.3h-4.0zM292.0 407.9h8.0v1.3h-8.0zM302.0 407.9h4.0v1.3h-4.0zM308.0 407.9h8.0v1.3h-8.0zM318.0 407.9h4.0v1.3h-4.0zM324.0 407.9h2.0v1.3h-2.0z"/>
<path fill="#fddbc7" d="M276.0 365.0h10.0v1.3h-10.0zM288.0 365.0h4.0v1.3h-4.0zM300.0 365.0h4.0v1.3h-4.0zM312.0 365.0h4.0v1.3h-4.0zM318.0 365.0h6.0v1.3h-6.0zM264.0 366.3h4.0v1.3h-4.0zM272.0 366.3h4.0v1.3h-4.0zM282.0 366.3h2.0v1.3h-2.0zM290.0 366.3h6.0v1.3h-6.0zM300.0 366.3h4.0v1.3h-4.0zM308.0 366.3h2.0v1.3h-2.0zM322.0 366.3h2.0v1.3h-2.0zM266.0 367.6h2.0v1.3h-2.0zM272.0 367.6h4.0v1.3h-4.0zM282.0 367.6h2.0v1.3h-2.0zM288.0 367.6h4.0v1.3h-4.0zM300.0 367.6h12.0v1.3h-12.0zM314.0 367.6h2.0v1.3h-2.0zM320.0 367.6h2.0v1.3h-2.0zM280.0 368.9h16.0v1.3h-16.0zM304.0 368.9h4.0v1.3h-4.0zM316.0 368.9h4.0v1.3h-4.0zM322.0 368.9h6.0v1.3h-6.0zM280.0 370.2h16.0v1.3h-16.0zM306.0 370.2h4.0v1.3h-4.0zM316.0 370.2h4.0v1.3h-4.0zM322.0 370.2h6.0v1.3h-6.0zM280.0 371.5h12.0v1.3h-12.0zM294.0 371.5h2.0v1.3h-2.0zM304.0 371.5h6.0v1.3h-6.0zM316.0 371.5h2.0v1.3h-2.0zM272.0 372.8h4.0v1.3h-4.0zM278.0 372.8h2.0v1.3h-2.0zM282.0 372.8h2.0v1.3h-2.0zM286.0 372.8h4.0v1.3h-4.0zM294.0 372.8h2.0v1.3h-2.0zM304.0 372.8h4.0v1.3h-4.0zM310.0 372.8h2.0v1.3h-2.0zM318.0 372.8h2.0v1.3h-2.0zM322.0 372.8h2.0v1.3h-2.0zM326.0 372.8h2.0v1.3h-2.0zM264.0 375.4h4.0v1.3h-4.0zM272.0 375.4h6.0v1.3h-6.0zM284.0 375.4h2.0v1.3h-2.0zM306.0 375.4h2.0v1.3h-2.0zM312.0 375.4h4.0v1.3h-4.0zM320.0 375.4h2.0v1.3h-2.0zM282.0 376.7h2.0v1.3h-2.0zM300.0 376.7h4.0v1.3h-4.0zM320.0 376.7h2.0v1.3h-2.0zM264.0 378.0h2.0v1.3h-2.0zM280.0 378.0h4.0v1.3h-4.0zM292.0 378.0h16.0v1.3h-16.0zM320.0 378.0h4.0v1.3h-4.0zM276.0 379.3h2.0v1.3h-2.0zM282.0 379.3h2.0v1.3h-2.0zM292.0 379.3h2.0v1.3h-2.0zM296.0 379.3h12.0v1.3h-12.0zM320.0 379.3h4.0v1.3h-4.0zM274.0 380.6h2.0v1.3h-2.0zM294.0 380.6h4.0v1.3h-4.0zM302.0 380.6h2.0v1.3h-2.0zM308.0 380.6h4.0v1.3h-4.0zM320.0 380.6h8.0v1.3h-8.0zM280.0 381.9h4.0v1.3h-4.0zM292.0 381.9h2.0v1.3h-2.0zM310.0 381.9h2.0v1.3h-2.0zM300.0 383.2h4.0v1.3h-4.0zM308.0 383.2h4.0v1.3h-4.0zM320.0 383.2h4.0v1.3h-4.0zM272.0 384.5h4.0v1.3h-4.0zM296.0 384.5h6.0v1.3h-6.0zM320.0 384.5h2.0v1.3h-2.0zM264.0 385.8h2.0v1.3h-2.0zM272.0 385.8h4.0v1.3h-4.0zM296.0 385.8h2.0v1.3h-2.0zM306.0 385.8h2.0v1.3h-2.0zM320.0 385.8h4.0v1.3h-4.0zM326.0 385.8h2.0v1.3h-2.0zM282.0 387.1h2.0v1.3h-2.0zM292.0 387.1h2.0v1.3h-2.0zM296.0 387.1h2.0v1.3h-2.0zM320.0 388.4h2.0v1.3h-2.0zM264.0 389.7h2.0v1.3h-2.0zM268.0 389.7h4.0v1.3h-4.0zM284.0 389.7h6.0v1.3h-6.0zM310.0 389.7h12.0v1.3h-12.0zM268.0 391.0h4.0v1.3h-4.0zM284.0 391.0h4.0v1.3h-4.0zM302.0 391.0h2.0v1.3h-2.0zM306.0 391.0h2.0v1.3h-2.0zM312.0 391.0h4.0v1.3h-4.0zM282.0 393.6h4.0v1.3h-4.0zM296.0 393.6h2.0v1.3h-2.0zM264.0 394.9h8.0v1.3h-8.0zM280.0 394.9h6.0v1.3h-6.0zM276.0 396.2h16.0v1.3h-16.0zM316.0 396.2h4.0v1.3h-4.0zM322.0 396.2h6.0v1.3h-6.0zM268.0 397.5h2.0v1.3h-2.0zM272.0 397.5h12.0v1.3h-12.0zM290.0 397.5h2.0v1.3h-2.0zM316.0 397.5h6.0v1.3h-6.0zM326.0 397.5h2.0v1.3h-2.0zM268.0 398.8h4.0v1.3h-4.0zM278.0 398.8h12.0v1.3h-12.0zM316.0 398.8h6.0v1.3h-6.0zM270.0 400.1h2.0v1.3h-2.0zM274.0 400.1h2.0v1.3h-2.0zM284.0 400.1h4.0v1.3h-4.0zM302.0 400.1h2.0v1.3h-2.0zM312.0 400.1h4.0v1.3h-4.0zM320.0 400.1h8.0v1.3h-8.0zM280.0 401.4h6.0v1.3h-6.0zM292.0 401.4h2.0v1.3h-2.0zM302.0 401.4h2.0v1.3h-2.0zM310.0 401.4h2.0v1.3h-2.0zM324.0 401.4h4.0v1.3h-4.0zM272.0 402.7h6.0v1.3h-6.0zM280.0 402.7h8.0v1.3h-8.0zM300.0 402.7h4.0v1.3h-4.0zM310.0 402.7h4.0v1.3h-4.0zM320.0 402.7h2.0v1.3h-2.0zM324.0 402.7h4.0v1.3h-4.0zM272.0 404.0h4.0v1.3h-4.0zM280.0 404.0h8.0v1.3h-8.0zM316.0 404.0h2.0v1.3h-2.0zM274.0 405.3h2.0v1.3h-2.0zM288.0 405.3h6.0v1.3h-6.0zM280.0 406.6h10.0v1.3h-10.0zM270.0 407.9h2.0v1.3h-2.0zM276.0 407.9h4.0v1.3h-4.0zM288.0 407.9h2.0v1.3h-2.0zM268.0 409.2h4.0v1.3h-4.0zM280.0 409.2h8.0v1.3h-8.0zM268.0 410.5h4.0v1.3h-4.0zM274.0 410.5h2.0v1.3h-2.0zM280.0 410.5h8.0v1.3h-8.0zM290.0 411.8h2.0v1.3h-2.0zM270.0 413.1h6.0v1.3h-6.0zM288.0 413.1h2.0v1.3h-2.0zM268.0 414.4h6.0v1.3h-6.0zM272.0 415.7h2.0v1.3h-2.0zM272.0 417.0h4.0v1.3h-4.0zM320.0 417.0h4.0v1.3h-4.0zM272.0 418.3h4.0v1.3h-4.0zM322.0 418.3h2.0v1.3h-2.0zM278.0 419.6h4.0v1.3h-4.0zM280.0 420.9h8.0v1.3h-8.0zM268.0 423.5h2.0v1.3h-2.0zM278.0 423.5h2.0v1.3h-2.0zM284.0 423.5h4.0v1.3h-4.0zM268.0 424.8h4.0v1.3h-4.0zM274.0 424.8h2.0v1.3h-2.0zM286.0 424.8h2.0v1.3h-2.0zM268.0 426.1h4.0v1.3h-4.0zM276.0 426.1h4.0v1.3h-4.0zM284.0 426.1h4.0v1.3h-4.0zM272.0 427.4h2.0v1.3h-2.0zM278.0 427.4h2.0v1.3h-2.0zM284.0 427.4h4.0v1.3h-4.0zM272.0 428.7h2.0v1.3h-2.0zM276.0 428.7h4.0v1.3h-4.0zM284.0 428.7h2.0v1.3h-2.0zM272.0 430.0h2.0v1.3h-2.0zM278.0 430.0h2.0v1.3h-2.0zM284.0 430.0h2.0v1.3h-2.0zM286.0 431.3h2.0v1.3h-2.0zM324.0 431.3h4.0v1.3h-4.0zM270.0 432.6h2.0v1.3h-2.0zM284.0 432.6h4.0v1.3h-4.0zM308.0 432.6h4.0v1.3h-4.0zM268.0 433.9h4.0v1.3h-4.0zM284.0 433.9h4.0v1.3h-4.0zM270.0 435.2h4.0v1.3h-4.0zM280.0 435.2h2.0v1.3h-2.0zM284.0 435.2h8.0v1.3h-8.0zM298.0 435.2h6.0v1.3h-6.0zM308.0 435.2h12.0v1.3h-12.0zM322.0 435.2h6.0v1.3h-6.0zM272.0 436.5h2.0v1.3h-2.0zM282.0 436.5h6.0v1.3h-6.0zM292.0 436.5h12.0v1.3h-12.0zM312.0 436.5h10.0v1.3h-10.0zM324.0 436.5h2.0v1.3h-2.0zM272.0 437.8h2.0v1.3h-2.0zM282.0 437.8h6.0v1.3h-6.0zM300.0 437.8h8.0v1.3h-8.0zM316.0 437.8h4.0v1.3h-4.0zM322.0 437.8h2.0v1.3h-2.0zM272.0 439.1h4.0v1.3h-4.0zM284.0 439.1h4.0v1.3h-4.0zM300.0 439.1h2.0v1.3h-2.0zM314.0 439.1h6.0v1.3h-6.0zM326.0 439.1h2.0v1.3h-2.0zM272.0 440.4h4.0v1.3h-4.0zM286.0 440.4h6.0v1.3h-6.0zM300.0 440.4h4.0v1.3h-4.0zM314.0 440.4h2.0v1.3h-2.0zM318.0 440.4h2.0v1.3h-2.0zM324.0 440.4h4.0v1.3h-4.0zM284.0 441.7h12.0v1.3h-12.0zM312.0 441.7h8.0v1.3h-8.0zM324.0 441.7h4.0v1.3h-4.0z"/>
<path fill="#2166ac" d="M296.0 365.0h4.0v1.3h-4.0zM268.0 366.3h2.0v1.3h-2.0zM298.0 367.6h2.0v1.3h-2.0zM296.0 371.5h4.0v1.3h-4.0zM298.0 372.8h2.0v1.3h-2.0zM296.0 375.4h2.0v1.3h-2.0zM312.0 376.7h2.0v1.3h-2.0zM312.0 378.0h4.0v1.3h-4.0zM268.0 379.3h2.0v1.3h-2.0zM312.0 379.3h2.0v1.3h-2.0zM268.0 383.2h4.0v1.3h-4.0zM268.0 384.5h2.0v1.3h-2.0zM268.0 385.8h2.0v1.3h-2.0z"/>
<path fill="#f4a582" d="M278.0 366.3h4.0v1.3h-4.0zM312.0 366.3h2.0v1.3h-2.0zM276.0 367.6h6.0v1.3h-6.0zM312.0 367.6h2.0v1.3h-2.0zM276.0 368.9h2.0v1.3h-2.0zM278.0 370.2h2.0v1.3h-2.0zM280.0 372.8h2.0v1.3h-2.0zM284.0 372.8h2.0v1.3h-2.0zM290.0 372.8h2.0v1.3h-2.0zM312.0 372.8h2.0v1.3h-2.0zM316.0 372.8h2.0v1.3h-2.0zM320.0 372.8h2.0v1.3h-2.0zM278.0 375.4h6.0v1.3h-6.0zM326.0 375.4h2.0v1.3h-2.0zM292.0 376.7h2.0v1.3h-2.0zM280.0 380.6h2.0v1.3h-2.0zM306.0 380.6h2.0v1.3h-2.0zM316.0 380.6h4.0v1.3h-4.0zM294.0 381.9h2.0v1.3h-2.0zM298.0 381.9h2.0v1.3h-2.0zM306.0 381.9h2.0v1.3h-2.0zM318.0 381.9h6.0v1.3h-6.0zM318.0 383.2h2.0v1.3h-2.0zM276.0 384.5h4.0v1.3h-4.0zM316.0 384.5h2.0v1.3h-2.0zM316.0 385.8h4.0v1.3h-4.0zM276.0 387.1h4.0v1.3h-4.0zM316.0 387.1h8.0v1.3h-8.0zM278.0 388.4h2.0v1.3h-2.0zM316.0 388.4h2.0v1.3h-2.0zM272.0 389.7h2.0v1.3h-2.0zM276.0 389.7h4.0v1.3h-4.0zM276.0 391.0h4.0v1.3h-4.0zM292.0 391.0h4.0v1.3h-4.0zM272.0 392.3h12.0v1.3h-12.0zM294.0 392.3h2.0v1.3h-2.0zM298.0 392.3h2.0v1.3h-2.0zM278.0 393.6h4.0v1.3h-4.0zM292.0 393.6h4.0v1.3h-4.0zM298.0 393.6h4.0v1.3h-4.0zM310.0 393.6h12.0v1.3h-12.0zM272.0 394.9h2.0v1.3h-2.0zM300.0 394.9h8.0v1.3h-8.0zM318.0 394.9h4.0v1.3h-4.0zM272.0 396.2h2.0v1.3h-2.0zM286.0 397.5h4.0v1.3h-4.0zM322.0 397.5h2.0v1.3h-2.0zM272.0 398.8h6.0v1.3h-6.0zM322.0 398.8h2.0v1.3h-2.0zM268.0 400.1h2.0v1.3h-2.0zM272.0 400.1h2.0v1.3h-2.0zM276.0 400.1h6.0v1.3h-6.0zM272.0 401.4h6.0v1.3h-6.0zM276.0 404.0h4.0v1.3h-4.0zM326.0 404.0h2.0v1.3h-2.0zM272.0 405.3h2.0v1.3h-2.0zM276.0 405.3h12.0v1.3h-12.0zM322.0 405.3h2.0v1.3h-2.0zM272.0 406.6h4.0v1.3h-4.0zM322.0 406.6h6.0v1.3h-6.0zM276.0 409.2h4.0v1.3h-4.0zM288.0 409.2h2.0v1.3h-2.0zM276.0 410.5h4.0v1.3h-4.0zM270.0 411.8h2.0v1.3h-2.0zM278.0 411.8h2.0v1.3h-2.0zM276.0 413.1h4.0v1.3h-4.0zM290.0 413.1h2.0v1.3h-2.0zM274.0 414.4h4.0v1.3h-4.0zM282.0 414.4h2.0v1.3h-2.0zM270.0 415.7h2.0v1.3h-2.0zM268.0 417.0h2.0v1.3h-2.0zM280.0 417.0h6.0v1.3h-6.0zM268.0 418.3h2.0v1.3h-2.0zM278.0 418.3h10.0v1.3h-10.0zM268.0 419.6h2.0v1.3h-2.0zM272.0 419.6h4.0v1.3h-4.0zM284.0 419.6h4.0v1.3h-4.0zM272.0 420.9h4.0v1.3h-4.0zM272.0 422.2h4.0v1.3h-4.0zM280.0 422.2h8.0v1.3h-8.0zM272.0 423.5h2.0v1.3h-2.0zM276.0 424.8h4.0v1.3h-4.0zM268.0 428.7h2.0v1.3h-2.0zM274.0 428.7h2.0v1.3h-2.0zM280.0 428.7h4.0v1.3h-4.0zM286.0 428.7h2.0v1.3h-2.0zM274.0 430.0h2.0v1.3h-2.0zM280.0 430.0h4.0v1.3h-4.0zM286.0 430.0h2.0v1.3h-2.0zM276.0 431.3h8.0v1.3h-8.0zM276.0 432.6h8.0v1.3h-8.0zM272.0 433.9h2.0v1.3h-2.0zM276.0 433.9h4.0v1.3h-4.0zM282.0 433.9h2.0v1.3h-2.0zM308.0 433.9h4.0v1.3h-4.0zM274.0 435.2h2.0v1.3h-2.0zM294.0 435.2h4.0v1.3h-4.0zM278.0 436.5h2.0v1.3h-2.0zM288.0 436.5h2.0v1.3h-2.0zM308.0 436.5h4.0v1.3h-4.0zM326.0 436.5h2.0v1.3h-2.0zM276.0 437.8h4.0v1.3h-4.0zM324.0 437.8h4.0v1.3h-4.0zM276.0 439.1h2.0v1.3h-2.0zM288.0 439.1h2.0v1.3h-2.0zM302.0 439.1h2.0v1.3h-2.0zM276.0 440.4h2.0v1.3h-2.0zM308.0 440.4h2.0v1.3h-2.0zM272.0 441.7h8.0v1.3h-8.0z"/>
<path fill="#053061" d="M268.0 367.6h2.0v1.3h-2.0z"/>
<path fill="#ffffff" d="M266.0 370.2h2.0v1.3h-2.0zM264.0 384.5h2.0v1.3h-2.0z"/>
<path fill="#d6604d" d="M280.0 383.2h4.0v1.3h-4.0zM276.0 385.8h4.0v1.3h-4.0zM274.0 389.7h2.0v1.3h-2.0zM280.0 389.7h4.0v1.3h-4.0zM292.0 389.7h4.0v1.3h-4.0zM298.0 389.7h2.0v1.3h-2.0zM272.0 391.0h4.0v1.3h-4.0zM292.0 392.3h2.0v1.3h-2.0zM272.0 393.6h4.0v1.3h-4.0zM322.0 393.6h2.0v1.3h-2.0zM276.0 394.9h4.0v1.3h-4.0zM294.0 394.9h2.0v1.3h-2.0zM322.0 394.9h2.0v1.3h-2.0zM294.0 396.2h2.0v1.3h-2.0zM320.0 396.2h2.0v1.3h-2.0zM282.0 400.1h2.0v1.3h-2.0zM278.0 401.4h2.0v1.3h-2.0zM320.0 404.0h4.0v1.3h-4.0zM320.0 405.3h2.0v1.3h-2.0zM278.0 406.6h2.0v1.3h-2.0zM320.0 406.6h2.0v1.3h-2.0zM272.0 407.9h4.0v1.3h-4.0zM272.0 409.2h4.0v1.3h-4.0zM272.0 410.5h2.0v1.3h-2.0zM286.0 411.8h2.0v1.3h-2.0zM278.0 414.4h2.0v1.3h-2.0zM300.0 415.7h4.0v1.3h-4.0zM276.0 417.0h4.0v1.3h-4.0zM286.0 417.0h2.0v1.3h-2.0zM300.0 417.0h2.0v1.3h-2.0zM276.0 418.3h2.0v1.3h-2.0zM300.0 418.3h2.0v1.3h-2.0zM270.0 419.6h2.0v1.3h-2.0zM276.0 419.6h2.0v1.3h-2.0zM268.0 420.9h4.0v1.3h-4.0zM276.0 420.9h4.0v1.3h-4.0zM268.0 422.2h4.0v1.3h-4.0zM276.0 422.2h4.0v1.3h-4.0zM274.0 423.5h2.0v1.3h-2.0zM280.0 423.5h4.0v1.3h-4.0zM294.0 423.5h2.0v1.3h-2.0zM272.0 424.8h2.0v1.3h-2.0zM280.0 424.8h4.0v1.3h-4.0zM292.0 424.8h2.0v1.3h-2.0zM272.0 426.1h4.0v1.3h-4.0zM280.0 426.1h4.0v1.3h-4.0zM300.0 427.4h4.0v1.3h-4.0zM324.0 427.4h2.0v1.3h-2.0zM270.0 428.7h2.0v1.3h-2.0zM300.0 428.7h4.0v1.3h-4.0zM326.0 428.7h2.0v1.3h-2.0zM302.0 430.0h2.0v1.3h-2.0zM272.0 431.3h4.0v1.3h-4.0zM272.0 432.6h4.0v1.3h-4.0zM274.0 433.9h2.0v1.3h-2.0zM276.0 435.2h4.0v1.3h-4.0zM274.0 436.5h4.0v1.3h-4.0zM274.0 437.8h2.0v1.3h-2.0zM278.0 440.4h2.0v1.3h-2.0z"/>
<path fill="#b2182b" d="M296.0 389.7h2.0v1.3h-2.0zM280.0 391.0h4.0v1.3h-4.0zM296.0 391.0h4.0v1.3h-4.0zM288.0 392.3h2.0v1.3h-2.0zM320.0 392.3h4.0v1.3h-4.0zM276.0 393.6h2.0v1.3h-2.0zM288.0 393.6h2.0v1.3h-2.0zM288.0 394.9h2.0v1.3h-2.0zM292.0 394.9h2.0v1.3h-2.0zM292.0 396.2h2.0v1.3h-2.0zM292.0 397.5h4.0v1.3h-4.0zM292.0 398.8h4.0v1.3h-4.0zM278.0 402.7h2.0v1.3h-2.0zM324.0 404.0h2.0v1.3h-2.0zM324.0 405.3h4.0v1.3h-4.0zM276.0 406.6h2.0v1.3h-2.0zM280.0 413.1h8.0v1.3h-8.0zM280.0 414.4h2.0v1.3h-2.0zM284.0 414.4h8.0v1.3h-8.0zM270.0 417.0h2.0v1.3h-2.0zM270.0 418.3h2.0v1.3h-2.0zM268.0 427.4h4.0v1.3h-4.0zM280.0 427.4h4.0v1.3h-4.0zM326.0 427.4h2.0v1.3h-2.0zM324.0 428.7h2.0v1.3h-2.0zM268.0 430.0h4.0v1.3h-4.0zM300.0 430.0h2.0v1.3h-2.0zM324.0 430.0h4.0v1.3h-4.0zM278.0 439.1h2.0v1.3h-2.0zM296.0 441.7h2.0v1.3h-2.0z"/>
<path fill="#67001f" d="M290.0 392.3h2.0v1.3h-2.0zM290.0 393.6h2.0v1.3h-2.0zM290.0 394.9h2.0v1.3h-2.0z"/>
<path fill="#e2ebf3" d="M296.0 404.0h2.0v1.3h-2.0zM304.0 410.5h2.0v1.3h-2.0zM316.0 410.5h2.0v1.3h-2.0zM304.0 411.8h2.0v1.3h-2.0zM310.0 414.4h4.0v1.3h-4.0zM326.0 417.0h2.0v1.3h-2.0zM326.0 418.3h2.0v1.3h-2.0zM294.0 419.6h6.0v1.3h-6.0zM302.0 423.5h2.0v1.3h-2.0zM324.0 423.5h2.0v1.3h-2.0zM266.0 430.0h2.0v1.3h-2.0zM296.0 431.3h2.0v1.3h-2.0zM292.0 433.9h4.0v1.3h-4.0zM302.0 433.9h2.0v1.3h-2.0z"/>
<path d="M258.5 366.5h5M258.5 410.1h5" stroke="#f0d2c4" stroke-width="0.9" fill="none"/>
<path d="M258.5 370.5h5M258.5 403.3h5" stroke="#d2e6cc" stroke-width="0.9" fill="none"/>
<path d="M258.5 373.7h5M258.5 418.9h5M258.5 422.9h5" stroke="#e2cce2" stroke-width="0.9" fill="none"/>
<path d="M258.5 376.9h5M258.5 380.1h5M258.5 388.5h5M258.5 391.7h5M258.5 414.5h5M258.5 430.5h5M258.5 434.9h5M258.5 438.5h5" stroke="#cfcfd8" stroke-width="0.9" fill="none"/>
<path d="M258.5 384.1h5M258.5 406.5h5" stroke="#c8e0e8" stroke-width="0.9" fill="none"/>
<path d="M258.5 395.3h5M258.5 399.3h5M258.5 427.3h5" stroke="#ece0b8" stroke-width="0.9" fill="none"/>
<path d="M368.8 349.7V346.3H402.4V349.7" fill="none" stroke="#a8a8a8" stroke-width="0.55"/>
<rect x="355" y="357.5" width="61.0" height="7.5" fill="#e0e0e0"/>
<path d="M373.5 364.7V361.7H375.1V364.7M359.0 364.7V360.6H360.6V364.7M357.4 364.7V359.8H359.8V360.6M383.1 364.7V359.1H384.7V364.7M374.3 361.7V358.5H376.7V364.7M387.9 364.7V358.0H389.5V364.7M362.2 364.7V357.5H363.8V364.7M404.0 364.7V357.1H405.6V364.7M386.3 364.7V356.7H388.7V358.0M392.7 364.7V356.3H394.3V364.7M367.0 364.7V355.9H368.6V364.7M400.8 364.7V355.5H402.4V364.7M367.8 355.9V355.2H370.2V364.7M363.0 357.5V354.9H365.4V364.7M407.2 364.7V354.6H408.8V364.7M383.9 359.1V354.3H387.5V356.7M397.5 364.7V354.0H399.1V364.7M369.0 355.2V353.7H371.9V364.7M385.7 354.3V353.4H391.1V364.7M410.4 364.7V353.2H412.0V364.7M401.6 355.5V352.9H404.8V357.1M370.5 353.7V352.7H375.5V358.5M398.3 354.0V352.4H403.2V352.9M413.6 364.7V352.2H415.2V364.7M378.3 364.7V352.0H379.9V364.7M379.1 352.0V351.7H381.5V364.7M388.4 353.4V351.5H393.5V356.3M400.8 352.4V351.3H408.0V354.6M364.2 354.9V351.1H373.0V352.7M404.4 351.3V350.9H411.2V353.2M368.6 351.1V350.7H380.3V351.7M355.8 364.7V350.5H358.6V359.8M374.4 350.7V350.3H391.0V351.5M395.9 364.7V350.1H407.8V350.9M401.9 350.1V349.9H414.4V352.2M357.2 350.5V349.7H382.7V350.3M370.0 349.7V349.5H408.1V349.9" fill="none" stroke="#c8c8c8" stroke-width="0.7"/>
<path d="M416.5 438.1H420.5V440.7H416.5M416.5 407.4H421.6V409.9H416.5M416.5 391.9H422.4V394.5H416.5M416.5 402.2H423.0V404.8H416.5M416.5 368.9H423.5V371.4H416.5M416.5 412.5H424.0V415.1H416.5M416.5 425.3H424.4V427.9H416.5M422.4 393.2H424.8V397.1H416.5M416.5 381.7H425.1V384.2H416.5M424.8 395.2H425.5V399.6H416.5M416.5 376.6H425.8V379.1H416.5M416.5 366.3H426.0V370.1H423.5M425.1 383.0H426.3V386.8H416.5M416.5 422.8H426.6V426.6H424.4M416.5 430.4H426.8V433.0H416.5M425.5 397.4H427.1V403.5H423.0M416.5 420.2H427.3V424.7H426.6M426.8 431.7H427.5V435.6H416.5M426.3 384.9H427.7V389.4H416.5M421.6 408.6H427.9V413.8H424.0M426.0 368.2H428.1V374.0H416.5M428.1 371.1H428.3V377.8H425.8M416.5 417.6H428.5V422.4H427.3M427.7 387.1H428.7V400.5H427.1M427.9 411.2H428.8V420.0H428.5M428.3 374.5H429.0V393.8H428.7M429.0 384.1H429.2V415.6H428.8M429.2 399.9H429.3V433.7H427.5M429.3 416.8H429.5V439.4H420.5" fill="none" stroke="#bfbfbf" stroke-width="0.75"/>
<rect x="354" y="365" width="64.00" height="77.00" fill="#d1e5f0"/>
<path fill="#f7f7f7" d="M354.0 365.0h6.0v1.4h-6.0zM362.0 365.0h8.0v1.4h-8.0zM374.0 365.0h2.0v1.4h-2.0zM378.0 365.0h4.0v1.4h-4.0zM386.0 365.0h4.0v1.4h-4.0zM394.0 365.0h4.0v1.4h-4.0zM400.0 365.0h2.0v1.4h-2.0zM404.0 365.0h2.0v1.4h-2.0zM410.0 365.0h2.0v1.4h-2.0zM414.0 365.0h4.0v1.4h-4.0zM356.0 366.4h2.0v1.4h-2.0zM368.0 366.4h2.0v1.4h-2.0zM398.0 366.4h2.0v1.4h-2.0zM402.0 366.4h2.0v1.4h-2.0zM410.0 366.4h2.0v1.4h-2.0zM414.0 366.4h4.0v1.4h-4.0zM360.0 367.7h2.0v1.4h-2.0zM398.0 367.7h2.0v1.4h-2.0zM354.0 369.1h2.0v1.4h-2.0zM402.0 370.4h2.0v1.4h-2.0zM414.0 370.4h2.0v1.4h-2.0zM378.0 371.8h2.0v1.4h-2.0zM396.0 371.8h2.0v1.4h-2.0zM414.0 371.8h4.0v1.4h-4.0zM384.0 373.1h2.0v1.4h-2.0zM404.0 373.1h2.0v1.4h-2.0zM354.0 374.5h4.0v1.4h-4.0zM390.0 374.5h6.0v1.4h-6.0zM354.0 375.8h4.0v1.4h-4.0zM378.0 375.8h2.0v1.4h-2.0zM386.0 375.8h4.0v1.4h-4.0zM394.0 375.8h2.0v1.4h-2.0zM378.0 377.2h4.0v1.4h-4.0zM414.0 377.2h4.0v1.4h-4.0zM354.0 378.5h2.0v1.4h-2.0zM362.0 378.5h2.0v1.4h-2.0zM388.0 378.5h2.0v1.4h-2.0zM354.0 379.9h2.0v1.4h-2.0zM358.0 379.9h2.0v1.4h-2.0zM378.0 379.9h4.0v1.4h-4.0zM388.0 379.9h2.0v1.4h-2.0zM358.0 381.2h8.0v1.4h-8.0zM370.0 381.2h6.0v1.4h-6.0zM384.0 381.2h2.0v1.4h-2.0zM388.0 381.2h8.0v1.4h-8.0zM398.0 381.2h4.0v1.4h-4.0zM406.0 381.2h12.0v1.4h-12.0zM360.0 382.6h2.0v1.4h-2.0zM370.0 382.6h2.0v1.4h-2.0zM374.0 382.6h8.0v1.4h-8.0zM384.0 382.6h8.0v1.4h-8.0zM394.0 382.6h2.0v1.4h-2.0zM398.0 382.6h4.0v1.4h-4.0zM404.0 382.6h6.0v1.4h-6.0zM414.0 382.6h4.0v1.4h-4.0zM358.0 383.9h4.0v1.4h-4.0zM382.0 383.9h2.0v1.4h-2.0zM396.0 383.9h2.0v1.4h-2.0zM358.0 385.3h2.0v1.4h-2.0zM384.0 385.3h2.0v1.4h-2.0zM358.0 386.6h4.0v1.4h-4.0zM374.0 386.6h4.0v1.4h-4.0zM384.0 386.6h2.0v1.4h-2.0zM358.0 388.0h12.0v1.4h-12.0zM374.0 388.0h2.0v1.4h-2.0zM378.0 388.0h2.0v1.4h-2.0zM382.0 388.0h2.0v1.4h-2.0zM386.0 388.0h4.0v1.4h-4.0zM392.0 388.0h4.0v1.4h-4.0zM370.0 392.0h4.0v1.4h-4.0zM384.0 393.4h10.0v1.4h-10.0zM386.0 394.7h8.0v1.4h-8.0zM358.0 396.1h2.0v1.4h-2.0zM362.0 396.1h4.0v1.4h-4.0zM368.0 396.1h4.0v1.4h-4.0zM374.0 396.1h6.0v1.4h-6.0zM382.0 396.1h16.0v1.4h-16.0zM362.0 397.4h4.0v1.4h-4.0zM374.0 397.4h2.0v1.4h-2.0zM382.0 397.4h4.0v1.4h-4.0zM358.0 398.8h2.0v1.4h-2.0zM362.0 398.8h2.0v1.4h-2.0zM384.0 398.8h2.0v1.4h-2.0zM392.0 398.8h2.0v1.4h-2.0zM358.0 400.1h4.0v1.4h-4.0zM358.0 401.5h2.0v1.4h-2.0zM362.0 402.8h2.0v1.4h-2.0zM390.0 402.8h2.0v1.4h-2.0zM382.0 404.2h2.0v1.4h-2.0zM390.0 404.2h4.0v1.4h-4.0zM398.0 404.2h2.0v1.4h-2.0zM390.0 405.5h2.0v1.4h-2.0zM398.0 405.5h2.0v1.4h-2.0zM364.0 406.9h4.0v1.4h-4.0zM370.0 406.9h2.0v1.4h-2.0zM382.0 406.9h2.0v1.4h-2.0zM364.0 408.2h4.0v1.4h-4.0zM372.0 408.2h2.0v1.4h-2.0zM388.0 408.2h4.0v1.4h-4.0zM370.0 409.6h4.0v1.4h-4.0zM370.0 410.9h2.0v1.4h-2.0zM366.0 412.3h2.0v1.4h-2.0zM384.0 413.6h2.0v1.4h-2.0zM374.0 417.7h2.0v1.4h-2.0zM362.0 419.0h2.0v1.4h-2.0zM368.0 419.0h2.0v1.4h-2.0zM358.0 421.7h2.0v1.4h-2.0zM392.0 421.7h6.0v1.4h-6.0zM358.0 423.1h2.0v1.4h-2.0zM382.0 423.1h2.0v1.4h-2.0zM394.0 423.1h4.0v1.4h-4.0zM358.0 424.4h4.0v1.4h-4.0zM394.0 424.4h4.0v1.4h-4.0zM360.0 425.8h4.0v1.4h-4.0zM360.0 427.1h2.0v1.4h-2.0zM364.0 427.1h2.0v1.4h-2.0zM382.0 427.1h2.0v1.4h-2.0zM388.0 427.1h2.0v1.4h-2.0zM358.0 428.5h2.0v1.4h-2.0zM384.0 428.5h2.0v1.4h-2.0zM388.0 428.5h2.0v1.4h-2.0zM358.0 429.8h2.0v1.4h-2.0zM362.0 431.2h2.0v1.4h-2.0zM358.0 432.5h24.0v1.4h-24.0zM384.0 432.5h2.0v1.4h-2.0zM388.0 432.5h4.0v1.4h-4.0zM400.0 432.5h2.0v1.4h-2.0zM364.0 433.9h2.0v1.4h-2.0zM368.0 433.9h2.0v1.4h-2.0zM378.0 433.9h2.0v1.4h-2.0zM362.0 435.2h2.0v1.4h-2.0zM378.0 435.2h4.0v1.4h-4.0zM388.0 435.2h2.0v1.4h-2.0zM396.0 435.2h2.0v1.4h-2.0zM388.0 436.6h2.0v1.4h-2.0zM396.0 436.6h2.0v1.4h-2.0zM362.0 437.9h4.0v1.4h-4.0zM382.0 437.9h2.0v1.4h-2.0zM396.0 439.3h2.0v1.4h-2.0zM356.0 440.6h8.0v1.4h-8.0zM370.0 440.6h6.0v1.4h-6.0zM378.0 440.6h8.0v1.4h-8.0zM388.0 440.6h10.0v1.4h-10.0zM400.0 440.6h12.0v1.4h-12.0zM414.0 440.6h4.0v1.4h-4.0z"/>
<path fill="#fddbc7" d="M360.0 365.0h2.0v1.4h-2.0zM402.0 365.0h2.0v1.4h-2.0zM406.0 365.0h2.0v1.4h-2.0zM358.0 366.4h4.0v1.4h-4.0zM366.0 366.4h2.0v1.4h-2.0zM378.0 366.4h4.0v1.4h-4.0zM386.0 366.4h4.0v1.4h-4.0zM396.0 366.4h2.0v1.4h-2.0zM354.0 367.7h6.0v1.4h-6.0zM366.0 367.7h4.0v1.4h-4.0zM378.0 367.7h4.0v1.4h-4.0zM386.0 367.7h4.0v1.4h-4.0zM394.0 367.7h4.0v1.4h-4.0zM402.0 367.7h6.0v1.4h-6.0zM410.0 367.7h4.0v1.4h-4.0zM416.0 367.7h2.0v1.4h-2.0zM378.0 369.1h2.0v1.4h-2.0zM382.0 369.1h4.0v1.4h-4.0zM396.0 369.1h2.0v1.4h-2.0zM402.0 369.1h4.0v1.4h-4.0zM412.0 369.1h6.0v1.4h-6.0zM378.0 370.4h8.0v1.4h-8.0zM392.0 370.4h2.0v1.4h-2.0zM396.0 370.4h2.0v1.4h-2.0zM404.0 370.4h2.0v1.4h-2.0zM416.0 370.4h2.0v1.4h-2.0zM356.0 371.8h2.0v1.4h-2.0zM380.0 371.8h6.0v1.4h-6.0zM392.0 371.8h4.0v1.4h-4.0zM402.0 371.8h4.0v1.4h-4.0zM378.0 373.1h6.0v1.4h-6.0zM390.0 373.1h8.0v1.4h-8.0zM402.0 373.1h2.0v1.4h-2.0zM406.0 373.1h4.0v1.4h-4.0zM414.0 373.1h4.0v1.4h-4.0zM378.0 374.5h12.0v1.4h-12.0zM396.0 374.5h2.0v1.4h-2.0zM406.0 374.5h4.0v1.4h-4.0zM414.0 374.5h4.0v1.4h-4.0zM380.0 375.8h2.0v1.4h-2.0zM384.0 375.8h2.0v1.4h-2.0zM396.0 375.8h2.0v1.4h-2.0zM404.0 375.8h6.0v1.4h-6.0zM414.0 375.8h4.0v1.4h-4.0zM356.0 377.2h2.0v1.4h-2.0zM376.0 377.2h2.0v1.4h-2.0zM384.0 377.2h2.0v1.4h-2.0zM388.0 377.2h2.0v1.4h-2.0zM394.0 377.2h2.0v1.4h-2.0zM406.0 377.2h4.0v1.4h-4.0zM356.0 378.5h2.0v1.4h-2.0zM364.0 378.5h2.0v1.4h-2.0zM374.0 378.5h4.0v1.4h-4.0zM386.0 378.5h2.0v1.4h-2.0zM408.0 378.5h2.0v1.4h-2.0zM414.0 378.5h4.0v1.4h-4.0zM356.0 379.9h2.0v1.4h-2.0zM360.0 379.9h6.0v1.4h-6.0zM374.0 379.9h4.0v1.4h-4.0zM382.0 379.9h6.0v1.4h-6.0zM408.0 379.9h2.0v1.4h-2.0zM414.0 379.9h4.0v1.4h-4.0zM376.0 381.2h8.0v1.4h-8.0zM386.0 381.2h2.0v1.4h-2.0zM402.0 381.2h2.0v1.4h-2.0zM382.0 382.6h2.0v1.4h-2.0zM396.0 382.6h2.0v1.4h-2.0zM402.0 382.6h2.0v1.4h-2.0zM378.0 383.9h4.0v1.4h-4.0zM386.0 383.9h2.0v1.4h-2.0zM394.0 383.9h2.0v1.4h-2.0zM398.0 383.9h10.0v1.4h-10.0zM414.0 383.9h4.0v1.4h-4.0zM360.0 385.3h2.0v1.4h-2.0zM366.0 385.3h4.0v1.4h-4.0zM374.0 385.3h4.0v1.4h-4.0zM382.0 385.3h2.0v1.4h-2.0zM366.0 386.6h2.0v1.4h-2.0zM382.0 386.6h2.0v1.4h-2.0zM384.0 388.0h2.0v1.4h-2.0zM358.0 389.3h2.0v1.4h-2.0zM370.0 389.3h4.0v1.4h-4.0zM382.0 389.3h8.0v1.4h-8.0zM358.0 390.7h6.0v1.4h-6.0zM370.0 390.7h4.0v1.4h-4.0zM382.0 390.7h8.0v1.4h-8.0zM358.0 392.0h4.0v1.4h-4.0zM386.0 392.0h4.0v1.4h-4.0zM370.0 393.4h2.0v1.4h-2.0zM378.0 393.4h6.0v1.4h-6.0zM358.0 394.7h2.0v1.4h-2.0zM372.0 394.7h2.0v1.4h-2.0zM378.0 394.7h4.0v1.4h-4.0zM384.0 394.7h2.0v1.4h-2.0zM372.0 396.1h2.0v1.4h-2.0zM358.0 397.4h4.0v1.4h-4.0zM360.0 398.8h2.0v1.4h-2.0zM364.0 398.8h2.0v1.4h-2.0zM374.0 398.8h4.0v1.4h-4.0zM382.0 398.8h2.0v1.4h-2.0zM362.0 400.1h4.0v1.4h-4.0zM376.0 400.1h2.0v1.4h-2.0zM382.0 400.1h4.0v1.4h-4.0zM390.0 400.1h4.0v1.4h-4.0zM366.0 401.5h2.0v1.4h-2.0zM370.0 401.5h4.0v1.4h-4.0zM382.0 401.5h8.0v1.4h-8.0zM398.0 401.5h4.0v1.4h-4.0zM358.0 402.8h4.0v1.4h-4.0zM364.0 402.8h2.0v1.4h-2.0zM370.0 402.8h4.0v1.4h-4.0zM378.0 402.8h2.0v1.4h-2.0zM382.0 402.8h4.0v1.4h-4.0zM398.0 402.8h4.0v1.4h-4.0zM358.0 404.2h10.0v1.4h-10.0zM370.0 404.2h4.0v1.4h-4.0zM378.0 404.2h2.0v1.4h-2.0zM384.0 404.2h6.0v1.4h-6.0zM400.0 404.2h2.0v1.4h-2.0zM360.0 405.5h8.0v1.4h-8.0zM370.0 405.5h6.0v1.4h-6.0zM380.0 405.5h10.0v1.4h-10.0zM400.0 405.5h2.0v1.4h-2.0zM372.0 406.9h10.0v1.4h-10.0zM386.0 406.9h4.0v1.4h-4.0zM358.0 408.2h4.0v1.4h-4.0zM368.0 408.2h4.0v1.4h-4.0zM374.0 408.2h8.0v1.4h-8.0zM386.0 408.2h2.0v1.4h-2.0zM392.0 408.2h4.0v1.4h-4.0zM362.0 409.6h8.0v1.4h-8.0zM386.0 409.6h4.0v1.4h-4.0zM362.0 410.9h4.0v1.4h-4.0zM372.0 410.9h2.0v1.4h-2.0zM386.0 410.9h4.0v1.4h-4.0zM360.0 412.3h4.0v1.4h-4.0zM386.0 412.3h2.0v1.4h-2.0zM362.0 413.6h2.0v1.4h-2.0zM372.0 413.6h2.0v1.4h-2.0zM386.0 413.6h4.0v1.4h-4.0zM362.0 415.0h4.0v1.4h-4.0zM370.0 415.0h2.0v1.4h-2.0zM386.0 415.0h2.0v1.4h-2.0zM362.0 416.3h4.0v1.4h-4.0zM386.0 416.3h2.0v1.4h-2.0zM358.0 417.7h2.0v1.4h-2.0zM366.0 417.7h2.0v1.4h-2.0zM370.0 417.7h2.0v1.4h-2.0zM376.0 417.7h2.0v1.4h-2.0zM382.0 417.7h6.0v1.4h-6.0zM390.0 417.7h4.0v1.4h-4.0zM366.0 419.0h2.0v1.4h-2.0zM370.0 419.0h2.0v1.4h-2.0zM376.0 419.0h2.0v1.4h-2.0zM382.0 419.0h6.0v1.4h-6.0zM390.0 419.0h4.0v1.4h-4.0zM366.0 420.4h6.0v1.4h-6.0zM374.0 420.4h4.0v1.4h-4.0zM390.0 420.4h4.0v1.4h-4.0zM360.0 421.7h2.0v1.4h-2.0zM366.0 421.7h2.0v1.4h-2.0zM370.0 421.7h4.0v1.4h-4.0zM378.0 421.7h2.0v1.4h-2.0zM382.0 421.7h4.0v1.4h-4.0zM390.0 421.7h2.0v1.4h-2.0zM366.0 423.1h6.0v1.4h-6.0zM378.0 423.1h2.0v1.4h-2.0zM390.0 423.1h4.0v1.4h-4.0zM366.0 424.4h8.0v1.4h-8.0zM378.0 424.4h8.0v1.4h-8.0zM392.0 424.4h2.0v1.4h-2.0zM358.0 425.8h2.0v1.4h-2.0zM364.0 425.8h2.0v1.4h-2.0zM382.0 425.8h6.0v1.4h-6.0zM362.0 427.1h2.0v1.4h-2.0zM360.0 428.5h6.0v1.4h-6.0zM360.0 429.8h2.0v1.4h-2.0zM366.0 429.8h4.0v1.4h-4.0zM384.0 429.8h10.0v1.4h-10.0zM396.0 429.8h2.0v1.4h-2.0zM360.0 431.2h2.0v1.4h-2.0zM364.0 431.2h6.0v1.4h-6.0zM382.0 431.2h4.0v1.4h-4.0zM388.0 431.2h2.0v1.4h-2.0zM386.0 432.5h2.0v1.4h-2.0zM394.0 432.5h6.0v1.4h-6.0zM362.0 433.9h2.0v1.4h-2.0zM370.0 433.9h2.0v1.4h-2.0zM386.0 433.9h2.0v1.4h-2.0zM394.0 433.9h2.0v1.4h-2.0zM364.0 435.2h2.0v1.4h-2.0zM382.0 435.2h2.0v1.4h-2.0zM386.0 435.2h2.0v1.4h-2.0zM394.0 435.2h2.0v1.4h-2.0zM364.0 436.6h6.0v1.4h-6.0zM382.0 436.6h2.0v1.4h-2.0zM384.0 437.9h8.0v1.4h-8.0zM400.0 437.9h6.0v1.4h-6.0zM364.0 439.3h2.0v1.4h-2.0zM374.0 439.3h2.0v1.4h-2.0zM386.0 439.3h6.0v1.4h-6.0zM394.0 439.3h2.0v1.4h-2.0zM398.0 439.3h6.0v1.4h-6.0zM412.0 439.3h2.0v1.4h-2.0zM364.0 440.6h4.0v1.4h-4.0zM376.0 440.6h2.0v1.4h-2.0zM386.0 440.6h2.0v1.4h-2.0zM398.0 440.6h2.0v1.4h-2.0zM412.0 440.6h2.0v1.4h-2.0z"/>
<path fill="#92c5de" d="M370.0 365.0h4.0v1.4h-4.0zM376.0 365.0h2.0v1.4h-2.0zM362.0 366.4h4.0v1.4h-4.0zM370.0 366.4h8.0v1.4h-8.0zM362.0 367.7h4.0v1.4h-4.0zM372.0 367.7h2.0v1.4h-2.0zM376.0 367.7h2.0v1.4h-2.0zM370.0 369.1h2.0v1.4h-2.0zM374.0 369.1h4.0v1.4h-4.0zM398.0 369.1h4.0v1.4h-4.0zM374.0 370.4h2.0v1.4h-2.0zM398.0 370.4h4.0v1.4h-4.0zM366.0 371.8h2.0v1.4h-2.0zM376.0 371.8h2.0v1.4h-2.0zM364.0 373.1h6.0v1.4h-6.0zM374.0 373.1h4.0v1.4h-4.0zM410.0 373.1h4.0v1.4h-4.0zM374.0 374.5h4.0v1.4h-4.0zM398.0 374.5h4.0v1.4h-4.0zM410.0 374.5h4.0v1.4h-4.0zM362.0 375.8h2.0v1.4h-2.0zM398.0 375.8h4.0v1.4h-4.0zM410.0 375.8h4.0v1.4h-4.0zM370.0 377.2h4.0v1.4h-4.0zM366.0 378.5h8.0v1.4h-8.0zM398.0 378.5h8.0v1.4h-8.0zM370.0 379.9h4.0v1.4h-4.0zM392.0 379.9h2.0v1.4h-2.0zM354.0 397.4h4.0v1.4h-4.0zM378.0 397.4h2.0v1.4h-2.0zM398.0 397.4h12.0v1.4h-12.0zM412.0 397.4h6.0v1.4h-6.0zM406.0 401.5h2.0v1.4h-2.0zM412.0 401.5h6.0v1.4h-6.0zM406.0 402.8h4.0v1.4h-4.0zM414.0 402.8h4.0v1.4h-4.0zM406.0 404.2h4.0v1.4h-4.0zM416.0 404.2h2.0v1.4h-2.0zM394.0 413.6h8.0v1.4h-8.0zM406.0 413.6h2.0v1.4h-2.0zM412.0 413.6h6.0v1.4h-6.0zM400.0 415.0h14.0v1.4h-14.0zM416.0 415.0h2.0v1.4h-2.0zM394.0 416.3h2.0v1.4h-2.0zM400.0 416.3h8.0v1.4h-8.0zM412.0 416.3h6.0v1.4h-6.0zM354.0 420.4h4.0v1.4h-4.0zM398.0 420.4h16.0v1.4h-16.0zM416.0 420.4h2.0v1.4h-2.0zM354.0 427.1h4.0v1.4h-4.0zM390.0 427.1h12.0v1.4h-12.0zM404.0 427.1h2.0v1.4h-2.0zM408.0 427.1h6.0v1.4h-6.0zM354.0 428.5h2.0v1.4h-2.0zM390.0 428.5h2.0v1.4h-2.0zM394.0 428.5h14.0v1.4h-14.0zM412.0 428.5h6.0v1.4h-6.0z"/>
<path fill="#d6604d" d="M398.0 365.0h2.0v1.4h-2.0zM400.0 366.4h2.0v1.4h-2.0zM406.0 366.4h4.0v1.4h-4.0zM410.0 370.4h4.0v1.4h-4.0zM402.0 374.5h2.0v1.4h-2.0zM402.0 375.8h2.0v1.4h-2.0zM364.0 385.3h2.0v1.4h-2.0zM380.0 385.3h2.0v1.4h-2.0zM388.0 385.3h2.0v1.4h-2.0zM392.0 385.3h2.0v1.4h-2.0zM380.0 386.6h2.0v1.4h-2.0zM386.0 386.6h4.0v1.4h-4.0zM392.0 386.6h2.0v1.4h-2.0zM380.0 388.0h2.0v1.4h-2.0zM364.0 389.3h6.0v1.4h-6.0zM374.0 389.3h8.0v1.4h-8.0zM364.0 390.7h6.0v1.4h-6.0zM376.0 390.7h2.0v1.4h-2.0zM362.0 392.0h4.0v1.4h-4.0zM374.0 392.0h2.0v1.4h-2.0zM396.0 392.0h2.0v1.4h-2.0zM362.0 393.4h2.0v1.4h-2.0zM374.0 393.4h4.0v1.4h-4.0zM362.0 394.7h2.0v1.4h-2.0zM370.0 394.7h2.0v1.4h-2.0zM394.0 394.7h2.0v1.4h-2.0zM370.0 397.4h4.0v1.4h-4.0zM366.0 398.8h4.0v1.4h-4.0zM386.0 398.8h4.0v1.4h-4.0zM372.0 400.1h4.0v1.4h-4.0zM386.0 400.1h4.0v1.4h-4.0zM374.0 401.5h4.0v1.4h-4.0zM394.0 401.5h4.0v1.4h-4.0zM374.0 402.8h2.0v1.4h-2.0zM358.0 409.6h2.0v1.4h-2.0zM374.0 409.6h6.0v1.4h-6.0zM376.0 410.9h6.0v1.4h-6.0zM380.0 412.3h2.0v1.4h-2.0zM358.0 413.6h2.0v1.4h-2.0zM366.0 413.6h4.0v1.4h-4.0zM374.0 413.6h2.0v1.4h-2.0zM366.0 415.0h2.0v1.4h-2.0zM374.0 415.0h4.0v1.4h-4.0zM380.0 415.0h2.0v1.4h-2.0zM360.0 416.3h2.0v1.4h-2.0zM370.0 416.3h12.0v1.4h-12.0zM360.0 417.7h2.0v1.4h-2.0zM378.0 417.7h2.0v1.4h-2.0zM394.0 417.7h4.0v1.4h-4.0zM358.0 419.0h4.0v1.4h-4.0zM388.0 419.0h2.0v1.4h-2.0zM394.0 419.0h2.0v1.4h-2.0zM358.0 420.4h4.0v1.4h-4.0zM380.0 420.4h4.0v1.4h-4.0zM386.0 420.4h4.0v1.4h-4.0zM394.0 420.4h2.0v1.4h-2.0zM374.0 421.7h2.0v1.4h-2.0zM386.0 421.7h4.0v1.4h-4.0zM400.0 421.7h2.0v1.4h-2.0zM374.0 423.1h2.0v1.4h-2.0zM386.0 423.1h4.0v1.4h-4.0zM374.0 424.4h2.0v1.4h-2.0zM386.0 424.4h4.0v1.4h-4.0zM366.0 425.8h6.0v1.4h-6.0zM376.0 425.8h6.0v1.4h-6.0zM372.0 427.1h6.0v1.4h-6.0zM380.0 427.1h2.0v1.4h-2.0zM366.0 428.5h4.0v1.4h-4.0zM380.0 428.5h2.0v1.4h-2.0zM370.0 429.8h2.0v1.4h-2.0zM380.0 431.2h2.0v1.4h-2.0zM390.0 431.2h4.0v1.4h-4.0zM392.0 432.5h2.0v1.4h-2.0zM360.0 433.9h2.0v1.4h-2.0zM380.0 433.9h2.0v1.4h-2.0zM390.0 433.9h2.0v1.4h-2.0zM360.0 435.2h2.0v1.4h-2.0zM370.0 435.2h4.0v1.4h-4.0zM376.0 435.2h2.0v1.4h-2.0zM374.0 436.6h2.0v1.4h-2.0zM384.0 436.6h2.0v1.4h-2.0zM390.0 436.6h2.0v1.4h-2.0zM354.0 437.9h8.0v1.4h-8.0zM372.0 437.9h2.0v1.4h-2.0zM378.0 437.9h2.0v1.4h-2.0zM358.0 439.3h2.0v1.4h-2.0zM366.0 439.3h4.0v1.4h-4.0zM372.0 439.3h2.0v1.4h-2.0zM354.0 440.6h2.0v1.4h-2.0zM368.0 440.6h2.0v1.4h-2.0z"/>
<path fill="#f4a582" d="M408.0 365.0h2.0v1.4h-2.0zM412.0 365.0h2.0v1.4h-2.0zM412.0 366.4h2.0v1.4h-2.0zM400.0 367.7h2.0v1.4h-2.0zM408.0 367.7h2.0v1.4h-2.0zM390.0 369.1h6.0v1.4h-6.0zM406.0 369.1h6.0v1.4h-6.0zM390.0 370.4h2.0v1.4h-2.0zM394.0 370.4h2.0v1.4h-2.0zM406.0 370.4h4.0v1.4h-4.0zM390.0 371.8h2.0v1.4h-2.0zM406.0 371.8h8.0v1.4h-8.0zM404.0 374.5h2.0v1.4h-2.0zM382.0 375.8h2.0v1.4h-2.0zM390.0 375.8h4.0v1.4h-4.0zM362.0 377.2h4.0v1.4h-4.0zM382.0 377.2h2.0v1.4h-2.0zM406.0 378.5h2.0v1.4h-2.0zM406.0 379.9h2.0v1.4h-2.0zM362.0 385.3h2.0v1.4h-2.0zM386.0 385.3h2.0v1.4h-2.0zM394.0 385.3h4.0v1.4h-4.0zM362.0 386.6h4.0v1.4h-4.0zM396.0 386.6h2.0v1.4h-2.0zM376.0 388.0h2.0v1.4h-2.0zM362.0 389.3h2.0v1.4h-2.0zM374.0 390.7h2.0v1.4h-2.0zM394.0 390.7h4.0v1.4h-4.0zM376.0 392.0h2.0v1.4h-2.0zM382.0 392.0h4.0v1.4h-4.0zM390.0 392.0h4.0v1.4h-4.0zM372.0 393.4h2.0v1.4h-2.0zM394.0 393.4h4.0v1.4h-4.0zM380.0 396.1h2.0v1.4h-2.0zM376.0 397.4h2.0v1.4h-2.0zM386.0 397.4h4.0v1.4h-4.0zM370.0 398.8h4.0v1.4h-4.0zM370.0 400.1h2.0v1.4h-2.0zM362.0 401.5h4.0v1.4h-4.0zM368.0 401.5h2.0v1.4h-2.0zM378.0 401.5h4.0v1.4h-4.0zM390.0 401.5h4.0v1.4h-4.0zM366.0 402.8h4.0v1.4h-4.0zM376.0 402.8h2.0v1.4h-2.0zM380.0 402.8h2.0v1.4h-2.0zM386.0 402.8h4.0v1.4h-4.0zM392.0 402.8h6.0v1.4h-6.0zM368.0 404.2h2.0v1.4h-2.0zM374.0 404.2h4.0v1.4h-4.0zM380.0 404.2h2.0v1.4h-2.0zM396.0 404.2h2.0v1.4h-2.0zM358.0 405.5h2.0v1.4h-2.0zM376.0 405.5h4.0v1.4h-4.0zM392.0 405.5h6.0v1.4h-6.0zM358.0 406.9h4.0v1.4h-4.0zM380.0 409.6h2.0v1.4h-2.0zM364.0 412.3h2.0v1.4h-2.0zM370.0 412.3h4.0v1.4h-4.0zM378.0 412.3h2.0v1.4h-2.0zM388.0 412.3h2.0v1.4h-2.0zM364.0 413.6h2.0v1.4h-2.0zM370.0 413.6h2.0v1.4h-2.0zM376.0 413.6h8.0v1.4h-8.0zM358.0 415.0h4.0v1.4h-4.0zM368.0 415.0h2.0v1.4h-2.0zM372.0 415.0h2.0v1.4h-2.0zM382.0 415.0h4.0v1.4h-4.0zM358.0 416.3h2.0v1.4h-2.0zM382.0 416.3h4.0v1.4h-4.0zM362.0 417.7h4.0v1.4h-4.0zM368.0 417.7h2.0v1.4h-2.0zM372.0 417.7h2.0v1.4h-2.0zM388.0 417.7h2.0v1.4h-2.0zM364.0 419.0h2.0v1.4h-2.0zM372.0 419.0h4.0v1.4h-4.0zM378.0 419.0h4.0v1.4h-4.0zM396.0 419.0h2.0v1.4h-2.0zM362.0 420.4h4.0v1.4h-4.0zM372.0 420.4h2.0v1.4h-2.0zM378.0 420.4h2.0v1.4h-2.0zM384.0 420.4h2.0v1.4h-2.0zM396.0 420.4h2.0v1.4h-2.0zM376.0 421.7h2.0v1.4h-2.0zM380.0 421.7h2.0v1.4h-2.0zM372.0 423.1h2.0v1.4h-2.0zM376.0 423.1h2.0v1.4h-2.0zM380.0 423.1h2.0v1.4h-2.0zM400.0 423.1h2.0v1.4h-2.0zM362.0 424.4h2.0v1.4h-2.0zM358.0 427.1h2.0v1.4h-2.0zM368.0 427.1h2.0v1.4h-2.0zM384.0 427.1h2.0v1.4h-2.0zM378.0 428.5h2.0v1.4h-2.0zM382.0 428.5h2.0v1.4h-2.0zM374.0 429.8h4.0v1.4h-4.0zM382.0 429.8h2.0v1.4h-2.0zM374.0 431.2h4.0v1.4h-4.0zM382.0 432.5h2.0v1.4h-2.0zM358.0 433.9h2.0v1.4h-2.0zM372.0 433.9h2.0v1.4h-2.0zM392.0 433.9h2.0v1.4h-2.0zM358.0 435.2h2.0v1.4h-2.0zM366.0 435.2h4.0v1.4h-4.0zM390.0 435.2h4.0v1.4h-4.0zM358.0 436.6h4.0v1.4h-4.0zM370.0 436.6h4.0v1.4h-4.0zM378.0 436.6h4.0v1.4h-4.0zM386.0 436.6h2.0v1.4h-2.0zM392.0 436.6h2.0v1.4h-2.0zM374.0 437.9h4.0v1.4h-4.0zM380.0 437.9h2.0v1.4h-2.0zM362.0 439.3h2.0v1.4h-2.0zM376.0 439.3h6.0v1.4h-6.0zM406.0 439.3h2.0v1.4h-2.0z"/>
<path fill="#4393c3" d="M370.0 367.7h2.0v1.4h-2.0zM374.0 367.7h2.0v1.4h-2.0zM358.0 369.1h8.0v1.4h-8.0zM368.0 369.1h2.0v1.4h-2.0zM372.0 369.1h2.0v1.4h-2.0zM360.0 370.4h14.0v1.4h-14.0zM358.0 371.8h2.0v1.4h-2.0zM364.0 371.8h2.0v1.4h-2.0zM368.0 371.8h8.0v1.4h-8.0zM358.0 373.1h4.0v1.4h-4.0zM370.0 373.1h2.0v1.4h-2.0zM398.0 373.1h4.0v1.4h-4.0zM358.0 374.5h10.0v1.4h-10.0zM358.0 375.8h4.0v1.4h-4.0zM364.0 375.8h2.0v1.4h-2.0zM372.0 375.8h4.0v1.4h-4.0zM390.0 377.2h2.0v1.4h-2.0zM398.0 377.2h2.0v1.4h-2.0zM404.0 377.2h2.0v1.4h-2.0zM410.0 377.2h4.0v1.4h-4.0zM390.0 378.5h4.0v1.4h-4.0zM410.0 378.5h4.0v1.4h-4.0zM366.0 379.9h2.0v1.4h-2.0zM390.0 379.9h2.0v1.4h-2.0zM402.0 379.9h4.0v1.4h-4.0zM410.0 379.9h4.0v1.4h-4.0zM380.0 397.4h2.0v1.4h-2.0zM394.0 397.4h4.0v1.4h-4.0zM410.0 397.4h2.0v1.4h-2.0zM408.0 401.5h4.0v1.4h-4.0zM410.0 402.8h4.0v1.4h-4.0zM410.0 404.2h4.0v1.4h-4.0zM406.0 408.2h8.0v1.4h-8.0zM402.0 413.6h4.0v1.4h-4.0zM398.0 415.0h2.0v1.4h-2.0zM414.0 415.0h2.0v1.4h-2.0zM402.0 427.1h2.0v1.4h-2.0zM414.0 427.1h4.0v1.4h-4.0zM356.0 428.5h2.0v1.4h-2.0z"/>
<path fill="#2166ac" d="M366.0 369.1h2.0v1.4h-2.0zM358.0 370.4h2.0v1.4h-2.0zM376.0 370.4h2.0v1.4h-2.0zM360.0 371.8h4.0v1.4h-4.0zM362.0 373.1h2.0v1.4h-2.0zM372.0 373.1h2.0v1.4h-2.0zM368.0 374.5h6.0v1.4h-6.0zM366.0 375.8h6.0v1.4h-6.0zM366.0 377.2h4.0v1.4h-4.0zM392.0 377.2h2.0v1.4h-2.0zM400.0 377.2h4.0v1.4h-4.0zM368.0 379.9h2.0v1.4h-2.0zM398.0 379.9h4.0v1.4h-4.0zM406.0 405.5h8.0v1.4h-8.0zM406.0 406.9h8.0v1.4h-8.0zM414.0 420.4h2.0v1.4h-2.0z"/>
<path fill="#67001f" d="M378.0 385.3h2.0v1.4h-2.0zM390.0 385.3h2.0v1.4h-2.0zM372.0 386.6h2.0v1.4h-2.0zM390.0 386.6h2.0v1.4h-2.0zM390.0 388.0h2.0v1.4h-2.0zM378.0 390.7h4.0v1.4h-4.0zM390.0 390.7h2.0v1.4h-2.0zM378.0 392.0h2.0v1.4h-2.0zM364.0 393.4h2.0v1.4h-2.0zM368.0 393.4h2.0v1.4h-2.0zM364.0 394.7h6.0v1.4h-6.0zM360.0 410.9h2.0v1.4h-2.0zM374.0 410.9h2.0v1.4h-2.0zM374.0 412.3h2.0v1.4h-2.0zM398.0 423.1h2.0v1.4h-2.0zM376.0 424.4h2.0v1.4h-2.0zM398.0 424.4h2.0v1.4h-2.0zM370.0 427.1h2.0v1.4h-2.0zM374.0 435.2h2.0v1.4h-2.0zM356.0 439.3h2.0v1.4h-2.0zM370.0 439.3h2.0v1.4h-2.0z"/>
<path fill="#b2182b" d="M414.0 385.3h2.0v1.4h-2.0zM378.0 386.6h2.0v1.4h-2.0zM394.0 386.6h2.0v1.4h-2.0zM396.0 388.0h2.0v1.4h-2.0zM390.0 389.3h8.0v1.4h-8.0zM392.0 390.7h2.0v1.4h-2.0zM366.0 392.0h4.0v1.4h-4.0zM380.0 392.0h2.0v1.4h-2.0zM394.0 392.0h2.0v1.4h-2.0zM366.0 393.4h2.0v1.4h-2.0zM374.0 394.7h4.0v1.4h-4.0zM396.0 394.7h2.0v1.4h-2.0zM366.0 396.1h2.0v1.4h-2.0zM366.0 397.4h4.0v1.4h-4.0zM366.0 400.1h4.0v1.4h-4.0zM394.0 404.2h2.0v1.4h-2.0zM382.0 409.6h4.0v1.4h-4.0zM382.0 410.9h4.0v1.4h-4.0zM376.0 412.3h2.0v1.4h-2.0zM382.0 412.3h4.0v1.4h-4.0zM360.0 413.6h2.0v1.4h-2.0zM378.0 415.0h2.0v1.4h-2.0zM366.0 416.3h4.0v1.4h-4.0zM380.0 417.7h2.0v1.4h-2.0zM362.0 421.7h4.0v1.4h-4.0zM398.0 421.7h2.0v1.4h-2.0zM362.0 423.1h4.0v1.4h-4.0zM364.0 424.4h2.0v1.4h-2.0zM400.0 424.4h2.0v1.4h-2.0zM372.0 425.8h4.0v1.4h-4.0zM366.0 427.1h2.0v1.4h-2.0zM378.0 427.1h2.0v1.4h-2.0zM370.0 428.5h8.0v1.4h-8.0zM372.0 429.8h2.0v1.4h-2.0zM378.0 429.8h4.0v1.4h-4.0zM370.0 431.2h4.0v1.4h-4.0zM378.0 431.2h2.0v1.4h-2.0zM386.0 431.2h2.0v1.4h-2.0zM374.0 433.9h4.0v1.4h-4.0zM382.0 433.9h4.0v1.4h-4.0zM384.0 435.2h2.0v1.4h-2.0zM376.0 436.6h2.0v1.4h-2.0zM366.0 437.9h6.0v1.4h-6.0zM354.0 439.3h2.0v1.4h-2.0zM360.0 439.3h2.0v1.4h-2.0z"/>
<path fill="#053061" d="M416.0 385.3h2.0v1.4h-2.0zM406.0 394.7h2.0v1.4h-2.0zM406.0 396.1h4.0v1.4h-4.0z"/>
<path fill="#e2ebf3" d="M412.0 393.4h2.0v1.4h-2.0zM404.0 408.2h2.0v1.4h-2.0z"/>
<path d="M349.5 366.5h5M349.5 427.3h5" stroke="#d2e6cc" stroke-width="0.9" fill="none"/>
<path d="M349.5 370.5h5M349.5 378.5h5M349.5 396.9h5M349.5 403.7h5M349.5 423.3h5M349.5 434.9h5" stroke="#e2cce2" stroke-width="0.9" fill="none"/>
<path d="M349.5 374.1h5M349.5 408.1h5M349.5 415.3h5" stroke="#cfcfd8" stroke-width="0.9" fill="none"/>
<path d="M349.5 381.7h5" stroke="#ece0b8" stroke-width="0.9" fill="none"/>
<path d="M349.5 385.7h5M349.5 388.9h5M349.5 400.5h5M349.5 430.5h5M349.5 439.3h5" stroke="#c8e0e8" stroke-width="0.9" fill="none"/>
<path d="M349.5 392.9h5M349.5 411.3h5M349.5 419.7h5" stroke="#f0d2c4" stroke-width="0.9" fill="none"/>
<path d="M458.8 349.7V346.3H487.2V349.7" fill="none" stroke="#a8a8a8" stroke-width="0.55"/>
<rect x="441" y="357.5" width="64.0" height="7.5" fill="#e0e0e0"/>
<path d="M489.0 364.7V361.7H490.7V364.7M445.2 364.7V360.6H446.9V364.7M494.1 364.7V359.8H495.7V364.7M451.9 364.7V359.1H453.6V364.7M462.1 364.7V358.5H463.7V364.7M489.8 361.7V358.0H492.4V364.7M446.1 360.6V357.5H448.6V364.7M483.9 364.7V357.1H485.6V364.7M470.5 364.7V356.7H472.2V364.7M475.5 364.7V356.3H477.2V364.7M482.3 364.7V355.9H484.8V357.1M458.7 364.7V355.5H460.4V364.7M476.4 356.3V355.2H478.9V364.7M499.1 364.7V354.9H500.8V364.7M452.8 359.1V354.6H455.3V364.7M462.9 358.5V354.3H465.4V364.7M480.6 364.7V354.0H483.5V355.9M443.5 364.7V353.7H447.3V357.5M491.1 358.0V353.4H494.9V359.8M454.1 354.6V353.2H457.0V364.7M468.8 364.7V352.9H471.3V356.7M473.8 364.7V352.7H477.6V355.2M455.5 353.2V352.4H459.5V355.5M497.4 364.7V352.2H499.9V354.9M464.2 354.3V352.0H467.1V364.7M441.8 364.7V351.7H445.4V353.7M482.1 354.0V351.5H487.3V364.7M450.3 364.7V351.3H457.5V352.4M502.5 364.7V351.1H504.2V364.7M484.7 351.5V350.9H493.0V353.4M453.9 351.3V350.7H465.6V352.0M488.8 350.9V350.5H498.7V352.2M459.8 350.7V350.3H470.1V352.9M493.8 350.5V350.1H503.3V351.1M443.6 351.7V349.9H464.9V350.3M475.7 352.7V349.7H498.5V350.1M454.3 349.9V349.5H487.1V349.7" fill="none" stroke="#c8c8c8" stroke-width="0.7"/>
<path d="M505.5 427.9H509.5V430.4H505.5M505.5 433.0H510.6V435.6H505.5M510.6 434.3H511.4V438.1H505.5M505.5 420.2H512.0V422.8H505.5M505.5 399.6H512.5V402.2H505.5M505.5 397.1H513.0V400.9H512.5M505.5 417.6H513.4V421.5H512.0M505.5 407.4H513.8V409.9H505.5M505.5 371.4H514.1V374.0H505.5M513.0 399.0H514.5V404.8H505.5M505.5 376.6H514.8V379.1H505.5M505.5 381.7H515.0V384.2H505.5M513.8 408.6H515.3V412.5H505.5M505.5 394.5H515.6V401.9H514.5M511.4 436.2H515.8V440.7H505.5M509.5 429.2H516.1V438.5H515.8M515.0 383.0H516.3V386.8H505.5M505.5 415.1H516.5V419.5H513.4M514.1 372.7H516.7V377.8H514.8M516.3 384.9H516.9V389.4H505.5M516.9 387.1H517.1V391.9H505.5M516.5 417.3H517.3V425.3H505.5M505.5 368.9H517.5V375.3H516.7M505.5 366.3H517.7V372.1H517.5M515.6 398.2H517.8V410.6H515.3M517.7 369.2H518.0V389.5H517.1M517.8 404.4H518.2V421.3H517.3M518.2 412.8H518.3V433.8H516.1M518.0 379.4H518.5V423.3H518.3" fill="none" stroke="#bfbfbf" stroke-width="0.75"/>
<rect x="441" y="365" width="64.00" height="77.00" fill="#d1e5f0"/>
<path fill="#fddbc7" d="M445.0 365.0h4.0v1.4h-4.0zM453.0 365.0h2.0v1.4h-2.0zM461.0 365.0h4.0v1.4h-4.0zM469.0 365.0h10.0v1.4h-10.0zM485.0 365.0h4.0v1.4h-4.0zM495.0 365.0h2.0v1.4h-2.0zM501.0 365.0h4.0v1.4h-4.0zM445.0 366.4h4.0v1.4h-4.0zM455.0 366.4h2.0v1.4h-2.0zM461.0 366.4h4.0v1.4h-4.0zM469.0 366.4h6.0v1.4h-6.0zM487.0 366.4h2.0v1.4h-2.0zM501.0 366.4h2.0v1.4h-2.0zM441.0 367.7h8.0v1.4h-8.0zM453.0 367.7h4.0v1.4h-4.0zM469.0 367.7h6.0v1.4h-6.0zM477.0 367.7h4.0v1.4h-4.0zM485.0 367.7h4.0v1.4h-4.0zM493.0 367.7h2.0v1.4h-2.0zM441.0 369.1h4.0v1.4h-4.0zM453.0 369.1h6.0v1.4h-6.0zM473.0 369.1h4.0v1.4h-4.0zM489.0 369.1h8.0v1.4h-8.0zM445.0 370.4h2.0v1.4h-2.0zM457.0 370.4h2.0v1.4h-2.0zM463.0 370.4h4.0v1.4h-4.0zM475.0 370.4h2.0v1.4h-2.0zM485.0 370.4h2.0v1.4h-2.0zM445.0 371.8h6.0v1.4h-6.0zM453.0 371.8h2.0v1.4h-2.0zM475.0 371.8h2.0v1.4h-2.0zM485.0 371.8h4.0v1.4h-4.0zM495.0 371.8h6.0v1.4h-6.0zM443.0 373.1h6.0v1.4h-6.0zM451.0 373.1h6.0v1.4h-6.0zM459.0 373.1h2.0v1.4h-2.0zM469.0 373.1h4.0v1.4h-4.0zM487.0 373.1h2.0v1.4h-2.0zM497.0 373.1h4.0v1.4h-4.0zM443.0 374.5h6.0v1.4h-6.0zM453.0 374.5h8.0v1.4h-8.0zM469.0 374.5h4.0v1.4h-4.0zM485.0 374.5h4.0v1.4h-4.0zM491.0 374.5h6.0v1.4h-6.0zM499.0 374.5h4.0v1.4h-4.0zM501.0 375.8h2.0v1.4h-2.0zM441.0 377.2h4.0v1.4h-4.0zM449.0 377.2h4.0v1.4h-4.0zM455.0 377.2h6.0v1.4h-6.0zM489.0 377.2h10.0v1.4h-10.0zM445.0 378.5h2.0v1.4h-2.0zM449.0 378.5h2.0v1.4h-2.0zM457.0 378.5h12.0v1.4h-12.0zM485.0 378.5h2.0v1.4h-2.0zM489.0 378.5h16.0v1.4h-16.0zM449.0 379.9h4.0v1.4h-4.0zM457.0 379.9h2.0v1.4h-2.0zM463.0 379.9h8.0v1.4h-8.0zM485.0 379.9h2.0v1.4h-2.0zM493.0 379.9h12.0v1.4h-12.0zM465.0 381.2h4.0v1.4h-4.0zM473.0 381.2h2.0v1.4h-2.0zM481.0 381.2h4.0v1.4h-4.0zM497.0 381.2h2.0v1.4h-2.0zM501.0 381.2h2.0v1.4h-2.0zM453.0 382.6h4.0v1.4h-4.0zM467.0 382.6h2.0v1.4h-2.0zM475.0 382.6h2.0v1.4h-2.0zM481.0 382.6h4.0v1.4h-4.0zM487.0 382.6h2.0v1.4h-2.0zM493.0 382.6h6.0v1.4h-6.0zM467.0 383.9h2.0v1.4h-2.0zM481.0 383.9h4.0v1.4h-4.0zM489.0 383.9h4.0v1.4h-4.0zM497.0 383.9h6.0v1.4h-6.0zM459.0 385.3h4.0v1.4h-4.0zM485.0 385.3h4.0v1.4h-4.0zM501.0 385.3h4.0v1.4h-4.0zM469.0 386.6h6.0v1.4h-6.0zM493.0 386.6h4.0v1.4h-4.0zM501.0 386.6h4.0v1.4h-4.0zM441.0 388.0h12.0v1.4h-12.0zM455.0 388.0h2.0v1.4h-2.0zM461.0 388.0h2.0v1.4h-2.0zM465.0 388.0h12.0v1.4h-12.0zM481.0 388.0h4.0v1.4h-4.0zM493.0 388.0h2.0v1.4h-2.0zM499.0 388.0h2.0v1.4h-2.0zM441.0 389.3h2.0v1.4h-2.0zM467.0 389.3h2.0v1.4h-2.0zM473.0 389.3h4.0v1.4h-4.0zM489.0 389.3h4.0v1.4h-4.0zM441.0 390.7h8.0v1.4h-8.0zM473.0 390.7h4.0v1.4h-4.0zM489.0 390.7h4.0v1.4h-4.0zM443.0 392.0h2.0v1.4h-2.0zM453.0 392.0h2.0v1.4h-2.0zM469.0 392.0h2.0v1.4h-2.0zM473.0 392.0h4.0v1.4h-4.0zM489.0 392.0h4.0v1.4h-4.0zM445.0 393.4h4.0v1.4h-4.0zM451.0 393.4h2.0v1.4h-2.0zM455.0 393.4h6.0v1.4h-6.0zM463.0 393.4h2.0v1.4h-2.0zM469.0 393.4h4.0v1.4h-4.0zM485.0 393.4h2.0v1.4h-2.0zM497.0 393.4h4.0v1.4h-4.0zM449.0 394.7h12.0v1.4h-12.0zM463.0 394.7h2.0v1.4h-2.0zM467.0 394.7h10.0v1.4h-10.0zM481.0 394.7h8.0v1.4h-8.0zM497.0 394.7h4.0v1.4h-4.0zM441.0 396.1h2.0v1.4h-2.0zM445.0 396.1h2.0v1.4h-2.0zM453.0 396.1h12.0v1.4h-12.0zM467.0 396.1h4.0v1.4h-4.0zM473.0 396.1h4.0v1.4h-4.0zM481.0 396.1h6.0v1.4h-6.0zM499.0 396.1h6.0v1.4h-6.0zM445.0 397.4h4.0v1.4h-4.0zM457.0 397.4h4.0v1.4h-4.0zM463.0 397.4h6.0v1.4h-6.0zM451.0 398.8h10.0v1.4h-10.0zM463.0 398.8h6.0v1.4h-6.0zM451.0 400.1h6.0v1.4h-6.0zM467.0 400.1h2.0v1.4h-2.0zM445.0 401.5h6.0v1.4h-6.0zM497.0 401.5h2.0v1.4h-2.0zM441.0 402.8h4.0v1.4h-4.0zM447.0 402.8h6.0v1.4h-6.0zM461.0 402.8h2.0v1.4h-2.0zM469.0 402.8h4.0v1.4h-4.0zM485.0 402.8h8.0v1.4h-8.0zM499.0 402.8h4.0v1.4h-4.0zM447.0 404.2h2.0v1.4h-2.0zM461.0 404.2h4.0v1.4h-4.0zM471.0 404.2h2.0v1.4h-2.0zM491.0 404.2h4.0v1.4h-4.0zM499.0 404.2h4.0v1.4h-4.0zM441.0 405.5h2.0v1.4h-2.0zM455.0 405.5h4.0v1.4h-4.0zM469.0 405.5h2.0v1.4h-2.0zM483.0 405.5h2.0v1.4h-2.0zM489.0 405.5h10.0v1.4h-10.0zM501.0 405.5h2.0v1.4h-2.0zM455.0 406.9h2.0v1.4h-2.0zM461.0 406.9h2.0v1.4h-2.0zM467.0 406.9h4.0v1.4h-4.0zM489.0 406.9h8.0v1.4h-8.0zM457.0 408.2h2.0v1.4h-2.0zM469.0 408.2h2.0v1.4h-2.0zM449.0 409.6h2.0v1.4h-2.0zM467.0 409.6h2.0v1.4h-2.0zM441.0 410.9h2.0v1.4h-2.0zM445.0 410.9h8.0v1.4h-8.0zM457.0 410.9h2.0v1.4h-2.0zM461.0 410.9h4.0v1.4h-4.0zM469.0 410.9h4.0v1.4h-4.0zM497.0 410.9h2.0v1.4h-2.0zM455.0 412.3h2.0v1.4h-2.0zM461.0 412.3h4.0v1.4h-4.0zM467.0 412.3h4.0v1.4h-4.0zM465.0 413.6h8.0v1.4h-8.0zM501.0 413.6h4.0v1.4h-4.0zM461.0 415.0h12.0v1.4h-12.0zM497.0 415.0h4.0v1.4h-4.0zM441.0 416.3h2.0v1.4h-2.0zM445.0 416.3h4.0v1.4h-4.0zM455.0 416.3h6.0v1.4h-6.0zM463.0 416.3h4.0v1.4h-4.0zM471.0 416.3h2.0v1.4h-2.0zM449.0 417.7h8.0v1.4h-8.0zM459.0 417.7h2.0v1.4h-2.0zM469.0 417.7h4.0v1.4h-4.0zM469.0 419.0h2.0v1.4h-2.0zM441.0 420.4h2.0v1.4h-2.0zM445.0 420.4h8.0v1.4h-8.0zM457.0 420.4h4.0v1.4h-4.0zM467.0 420.4h4.0v1.4h-4.0zM441.0 421.7h4.0v1.4h-4.0zM447.0 421.7h6.0v1.4h-6.0zM459.0 421.7h4.0v1.4h-4.0zM465.0 421.7h2.0v1.4h-2.0zM473.0 421.7h4.0v1.4h-4.0zM497.0 421.7h4.0v1.4h-4.0zM443.0 423.1h8.0v1.4h-8.0zM473.0 423.1h2.0v1.4h-2.0zM503.0 423.1h2.0v1.4h-2.0zM443.0 424.4h2.0v1.4h-2.0zM457.0 424.4h6.0v1.4h-6.0zM465.0 424.4h6.0v1.4h-6.0zM497.0 424.4h2.0v1.4h-2.0zM443.0 425.8h6.0v1.4h-6.0zM453.0 425.8h20.0v1.4h-20.0zM475.0 425.8h4.0v1.4h-4.0zM485.0 425.8h4.0v1.4h-4.0zM453.0 427.1h20.0v1.4h-20.0zM487.0 427.1h2.0v1.4h-2.0zM497.0 427.1h2.0v1.4h-2.0zM445.0 428.5h28.0v1.4h-28.0zM475.0 428.5h2.0v1.4h-2.0zM487.0 428.5h2.0v1.4h-2.0zM445.0 429.8h4.0v1.4h-4.0zM465.0 429.8h8.0v1.4h-8.0zM479.0 429.8h6.0v1.4h-6.0zM445.0 431.2h4.0v1.4h-4.0zM451.0 431.2h2.0v1.4h-2.0zM489.0 431.2h4.0v1.4h-4.0zM495.0 431.2h2.0v1.4h-2.0zM441.0 432.5h4.0v1.4h-4.0zM447.0 432.5h2.0v1.4h-2.0zM469.0 432.5h2.0v1.4h-2.0zM473.0 432.5h12.0v1.4h-12.0zM491.0 432.5h2.0v1.4h-2.0zM449.0 433.9h2.0v1.4h-2.0zM457.0 433.9h2.0v1.4h-2.0zM481.0 433.9h4.0v1.4h-4.0zM491.0 433.9h2.0v1.4h-2.0zM441.0 435.2h2.0v1.4h-2.0zM445.0 435.2h2.0v1.4h-2.0zM451.0 435.2h2.0v1.4h-2.0zM457.0 435.2h2.0v1.4h-2.0zM461.0 435.2h2.0v1.4h-2.0zM483.0 435.2h6.0v1.4h-6.0zM495.0 435.2h2.0v1.4h-2.0zM441.0 436.6h8.0v1.4h-8.0zM457.0 436.6h2.0v1.4h-2.0zM475.0 436.6h2.0v1.4h-2.0zM483.0 436.6h6.0v1.4h-6.0zM441.0 437.9h4.0v1.4h-4.0zM451.0 437.9h8.0v1.4h-8.0zM465.0 437.9h14.0v1.4h-14.0zM485.0 437.9h2.0v1.4h-2.0zM489.0 437.9h2.0v1.4h-2.0zM501.0 437.9h4.0v1.4h-4.0zM461.0 439.3h2.0v1.4h-2.0zM467.0 439.3h4.0v1.4h-4.0zM475.0 439.3h2.0v1.4h-2.0zM485.0 439.3h2.0v1.4h-2.0zM495.0 439.3h4.0v1.4h-4.0zM501.0 439.3h2.0v1.4h-2.0zM457.0 440.6h2.0v1.4h-2.0zM461.0 440.6h4.0v1.4h-4.0zM467.0 440.6h2.0v1.4h-2.0zM485.0 440.6h2.0v1.4h-2.0zM493.0 440.6h6.0v1.4h-6.0z"/>
<path fill="#f4a582" d="M479.0 365.0h2.0v1.4h-2.0zM483.0 365.0h2.0v1.4h-2.0zM483.0 366.4h4.0v1.4h-4.0zM449.0 369.1h2.0v1.4h-2.0zM459.0 369.1h4.0v1.4h-4.0zM469.0 369.1h4.0v1.4h-4.0zM451.0 370.4h2.0v1.4h-2.0zM455.0 370.4h2.0v1.4h-2.0zM451.0 371.8h2.0v1.4h-2.0zM469.0 371.8h4.0v1.4h-4.0zM449.0 373.1h2.0v1.4h-2.0zM467.0 373.1h2.0v1.4h-2.0zM489.0 373.1h8.0v1.4h-8.0zM449.0 374.5h4.0v1.4h-4.0zM465.0 374.5h2.0v1.4h-2.0zM489.0 374.5h2.0v1.4h-2.0zM497.0 374.5h2.0v1.4h-2.0zM489.0 375.8h2.0v1.4h-2.0zM495.0 375.8h2.0v1.4h-2.0zM453.0 377.2h2.0v1.4h-2.0zM465.0 377.2h8.0v1.4h-8.0zM451.0 378.5h2.0v1.4h-2.0zM455.0 378.5h2.0v1.4h-2.0zM471.0 378.5h2.0v1.4h-2.0zM455.0 379.9h2.0v1.4h-2.0zM459.0 379.9h4.0v1.4h-4.0zM471.0 379.9h2.0v1.4h-2.0zM487.0 379.9h6.0v1.4h-6.0zM495.0 381.2h2.0v1.4h-2.0zM469.0 382.6h6.0v1.4h-6.0zM503.0 382.6h2.0v1.4h-2.0zM463.0 383.9h2.0v1.4h-2.0zM469.0 383.9h8.0v1.4h-8.0zM493.0 383.9h2.0v1.4h-2.0zM503.0 383.9h2.0v1.4h-2.0zM451.0 385.3h2.0v1.4h-2.0zM457.0 385.3h2.0v1.4h-2.0zM469.0 385.3h8.0v1.4h-8.0zM451.0 386.6h2.0v1.4h-2.0zM457.0 386.6h8.0v1.4h-8.0zM489.0 386.6h4.0v1.4h-4.0zM489.0 388.0h2.0v1.4h-2.0zM497.0 388.0h2.0v1.4h-2.0zM459.0 389.3h2.0v1.4h-2.0zM465.0 389.3h2.0v1.4h-2.0zM487.0 389.3h2.0v1.4h-2.0zM493.0 389.3h4.0v1.4h-4.0zM465.0 390.7h2.0v1.4h-2.0zM493.0 390.7h4.0v1.4h-4.0zM465.0 392.0h4.0v1.4h-4.0zM495.0 392.0h6.0v1.4h-6.0zM461.0 393.4h2.0v1.4h-2.0zM473.0 393.4h4.0v1.4h-4.0zM461.0 394.7h2.0v1.4h-2.0zM501.0 394.7h4.0v1.4h-4.0zM451.0 397.4h6.0v1.4h-6.0zM461.0 397.4h2.0v1.4h-2.0zM461.0 398.8h2.0v1.4h-2.0zM445.0 400.1h2.0v1.4h-2.0zM449.0 400.1h2.0v1.4h-2.0zM461.0 400.1h2.0v1.4h-2.0zM457.0 401.5h8.0v1.4h-8.0zM469.0 401.5h4.0v1.4h-4.0zM445.0 402.8h2.0v1.4h-2.0zM457.0 402.8h4.0v1.4h-4.0zM463.0 402.8h2.0v1.4h-2.0zM493.0 402.8h2.0v1.4h-2.0zM459.0 404.2h2.0v1.4h-2.0zM445.0 405.5h10.0v1.4h-10.0zM459.0 405.5h10.0v1.4h-10.0zM473.0 405.5h4.0v1.4h-4.0zM447.0 406.9h2.0v1.4h-2.0zM463.0 406.9h4.0v1.4h-4.0zM473.0 406.9h4.0v1.4h-4.0zM447.0 408.2h2.0v1.4h-2.0zM445.0 409.6h2.0v1.4h-2.0zM451.0 409.6h2.0v1.4h-2.0zM453.0 410.9h4.0v1.4h-4.0zM459.0 410.9h2.0v1.4h-2.0zM499.0 410.9h6.0v1.4h-6.0zM457.0 412.3h4.0v1.4h-4.0zM449.0 413.6h16.0v1.4h-16.0zM499.0 413.6h2.0v1.4h-2.0zM445.0 415.0h12.0v1.4h-12.0zM459.0 415.0h2.0v1.4h-2.0zM449.0 416.3h6.0v1.4h-6.0zM461.0 416.3h2.0v1.4h-2.0zM467.0 416.3h2.0v1.4h-2.0zM457.0 417.7h2.0v1.4h-2.0zM461.0 417.7h8.0v1.4h-8.0zM453.0 420.4h4.0v1.4h-4.0zM465.0 420.4h2.0v1.4h-2.0zM471.0 420.4h2.0v1.4h-2.0zM453.0 421.7h6.0v1.4h-6.0zM463.0 421.7h2.0v1.4h-2.0zM469.0 421.7h4.0v1.4h-4.0zM463.0 423.1h2.0v1.4h-2.0zM469.0 423.1h4.0v1.4h-4.0zM445.0 424.4h6.0v1.4h-6.0zM455.0 424.4h2.0v1.4h-2.0zM463.0 424.4h2.0v1.4h-2.0zM471.0 424.4h2.0v1.4h-2.0zM499.0 424.4h2.0v1.4h-2.0zM493.0 425.8h2.0v1.4h-2.0zM449.0 429.8h4.0v1.4h-4.0zM491.0 429.8h2.0v1.4h-2.0zM497.0 429.8h4.0v1.4h-4.0zM497.0 431.2h4.0v1.4h-4.0zM457.0 432.5h2.0v1.4h-2.0zM461.0 432.5h4.0v1.4h-4.0zM449.0 435.2h2.0v1.4h-2.0zM481.0 435.2h2.0v1.4h-2.0zM497.0 435.2h2.0v1.4h-2.0zM463.0 439.3h4.0v1.4h-4.0z"/>
<path fill="#b2182b" d="M481.0 365.0h2.0v1.4h-2.0zM481.0 366.4h2.0v1.4h-2.0zM481.0 367.7h2.0v1.4h-2.0zM465.0 401.5h2.0v1.4h-2.0zM453.0 402.8h4.0v1.4h-4.0zM453.0 404.2h2.0v1.4h-2.0zM457.0 404.2h2.0v1.4h-2.0zM453.0 429.8h4.0v1.4h-4.0zM461.0 429.8h4.0v1.4h-4.0zM459.0 431.2h6.0v1.4h-6.0zM449.0 432.5h6.0v1.4h-6.0zM465.0 432.5h2.0v1.4h-2.0z"/>
<path fill="#f7f7f7" d="M493.0 365.0h2.0v1.4h-2.0zM441.0 366.4h2.0v1.4h-2.0zM453.0 366.4h2.0v1.4h-2.0zM475.0 366.4h2.0v1.4h-2.0zM493.0 366.4h4.0v1.4h-4.0zM503.0 366.4h2.0v1.4h-2.0zM461.0 367.7h4.0v1.4h-4.0zM475.0 367.7h2.0v1.4h-2.0zM495.0 367.7h2.0v1.4h-2.0zM501.0 367.7h2.0v1.4h-2.0zM445.0 369.1h4.0v1.4h-4.0zM451.0 369.1h2.0v1.4h-2.0zM463.0 369.1h6.0v1.4h-6.0zM485.0 369.1h4.0v1.4h-4.0zM501.0 369.1h4.0v1.4h-4.0zM441.0 370.4h4.0v1.4h-4.0zM447.0 370.4h4.0v1.4h-4.0zM453.0 370.4h2.0v1.4h-2.0zM459.0 370.4h4.0v1.4h-4.0zM467.0 370.4h8.0v1.4h-8.0zM477.0 370.4h2.0v1.4h-2.0zM481.0 370.4h4.0v1.4h-4.0zM487.0 370.4h18.0v1.4h-18.0zM441.0 371.8h4.0v1.4h-4.0zM455.0 371.8h6.0v1.4h-6.0zM467.0 371.8h2.0v1.4h-2.0zM473.0 371.8h2.0v1.4h-2.0zM441.0 373.1h2.0v1.4h-2.0zM457.0 373.1h2.0v1.4h-2.0zM461.0 373.1h6.0v1.4h-6.0zM485.0 373.1h2.0v1.4h-2.0zM461.0 374.5h2.0v1.4h-2.0zM473.0 374.5h4.0v1.4h-4.0zM441.0 375.8h38.0v1.4h-38.0zM481.0 375.8h8.0v1.4h-8.0zM491.0 375.8h4.0v1.4h-4.0zM497.0 375.8h4.0v1.4h-4.0zM503.0 375.8h2.0v1.4h-2.0zM445.0 377.2h4.0v1.4h-4.0zM461.0 377.2h4.0v1.4h-4.0zM485.0 377.2h4.0v1.4h-4.0zM499.0 377.2h2.0v1.4h-2.0zM503.0 377.2h2.0v1.4h-2.0zM447.0 378.5h2.0v1.4h-2.0zM469.0 378.5h2.0v1.4h-2.0zM487.0 378.5h2.0v1.4h-2.0zM443.0 381.2h2.0v1.4h-2.0zM455.0 381.2h2.0v1.4h-2.0zM469.0 381.2h4.0v1.4h-4.0zM475.0 381.2h2.0v1.4h-2.0zM485.0 381.2h2.0v1.4h-2.0zM465.0 382.6h2.0v1.4h-2.0zM485.0 382.6h2.0v1.4h-2.0zM489.0 382.6h4.0v1.4h-4.0zM499.0 382.6h4.0v1.4h-4.0zM441.0 383.9h4.0v1.4h-4.0zM453.0 383.9h4.0v1.4h-4.0zM465.0 383.9h2.0v1.4h-2.0zM441.0 385.3h2.0v1.4h-2.0zM445.0 385.3h6.0v1.4h-6.0zM453.0 385.3h4.0v1.4h-4.0zM493.0 385.3h4.0v1.4h-4.0zM499.0 385.3h2.0v1.4h-2.0zM441.0 386.6h2.0v1.4h-2.0zM449.0 386.6h2.0v1.4h-2.0zM453.0 386.6h4.0v1.4h-4.0zM475.0 386.6h2.0v1.4h-2.0zM457.0 388.0h4.0v1.4h-4.0zM495.0 388.0h2.0v1.4h-2.0zM443.0 389.3h2.0v1.4h-2.0zM471.0 389.3h2.0v1.4h-2.0zM503.0 389.3h2.0v1.4h-2.0zM453.0 390.7h2.0v1.4h-2.0zM467.0 390.7h2.0v1.4h-2.0zM503.0 390.7h2.0v1.4h-2.0zM459.0 392.0h2.0v1.4h-2.0zM471.0 392.0h2.0v1.4h-2.0zM485.0 392.0h2.0v1.4h-2.0zM503.0 392.0h2.0v1.4h-2.0zM441.0 393.4h4.0v1.4h-4.0zM453.0 393.4h2.0v1.4h-2.0zM481.0 393.4h4.0v1.4h-4.0zM501.0 393.4h4.0v1.4h-4.0zM443.0 396.1h2.0v1.4h-2.0zM441.0 397.4h4.0v1.4h-4.0zM441.0 400.1h4.0v1.4h-4.0zM465.0 400.1h2.0v1.4h-2.0zM441.0 401.5h4.0v1.4h-4.0zM451.0 401.5h2.0v1.4h-2.0zM483.0 402.8h2.0v1.4h-2.0zM451.0 404.2h2.0v1.4h-2.0zM469.0 404.2h2.0v1.4h-2.0zM443.0 405.5h2.0v1.4h-2.0zM477.0 405.5h2.0v1.4h-2.0zM485.0 405.5h4.0v1.4h-4.0zM499.0 405.5h2.0v1.4h-2.0zM441.0 406.9h6.0v1.4h-6.0zM449.0 406.9h6.0v1.4h-6.0zM477.0 406.9h2.0v1.4h-2.0zM487.0 406.9h2.0v1.4h-2.0zM441.0 408.2h6.0v1.4h-6.0zM449.0 408.2h8.0v1.4h-8.0zM459.0 408.2h2.0v1.4h-2.0zM463.0 408.2h6.0v1.4h-6.0zM471.0 408.2h4.0v1.4h-4.0zM477.0 408.2h8.0v1.4h-8.0zM487.0 408.2h8.0v1.4h-8.0zM497.0 408.2h8.0v1.4h-8.0zM441.0 409.6h2.0v1.4h-2.0zM447.0 409.6h2.0v1.4h-2.0zM453.0 409.6h12.0v1.4h-12.0zM469.0 409.6h4.0v1.4h-4.0zM477.0 409.6h4.0v1.4h-4.0zM493.0 409.6h6.0v1.4h-6.0zM501.0 409.6h2.0v1.4h-2.0zM443.0 410.9h2.0v1.4h-2.0zM449.0 412.3h2.0v1.4h-2.0zM465.0 412.3h2.0v1.4h-2.0zM497.0 412.3h2.0v1.4h-2.0zM441.0 413.6h4.0v1.4h-4.0zM447.0 413.6h2.0v1.4h-2.0zM441.0 415.0h4.0v1.4h-4.0zM443.0 416.3h2.0v1.4h-2.0zM497.0 416.3h6.0v1.4h-6.0zM441.0 417.7h2.0v1.4h-2.0zM445.0 417.7h4.0v1.4h-4.0zM501.0 417.7h4.0v1.4h-4.0zM443.0 419.0h26.0v1.4h-26.0zM471.0 419.0h2.0v1.4h-2.0zM477.0 419.0h2.0v1.4h-2.0zM485.0 419.0h4.0v1.4h-4.0zM495.0 419.0h2.0v1.4h-2.0zM501.0 419.0h4.0v1.4h-4.0zM443.0 420.4h2.0v1.4h-2.0zM503.0 420.4h2.0v1.4h-2.0zM467.0 421.7h2.0v1.4h-2.0zM457.0 423.1h4.0v1.4h-4.0zM465.0 423.1h4.0v1.4h-4.0zM501.0 423.1h2.0v1.4h-2.0zM441.0 424.4h2.0v1.4h-2.0zM501.0 424.4h4.0v1.4h-4.0zM441.0 425.8h2.0v1.4h-2.0zM451.0 425.8h2.0v1.4h-2.0zM495.0 425.8h10.0v1.4h-10.0zM441.0 427.1h2.0v1.4h-2.0zM473.0 427.1h8.0v1.4h-8.0zM499.0 427.1h6.0v1.4h-6.0zM493.0 428.5h10.0v1.4h-10.0zM441.0 429.8h4.0v1.4h-4.0zM493.0 429.8h2.0v1.4h-2.0zM501.0 429.8h2.0v1.4h-2.0zM441.0 431.2h4.0v1.4h-4.0zM479.0 431.2h2.0v1.4h-2.0zM485.0 431.2h4.0v1.4h-4.0zM501.0 431.2h4.0v1.4h-4.0zM445.0 432.5h2.0v1.4h-2.0zM485.0 432.5h6.0v1.4h-6.0zM501.0 432.5h4.0v1.4h-4.0zM441.0 433.9h8.0v1.4h-8.0zM451.0 433.9h6.0v1.4h-6.0zM459.0 433.9h4.0v1.4h-4.0zM465.0 433.9h12.0v1.4h-12.0zM489.0 433.9h2.0v1.4h-2.0zM493.0 433.9h6.0v1.4h-6.0zM501.0 433.9h4.0v1.4h-4.0zM443.0 435.2h2.0v1.4h-2.0zM459.0 435.2h2.0v1.4h-2.0zM473.0 435.2h2.0v1.4h-2.0zM489.0 435.2h2.0v1.4h-2.0zM493.0 435.2h2.0v1.4h-2.0zM499.0 435.2h6.0v1.4h-6.0zM449.0 436.6h4.0v1.4h-4.0zM459.0 436.6h2.0v1.4h-2.0zM473.0 436.6h2.0v1.4h-2.0zM489.0 436.6h2.0v1.4h-2.0zM493.0 436.6h4.0v1.4h-4.0zM499.0 436.6h6.0v1.4h-6.0zM463.0 437.9h2.0v1.4h-2.0zM483.0 437.9h2.0v1.4h-2.0zM441.0 439.3h8.0v1.4h-8.0zM453.0 439.3h2.0v1.4h-2.0zM471.0 439.3h2.0v1.4h-2.0zM477.0 439.3h2.0v1.4h-2.0zM481.0 439.3h4.0v1.4h-4.0zM487.0 439.3h6.0v1.4h-6.0zM503.0 439.3h2.0v1.4h-2.0zM441.0 440.6h2.0v1.4h-2.0zM445.0 440.6h12.0v1.4h-12.0zM469.0 440.6h4.0v1.4h-4.0zM479.0 440.6h2.0v1.4h-2.0zM483.0 440.6h2.0v1.4h-2.0zM487.0 440.6h6.0v1.4h-6.0zM501.0 440.6h2.0v1.4h-2.0z"/>
<path fill="#d6604d" d="M477.0 366.4h4.0v1.4h-4.0zM483.0 367.7h2.0v1.4h-2.0zM489.0 371.8h4.0v1.4h-4.0zM467.0 374.5h2.0v1.4h-2.0zM453.0 378.5h2.0v1.4h-2.0zM453.0 379.9h2.0v1.4h-2.0zM493.0 381.2h2.0v1.4h-2.0zM495.0 383.9h2.0v1.4h-2.0zM489.0 385.3h4.0v1.4h-4.0zM497.0 385.3h2.0v1.4h-2.0zM497.0 386.6h4.0v1.4h-4.0zM453.0 388.0h2.0v1.4h-2.0zM491.0 388.0h2.0v1.4h-2.0zM493.0 392.0h2.0v1.4h-2.0zM449.0 397.4h2.0v1.4h-2.0zM445.0 398.8h6.0v1.4h-6.0zM447.0 400.1h2.0v1.4h-2.0zM463.0 400.1h2.0v1.4h-2.0zM453.0 401.5h4.0v1.4h-4.0zM467.0 401.5h2.0v1.4h-2.0zM465.0 402.8h4.0v1.4h-4.0zM445.0 404.2h2.0v1.4h-2.0zM455.0 404.2h2.0v1.4h-2.0zM465.0 404.2h4.0v1.4h-4.0zM457.0 406.9h4.0v1.4h-4.0zM461.0 408.2h2.0v1.4h-2.0zM445.0 412.3h4.0v1.4h-4.0zM451.0 412.3h4.0v1.4h-4.0zM471.0 412.3h2.0v1.4h-2.0zM497.0 413.6h2.0v1.4h-2.0zM457.0 415.0h2.0v1.4h-2.0zM461.0 420.4h4.0v1.4h-4.0zM451.0 423.1h6.0v1.4h-6.0zM461.0 423.1h2.0v1.4h-2.0zM451.0 424.4h4.0v1.4h-4.0zM457.0 429.8h4.0v1.4h-4.0zM449.0 431.2h2.0v1.4h-2.0zM457.0 431.2h2.0v1.4h-2.0zM465.0 431.2h4.0v1.4h-4.0zM455.0 432.5h2.0v1.4h-2.0zM459.0 432.5h2.0v1.4h-2.0zM467.0 432.5h2.0v1.4h-2.0zM497.0 432.5h4.0v1.4h-4.0z"/>
<path fill="#67001f" d="M491.0 366.4h2.0v1.4h-2.0zM457.0 367.7h2.0v1.4h-2.0zM491.0 367.7h2.0v1.4h-2.0zM489.0 393.4h2.0v1.4h-2.0zM453.0 431.2h4.0v1.4h-4.0z"/>
<path fill="#053061" d="M499.0 366.4h2.0v1.4h-2.0zM499.0 367.7h2.0v1.4h-2.0zM477.0 369.1h6.0v1.4h-6.0zM479.0 370.4h2.0v1.4h-2.0zM479.0 371.8h2.0v1.4h-2.0zM477.0 373.1h8.0v1.4h-8.0zM477.0 374.5h8.0v1.4h-8.0zM479.0 375.8h2.0v1.4h-2.0zM477.0 378.5h4.0v1.4h-4.0zM477.0 381.2h4.0v1.4h-4.0zM477.0 382.6h4.0v1.4h-4.0zM477.0 383.9h4.0v1.4h-4.0zM479.0 385.3h2.0v1.4h-2.0zM477.0 386.6h4.0v1.4h-4.0zM477.0 388.0h2.0v1.4h-2.0zM477.0 389.3h8.0v1.4h-8.0zM483.0 390.7h2.0v1.4h-2.0zM477.0 393.4h4.0v1.4h-4.0zM489.0 394.7h2.0v1.4h-2.0z"/>
<path fill="#2166ac" d="M483.0 369.1h2.0v1.4h-2.0zM481.0 371.8h4.0v1.4h-4.0zM473.0 377.2h2.0v1.4h-2.0zM477.0 379.9h4.0v1.4h-4.0zM477.0 385.3h2.0v1.4h-2.0zM479.0 388.0h2.0v1.4h-2.0zM477.0 390.7h6.0v1.4h-6.0zM461.0 392.0h2.0v1.4h-2.0zM479.0 392.0h6.0v1.4h-6.0zM477.0 394.7h4.0v1.4h-4.0zM477.0 410.9h4.0v1.4h-4.0zM493.0 410.9h4.0v1.4h-4.0zM477.0 412.3h4.0v1.4h-4.0zM495.0 412.3h2.0v1.4h-2.0zM489.0 416.3h2.0v1.4h-2.0zM493.0 420.4h2.0v1.4h-2.0zM487.0 423.1h2.0v1.4h-2.0zM491.0 428.5h2.0v1.4h-2.0z"/>
<path fill="#4393c3" d="M477.0 371.8h2.0v1.4h-2.0zM477.0 377.2h4.0v1.4h-4.0zM477.0 392.0h2.0v1.4h-2.0zM477.0 396.1h4.0v1.4h-4.0zM495.0 396.1h2.0v1.4h-2.0zM487.0 397.4h6.0v1.4h-6.0zM497.0 397.4h2.0v1.4h-2.0zM493.0 400.1h4.0v1.4h-4.0zM475.0 401.5h4.0v1.4h-4.0zM473.0 410.9h2.0v1.4h-2.0zM491.0 410.9h2.0v1.4h-2.0zM493.0 412.3h2.0v1.4h-2.0zM475.0 413.6h6.0v1.4h-6.0zM473.0 415.0h8.0v1.4h-8.0zM491.0 415.0h2.0v1.4h-2.0zM473.0 416.3h8.0v1.4h-8.0zM491.0 416.3h2.0v1.4h-2.0zM477.0 417.7h4.0v1.4h-4.0zM493.0 417.7h4.0v1.4h-4.0zM479.0 419.0h2.0v1.4h-2.0zM477.0 420.4h4.0v1.4h-4.0zM489.0 420.4h2.0v1.4h-2.0zM495.0 420.4h2.0v1.4h-2.0zM485.0 421.7h4.0v1.4h-4.0zM485.0 423.1h2.0v1.4h-2.0zM477.0 424.4h4.0v1.4h-4.0zM485.0 424.4h4.0v1.4h-4.0zM469.0 435.2h4.0v1.4h-4.0zM469.0 436.6h4.0v1.4h-4.0z"/>
<path fill="#ffffff" d="M441.0 374.5h2.0v1.4h-2.0zM441.0 379.9h4.0v1.4h-4.0zM441.0 381.2h2.0v1.4h-2.0zM441.0 382.6h4.0v1.4h-4.0zM443.0 386.6h2.0v1.4h-2.0zM443.0 409.6h2.0v1.4h-2.0zM443.0 427.1h2.0v1.4h-2.0zM443.0 428.5h2.0v1.4h-2.0z"/>
<path fill="#92c5de" d="M481.0 377.2h2.0v1.4h-2.0zM481.0 378.5h2.0v1.4h-2.0zM475.0 379.9h2.0v1.4h-2.0zM481.0 379.9h4.0v1.4h-4.0zM447.0 381.2h6.0v1.4h-6.0zM457.0 381.2h4.0v1.4h-4.0zM447.0 382.6h2.0v1.4h-2.0zM451.0 382.6h2.0v1.4h-2.0zM457.0 382.6h4.0v1.4h-4.0zM451.0 383.9h2.0v1.4h-2.0zM457.0 383.9h2.0v1.4h-2.0zM495.0 393.4h2.0v1.4h-2.0zM493.0 394.7h4.0v1.4h-4.0zM493.0 396.1h2.0v1.4h-2.0zM469.0 397.4h2.0v1.4h-2.0zM473.0 397.4h10.0v1.4h-10.0zM493.0 397.4h4.0v1.4h-4.0zM469.0 398.8h10.0v1.4h-10.0zM483.0 398.8h16.0v1.4h-16.0zM501.0 398.8h4.0v1.4h-4.0zM471.0 400.1h8.0v1.4h-8.0zM497.0 400.1h4.0v1.4h-4.0zM473.0 401.5h2.0v1.4h-2.0zM479.0 401.5h2.0v1.4h-2.0zM473.0 402.8h2.0v1.4h-2.0zM477.0 402.8h4.0v1.4h-4.0zM473.0 404.2h8.0v1.4h-8.0zM473.0 409.6h4.0v1.4h-4.0zM481.0 409.6h12.0v1.4h-12.0zM475.0 410.9h2.0v1.4h-2.0zM483.0 410.9h8.0v1.4h-8.0zM475.0 412.3h2.0v1.4h-2.0zM483.0 412.3h2.0v1.4h-2.0zM487.0 412.3h6.0v1.4h-6.0zM473.0 413.6h2.0v1.4h-2.0zM483.0 413.6h4.0v1.4h-4.0zM489.0 413.6h8.0v1.4h-8.0zM481.0 415.0h10.0v1.4h-10.0zM495.0 415.0h2.0v1.4h-2.0zM481.0 416.3h8.0v1.4h-8.0zM481.0 417.7h8.0v1.4h-8.0zM491.0 417.7h2.0v1.4h-2.0zM499.0 417.7h2.0v1.4h-2.0zM489.0 419.0h2.0v1.4h-2.0zM493.0 419.0h2.0v1.4h-2.0zM473.0 420.4h4.0v1.4h-4.0zM481.0 420.4h8.0v1.4h-8.0zM491.0 420.4h2.0v1.4h-2.0zM477.0 421.7h8.0v1.4h-8.0zM489.0 421.7h8.0v1.4h-8.0zM477.0 423.1h4.0v1.4h-4.0zM483.0 423.1h2.0v1.4h-2.0zM489.0 423.1h8.0v1.4h-8.0zM481.0 424.4h4.0v1.4h-4.0zM489.0 424.4h4.0v1.4h-4.0zM495.0 424.4h2.0v1.4h-2.0zM489.0 425.8h4.0v1.4h-4.0zM489.0 427.1h4.0v1.4h-4.0zM489.0 428.5h2.0v1.4h-2.0zM477.0 435.2h2.0v1.4h-2.0zM477.0 436.6h4.0v1.4h-4.0z"/>
<path d="M435.5 366.5h5M435.5 370.1h5M435.5 428.9h5M435.5 439.7h5" stroke="#c8e0e8" stroke-width="0.9" fill="none"/>
<path d="M435.5 373.7h5M435.5 386.1h5M435.5 400.5h5" stroke="#ece0b8" stroke-width="0.9" fill="none"/>
<path d="M435.5 377.7h5M435.5 390.1h5M435.5 394.1h5" stroke="#d2e6cc" stroke-width="0.9" fill="none"/>
<path d="M435.5 382.1h5M435.5 408.9h5M435.5 420.9h5" stroke="#cfcfd8" stroke-width="0.9" fill="none"/>
<path d="M435.5 397.3h5M435.5 404.5h5M435.5 424.5h5M435.5 433.3h5M435.5 436.5h5" stroke="#f0d2c4" stroke-width="0.9" fill="none"/>
<path d="M435.5 412.5h5M435.5 416.5h5" stroke="#e2cce2" stroke-width="0.9" fill="none"/>
<rect x="13.85" y="498.50" width="200.15" height="0.8" fill="#2a2a2a"/>
<rect x="14.4" y="591.20" width="216.90" height="0.8" fill="#2a2a2a"/>
<rect x="16.3" y="504.2" width="75.2" height="60.2" fill="none" stroke="#dcdcdc" stroke-width="0.6"/>
<rect x="12.7" y="563.9" width="2.6" height="0.9" fill="#c8c8c8"/>
<rect x="12.7" y="553.9" width="2.6" height="0.9" fill="#c8c8c8"/>
<rect x="12.7" y="543.8" width="2.6" height="0.9" fill="#c8c8c8"/>
<rect x="12.7" y="533.8" width="2.6" height="0.9" fill="#c8c8c8"/>
<rect x="12.7" y="523.8" width="2.6" height="0.9" fill="#c8c8c8"/>
<rect x="12.7" y="513.7" width="2.6" height="0.9" fill="#c8c8c8"/>
<rect x="12.7" y="503.7" width="2.6" height="0.9" fill="#c8c8c8"/>
<rect x="15.1" y="565.6" width="2.4" height="0.9" fill="#c8c8c8"/>
<rect x="25.8" y="565.6" width="2.4" height="0.9" fill="#c8c8c8"/>
<rect x="36.6" y="565.6" width="2.4" height="0.9" fill="#c8c8c8"/>
<rect x="47.3" y="565.6" width="2.4" height="0.9" fill="#c8c8c8"/>
<rect x="58.1" y="565.6" width="2.4" height="0.9" fill="#c8c8c8"/>
<rect x="68.8" y="565.6" width="2.4" height="0.9" fill="#c8c8c8"/>
<rect x="79.6" y="565.6" width="2.4" height="0.9" fill="#c8c8c8"/>
<rect x="90.3" y="565.6" width="2.4" height="0.9" fill="#c8c8c8"/>
<rect x="80.0" y="506.7" width="9.5" height="4.2" fill="#fff" stroke="#cfcfcf" stroke-width="0.4"/>
<rect x="81.6" y="507.7" width="5" height="0.7" fill="#9a9a9a"/>
<rect x="81.2" y="509.2" width="6.5" height="0.7" fill="#9a9a9a"/>
<rect x="96.9" y="504.2" width="76.1" height="60.2" fill="none" stroke="#dcdcdc" stroke-width="0.6"/>
<rect x="93.3" y="563.9" width="2.6" height="0.9" fill="#c8c8c8"/>
<rect x="93.3" y="553.9" width="2.6" height="0.9" fill="#c8c8c8"/>
<rect x="93.3" y="543.8" width="2.6" height="0.9" fill="#c8c8c8"/>
<rect x="93.3" y="533.8" width="2.6" height="0.9" fill="#c8c8c8"/>
<rect x="93.3" y="523.8" width="2.6" height="0.9" fill="#c8c8c8"/>
<rect x="93.3" y="513.7" width="2.6" height="0.9" fill="#c8c8c8"/>
<rect x="93.3" y="503.7" width="2.6" height="0.9" fill="#c8c8c8"/>
<rect x="95.7" y="565.6" width="2.4" height="0.9" fill="#c8c8c8"/>
<rect x="106.6" y="565.6" width="2.4" height="0.9" fill="#c8c8c8"/>
<rect x="117.4" y="565.6" width="2.4" height="0.9" fill="#c8c8c8"/>
<rect x="128.3" y="565.6" width="2.4" height="0.9" fill="#c8c8c8"/>
<rect x="139.2" y="565.6" width="2.4" height="0.9" fill="#c8c8c8"/>
<rect x="150.1" y="565.6" width="2.4" height="0.9" fill="#c8c8c8"/>
<rect x="160.9" y="565.6" width="2.4" height="0.9" fill="#c8c8c8"/>
<rect x="171.8" y="565.6" width="2.4" height="0.9" fill="#c8c8c8"/>
<rect x="161.5" y="506.7" width="9.5" height="4.2" fill="#fff" stroke="#cfcfcf" stroke-width="0.4"/>
<rect x="163.1" y="507.7" width="5" height="0.7" fill="#9a9a9a"/>
<rect x="162.7" y="509.2" width="6.5" height="0.7" fill="#9a9a9a"/>
<rect x="178.7" y="504.2" width="76.9" height="60.2" fill="none" stroke="#dcdcdc" stroke-width="0.6"/>
<rect x="175.1" y="563.9" width="2.6" height="0.9" fill="#c8c8c8"/>
<rect x="175.1" y="553.9" width="2.6" height="0.9" fill="#c8c8c8"/>
<rect x="175.1" y="543.8" width="2.6" height="0.9" fill="#c8c8c8"/>
<rect x="175.1" y="533.8" width="2.6" height="0.9" fill="#c8c8c8"/>
<rect x="175.1" y="523.8" width="2.6" height="0.9" fill="#c8c8c8"/>
<rect x="175.1" y="513.7" width="2.6" height="0.9" fill="#c8c8c8"/>
<rect x="175.1" y="503.7" width="2.6" height="0.9" fill="#c8c8c8"/>
<rect x="177.5" y="565.6" width="2.4" height="0.9" fill="#c8c8c8"/>
<rect x="188.5" y="565.6" width="2.4" height="0.9" fill="#c8c8c8"/>
<rect x="199.5" y="565.6" width="2.4" height="0.9" fill="#c8c8c8"/>
<rect x="210.5" y="565.6" width="2.4" height="0.9" fill="#c8c8c8"/>
<rect x="221.4" y="565.6" width="2.4" height="0.9" fill="#c8c8c8"/>
<rect x="232.4" y="565.6" width="2.4" height="0.9" fill="#c8c8c8"/>
<rect x="243.4" y="565.6" width="2.4" height="0.9" fill="#c8c8c8"/>
<rect x="254.4" y="565.6" width="2.4" height="0.9" fill="#c8c8c8"/>
<rect x="244.1" y="506.7" width="9.5" height="4.2" fill="#fff" stroke="#cfcfcf" stroke-width="0.4"/>
<rect x="245.7" y="507.7" width="5" height="0.7" fill="#9a9a9a"/>
<rect x="245.3" y="509.2" width="6.5" height="0.7" fill="#9a9a9a"/>
<rect x="260.7" y="504.2" width="75.8" height="60.2" fill="none" stroke="#dcdcdc" stroke-width="0.6"/>
<rect x="257.1" y="563.9" width="2.6" height="0.9" fill="#c8c8c8"/>
<rect x="257.1" y="553.9" width="2.6" height="0.9" fill="#c8c8c8"/>
<rect x="257.1" y="543.8" width="2.6" height="0.9" fill="#c8c8c8"/>
<rect x="257.1" y="533.8" width="2.6" height="0.9" fill="#c8c8c8"/>
<rect x="257.1" y="523.8" width="2.6" height="0.9" fill="#c8c8c8"/>
<rect x="257.1" y="513.7" width="2.6" height="0.9" fill="#c8c8c8"/>
<rect x="257.1" y="503.7" width="2.6" height="0.9" fill="#c8c8c8"/>
<rect x="259.5" y="565.6" width="2.4" height="0.9" fill="#c8c8c8"/>
<rect x="270.3" y="565.6" width="2.4" height="0.9" fill="#c8c8c8"/>
<rect x="281.2" y="565.6" width="2.4" height="0.9" fill="#c8c8c8"/>
<rect x="292.0" y="565.6" width="2.4" height="0.9" fill="#c8c8c8"/>
<rect x="302.8" y="565.6" width="2.4" height="0.9" fill="#c8c8c8"/>
<rect x="313.6" y="565.6" width="2.4" height="0.9" fill="#c8c8c8"/>
<rect x="324.5" y="565.6" width="2.4" height="0.9" fill="#c8c8c8"/>
<rect x="335.3" y="565.6" width="2.4" height="0.9" fill="#c8c8c8"/>
<rect x="325.0" y="506.7" width="9.5" height="4.2" fill="#fff" stroke="#cfcfcf" stroke-width="0.4"/>
<rect x="326.6" y="507.7" width="5" height="0.7" fill="#9a9a9a"/>
<rect x="326.2" y="509.2" width="6.5" height="0.7" fill="#9a9a9a"/>
<rect x="341.8" y="504.2" width="74.7" height="60.2" fill="none" stroke="#dcdcdc" stroke-width="0.6"/>
<rect x="338.2" y="563.9" width="2.6" height="0.9" fill="#c8c8c8"/>
<rect x="338.2" y="553.9" width="2.6" height="0.9" fill="#c8c8c8"/>
<rect x="338.2" y="543.8" width="2.6" height="0.9" fill="#c8c8c8"/>
<rect x="338.2" y="533.8" width="2.6" height="0.9" fill="#c8c8c8"/>
<rect x="338.2" y="523.8" width="2.6" height="0.9" fill="#c8c8c8"/>
<rect x="338.2" y="513.7" width="2.6" height="0.9" fill="#c8c8c8"/>
<rect x="338.2" y="503.7" width="2.6" height="0.9" fill="#c8c8c8"/>
<rect x="340.6" y="565.6" width="2.4" height="0.9" fill="#c8c8c8"/>
<rect x="351.3" y="565.6" width="2.4" height="0.9" fill="#c8c8c8"/>
<rect x="361.9" y="565.6" width="2.4" height="0.9" fill="#c8c8c8"/>
<rect x="372.6" y="565.6" width="2.4" height="0.9" fill="#c8c8c8"/>
<rect x="383.3" y="565.6" width="2.4" height="0.9" fill="#c8c8c8"/>
<rect x="394.0" y="565.6" width="2.4" height="0.9" fill="#c8c8c8"/>
<rect x="404.6" y="565.6" width="2.4" height="0.9" fill="#c8c8c8"/>
<rect x="415.3" y="565.6" width="2.4" height="0.9" fill="#c8c8c8"/>
<rect x="405.0" y="506.7" width="9.5" height="4.2" fill="#fff" stroke="#cfcfcf" stroke-width="0.4"/>
<rect x="406.6" y="507.7" width="5" height="0.7" fill="#9a9a9a"/>
<rect x="406.2" y="509.2" width="6.5" height="0.7" fill="#9a9a9a"/>
<rect x="425.2" y="504.2" width="76.8" height="60.2" fill="none" stroke="#dcdcdc" stroke-width="0.6"/>
<rect x="421.6" y="563.9" width="2.6" height="0.9" fill="#c8c8c8"/>
<rect x="421.6" y="553.9" width="2.6" height="0.9" fill="#c8c8c8"/>
<rect x="421.6" y="543.8" width="2.6" height="0.9" fill="#c8c8c8"/>
<rect x="421.6" y="533.8" width="2.6" height="0.9" fill="#c8c8c8"/>
<rect x="421.6" y="523.8" width="2.6" height="0.9" fill="#c8c8c8"/>
<rect x="421.6" y="513.7" width="2.6" height="0.9" fill="#c8c8c8"/>
<rect x="421.6" y="503.7" width="2.6" height="0.9" fill="#c8c8c8"/>
<rect x="424.0" y="565.6" width="2.4" height="0.9" fill="#c8c8c8"/>
<rect x="435.0" y="565.6" width="2.4" height="0.9" fill="#c8c8c8"/>
<rect x="445.9" y="565.6" width="2.4" height="0.9" fill="#c8c8c8"/>
<rect x="456.9" y="565.6" width="2.4" height="0.9" fill="#c8c8c8"/>
<rect x="467.9" y="565.6" width="2.4" height="0.9" fill="#c8c8c8"/>
<rect x="478.9" y="565.6" width="2.4" height="0.9" fill="#c8c8c8"/>
<rect x="489.8" y="565.6" width="2.4" height="0.9" fill="#c8c8c8"/>
<rect x="500.8" y="565.6" width="2.4" height="0.9" fill="#c8c8c8"/>
<rect x="490.5" y="506.7" width="9.5" height="4.2" fill="#fff" stroke="#cfcfcf" stroke-width="0.4"/>
<rect x="492.1" y="507.7" width="5" height="0.7" fill="#9a9a9a"/>
<rect x="491.7" y="509.2" width="6.5" height="0.7" fill="#9a9a9a"/>
<rect x="16.3" y="594.5" width="74.1" height="59.5" fill="none" stroke="#dcdcdc" stroke-width="0.6"/>
<rect x="12.7" y="653.5" width="2.6" height="0.9" fill="#c8c8c8"/>
<rect x="12.7" y="643.6" width="2.6" height="0.9" fill="#c8c8c8"/>
<rect x="12.7" y="633.7" width="2.6" height="0.9" fill="#c8c8c8"/>
<rect x="12.7" y="623.8" width="2.6" height="0.9" fill="#c8c8c8"/>
<rect x="12.7" y="613.8" width="2.6" height="0.9" fill="#c8c8c8"/>
<rect x="12.7" y="603.9" width="2.6" height="0.9" fill="#c8c8c8"/>
<rect x="12.7" y="594.0" width="2.6" height="0.9" fill="#c8c8c8"/>
<rect x="15.1" y="655.2" width="2.4" height="0.9" fill="#c8c8c8"/>
<rect x="25.7" y="655.2" width="2.4" height="0.9" fill="#c8c8c8"/>
<rect x="36.3" y="655.2" width="2.4" height="0.9" fill="#c8c8c8"/>
<rect x="46.9" y="655.2" width="2.4" height="0.9" fill="#c8c8c8"/>
<rect x="57.4" y="655.2" width="2.4" height="0.9" fill="#c8c8c8"/>
<rect x="68.0" y="655.2" width="2.4" height="0.9" fill="#c8c8c8"/>
<rect x="78.6" y="655.2" width="2.4" height="0.9" fill="#c8c8c8"/>
<rect x="89.2" y="655.2" width="2.4" height="0.9" fill="#c8c8c8"/>
<rect x="78.9" y="597.0" width="9.5" height="4.2" fill="#fff" stroke="#cfcfcf" stroke-width="0.4"/>
<rect x="80.5" y="598.0" width="5" height="0.7" fill="#9a9a9a"/>
<rect x="80.1" y="599.5" width="6.5" height="0.7" fill="#9a9a9a"/>
<rect x="96.9" y="594.5" width="75.6" height="59.5" fill="none" stroke="#dcdcdc" stroke-width="0.6"/>
<rect x="93.3" y="653.5" width="2.6" height="0.9" fill="#c8c8c8"/>
<rect x="93.3" y="643.6" width="2.6" height="0.9" fill="#c8c8c8"/>
<rect x="93.3" y="633.7" width="2.6" height="0.9" fill="#c8c8c8"/>
<rect x="93.3" y="623.8" width="2.6" height="0.9" fill="#c8c8c8"/>
<rect x="93.3" y="613.8" width="2.6" height="0.9" fill="#c8c8c8"/>
<rect x="93.3" y="603.9" width="2.6" height="0.9" fill="#c8c8c8"/>
<rect x="93.3" y="594.0" width="2.6" height="0.9" fill="#c8c8c8"/>
<rect x="95.7" y="655.2" width="2.4" height="0.9" fill="#c8c8c8"/>
<rect x="106.5" y="655.2" width="2.4" height="0.9" fill="#c8c8c8"/>
<rect x="117.3" y="655.2" width="2.4" height="0.9" fill="#c8c8c8"/>
<rect x="128.1" y="655.2" width="2.4" height="0.9" fill="#c8c8c8"/>
<rect x="138.9" y="655.2" width="2.4" height="0.9" fill="#c8c8c8"/>
<rect x="149.7" y="655.2" width="2.4" height="0.9" fill="#c8c8c8"/>
<rect x="160.5" y="655.2" width="2.4" height="0.9" fill="#c8c8c8"/>
<rect x="171.3" y="655.2" width="2.4" height="0.9" fill="#c8c8c8"/>
<rect x="161.0" y="597.0" width="9.5" height="4.2" fill="#fff" stroke="#cfcfcf" stroke-width="0.4"/>
<rect x="162.6" y="598.0" width="5" height="0.7" fill="#9a9a9a"/>
<rect x="162.2" y="599.5" width="6.5" height="0.7" fill="#9a9a9a"/>
<rect x="180" y="594.5" width="75.4" height="59.5" fill="none" stroke="#dcdcdc" stroke-width="0.6"/>
<rect x="176.4" y="653.5" width="2.6" height="0.9" fill="#c8c8c8"/>
<rect x="176.4" y="643.6" width="2.6" height="0.9" fill="#c8c8c8"/>
<rect x="176.4" y="633.7" width="2.6" height="0.9" fill="#c8c8c8"/>
<rect x="176.4" y="623.8" width="2.6" height="0.9" fill="#c8c8c8"/>
<rect x="176.4" y="613.8" width="2.6" height="0.9" fill="#c8c8c8"/>
<rect x="176.4" y="603.9" width="2.6" height="0.9" fill="#c8c8c8"/>
<rect x="176.4" y="594.0" width="2.6" height="0.9" fill="#c8c8c8"/>
<rect x="178.8" y="655.2" width="2.4" height="0.9" fill="#c8c8c8"/>
<rect x="189.6" y="655.2" width="2.4" height="0.9" fill="#c8c8c8"/>
<rect x="200.3" y="655.2" width="2.4" height="0.9" fill="#c8c8c8"/>
<rect x="211.1" y="655.2" width="2.4" height="0.9" fill="#c8c8c8"/>
<rect x="221.9" y="655.2" width="2.4" height="0.9" fill="#c8c8c8"/>
<rect x="232.7" y="655.2" width="2.4" height="0.9" fill="#c8c8c8"/>
<rect x="243.4" y="655.2" width="2.4" height="0.9" fill="#c8c8c8"/>
<rect x="254.2" y="655.2" width="2.4" height="0.9" fill="#c8c8c8"/>
<rect x="243.9" y="597.0" width="9.5" height="4.2" fill="#fff" stroke="#cfcfcf" stroke-width="0.4"/>
<rect x="245.5" y="598.0" width="5" height="0.7" fill="#9a9a9a"/>
<rect x="245.1" y="599.5" width="6.5" height="0.7" fill="#9a9a9a"/>
<rect x="265.8" y="597" width="26.1" height="3.4" fill="#d4632f"/>
<rect x="265.8" y="606.8" width="26.1" height="3.2" fill="#2f6fb3"/>
</g>
<g><path d="M16.50 563.50C17.42 563.33 20.08 562.80 22.00 562.50C23.92 562.20 25.67 561.95 28.00 561.70C30.33 561.45 33.67 561.32 36.00 561.00C38.33 560.68 40.33 560.10 42.00 559.80C43.67 559.50 44.83 559.08 46.00 559.20C47.17 559.32 48.05 560.07 49.00 560.50C49.95 560.93 50.70 562.05 51.70 561.80C52.70 561.55 53.78 560.97 55.00 559.00C56.22 557.03 57.50 552.70 59.00 550.00C60.50 547.30 62.50 543.83 64.00 542.80C65.50 541.77 66.67 544.77 68.00 543.80C69.33 542.83 70.63 539.80 72.00 537.00C73.37 534.20 74.95 528.00 76.20 527.00C77.45 526.00 78.37 528.00 79.50 531.00C80.63 534.00 81.83 540.50 83.00 545.00C84.17 549.50 85.33 554.92 86.50 558.00C87.67 561.08 89.42 562.58 90.00 563.50" fill="none" stroke="#cf774c" stroke-width="1.25" stroke-linejoin="round"/>
<path d="M51.50 564.00C52.00 562.67 53.52 559.42 54.50 556.00C55.48 552.58 56.65 545.33 57.40 543.50C58.15 541.67 58.32 547.25 59.00 545.00C59.68 542.75 60.70 535.83 61.50 530.00C62.30 524.17 63.12 514.12 63.80 510.00C64.48 505.88 64.98 505.30 65.60 505.30C66.22 505.30 66.85 506.22 67.50 510.00C68.15 513.78 68.87 523.83 69.50 528.00C70.13 532.17 70.63 533.00 71.30 535.00C71.97 537.00 72.72 537.67 73.50 540.00C74.28 542.33 75.08 546.17 76.00 549.00C76.92 551.83 77.75 554.58 79.00 557.00C80.25 559.42 82.75 562.42 83.50 563.50" fill="none" stroke="#477db3" stroke-width="1.25" stroke-linejoin="round"/>
<path d="M112.50 563.80C113.25 563.42 115.27 562.23 117.00 561.50C118.73 560.77 121.23 560.07 122.90 559.40C124.57 558.73 125.48 558.57 127.00 557.50C128.52 556.43 130.17 554.92 132.00 553.00C133.83 551.08 136.00 548.67 138.00 546.00C140.00 543.33 142.17 540.33 144.00 537.00C145.83 533.67 147.67 528.50 149.00 526.00C150.33 523.50 151.10 522.70 152.00 522.00C152.90 521.30 153.57 521.47 154.40 521.80C155.23 522.13 156.07 521.97 157.00 524.00C157.93 526.03 159.00 530.00 160.00 534.00C161.00 538.00 162.00 544.00 163.00 548.00C164.00 552.00 164.77 555.37 166.00 558.00C167.23 560.63 169.67 562.83 170.40 563.80" fill="none" stroke="#cf774c" stroke-width="1.25" stroke-linejoin="round"/>
<path d="M107.00 563.80C107.83 563.33 110.33 562.05 112.00 561.00C113.67 559.95 115.33 558.42 117.00 557.50C118.67 556.58 120.67 555.62 122.00 555.50C123.33 555.38 124.08 556.47 125.00 556.80C125.92 557.13 126.50 558.63 127.50 557.50C128.50 556.37 129.92 552.92 131.00 550.00C132.08 547.08 133.05 542.53 134.00 540.00C134.95 537.47 135.70 537.13 136.70 534.80C137.70 532.47 138.95 528.97 140.00 526.00C141.05 523.03 142.17 519.00 143.00 517.00C143.83 515.00 144.33 514.00 145.00 514.00C145.67 514.00 146.17 514.33 147.00 517.00C147.83 519.67 149.00 525.50 150.00 530.00C151.00 534.50 152.00 539.83 153.00 544.00C154.00 548.17 155.00 552.08 156.00 555.00C157.00 557.92 158.00 560.03 159.00 561.50C160.00 562.97 161.50 563.42 162.00 563.80" fill="none" stroke="#477db3" stroke-width="1.25" stroke-linejoin="round"/>
<path d="M196.00 563.80C197.00 562.67 200.17 559.80 202.00 557.00C203.83 554.20 205.33 550.67 207.00 547.00C208.67 543.33 210.38 537.62 212.00 535.00C213.62 532.38 215.37 532.13 216.70 531.30C218.03 530.47 218.95 530.38 220.00 530.00C221.05 529.62 221.83 530.50 223.00 529.00C224.17 527.50 225.67 524.17 227.00 521.00C228.33 517.83 229.77 512.60 231.00 510.00C232.23 507.40 233.40 505.73 234.40 505.40C235.40 505.07 235.90 504.90 237.00 508.00C238.10 511.10 239.67 518.17 241.00 524.00C242.33 529.83 243.67 537.50 245.00 543.00C246.33 548.50 247.67 553.53 249.00 557.00C250.33 560.47 252.33 562.67 253.00 563.80" fill="none" stroke="#cf774c" stroke-width="1.25" stroke-linejoin="round"/>
<path d="M183.80 563.80C184.83 563.00 187.97 561.63 190.00 559.00C192.03 556.37 194.00 552.33 196.00 548.00C198.00 543.67 200.17 537.08 202.00 533.00C203.83 528.92 205.27 525.57 207.00 523.50C208.73 521.43 210.93 520.97 212.40 520.60C213.87 520.23 214.70 522.07 215.80 521.30C216.90 520.53 217.70 517.93 219.00 516.00C220.30 514.07 222.27 510.20 223.60 509.70C224.93 509.20 225.77 510.12 227.00 513.00C228.23 515.88 229.67 521.83 231.00 527.00C232.33 532.17 233.67 539.00 235.00 544.00C236.33 549.00 237.67 553.70 239.00 557.00C240.33 560.30 242.33 562.67 243.00 563.80" fill="none" stroke="#477db3" stroke-width="1.25" stroke-linejoin="round"/>
<path d="M276.80 563.80C277.67 562.83 280.30 560.80 282.00 558.00C283.70 555.20 285.50 550.33 287.00 547.00C288.50 543.67 289.67 540.62 291.00 538.00C292.33 535.38 293.67 533.63 295.00 531.30C296.33 528.97 297.67 527.05 299.00 524.00C300.33 520.95 301.88 515.38 303.00 513.00C304.12 510.62 304.87 509.70 305.70 509.70C306.53 509.70 307.20 509.95 308.00 513.00C308.80 516.05 309.67 522.67 310.50 528.00C311.33 533.33 312.17 541.03 313.00 545.00C313.83 548.97 314.47 550.63 315.50 551.80C316.53 552.97 318.12 551.63 319.20 552.00C320.28 552.37 320.87 552.67 322.00 554.00C323.13 555.33 324.45 558.37 326.00 560.00C327.55 561.63 330.42 563.17 331.30 563.80" fill="none" stroke="#cf774c" stroke-width="1.25" stroke-linejoin="round"/>
<path d="M263.00 563.80C264.17 563.17 267.67 562.13 270.00 560.00C272.33 557.87 274.83 555.00 277.00 551.00C279.17 547.00 281.17 541.00 283.00 536.00C284.83 531.00 286.58 524.67 288.00 521.00C289.42 517.33 290.48 515.30 291.50 514.00C292.52 512.70 293.18 512.87 294.10 513.20C295.02 513.53 295.85 513.70 297.00 516.00C298.15 518.30 299.50 522.67 301.00 527.00C302.50 531.33 304.33 537.33 306.00 542.00C307.67 546.67 309.50 551.75 311.00 555.00C312.50 558.25 313.58 560.03 315.00 561.50C316.42 562.97 318.75 563.42 319.50 563.80" fill="none" stroke="#477db3" stroke-width="1.25" stroke-linejoin="round"/>
<path d="M354.20 563.80C355.17 563.33 358.03 562.47 360.00 561.00C361.97 559.53 364.00 557.50 366.00 555.00C368.00 552.50 370.00 548.83 372.00 546.00C374.00 543.17 376.00 540.33 378.00 538.00C380.00 535.67 382.20 533.25 384.00 532.00C385.80 530.75 387.30 530.50 388.80 530.50C390.30 530.50 391.47 530.42 393.00 532.00C394.53 533.58 396.33 536.83 398.00 540.00C399.67 543.17 401.33 547.83 403.00 551.00C404.67 554.17 406.03 556.87 408.00 559.00C409.97 561.13 413.67 563.00 414.80 563.80" fill="none" stroke="#cf774c" stroke-width="1.25" stroke-linejoin="round"/>
<path d="M346.40 563.80C347.00 563.33 348.90 562.13 350.00 561.00C351.10 559.87 352.00 558.20 353.00 557.00C354.00 555.80 355.00 554.43 356.00 553.80C357.00 553.17 358.08 553.42 359.00 553.20C359.92 552.98 360.67 553.87 361.50 552.50C362.33 551.13 363.08 549.25 364.00 545.00C364.92 540.75 365.88 532.40 367.00 527.00C368.12 521.60 369.70 514.77 370.70 512.60C371.70 510.43 372.12 512.27 373.00 514.00C373.88 515.73 375.00 519.50 376.00 523.00C377.00 526.50 378.00 531.60 379.00 535.00C380.00 538.40 381.00 541.07 382.00 543.40C383.00 545.73 383.83 546.40 385.00 549.00C386.17 551.60 387.50 556.53 389.00 559.00C390.50 561.47 393.17 563.00 394.00 563.80" fill="none" stroke="#477db3" stroke-width="1.25" stroke-linejoin="round"/>
<path d="M447.20 563.80C448.50 563.42 452.53 562.30 455.00 561.50C457.47 560.70 459.83 560.42 462.00 559.00C464.17 557.58 466.17 556.17 468.00 553.00C469.83 549.83 471.57 544.83 473.00 540.00C474.43 535.17 475.43 527.83 476.60 524.00C477.77 520.17 478.93 519.17 480.00 517.00C481.07 514.83 482.12 512.30 483.00 511.00C483.88 509.70 484.55 509.20 485.30 509.20C486.05 509.20 486.80 508.87 487.50 511.00C488.20 513.13 488.75 517.17 489.50 522.00C490.25 526.83 491.12 535.00 492.00 540.00C492.88 545.00 493.97 548.83 494.80 552.00C495.63 555.17 495.97 557.03 497.00 559.00C498.03 560.97 500.33 563.00 501.00 563.80" fill="none" stroke="#cf774c" stroke-width="1.25" stroke-linejoin="round"/>
<path d="M436.00 563.80C436.83 563.00 439.33 561.63 441.00 559.00C442.67 556.37 444.33 552.17 446.00 548.00C447.67 543.83 449.50 537.67 451.00 534.00C452.50 530.33 453.62 527.75 455.00 526.00C456.38 524.25 457.97 523.33 459.30 523.50C460.63 523.67 461.72 525.42 463.00 527.00C464.28 528.58 465.67 531.33 467.00 533.00C468.33 534.67 469.83 536.00 471.00 537.00C472.17 538.00 473.00 538.17 474.00 539.00C475.00 539.83 475.83 540.33 477.00 542.00C478.17 543.67 479.67 546.50 481.00 549.00C482.33 551.50 483.67 554.83 485.00 557.00C486.33 559.17 487.33 560.87 489.00 562.00C490.67 563.13 494.00 563.50 495.00 563.80" fill="none" stroke="#477db3" stroke-width="1.25" stroke-linejoin="round"/>
<path d="M60.60 653.80C61.08 653.17 62.60 652.30 63.50 650.00C64.40 647.70 65.20 643.67 66.00 640.00C66.80 636.33 67.30 632.40 68.30 628.00C69.30 623.60 70.88 617.60 72.00 613.60C73.12 609.60 74.02 607.07 75.00 604.00C75.98 600.93 77.15 596.20 77.90 595.20C78.65 594.20 79.02 593.87 79.50 598.00C79.98 602.13 80.38 612.17 80.80 620.00C81.22 627.83 81.55 639.37 82.00 645.00C82.45 650.63 83.25 652.33 83.50 653.80" fill="none" stroke="#cf774c" stroke-width="1.25" stroke-linejoin="round"/>
<path d="M24.00 653.80C24.83 653.50 27.50 652.63 29.00 652.00C30.50 651.37 31.58 650.62 33.00 650.00C34.42 649.38 36.17 648.38 37.50 648.30C38.83 648.22 39.88 649.08 41.00 649.50C42.12 649.92 43.03 651.22 44.20 650.80C45.37 650.38 46.87 648.22 48.00 647.00C49.13 645.78 49.70 644.33 51.00 643.50C52.30 642.67 54.47 643.25 55.80 642.00C57.13 640.75 57.97 638.33 59.00 636.00C60.03 633.67 61.10 629.90 62.00 628.00C62.90 626.10 63.57 624.68 64.40 624.60C65.23 624.52 65.90 625.32 67.00 627.50C68.10 629.68 69.50 634.78 71.00 637.70C72.50 640.62 74.50 642.95 76.00 645.00C77.50 647.05 78.57 648.67 80.00 650.00C81.43 651.33 83.35 652.37 84.60 653.00C85.85 653.63 87.02 653.67 87.50 653.80" fill="none" stroke="#477db3" stroke-width="1.25" stroke-linejoin="round"/>
<path d="M101.30 653.80C102.42 653.42 105.72 652.47 108.00 651.50C110.28 650.53 112.42 649.67 115.00 648.00C117.58 646.33 121.00 644.33 123.50 641.50C126.00 638.67 127.92 634.75 130.00 631.00C132.08 627.25 134.05 621.80 136.00 619.00C137.95 616.20 140.03 614.53 141.70 614.20C143.37 613.87 144.45 614.87 146.00 617.00C147.55 619.13 149.17 623.17 151.00 627.00C152.83 630.83 155.00 636.33 157.00 640.00C159.00 643.67 160.90 646.70 163.00 649.00C165.10 651.30 168.50 653.00 169.60 653.80" fill="none" stroke="#cf774c" stroke-width="1.25" stroke-linejoin="round"/>
<path d="M100.40 653.80C101.17 653.33 103.57 652.47 105.00 651.00C106.43 649.53 107.83 646.67 109.00 645.00C110.17 643.33 111.03 641.83 112.00 641.00C112.97 640.17 113.80 639.75 114.80 640.00C115.80 640.25 116.97 641.42 118.00 642.50C119.03 643.58 120.08 645.63 121.00 646.50C121.92 647.37 122.67 648.28 123.50 647.70C124.33 647.12 125.08 645.95 126.00 643.00C126.92 640.05 128.00 634.67 129.00 630.00C130.00 625.33 131.17 618.20 132.00 615.00C132.83 611.80 133.17 611.72 134.00 610.80C134.83 609.88 136.00 610.05 137.00 609.50C138.00 608.95 139.22 608.08 140.00 607.50C140.78 606.92 141.12 605.75 141.70 606.00C142.28 606.25 142.87 606.67 143.50 609.00C144.13 611.33 144.83 615.87 145.50 620.00C146.17 624.13 146.75 629.30 147.50 633.80C148.25 638.30 149.03 643.67 150.00 647.00C150.97 650.33 152.75 652.67 153.30 653.80" fill="none" stroke="#477db3" stroke-width="1.25" stroke-linejoin="round"/>
<path d="M206.30 653.80C206.75 652.83 208.05 650.80 209.00 648.00C209.95 645.20 211.07 639.75 212.00 637.00C212.93 634.25 213.77 631.67 214.60 631.50C215.43 631.33 216.13 634.17 217.00 636.00C217.87 637.83 218.88 642.33 219.80 642.50C220.72 642.67 221.63 640.75 222.50 637.00C223.37 633.25 224.17 625.67 225.00 620.00C225.83 614.33 226.77 606.62 227.50 603.00C228.23 599.38 228.73 598.47 229.40 598.30C230.07 598.13 230.73 598.38 231.50 602.00C232.27 605.62 233.17 613.67 234.00 620.00C234.83 626.33 235.67 634.37 236.50 640.00C237.33 645.63 238.58 651.50 239.00 653.80" fill="none" stroke="#cf774c" stroke-width="1.25" stroke-linejoin="round"/>
<path d="M190.00 653.80C191.00 653.33 193.83 652.63 196.00 651.00C198.17 649.37 200.83 646.67 203.00 644.00C205.17 641.33 207.00 637.83 209.00 635.00C211.00 632.17 213.03 628.95 215.00 627.00C216.97 625.05 218.97 623.30 220.80 623.30C222.63 623.30 224.30 624.88 226.00 627.00C227.70 629.12 229.00 632.78 231.00 636.00C233.00 639.22 235.67 643.72 238.00 646.30C240.33 648.88 242.83 650.28 245.00 651.50C247.17 652.72 249.17 652.93 251.00 653.60C252.83 654.27 255.17 655.18 256.00 655.50" fill="none" stroke="#477db3" stroke-width="1.25" stroke-linejoin="round"/>
<text x="-0.2" y="10.0" font-size="12.4" font-weight="bold">A</text>
<text x="14.8" y="8.6" font-size="8.6">Normal human bone marrow <tspan font-style="italic">CD34</tspan><tspan dy="-3.3" font-size="7">+</tspan><tspan dy="3.3" font-style="italic">CD38</tspan><tspan dy="-3.3" font-size="7">–</tspan></text>
<text x="11.6" y="21.6" font-size="8.0" text-anchor="end" style="stroke-width:0.25px">3</text>
<text x="11.6" y="35.5" font-size="8.0" text-anchor="end" style="stroke-width:0.25px">0</text>
<text x="11.6" y="48.9" font-size="8.0" text-anchor="end" style="stroke-width:0.25px">-3</text>
<text x="26.9" y="26.4" font-size="7.7">Normalized</text>
<text x="26.9" y="35.2" font-size="7.7">mean-centered</text>
<text x="26.9" y="43.9" font-size="7.7">expression values</text>
<text x="115" y="20" font-size="8.4">A</text>
<text x="174.3" y="20" font-size="8.4">B</text>
<text x="0.8" y="162.7" font-size="7.8">Enrichment of genes</text>
<text x="1.5" y="172.4" font-size="8.3" font-style="italic">P</text>
<text x="120.4" y="173.8" font-size="8.4"><tspan font-style="italic">P</tspan> = 1.6&#8201;×&#8201;10<tspan dy="-3.4" font-size="6.3">–5</tspan></text>
<text x="0.4" y="189.6" font-size="12.4" font-weight="bold">B</text>
<text x="14.4" y="199" font-size="8.7">AML CD34<tspan dy="-3.3" font-size="7">+</tspan><tspan dy="3.3">CD38</tspan><tspan dy="-3.3" font-size="7">–</tspan></text>
<text x="11.6" y="210.6" font-size="8.0" text-anchor="end" style="stroke-width:0.25px">3</text>
<text x="11.6" y="224.6" font-size="8.0" text-anchor="end" style="stroke-width:0.25px">0</text>
<text x="11.6" y="239" font-size="8.0" text-anchor="end" style="stroke-width:0.25px">-3</text>
<text x="26" y="215.8" font-size="7.7">Normalized</text>
<text x="26" y="224.6" font-size="7.7">z-scored</text>
<text x="26" y="233.6" font-size="7.7"><tspan font-style="italic">C</tspan><tspan font-size="5.5" dy="1.5">t</tspan><tspan dy="-1.5"> values</tspan></text>
<text x="0.8" y="301.6" font-size="7.8">Sample enrichment</text>
<text x="0.8" y="312" font-size="8.3" font-style="italic">P</text>
<text x="102.9" y="201.7" font-size="8.4">A</text>
<text x="127.9" y="201.7" font-size="8.4">B</text>
<text x="77" y="221" font-size="7.6">a1</text>
<text x="114.4" y="311.5" font-size="8.4"><tspan font-style="italic">P</tspan> = 0.05</text>
<text x="190.8" y="201.7" font-size="8.4">A</text>
<text x="208.5" y="201.7" font-size="8.4">B</text>
<text x="165.8" y="221" font-size="7.6">a2</text>
<text x="202.9" y="311.5" font-size="8.4"><tspan font-style="italic">P</tspan> = 0.00</text>
<text x="273" y="201.7" font-size="8.4">A</text>
<text x="308.7" y="201.7" font-size="8.4">B</text>
<text x="254.8" y="221" font-size="7.6">a3</text>
<text x="291" y="311.5" font-size="8.4"><tspan font-style="italic">P</tspan> = 0.02</text>
<text x="361" y="201.7" font-size="8.4">A</text>
<text x="402" y="201.7" font-size="8.4">B</text>
<text x="344" y="221" font-size="7.6">a4</text>
<text x="379.8" y="311.5" font-size="8.4"><tspan font-style="italic">P</tspan> = 0.01</text>
<text x="448.8" y="201.7" font-size="8.4">A</text>
<text x="488.8" y="201.7" font-size="8.4">B</text>
<text x="431.5" y="221" font-size="7.6">a8</text>
<text x="468" y="311.5" font-size="8.4"><tspan font-style="italic">P</tspan> = 0.01</text>
<text x="15" y="338.3" font-size="8.7">Normal CD34<tspan dy="-3.3" font-size="7">+</tspan><tspan dy="3.3">CD38</tspan><tspan dy="-3.3" font-size="7">–</tspan></text>
<text x="11.4" y="348.8" font-size="8.0" text-anchor="end" style="stroke-width:0.25px">3</text>
<text x="11.4" y="362.7" font-size="8.0" text-anchor="end" style="stroke-width:0.25px">0</text>
<text x="11.4" y="377.3" font-size="8.0" text-anchor="end" style="stroke-width:0.25px">-3</text>
<text x="25" y="353.7" font-size="7.7">Normalized</text>
<text x="25" y="362.7" font-size="7.7">z-scored</text>
<text x="25" y="372.3" font-size="7.7"><tspan font-style="italic">C</tspan><tspan font-size="5.5" dy="1.5">t</tspan><tspan dy="-1.5"> values</tspan></text>
<text x="111.5" y="344.6" font-size="8.4">A</text>
<text x="137.5" y="344.6" font-size="8.4">B</text>
<text x="78" y="363.5" font-size="7.6">n1</text>
<text x="111" y="455.8" font-size="8.4"><tspan font-style="italic">P</tspan> = 0.01</text>
<text x="198" y="344.6" font-size="8.4">A</text>
<text x="224.4" y="344.6" font-size="8.4">B</text>
<text x="165.8" y="363.5" font-size="7.6">n2</text>
<text x="202.8" y="455.8" font-size="8.4"><tspan font-style="italic">P</tspan> = 0.14</text>
<text x="272" y="344.6" font-size="8.4">A</text>
<text x="308.7" y="344.6" font-size="8.4">B</text>
<text x="254.8" y="363.5" font-size="7.6">n3</text>
<text x="292.4" y="455.8" font-size="8.4"><tspan font-style="italic">P</tspan> = 0.04</text>
<text x="366" y="344.6" font-size="8.4">A</text>
<text x="399.6" y="344.6" font-size="8.4">B</text>
<text x="343.8" y="363.5" font-size="7.6">n4</text>
<text x="381" y="455.8" font-size="8.4"><tspan font-style="italic">P</tspan> = 0.13</text>
<text x="456" y="344.6" font-size="8.4">A</text>
<text x="484.4" y="344.6" font-size="8.4">B</text>
<text x="432" y="363.5" font-size="7.6">n5</text>
<text x="468" y="455.8" font-size="8.4"><tspan font-style="italic">P</tspan> = 0.69</text>
<text x="0.8" y="444.6" font-size="7.8">Sample enrichment</text>
<text x="0.8" y="455" font-size="8.3" font-style="italic">P</text>
<text x="0.5" y="474.5" font-size="7.85">Enrichment of Group 1 and 3 gene expression profiles in AML relative to normal samples: <tspan font-weight="bold"><tspan font-style="italic">P</tspan> &lt; 0.037</tspan></text>
<text x="0.0" y="492.3" font-size="12.8" font-weight="bold">C</text>
<text x="13.85" y="497" font-size="8.75">Human LSC-specific self-renewal associated genes</text>
<text x="14.4" y="590" font-size="8.75">Human LSC-specific non-self-renewal associated genes</text>
<text x="18.4" y="515.3" font-size="8.0" font-style="italic" style="stroke-width:0.32px">CD69</text>
<text x="34.6" y="577" font-size="8.5"><tspan font-style="italic">P</tspan> = 0.056</text>
<text x="100.7" y="515.3" font-size="8.0" font-style="italic" style="stroke-width:0.32px">S100A4</text>
<text x="114.2" y="577.2" font-size="8.5"><tspan font-style="italic">P</tspan> = 0.003</text>
<text x="183" y="515.3" font-size="8.0" font-style="italic" style="stroke-width:0.32px">MYB</text>
<text x="196.8" y="577.2" font-size="8.5"><tspan font-style="italic">P</tspan> = 0.0005</text>
<text x="263.8" y="515.3" font-size="8.0" font-style="italic" style="stroke-width:0.32px">ADA</text>
<text x="275.6" y="577.2" font-size="8.5"><tspan font-style="italic">P</tspan> = 0.0004</text>
<text x="346" y="515.3" font-size="8.0" font-style="italic" style="stroke-width:0.32px">MRI1</text>
<text x="356.8" y="577.2" font-size="8.4"><tspan font-style="italic">P</tspan> = 6.8&#8201;×&#8201;10<tspan dy="-3.4" font-size="6.3">–6</tspan></text>
<text x="428.7" y="515.3" font-size="8.0" font-style="italic" style="stroke-width:0.32px">CKS2</text>
<text x="438.5" y="577.2" font-size="8.4"><tspan font-style="italic">P</tspan> = 7.8&#8201;×&#8201;10<tspan dy="-3.4" font-size="6.3">–8</tspan></text>
<text x="18.3" y="603.5" font-size="8.0" font-style="italic" style="stroke-width:0.32px">H2AFZ</text>
<text x="34.6" y="666.2" font-size="8.5"><tspan font-style="italic">P</tspan> = 0.044</text>
<text x="100.4" y="603.5" font-size="8.0" font-style="italic" style="stroke-width:0.32px">BCL2A1D</text>
<text x="113.8" y="666.2" font-size="8.5"><tspan font-style="italic">P</tspan> = 0.0039</text>
<text x="182.7" y="603.5" font-size="8.0" font-style="italic" style="stroke-width:0.32px">CD36</text>
<text x="191" y="666.2" font-size="8.4"><tspan font-style="italic">P</tspan> = 5.9&#8201;×&#8201;10<tspan dy="-3.4" font-size="6.3">–9</tspan></text>
<text x="294.2" y="601.6" font-size="7.6">AML</text>
<text x="294.2" y="610.4" font-size="7.6">Normal</text></g>
</svg></div></body></html>
